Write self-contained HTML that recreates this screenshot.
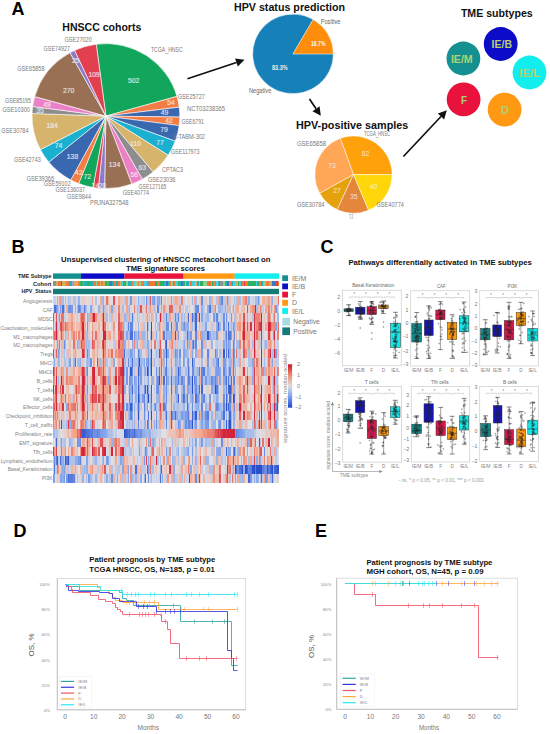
<!DOCTYPE html>
<html><head><meta charset="utf-8"><style>
html,body{margin:0;padding:0;background:#fff;}
svg{display:block;font-family:"Liberation Sans", sans-serif;}
</style></head><body>
<svg width="550" height="734" viewBox="0 0 550 734">
<rect width="550" height="734" fill="#fff"/>
<text x="11.50" y="15.20" font-size="18" fill="#000" font-weight="bold">A</text>
<text x="11.50" y="252.50" font-size="18" fill="#000" font-weight="bold">B</text>
<text x="320.50" y="253.20" font-size="18" fill="#000" font-weight="bold">C</text>
<text x="13.50" y="536.80" font-size="18" fill="#000" font-weight="bold">D</text>
<text x="315.00" y="536.80" font-size="18" fill="#000" font-weight="bold">E</text>
<text x="62.30" y="31.00" font-size="10.7" fill="#111" font-weight="bold" textLength="79.00" lengthAdjust="spacingAndGlyphs">HNSCC cohorts</text>
<path d="M105.90,116.10L177.01,96.38A73.9,72.5 0 0 0 96.25,44.22Z" fill="#12a65c" stroke="#fff" stroke-width="0.6" stroke-linejoin="round"/>
<path d="M105.90,116.10L179.23,107.14A73.9,72.5 0 0 0 177.01,96.38Z" fill="#f47c45" stroke="#fff" stroke-width="0.6" stroke-linejoin="round"/>
<path d="M105.90,116.10L179.79,117.09A73.9,72.5 0 0 0 179.23,107.14Z" fill="#3a68b0" stroke="#fff" stroke-width="0.6" stroke-linejoin="round"/>
<path d="M105.90,116.10L179.16,125.61A73.9,72.5 0 0 0 179.79,117.09Z" fill="#f47c45" stroke="#fff" stroke-width="0.6" stroke-linejoin="round"/>
<path d="M105.90,116.10L175.23,141.19A73.9,72.5 0 0 0 179.16,125.61Z" fill="#3a68b0" stroke="#fff" stroke-width="0.6" stroke-linejoin="round"/>
<path d="M105.90,116.10L168.13,155.20A73.9,72.5 0 0 0 175.23,141.19Z" fill="#1ab0d0" stroke="#fff" stroke-width="0.6" stroke-linejoin="round"/>
<path d="M105.90,116.10L153.08,171.90A73.9,72.5 0 0 0 168.13,155.20Z" fill="#d6b46c" stroke="#fff" stroke-width="0.6" stroke-linejoin="round"/>
<path d="M105.90,116.10L142.33,179.18A73.9,72.5 0 0 0 153.08,171.90Z" fill="#8d8d8d" stroke="#fff" stroke-width="0.6" stroke-linejoin="round"/>
<path d="M105.90,116.10L131.82,184.00A73.9,72.5 0 0 0 142.33,179.18Z" fill="#ec80c6" stroke="#fff" stroke-width="0.6" stroke-linejoin="round"/>
<path d="M105.90,116.10L104.58,188.59A73.9,72.5 0 0 0 131.82,184.00Z" fill="#9a7055" stroke="#fff" stroke-width="0.6" stroke-linejoin="round"/>
<path d="M105.90,116.10L98.37,188.22A73.9,72.5 0 0 0 104.58,188.59Z" fill="#8c7ac8" stroke="#fff" stroke-width="0.6" stroke-linejoin="round"/>
<path d="M105.90,116.10L93.02,187.49A73.9,72.5 0 0 0 98.37,188.22Z" fill="#e2404e" stroke="#fff" stroke-width="0.6" stroke-linejoin="round"/>
<path d="M105.90,116.10L78.68,183.50A73.9,72.5 0 0 0 93.02,187.49Z" fill="#12a65c" stroke="#fff" stroke-width="0.6" stroke-linejoin="round"/>
<path d="M105.90,116.10L70.78,179.89A73.9,72.5 0 0 0 78.68,183.50Z" fill="#f47c45" stroke="#fff" stroke-width="0.6" stroke-linejoin="round"/>
<path d="M105.90,116.10L48.82,162.15A73.9,72.5 0 0 0 70.78,179.89Z" fill="#3a68b0" stroke="#fff" stroke-width="0.6" stroke-linejoin="round"/>
<path d="M105.90,116.10L40.37,149.61A73.9,72.5 0 0 0 48.82,162.15Z" fill="#1ab0d0" stroke="#fff" stroke-width="0.6" stroke-linejoin="round"/>
<path d="M105.90,116.10L32.05,113.48A73.9,72.5 0 0 0 40.37,149.61Z" fill="#d6b46c" stroke="#fff" stroke-width="0.6" stroke-linejoin="round"/>
<path d="M105.90,116.10L32.67,106.38A73.9,72.5 0 0 0 32.05,113.48Z" fill="#8d8d8d" stroke="#fff" stroke-width="0.6" stroke-linejoin="round"/>
<path d="M105.90,116.10L34.72,96.62A73.9,72.5 0 0 0 32.67,106.38Z" fill="#ec80c6" stroke="#fff" stroke-width="0.6" stroke-linejoin="round"/>
<path d="M105.90,116.10L70.01,52.72A73.9,72.5 0 0 0 34.72,96.62Z" fill="#9a7055" stroke="#fff" stroke-width="0.6" stroke-linejoin="round"/>
<path d="M105.90,116.10L74.63,50.41A73.9,72.5 0 0 0 70.01,52.72Z" fill="#8c7ac8" stroke="#fff" stroke-width="0.6" stroke-linejoin="round"/>
<path d="M105.90,116.10L96.25,44.22A73.9,72.5 0 0 0 74.63,50.41Z" fill="#e2404e" stroke="#fff" stroke-width="0.6" stroke-linejoin="round"/>
<text x="133.70" y="82.70" font-size="6.8" fill="#f4f4f4" text-anchor="middle" opacity="0.85" stroke="#f4f4f4" stroke-width="0.15">502</text>
<text x="171.00" y="105.10" font-size="6.8" fill="#f4f4f4" text-anchor="middle" opacity="0.85" stroke="#f4f4f4" stroke-width="0.15">54</text>
<text x="164.50" y="115.40" font-size="6.8" fill="#f4f4f4" text-anchor="middle" opacity="0.85" stroke="#f4f4f4" stroke-width="0.15">49</text>
<text x="169.00" y="123.40" font-size="6.8" fill="#f4f4f4" text-anchor="middle" opacity="0.85" stroke="#f4f4f4" stroke-width="0.15">42</text>
<text x="164.00" y="132.40" font-size="6.8" fill="#f4f4f4" text-anchor="middle" opacity="0.85" stroke="#f4f4f4" stroke-width="0.15">79</text>
<text x="160.00" y="145.40" font-size="6.8" fill="#f4f4f4" text-anchor="middle" opacity="0.85" stroke="#f4f4f4" stroke-width="0.15">77</text>
<text x="135.50" y="146.00" font-size="6.8" fill="#f4f4f4" text-anchor="middle" opacity="0.85" stroke="#f4f4f4" stroke-width="0.15">110</text>
<text x="142.20" y="169.70" font-size="6.8" fill="#f4f4f4" text-anchor="middle" opacity="0.85" stroke="#f4f4f4" stroke-width="0.15">63</text>
<text x="134.20" y="176.90" font-size="6.8" fill="#f4f4f4" text-anchor="middle" opacity="0.85" stroke="#f4f4f4" stroke-width="0.15">56</text>
<text x="114.50" y="166.90" font-size="6.8" fill="#f4f4f4" text-anchor="middle" opacity="0.85" stroke="#f4f4f4" stroke-width="0.15">134</text>
<text x="102.30" y="188.40" font-size="6.8" fill="#f4f4f4" text-anchor="middle" opacity="0.85" stroke="#f4f4f4" stroke-width="0.15">28</text>
<text x="95.40" y="188.40" font-size="6.8" fill="#f4f4f4" text-anchor="middle" opacity="0.85" stroke="#f4f4f4" stroke-width="0.15">24</text>
<text x="87.30" y="179.20" font-size="6.8" fill="#f4f4f4" text-anchor="middle" opacity="0.85" stroke="#f4f4f4" stroke-width="0.15">72</text>
<text x="78.90" y="174.90" font-size="6.8" fill="#f4f4f4" text-anchor="middle" opacity="0.85" stroke="#f4f4f4" stroke-width="0.15">42</text>
<text x="72.50" y="158.90" font-size="6.8" fill="#f4f4f4" text-anchor="middle" opacity="0.85" stroke="#f4f4f4" stroke-width="0.15">138</text>
<text x="58.50" y="148.20" font-size="6.8" fill="#f4f4f4" text-anchor="middle" opacity="0.85" stroke="#f4f4f4" stroke-width="0.15">74</text>
<text x="52.20" y="127.80" font-size="6.8" fill="#f4f4f4" text-anchor="middle" opacity="0.85" stroke="#f4f4f4" stroke-width="0.15">184</text>
<text x="40.00" y="112.60" font-size="6.8" fill="#f4f4f4" text-anchor="middle" opacity="0.85" stroke="#f4f4f4" stroke-width="0.15">35</text>
<text x="47.00" y="106.70" font-size="6.8" fill="#f4f4f4" text-anchor="middle" opacity="0.85" stroke="#f4f4f4" stroke-width="0.15">49</text>
<text x="68.70" y="92.70" font-size="6.8" fill="#f4f4f4" text-anchor="middle" opacity="0.85" stroke="#f4f4f4" stroke-width="0.15">270</text>
<text x="75.80" y="63.40" font-size="6.8" fill="#f4f4f4" text-anchor="middle" opacity="0.85" stroke="#f4f4f4" stroke-width="0.15">25</text>
<text x="94.10" y="77.40" font-size="6.8" fill="#f4f4f4" text-anchor="middle" opacity="0.85" stroke="#f4f4f4" stroke-width="0.15">109</text>
<text x="64.50" y="41.80" font-size="6.6" fill="#7a7a7a" textLength="27.30" lengthAdjust="spacingAndGlyphs">GSE27020</text>
<text x="43.60" y="51.00" font-size="6.6" fill="#7a7a7a" textLength="26.40" lengthAdjust="spacingAndGlyphs">GSE74927</text>
<text x="17.30" y="71.00" font-size="6.6" fill="#7a7a7a" textLength="27.20" lengthAdjust="spacingAndGlyphs">GSE65858</text>
<text x="5.00" y="102.80" font-size="6.6" fill="#7a7a7a" textLength="26.00" lengthAdjust="spacingAndGlyphs">GSE85195</text>
<text x="2.50" y="112.30" font-size="6.6" fill="#7a7a7a" textLength="27.50" lengthAdjust="spacingAndGlyphs">GSE10300</text>
<text x="1.30" y="133.30" font-size="6.6" fill="#7a7a7a" textLength="27.20" lengthAdjust="spacingAndGlyphs">GSE30784</text>
<text x="14.00" y="162.30" font-size="6.6" fill="#7a7a7a" textLength="26.70" lengthAdjust="spacingAndGlyphs">GSE42743</text>
<text x="26.70" y="181.30" font-size="6.6" fill="#7a7a7a" textLength="27.30" lengthAdjust="spacingAndGlyphs">GSE39366</text>
<text x="43.80" y="186.30" font-size="6.6" fill="#7a7a7a" textLength="26.90" lengthAdjust="spacingAndGlyphs">GSE59102</text>
<text x="55.50" y="192.30" font-size="6.6" fill="#7a7a7a" textLength="29.50" lengthAdjust="spacingAndGlyphs">GSE136037</text>
<text x="67.00" y="199.30" font-size="6.6" fill="#7a7a7a" textLength="24.00" lengthAdjust="spacingAndGlyphs">GSE9844</text>
<text x="90.00" y="204.80" font-size="6.6" fill="#7a7a7a" textLength="38.50" lengthAdjust="spacingAndGlyphs">PRJNA327548</text>
<text x="150.90" y="51.90" font-size="6.6" fill="#7a7a7a" textLength="31.90" lengthAdjust="spacingAndGlyphs">TCGA_HNSC</text>
<text x="177.80" y="99.00" font-size="6.6" fill="#7a7a7a" textLength="27.00" lengthAdjust="spacingAndGlyphs">GSE25727</text>
<text x="187.00" y="111.30" font-size="6.6" fill="#7a7a7a" textLength="38.00" lengthAdjust="spacingAndGlyphs">NCT03238365</text>
<text x="181.50" y="123.60" font-size="6.6" fill="#7a7a7a" textLength="22.50" lengthAdjust="spacingAndGlyphs">GSE6791</text>
<text x="173.00" y="139.00" font-size="6.6" fill="#7a7a7a" textLength="32.00" lengthAdjust="spacingAndGlyphs">E-TABM-302</text>
<text x="171.00" y="154.30" font-size="6.6" fill="#7a7a7a" textLength="28.40" lengthAdjust="spacingAndGlyphs">GSE117973</text>
<text x="162.00" y="171.70" font-size="6.6" fill="#7a7a7a" textLength="21.00" lengthAdjust="spacingAndGlyphs">CPTAC3</text>
<text x="148.00" y="181.50" font-size="6.6" fill="#7a7a7a" textLength="27.40" lengthAdjust="spacingAndGlyphs">GSE23036</text>
<text x="138.60" y="189.30" font-size="6.6" fill="#7a7a7a" textLength="27.70" lengthAdjust="spacingAndGlyphs">GSE127165</text>
<text x="122.70" y="195.00" font-size="6.6" fill="#7a7a7a" textLength="26.30" lengthAdjust="spacingAndGlyphs">GSE40774</text>
<line x1="187.5" y1="78.8" x2="236.44" y2="62.49" stroke="#111" stroke-width="1.7"/><path d="M244.5,59.8L237.80,66.57L235.08,58.41Z" fill="#111"/>
<line x1="309.5" y1="99.0" x2="316.06" y2="108.75" stroke="#111" stroke-width="1.7"/><path d="M320.8,115.8L312.49,111.15L319.62,106.35Z" fill="#111"/>
<line x1="403.4" y1="156.5" x2="440.98" y2="116.50" stroke="#111" stroke-width="1.7"/><path d="M446.8,110.3L444.11,119.44L437.85,113.55Z" fill="#111"/>
<text x="234.00" y="11.10" font-size="10.7" fill="#111" font-weight="bold" textLength="111.00" lengthAdjust="spacingAndGlyphs">HPV status prediction</text>
<path d="M293.00,53.90L313.15,19.52A40.3,39.7 0 1 0 333.30,53.90Z" fill="#1680b8" stroke="#fff" stroke-width="0.4" stroke-linejoin="round"/>
<path d="M293.00,53.90L333.30,53.90A40.3,39.7 0 0 0 313.15,19.52Z" fill="#ff8c0a" stroke="#fff" stroke-width="0.4" stroke-linejoin="round"/>
<text x="320.70" y="24.00" font-size="6.6" fill="#666" textLength="19.80" lengthAdjust="spacingAndGlyphs">Positive</text>
<text x="311.00" y="45.80" font-size="6.4" fill="#f8f8f8" font-weight="bold" textLength="14.40" lengthAdjust="spacingAndGlyphs">16.7%</text>
<text x="272.00" y="69.70" font-size="6.4" fill="#eeeeee" font-weight="bold" textLength="15.60" lengthAdjust="spacingAndGlyphs">83.3%</text>
<text x="249.00" y="92.90" font-size="6.6" fill="#666" textLength="22.30" lengthAdjust="spacingAndGlyphs">Negative</text>
<text x="296.00" y="128.50" font-size="10.7" fill="#111" font-weight="bold" textLength="112.30" lengthAdjust="spacingAndGlyphs">HPV-positive samples</text>
<path d="M353.50,174.60L392.10,174.60A38.6,38.6 0 0 0 340.30,138.33Z" fill="#ffa10a" stroke="#fff" stroke-width="0.5" stroke-linejoin="round"/>
<path d="M353.50,174.60L340.30,138.33A38.6,38.6 0 0 0 319.74,193.31Z" fill="#ffa657" stroke="#fff" stroke-width="0.5" stroke-linejoin="round"/>
<path d="M353.50,174.60L319.74,193.31A38.6,38.6 0 0 0 337.19,209.58Z" fill="#e6a20c" stroke="#fff" stroke-width="0.5" stroke-linejoin="round"/>
<path d="M353.50,174.60L337.19,209.58A38.6,38.6 0 0 0 368.58,210.13Z" fill="#e4873a" stroke="#fff" stroke-width="0.5" stroke-linejoin="round"/>
<path d="M353.50,174.60L368.58,210.13A38.6,38.6 0 0 0 392.10,174.60Z" fill="#ffd60a" stroke="#fff" stroke-width="0.5" stroke-linejoin="round"/>
<text x="365.50" y="156.40" font-size="6.8" fill="#f6f6f6" text-anchor="middle" opacity="0.8">82</text>
<text x="332.00" y="167.90" font-size="6.8" fill="#f6f6f6" text-anchor="middle" opacity="0.8">73</text>
<text x="337.00" y="192.90" font-size="6.8" fill="#f6f6f6" text-anchor="middle" opacity="0.8">27</text>
<text x="353.70" y="199.20" font-size="6.8" fill="#f6f6f6" text-anchor="middle" opacity="0.8">35</text>
<text x="373.60" y="189.10" font-size="6.8" fill="#f6f6f6" text-anchor="middle" opacity="0.8">40</text>
<text x="364.00" y="135.70" font-size="6.6" fill="#7a7a7a" textLength="26.00" lengthAdjust="spacingAndGlyphs">TCGA_HNSC</text>
<text x="297.00" y="146.00" font-size="6.6" fill="#7a7a7a" textLength="29.00" lengthAdjust="spacingAndGlyphs">GSE65858</text>
<text x="297.00" y="207.40" font-size="6.6" fill="#7a7a7a" textLength="27.50" lengthAdjust="spacingAndGlyphs">GSE30784</text>
<text x="349.00" y="219.10" font-size="6.6" fill="#7a7a7a" textLength="4.00" lengthAdjust="spacingAndGlyphs">TJ</text>
<text x="376.40" y="207.40" font-size="6.6" fill="#7a7a7a" textLength="27.60" lengthAdjust="spacingAndGlyphs">GSE40774</text>
<text x="460.90" y="16.70" font-size="10.7" fill="#111" font-weight="bold" textLength="71.80" lengthAdjust="spacingAndGlyphs">TME subtypes</text>
<circle cx="463.4" cy="58.5" r="16.9" fill="#13908f"/>
<text x="450.90" y="62.95" font-size="11" fill="#b2d072" font-weight="bold" textLength="21.80" lengthAdjust="spacingAndGlyphs">IE/M</text>
<circle cx="500.7" cy="44" r="16.9" fill="#0c0cc8"/>
<text x="491.60" y="47.65" font-size="11" fill="#b2d072" font-weight="bold" textLength="20.40" lengthAdjust="spacingAndGlyphs">IE/B</text>
<circle cx="529.5" cy="72.5" r="16.9" fill="#12eeee"/>
<text x="519.30" y="76.75" font-size="11" fill="#b2d072" font-weight="bold" textLength="20.40" lengthAdjust="spacingAndGlyphs">IE/L</text>
<circle cx="463.6" cy="99.4" r="16.9" fill="#e8123c"/>
<text x="461.00" y="103.95" font-size="11" fill="#b2d072" font-weight="bold" textLength="6.00" lengthAdjust="spacingAndGlyphs">F</text>
<circle cx="504.6" cy="109.6" r="16.9" fill="#ff9812"/>
<text x="501.00" y="113.95" font-size="11" fill="#b2d072" font-weight="bold" textLength="8.00" lengthAdjust="spacingAndGlyphs">D</text>
<text x="61.10" y="261.50" font-size="7.7" fill="#111" font-weight="bold" textLength="209.40" lengthAdjust="spacingAndGlyphs">Unsupervised clustering of HNSCC metacohort based on</text>
<text x="126.00" y="270.50" font-size="7.7" fill="#111" font-weight="bold" textLength="79.00" lengthAdjust="spacingAndGlyphs">TME signature scores</text>
<rect x="53" y="273.4" width="28.05" height="5.4" fill="#13908f"/>
<rect x="81" y="273.4" width="43.45" height="5.4" fill="#0c0cc8"/>
<rect x="124.4" y="273.4" width="59.25" height="5.4" fill="#e8123c"/>
<rect x="183.6" y="273.4" width="51.15" height="5.4" fill="#ff9812"/>
<rect x="234.7" y="273.4" width="44.35" height="5.4" fill="#12eeee"/>
<rect x="53.00" y="281.0" width="3.05" height="5.3" fill="#909090" shape-rendering="crispEdges"/><rect x="56.00" y="281.0" width="2.05" height="5.3" fill="#c8b060" shape-rendering="crispEdges"/><rect x="58.00" y="281.0" width="3.05" height="5.3" fill="#f07a3a" shape-rendering="crispEdges"/><rect x="61.00" y="281.0" width="1.05" height="5.3" fill="#3a78c0" shape-rendering="crispEdges"/><rect x="62.00" y="281.0" width="3.05" height="5.3" fill="#c8b060" shape-rendering="crispEdges"/><rect x="65.00" y="281.0" width="1.05" height="5.3" fill="#c8b060" shape-rendering="crispEdges"/><rect x="66.00" y="281.0" width="1.05" height="5.3" fill="#f07a3a" shape-rendering="crispEdges"/><rect x="67.00" y="281.0" width="2.05" height="5.3" fill="#f07a3a" shape-rendering="crispEdges"/><rect x="69.00" y="281.0" width="2.05" height="5.3" fill="#20b0b8" shape-rendering="crispEdges"/><rect x="71.00" y="281.0" width="1.05" height="5.3" fill="#20b0b8" shape-rendering="crispEdges"/><rect x="72.00" y="281.0" width="2.05" height="5.3" fill="#a0a0d0" shape-rendering="crispEdges"/><rect x="74.00" y="281.0" width="2.05" height="5.3" fill="#c8b060" shape-rendering="crispEdges"/><rect x="76.00" y="281.0" width="2.05" height="5.3" fill="#f8a060" shape-rendering="crispEdges"/><rect x="78.00" y="281.0" width="2.05" height="5.3" fill="#f07a3a" shape-rendering="crispEdges"/><rect x="80.00" y="281.0" width="3.05" height="5.3" fill="#30b060" shape-rendering="crispEdges"/><rect x="83.00" y="281.0" width="1.05" height="5.3" fill="#f07a3a" shape-rendering="crispEdges"/><rect x="84.00" y="281.0" width="2.05" height="5.3" fill="#20b0b8" shape-rendering="crispEdges"/><rect x="86.00" y="281.0" width="1.05" height="5.3" fill="#20b0b8" shape-rendering="crispEdges"/><rect x="87.00" y="281.0" width="3.05" height="5.3" fill="#30b060" shape-rendering="crispEdges"/><rect x="90.00" y="281.0" width="3.05" height="5.3" fill="#20b0b8" shape-rendering="crispEdges"/><rect x="93.00" y="281.0" width="1.05" height="5.3" fill="#f07a3a" shape-rendering="crispEdges"/><rect x="94.00" y="281.0" width="2.05" height="5.3" fill="#f07a3a" shape-rendering="crispEdges"/><rect x="96.00" y="281.0" width="1.05" height="5.3" fill="#8cd08c" shape-rendering="crispEdges"/><rect x="97.00" y="281.0" width="1.05" height="5.3" fill="#f07a3a" shape-rendering="crispEdges"/><rect x="98.00" y="281.0" width="2.05" height="5.3" fill="#f07a3a" shape-rendering="crispEdges"/><rect x="100.00" y="281.0" width="1.05" height="5.3" fill="#c8b060" shape-rendering="crispEdges"/><rect x="101.00" y="281.0" width="2.05" height="5.3" fill="#f07a3a" shape-rendering="crispEdges"/><rect x="103.00" y="281.0" width="1.05" height="5.3" fill="#e88ac0" shape-rendering="crispEdges"/><rect x="104.00" y="281.0" width="1.05" height="5.3" fill="#c8b060" shape-rendering="crispEdges"/><rect x="105.00" y="281.0" width="2.05" height="5.3" fill="#30b060" shape-rendering="crispEdges"/><rect x="107.00" y="281.0" width="1.05" height="5.3" fill="#f07a3a" shape-rendering="crispEdges"/><rect x="108.00" y="281.0" width="2.05" height="5.3" fill="#30b060" shape-rendering="crispEdges"/><rect x="110.00" y="281.0" width="2.05" height="5.3" fill="#3a78c0" shape-rendering="crispEdges"/><rect x="112.00" y="281.0" width="2.05" height="5.3" fill="#20b0b8" shape-rendering="crispEdges"/><rect x="114.00" y="281.0" width="2.05" height="5.3" fill="#f07a3a" shape-rendering="crispEdges"/><rect x="116.00" y="281.0" width="2.05" height="5.3" fill="#20b0b8" shape-rendering="crispEdges"/><rect x="118.00" y="281.0" width="2.05" height="5.3" fill="#f07a3a" shape-rendering="crispEdges"/><rect x="120.00" y="281.0" width="1.05" height="5.3" fill="#c8b060" shape-rendering="crispEdges"/><rect x="121.00" y="281.0" width="2.05" height="5.3" fill="#40d0e0" shape-rendering="crispEdges"/><rect x="123.00" y="281.0" width="1.05" height="5.3" fill="#30b060" shape-rendering="crispEdges"/><rect x="124.00" y="281.0" width="2.05" height="5.3" fill="#30b060" shape-rendering="crispEdges"/><rect x="126.00" y="281.0" width="2.05" height="5.3" fill="#8cd08c" shape-rendering="crispEdges"/><rect x="128.00" y="281.0" width="3.05" height="5.3" fill="#20b0b8" shape-rendering="crispEdges"/><rect x="131.00" y="281.0" width="1.05" height="5.3" fill="#f07a3a" shape-rendering="crispEdges"/><rect x="132.00" y="281.0" width="1.05" height="5.3" fill="#f07a3a" shape-rendering="crispEdges"/><rect x="133.00" y="281.0" width="2.05" height="5.3" fill="#40d0e0" shape-rendering="crispEdges"/><rect x="135.00" y="281.0" width="3.05" height="5.3" fill="#8cd08c" shape-rendering="crispEdges"/><rect x="138.00" y="281.0" width="1.05" height="5.3" fill="#f07a3a" shape-rendering="crispEdges"/><rect x="139.00" y="281.0" width="2.05" height="5.3" fill="#8cd08c" shape-rendering="crispEdges"/><rect x="141.00" y="281.0" width="3.05" height="5.3" fill="#f07a3a" shape-rendering="crispEdges"/><rect x="144.00" y="281.0" width="3.05" height="5.3" fill="#40d0e0" shape-rendering="crispEdges"/><rect x="147.00" y="281.0" width="3.05" height="5.3" fill="#909090" shape-rendering="crispEdges"/><rect x="150.00" y="281.0" width="3.05" height="5.3" fill="#f07a3a" shape-rendering="crispEdges"/><rect x="153.00" y="281.0" width="2.05" height="5.3" fill="#f07a3a" shape-rendering="crispEdges"/><rect x="155.00" y="281.0" width="2.05" height="5.3" fill="#30b060" shape-rendering="crispEdges"/><rect x="157.00" y="281.0" width="3.05" height="5.3" fill="#f07a3a" shape-rendering="crispEdges"/><rect x="160.00" y="281.0" width="1.05" height="5.3" fill="#30b060" shape-rendering="crispEdges"/><rect x="161.00" y="281.0" width="3.05" height="5.3" fill="#30b060" shape-rendering="crispEdges"/><rect x="164.00" y="281.0" width="1.05" height="5.3" fill="#20b0b8" shape-rendering="crispEdges"/><rect x="165.00" y="281.0" width="1.05" height="5.3" fill="#f07a3a" shape-rendering="crispEdges"/><rect x="166.00" y="281.0" width="2.05" height="5.3" fill="#3a78c0" shape-rendering="crispEdges"/><rect x="168.00" y="281.0" width="1.05" height="5.3" fill="#20b0b8" shape-rendering="crispEdges"/><rect x="169.00" y="281.0" width="2.05" height="5.3" fill="#f07a3a" shape-rendering="crispEdges"/><rect x="171.00" y="281.0" width="2.05" height="5.3" fill="#8cd08c" shape-rendering="crispEdges"/><rect x="173.00" y="281.0" width="1.05" height="5.3" fill="#20b0b8" shape-rendering="crispEdges"/><rect x="174.00" y="281.0" width="1.05" height="5.3" fill="#f07a3a" shape-rendering="crispEdges"/><rect x="175.00" y="281.0" width="3.05" height="5.3" fill="#40d0e0" shape-rendering="crispEdges"/><rect x="178.00" y="281.0" width="1.05" height="5.3" fill="#30b060" shape-rendering="crispEdges"/><rect x="179.00" y="281.0" width="2.05" height="5.3" fill="#20b0b8" shape-rendering="crispEdges"/><rect x="181.00" y="281.0" width="2.05" height="5.3" fill="#3a78c0" shape-rendering="crispEdges"/><rect x="183.00" y="281.0" width="2.05" height="5.3" fill="#30b060" shape-rendering="crispEdges"/><rect x="185.00" y="281.0" width="1.05" height="5.3" fill="#8cd08c" shape-rendering="crispEdges"/><rect x="186.00" y="281.0" width="3.05" height="5.3" fill="#20b0b8" shape-rendering="crispEdges"/><rect x="189.00" y="281.0" width="1.05" height="5.3" fill="#c8b060" shape-rendering="crispEdges"/><rect x="190.00" y="281.0" width="2.05" height="5.3" fill="#f07a3a" shape-rendering="crispEdges"/><rect x="192.00" y="281.0" width="3.05" height="5.3" fill="#40d0e0" shape-rendering="crispEdges"/><rect x="195.00" y="281.0" width="1.05" height="5.3" fill="#8cd08c" shape-rendering="crispEdges"/><rect x="196.00" y="281.0" width="1.05" height="5.3" fill="#c8b060" shape-rendering="crispEdges"/><rect x="197.00" y="281.0" width="2.05" height="5.3" fill="#20b0b8" shape-rendering="crispEdges"/><rect x="199.00" y="281.0" width="1.05" height="5.3" fill="#c8b060" shape-rendering="crispEdges"/><rect x="200.00" y="281.0" width="3.05" height="5.3" fill="#30b060" shape-rendering="crispEdges"/><rect x="203.00" y="281.0" width="1.05" height="5.3" fill="#c8b060" shape-rendering="crispEdges"/><rect x="204.00" y="281.0" width="3.05" height="5.3" fill="#8cd08c" shape-rendering="crispEdges"/><rect x="207.00" y="281.0" width="2.05" height="5.3" fill="#f07a3a" shape-rendering="crispEdges"/><rect x="209.00" y="281.0" width="1.05" height="5.3" fill="#20b0b8" shape-rendering="crispEdges"/><rect x="210.00" y="281.0" width="1.05" height="5.3" fill="#f07a3a" shape-rendering="crispEdges"/><rect x="211.00" y="281.0" width="1.05" height="5.3" fill="#40d0e0" shape-rendering="crispEdges"/><rect x="212.00" y="281.0" width="1.05" height="5.3" fill="#30b060" shape-rendering="crispEdges"/><rect x="213.00" y="281.0" width="3.05" height="5.3" fill="#f07a3a" shape-rendering="crispEdges"/><rect x="216.00" y="281.0" width="1.05" height="5.3" fill="#40d0e0" shape-rendering="crispEdges"/><rect x="217.00" y="281.0" width="1.05" height="5.3" fill="#f8a060" shape-rendering="crispEdges"/><rect x="218.00" y="281.0" width="2.05" height="5.3" fill="#20b0b8" shape-rendering="crispEdges"/><rect x="220.00" y="281.0" width="3.05" height="5.3" fill="#909090" shape-rendering="crispEdges"/><rect x="223.00" y="281.0" width="2.05" height="5.3" fill="#8cd08c" shape-rendering="crispEdges"/><rect x="225.00" y="281.0" width="2.05" height="5.3" fill="#20b0b8" shape-rendering="crispEdges"/><rect x="227.00" y="281.0" width="2.05" height="5.3" fill="#3a78c0" shape-rendering="crispEdges"/><rect x="229.00" y="281.0" width="1.05" height="5.3" fill="#40d0e0" shape-rendering="crispEdges"/><rect x="230.00" y="281.0" width="2.05" height="5.3" fill="#f07a3a" shape-rendering="crispEdges"/><rect x="232.00" y="281.0" width="1.05" height="5.3" fill="#20b0b8" shape-rendering="crispEdges"/><rect x="233.00" y="281.0" width="2.05" height="5.3" fill="#40d0e0" shape-rendering="crispEdges"/><rect x="235.00" y="281.0" width="2.05" height="5.3" fill="#c8b060" shape-rendering="crispEdges"/><rect x="237.00" y="281.0" width="1.05" height="5.3" fill="#8cd08c" shape-rendering="crispEdges"/><rect x="238.00" y="281.0" width="1.05" height="5.3" fill="#30b060" shape-rendering="crispEdges"/><rect x="239.00" y="281.0" width="2.05" height="5.3" fill="#40d0e0" shape-rendering="crispEdges"/><rect x="241.00" y="281.0" width="1.05" height="5.3" fill="#20b0b8" shape-rendering="crispEdges"/><rect x="242.00" y="281.0" width="1.05" height="5.3" fill="#f07a3a" shape-rendering="crispEdges"/><rect x="243.00" y="281.0" width="1.05" height="5.3" fill="#f07a3a" shape-rendering="crispEdges"/><rect x="244.00" y="281.0" width="1.05" height="5.3" fill="#e2404e" shape-rendering="crispEdges"/><rect x="245.00" y="281.0" width="3.05" height="5.3" fill="#f07a3a" shape-rendering="crispEdges"/><rect x="248.00" y="281.0" width="3.05" height="5.3" fill="#30b060" shape-rendering="crispEdges"/><rect x="251.00" y="281.0" width="3.05" height="5.3" fill="#30b060" shape-rendering="crispEdges"/><rect x="254.00" y="281.0" width="2.05" height="5.3" fill="#30b060" shape-rendering="crispEdges"/><rect x="256.00" y="281.0" width="1.05" height="5.3" fill="#40d0e0" shape-rendering="crispEdges"/><rect x="257.00" y="281.0" width="1.05" height="5.3" fill="#20b0b8" shape-rendering="crispEdges"/><rect x="258.00" y="281.0" width="1.05" height="5.3" fill="#30b060" shape-rendering="crispEdges"/><rect x="259.00" y="281.0" width="2.05" height="5.3" fill="#f07a3a" shape-rendering="crispEdges"/><rect x="261.00" y="281.0" width="2.05" height="5.3" fill="#20b0b8" shape-rendering="crispEdges"/><rect x="263.00" y="281.0" width="1.05" height="5.3" fill="#c8b060" shape-rendering="crispEdges"/><rect x="264.00" y="281.0" width="2.05" height="5.3" fill="#8cd08c" shape-rendering="crispEdges"/><rect x="266.00" y="281.0" width="3.05" height="5.3" fill="#f07a3a" shape-rendering="crispEdges"/><rect x="269.00" y="281.0" width="3.05" height="5.3" fill="#c8b060" shape-rendering="crispEdges"/><rect x="272.00" y="281.0" width="3.05" height="5.3" fill="#3a78c0" shape-rendering="crispEdges"/><rect x="275.00" y="281.0" width="3.05" height="5.3" fill="#e2404e" shape-rendering="crispEdges"/><rect x="278.00" y="281.0" width="1.05" height="5.3" fill="#f07a3a" shape-rendering="crispEdges"/>
<rect x="53.0" y="288.8" width="226.0" height="5.4" fill="#137a78"/>
<path fill="#d4d9e5" shape-rendering="crispEdges" d="M53 295.60h1v8.91h-1zM66 295.60h2v8.91h-2zM76 295.60h1v8.91h-1zM80 295.60h1v8.91h-1zM90 295.60h2v8.91h-2zM128 295.60h1v8.91h-1zM172 295.60h1v8.91h-1zM193 295.60h1v8.91h-1zM207 295.60h2v8.91h-2zM213 295.60h2v8.91h-2zM231 295.60h2v8.91h-2zM241 295.60h1v8.91h-1zM250 295.60h2v8.91h-2zM254 295.60h1v8.91h-1zM273 295.60h1v8.91h-1zM53 304.51h1v8.91h-1zM73 304.51h2v8.91h-2zM76 304.51h1v8.91h-1zM88 304.51h2v8.91h-2zM97 304.51h1v8.91h-1zM108 304.51h1v8.91h-1zM117 304.51h1v8.91h-1zM162 304.51h1v8.91h-1zM193 304.51h1v8.91h-1zM234 304.51h1v8.91h-1zM278 304.51h1v8.91h-1zM78 313.42h2v8.91h-2zM138 313.42h1v8.91h-1zM157 313.42h2v8.91h-2zM200 313.42h1v8.91h-1zM248 313.42h2v8.91h-2zM265 313.42h2v8.91h-2zM272 313.42h1v8.91h-1zM54 322.33h1v8.91h-1zM139 322.33h1v8.91h-1zM149 322.33h2v8.91h-2zM161 322.33h1v8.91h-1zM169 322.33h2v8.91h-2zM178 322.33h1v8.91h-1zM207 322.33h2v8.91h-2zM221 322.33h2v8.91h-2zM252 322.33h2v8.91h-2zM59 331.24h1v8.91h-1zM157 331.24h2v8.91h-2zM193 331.24h1v8.91h-1zM272 331.24h1v8.91h-1zM117 340.15h1v8.91h-1zM138 340.15h1v8.91h-1zM241 340.15h1v8.91h-1zM262 340.15h2v8.91h-2zM60 349.06h1v8.91h-1zM142 349.06h2v8.91h-2zM152 349.06h3v8.91h-3zM189 349.06h1v8.91h-1zM203 349.06h2v8.91h-2zM211 349.06h2v8.91h-2zM235 349.06h1v8.91h-1zM242 349.06h1v8.91h-1zM262 349.06h2v8.91h-2zM84 357.97h1v8.91h-1zM185 357.97h2v8.91h-2zM190 357.97h2v8.91h-2zM200 357.97h1v8.91h-1zM219 357.97h2v8.91h-2zM241 357.97h1v8.91h-1zM262 357.97h2v8.91h-2zM265 357.97h2v8.91h-2zM149 366.88h1v8.91h-1zM154 366.88h1v8.91h-1zM162 366.88h1v8.91h-1zM190 366.88h2v8.91h-2zM59 375.79h1v8.91h-1zM142 375.79h2v8.91h-2zM265 375.79h2v8.91h-2zM65 384.70h1v8.91h-1zM88 384.70h2v8.91h-2zM155 384.70h1v8.91h-1zM178 384.70h3v8.91h-3zM205 384.70h2v8.91h-2zM219 384.70h2v8.91h-2zM252 384.70h2v8.91h-2zM262 384.70h2v8.91h-2zM58 393.60h1v8.91h-1zM152 393.60h2v8.91h-2zM161 393.60h1v8.91h-1zM188 393.60h1v8.91h-1zM207 393.60h2v8.91h-2zM225 393.60h1v8.91h-1zM228 393.60h1v8.91h-1zM250 393.60h2v8.91h-2zM267 393.60h1v8.91h-1zM113 402.51h2v8.91h-2zM133 402.51h1v8.91h-1zM167 402.51h2v8.91h-2zM193 402.51h1v8.91h-1zM262 402.51h2v8.91h-2zM271 402.51h1v8.91h-1zM140 411.42h2v8.91h-2zM146 411.42h1v8.91h-1zM152 411.42h2v8.91h-2zM225 411.42h1v8.91h-1zM252 411.42h2v8.91h-2zM258 411.42h1v8.91h-1zM95 420.33h2v8.91h-2zM113 420.33h2v8.91h-2zM139 420.33h1v8.91h-1zM165 420.33h1v8.91h-1zM167 420.33h2v8.91h-2zM209 420.33h2v8.91h-2zM58 429.24h1v8.91h-1zM118 429.24h6v8.91h-6zM256 429.24h3v8.91h-3zM53 438.15h1v8.91h-1zM59 438.15h1v8.91h-1zM68 438.15h1v8.91h-1zM95 438.15h2v8.91h-2zM137 438.15h1v8.91h-1zM142 438.15h2v8.91h-2zM147 438.15h1v8.91h-1zM166 438.15h3v8.91h-3zM225 438.15h1v8.91h-1zM233 438.15h1v8.91h-1zM239 438.15h2v8.91h-2zM258 438.15h1v8.91h-1zM274 438.15h1v8.91h-1zM57 447.06h1v8.91h-1zM59 447.06h1v8.91h-1zM106 447.06h2v8.91h-2zM135 447.06h2v8.91h-2zM148 447.06h3v8.91h-3zM154 447.06h1v8.91h-1zM190 447.06h2v8.91h-2zM236 447.06h1v8.91h-1zM252 447.06h2v8.91h-2zM82 455.97h2v8.91h-2zM117 455.97h1v8.91h-1zM135 455.97h2v8.91h-2zM138 455.97h1v8.91h-1zM185 455.97h2v8.91h-2zM278 455.97h1v8.91h-1zM106 464.88h2v8.91h-2zM175 464.88h1v8.91h-1zM226 464.88h1v8.91h-1zM78 473.79h2v8.91h-2zM93 473.79h2v8.91h-2zM118 473.79h2v8.91h-2zM149 473.79h1v8.91h-1zM152 473.79h2v8.91h-2zM157 473.79h2v8.91h-2zM205 473.79h2v8.91h-2zM236 473.79h1v8.91h-1zM247 473.79h1v8.91h-1z"/>
<path fill="#becae7" shape-rendering="crispEdges" d="M54 295.60h1v8.91h-1zM69 295.60h2v8.91h-2zM124 295.60h1v8.91h-1zM142 295.60h2v8.91h-2zM148 295.60h1v8.91h-1zM155 295.60h2v8.91h-2zM160 295.60h1v8.91h-1zM165 295.60h1v8.91h-1zM179 295.60h2v8.91h-2zM223 295.60h2v8.91h-2zM92 304.51h1v8.91h-1zM102 304.51h1v8.91h-1zM138 304.51h1v8.91h-1zM148 304.51h1v8.91h-1zM173 304.51h2v8.91h-2zM185 304.51h2v8.91h-2zM189 304.51h1v8.91h-1zM194 304.51h1v8.91h-1zM203 304.51h2v8.91h-2zM223 304.51h2v8.91h-2zM262 304.51h2v8.91h-2zM58 313.42h1v8.91h-1zM109 313.42h2v8.91h-2zM130 313.42h2v8.91h-2zM139 313.42h1v8.91h-1zM173 313.42h2v8.91h-2zM187 313.42h1v8.91h-1zM203 313.42h2v8.91h-2zM218 313.42h1v8.91h-1zM221 313.42h2v8.91h-2zM227 313.42h1v8.91h-1zM59 322.33h1v8.91h-1zM126 322.33h2v8.91h-2zM163 322.33h2v8.91h-2zM201 322.33h4v8.91h-4zM211 322.33h2v8.91h-2zM225 322.33h1v8.91h-1zM229 322.33h2v8.91h-2zM232 322.33h1v8.91h-1zM66 331.24h2v8.91h-2zM124 331.24h2v8.91h-2zM165 331.24h1v8.91h-1zM184 331.24h1v8.91h-1zM223 331.24h2v8.91h-2zM113 340.15h2v8.91h-2zM146 340.15h1v8.91h-1zM157 340.15h2v8.91h-2zM173 340.15h2v8.91h-2zM178 340.15h1v8.91h-1zM205 340.15h2v8.91h-2zM216 340.15h2v8.91h-2zM260 340.15h1v8.91h-1zM267 340.15h1v8.91h-1zM66 349.06h2v8.91h-2zM86 349.06h1v8.91h-1zM157 349.06h2v8.91h-2zM231 349.06h1v8.91h-1zM237 349.06h2v8.91h-2zM267 349.06h1v8.91h-1zM57 357.97h1v8.91h-1zM61 357.97h1v8.91h-1zM178 357.97h1v8.91h-1zM211 357.97h2v8.91h-2zM235 357.97h1v8.91h-1zM237 357.97h2v8.91h-2zM267 357.97h1v8.91h-1zM275 357.97h2v8.91h-2zM278 357.97h1v8.91h-1zM97 366.88h1v8.91h-1zM146 366.88h1v8.91h-1zM157 366.88h2v8.91h-2zM181 366.88h2v8.91h-2zM205 366.88h2v8.91h-2zM231 366.88h1v8.91h-1zM169 375.79h2v8.91h-2zM197 375.79h2v8.91h-2zM227 375.79h1v8.91h-1zM272 375.79h1v8.91h-1zM86 384.70h1v8.91h-1zM128 384.70h1v8.91h-1zM140 384.70h4v8.91h-4zM146 384.70h1v8.91h-1zM154 384.70h1v8.91h-1zM167 384.70h2v8.91h-2zM172 384.70h1v8.91h-1zM193 384.70h1v8.91h-1zM272 384.70h1v8.91h-1zM275 384.70h2v8.91h-2zM71 393.60h2v8.91h-2zM124 393.60h1v8.91h-1zM137 393.60h1v8.91h-1zM173 393.60h2v8.91h-2zM205 393.60h2v8.91h-2zM88 402.51h2v8.91h-2zM140 402.51h2v8.91h-2zM146 402.51h1v8.91h-1zM157 402.51h2v8.91h-2zM175 402.51h1v8.91h-1zM179 402.51h4v8.91h-4zM194 402.51h1v8.91h-1zM237 402.51h2v8.91h-2zM59 411.42h1v8.91h-1zM97 411.42h1v8.91h-1zM137 411.42h1v8.91h-1zM150 411.42h1v8.91h-1zM163 411.42h2v8.91h-2zM197 411.42h2v8.91h-2zM264 411.42h1v8.91h-1zM62 420.33h3v8.91h-3zM128 420.33h1v8.91h-1zM130 420.33h2v8.91h-2zM133 420.33h1v8.91h-1zM140 420.33h2v8.91h-2zM157 420.33h2v8.91h-2zM163 420.33h2v8.91h-2zM176 420.33h2v8.91h-2zM199 420.33h1v8.91h-1zM242 420.33h1v8.91h-1zM256 420.33h2v8.91h-2zM265 420.33h2v8.91h-2zM55 429.24h1v8.91h-1zM115 429.24h2v8.91h-2zM151 429.24h1v8.91h-1zM153 429.24h4v8.91h-4zM254 429.24h2v8.91h-2zM57 438.15h1v8.91h-1zM62 438.15h2v8.91h-2zM124 438.15h1v8.91h-1zM138 438.15h1v8.91h-1zM178 438.15h1v8.91h-1zM260 438.15h1v8.91h-1zM124 447.06h1v8.91h-1zM129 447.06h1v8.91h-1zM140 447.06h2v8.91h-2zM144 447.06h1v8.91h-1zM167 447.06h2v8.91h-2zM181 447.06h2v8.91h-2zM272 447.06h1v8.91h-1zM58 455.97h2v8.91h-2zM64 455.97h1v8.91h-1zM118 455.97h2v8.91h-2zM252 455.97h2v8.91h-2zM275 455.97h2v8.91h-2zM56 464.88h1v8.91h-1zM97 464.88h3v8.91h-3zM115 464.88h2v8.91h-2zM142 464.88h3v8.91h-3zM195 464.88h2v8.91h-2zM201 464.88h2v8.91h-2zM92 473.79h1v8.91h-1zM97 473.79h1v8.91h-1zM104 473.79h2v8.91h-2zM134 473.79h1v8.91h-1zM150 473.79h1v8.91h-1zM156 473.79h1v8.91h-1zM159 473.79h1v8.91h-1zM166 473.79h1v8.91h-1zM175 473.79h3v8.91h-3zM262 473.79h2v8.91h-2z"/>
<path fill="#c9d2e6" shape-rendering="crispEdges" d="M55 295.60h1v8.91h-1zM133 295.60h1v8.91h-1zM135 295.60h2v8.91h-2zM140 295.60h2v8.91h-2zM183 295.60h2v8.91h-2zM203 295.60h2v8.91h-2zM235 295.60h1v8.91h-1zM252 295.60h2v8.91h-2zM277 295.60h1v8.91h-1zM59 304.51h1v8.91h-1zM115 304.51h2v8.91h-2zM135 304.51h2v8.91h-2zM147 304.51h1v8.91h-1zM181 304.51h2v8.91h-2zM226 304.51h1v8.91h-1zM57 313.42h1v8.91h-1zM64 313.42h1v8.91h-1zM113 313.42h2v8.91h-2zM134 313.42h1v8.91h-1zM142 313.42h2v8.91h-2zM171 313.42h1v8.91h-1zM183 313.42h1v8.91h-1zM209 313.42h2v8.91h-2zM219 313.42h2v8.91h-2zM229 313.42h2v8.91h-2zM58 322.33h1v8.91h-1zM172 322.33h1v8.91h-1zM227 322.33h1v8.91h-1zM146 331.24h1v8.91h-1zM155 331.24h1v8.91h-1zM183 331.24h1v8.91h-1zM262 331.24h2v8.91h-2zM56 340.15h1v8.91h-1zM90 340.15h2v8.91h-2zM139 340.15h1v8.91h-1zM179 340.15h4v8.91h-4zM218 340.15h3v8.91h-3zM273 340.15h1v8.91h-1zM275 340.15h2v8.91h-2zM278 340.15h1v8.91h-1zM145 349.06h1v8.91h-1zM178 349.06h1v8.91h-1zM55 357.97h1v8.91h-1zM66 357.97h2v8.91h-2zM81 357.97h1v8.91h-1zM109 357.97h2v8.91h-2zM126 357.97h2v8.91h-2zM129 357.97h1v8.91h-1zM156 357.97h3v8.91h-3zM167 357.97h2v8.91h-2zM173 357.97h2v8.91h-2zM199 357.97h1v8.91h-1zM236 357.97h1v8.91h-1zM242 357.97h1v8.91h-1zM255 357.97h1v8.91h-1zM57 366.88h1v8.91h-1zM59 366.88h1v8.91h-1zM64 366.88h1v8.91h-1zM68 366.88h1v8.91h-1zM113 366.88h2v8.91h-2zM125 366.88h1v8.91h-1zM142 366.88h2v8.91h-2zM169 366.88h2v8.91h-2zM183 366.88h2v8.91h-2zM213 366.88h2v8.91h-2zM234 366.88h1v8.91h-1zM250 366.88h2v8.91h-2zM255 366.88h1v8.91h-1zM275 366.88h2v8.91h-2zM86 375.79h1v8.91h-1zM137 375.79h1v8.91h-1zM146 375.79h1v8.91h-1zM193 375.79h1v8.91h-1zM267 375.79h1v8.91h-1zM271 375.79h1v8.91h-1zM90 384.70h2v8.91h-2zM137 384.70h1v8.91h-1zM150 384.70h1v8.91h-1zM161 384.70h1v8.91h-1zM125 393.60h1v8.91h-1zM134 393.60h1v8.91h-1zM167 393.60h2v8.91h-2zM189 393.60h1v8.91h-1zM235 393.60h1v8.91h-1zM135 402.51h2v8.91h-2zM152 402.51h2v8.91h-2zM185 402.51h2v8.91h-2zM190 402.51h2v8.91h-2zM200 402.51h1v8.91h-1zM211 402.51h2v8.91h-2zM66 411.42h2v8.91h-2zM147 411.42h1v8.91h-1zM157 411.42h2v8.91h-2zM167 411.42h2v8.91h-2zM209 411.42h2v8.91h-2zM232 411.42h1v8.91h-1zM88 420.33h2v8.91h-2zM97 420.33h1v8.91h-1zM142 420.33h2v8.91h-2zM149 420.33h1v8.91h-1zM193 420.33h1v8.91h-1zM225 420.33h1v8.91h-1zM59 429.24h1v8.91h-1zM113 429.24h2v8.91h-2zM157 429.24h4v8.91h-4zM85 438.15h1v8.91h-1zM122 438.15h2v8.91h-2zM171 438.15h1v8.91h-1zM190 438.15h2v8.91h-2zM194 438.15h1v8.91h-1zM203 438.15h2v8.91h-2zM216 438.15h2v8.91h-2zM126 447.06h3v8.91h-3zM138 447.06h1v8.91h-1zM173 447.06h2v8.91h-2zM193 447.06h1v8.91h-1zM199 447.06h1v8.91h-1zM223 447.06h2v8.91h-2zM267 447.06h1v8.91h-1zM88 455.97h2v8.91h-2zM92 455.97h1v8.91h-1zM98 455.97h2v8.91h-2zM109 455.97h2v8.91h-2zM140 455.97h2v8.91h-2zM154 455.97h1v8.91h-1zM199 455.97h1v8.91h-1zM223 455.97h2v8.91h-2zM69 464.88h2v8.91h-2zM77 464.88h1v8.91h-1zM132 464.88h1v8.91h-1zM139 464.88h1v8.91h-1zM179 464.88h2v8.91h-2zM205 464.88h2v8.91h-2zM57 473.79h1v8.91h-1zM59 473.79h1v8.91h-1zM108 473.79h1v8.91h-1zM115 473.79h2v8.91h-2zM126 473.79h2v8.91h-2zM154 473.79h1v8.91h-1zM161 473.79h1v8.91h-1zM185 473.79h2v8.91h-2zM188 473.79h1v8.91h-1zM233 473.79h1v8.91h-1zM252 473.79h2v8.91h-2zM277 473.79h1v8.91h-1z"/>
<path fill="#e0e0e4" shape-rendering="crispEdges" d="M56 295.60h1v8.91h-1zM64 295.60h1v8.91h-1zM87 295.60h1v8.91h-1zM93 295.60h2v8.91h-2zM97 295.60h3v8.91h-3zM111 295.60h2v8.91h-2zM117 295.60h1v8.91h-1zM137 295.60h1v8.91h-1zM145 295.60h1v8.91h-1zM162 295.60h1v8.91h-1zM166 295.60h1v8.91h-1zM185 295.60h2v8.91h-2zM260 295.60h2v8.91h-2zM65 304.51h1v8.91h-1zM95 304.51h2v8.91h-2zM184 304.51h1v8.91h-1zM188 304.51h1v8.91h-1zM190 304.51h3v8.91h-3zM205 304.51h2v8.91h-2zM231 304.51h1v8.91h-1zM264 304.51h1v8.91h-1zM86 313.42h1v8.91h-1zM108 313.42h1v8.91h-1zM117 313.42h1v8.91h-1zM154 313.42h1v8.91h-1zM189 313.42h1v8.91h-1zM211 313.42h2v8.91h-2zM225 313.42h1v8.91h-1zM228 313.42h1v8.91h-1zM233 313.42h1v8.91h-1zM275 313.42h2v8.91h-2zM75 322.33h1v8.91h-1zM86 322.33h1v8.91h-1zM90 322.33h2v8.91h-2zM109 322.33h2v8.91h-2zM115 322.33h2v8.91h-2zM125 322.33h1v8.91h-1zM134 322.33h1v8.91h-1zM137 322.33h1v8.91h-1zM152 322.33h2v8.91h-2zM156 322.33h1v8.91h-1zM197 322.33h2v8.91h-2zM77 331.24h1v8.91h-1zM117 331.24h1v8.91h-1zM133 331.24h1v8.91h-1zM149 331.24h1v8.91h-1zM161 331.24h1v8.91h-1zM181 331.24h2v8.91h-2zM237 331.24h2v8.91h-2zM241 331.24h1v8.91h-1zM265 331.24h2v8.91h-2zM275 331.24h2v8.91h-2zM55 340.15h1v8.91h-1zM66 340.15h2v8.91h-2zM108 340.15h1v8.91h-1zM130 340.15h2v8.91h-2zM152 340.15h2v8.91h-2zM162 340.15h3v8.91h-3zM197 340.15h2v8.91h-2zM200 340.15h1v8.91h-1zM213 340.15h2v8.91h-2zM231 340.15h1v8.91h-1zM235 340.15h1v8.91h-1zM65 349.06h1v8.91h-1zM90 349.06h2v8.91h-2zM135 349.06h2v8.91h-2zM181 349.06h2v8.91h-2zM194 349.06h1v8.91h-1zM205 349.06h2v8.91h-2zM218 349.06h1v8.91h-1zM225 349.06h1v8.91h-1zM260 349.06h1v8.91h-1zM60 357.97h1v8.91h-1zM76 357.97h1v8.91h-1zM85 357.97h1v8.91h-1zM95 357.97h2v8.91h-2zM108 357.97h1v8.91h-1zM115 357.97h2v8.91h-2zM165 357.97h1v8.91h-1zM181 357.97h2v8.91h-2zM245 357.97h3v8.91h-3zM75 366.88h1v8.91h-1zM88 366.88h2v8.91h-2zM117 366.88h1v8.91h-1zM128 366.88h1v8.91h-1zM152 366.88h2v8.91h-2zM236 366.88h1v8.91h-1zM128 375.79h1v8.91h-1zM150 375.79h1v8.91h-1zM155 375.79h1v8.91h-1zM235 375.79h1v8.91h-1zM264 375.79h1v8.91h-1zM278 375.79h1v8.91h-1zM64 384.70h1v8.91h-1zM71 384.70h2v8.91h-2zM126 384.70h2v8.91h-2zM152 384.70h2v8.91h-2zM236 384.70h1v8.91h-1zM271 384.70h1v8.91h-1zM59 393.60h1v8.91h-1zM111 393.60h2v8.91h-2zM133 393.60h1v8.91h-1zM179 393.60h2v8.91h-2zM211 393.60h2v8.91h-2zM262 393.60h2v8.91h-2zM64 402.51h1v8.91h-1zM148 402.51h1v8.91h-1zM203 402.51h2v8.91h-2zM248 402.51h2v8.91h-2zM252 402.51h2v8.91h-2zM278 402.51h1v8.91h-1zM65 411.42h1v8.91h-1zM113 411.42h2v8.91h-2zM124 411.42h1v8.91h-1zM133 411.42h1v8.91h-1zM149 411.42h1v8.91h-1zM155 411.42h1v8.91h-1zM227 411.42h1v8.91h-1zM260 411.42h1v8.91h-1zM262 411.42h2v8.91h-2zM57 420.33h1v8.91h-1zM78 420.33h2v8.91h-2zM100 420.33h2v8.91h-2zM106 420.33h2v8.91h-2zM124 420.33h1v8.91h-1zM216 420.33h2v8.91h-2zM248 420.33h4v8.91h-4zM267 420.33h1v8.91h-1zM278 420.33h1v8.91h-1zM60 429.24h2v8.91h-2zM117 429.24h1v8.91h-1zM162 429.24h4v8.91h-4zM260 429.24h1v8.91h-1zM54 438.15h1v8.91h-1zM66 438.15h2v8.91h-2zM76 438.15h1v8.91h-1zM130 438.15h2v8.91h-2zM134 438.15h3v8.91h-3zM144 438.15h1v8.91h-1zM160 438.15h1v8.91h-1zM169 438.15h2v8.91h-2zM188 438.15h1v8.91h-1zM197 438.15h2v8.91h-2zM218 438.15h1v8.91h-1zM229 438.15h2v8.91h-2zM234 438.15h1v8.91h-1zM256 438.15h2v8.91h-2zM261 438.15h1v8.91h-1zM270 438.15h1v8.91h-1zM66 447.06h2v8.91h-2zM78 447.06h2v8.91h-2zM100 447.06h2v8.91h-2zM113 447.06h2v8.91h-2zM134 447.06h1v8.91h-1zM155 447.06h1v8.91h-1zM171 447.06h1v8.91h-1zM179 447.06h2v8.91h-2zM189 447.06h1v8.91h-1zM201 447.06h2v8.91h-2zM215 447.06h1v8.91h-1zM231 447.06h2v8.91h-2zM245 447.06h2v8.91h-2zM248 447.06h2v8.91h-2zM262 447.06h2v8.91h-2zM278 447.06h1v8.91h-1zM111 455.97h2v8.91h-2zM159 455.97h1v8.91h-1zM161 455.97h1v8.91h-1zM171 455.97h1v8.91h-1zM187 455.97h1v8.91h-1zM209 455.97h4v8.91h-4zM226 455.97h1v8.91h-1zM239 455.97h2v8.91h-2zM242 455.97h1v8.91h-1zM78 464.88h2v8.91h-2zM192 464.88h1v8.91h-1zM199 464.88h1v8.91h-1zM203 464.88h2v8.91h-2zM221 464.88h4v8.91h-4zM55 473.79h1v8.91h-1zM65 473.79h1v8.91h-1zM76 473.79h1v8.91h-1zM85 473.79h1v8.91h-1zM103 473.79h1v8.91h-1zM129 473.79h1v8.91h-1zM142 473.79h2v8.91h-2zM146 473.79h1v8.91h-1zM155 473.79h1v8.91h-1zM201 473.79h2v8.91h-2zM221 473.79h2v8.91h-2zM231 473.79h1v8.91h-1zM259 473.79h1v8.91h-1zM275 473.79h2v8.91h-2z"/>
<path fill="#9bb4ea" shape-rendering="crispEdges" d="M57 295.60h1v8.91h-1zM78 295.60h2v8.91h-2zM103 295.60h1v8.91h-1zM192 295.60h1v8.91h-1zM209 295.60h2v8.91h-2zM64 304.51h1v8.91h-1zM75 304.51h1v8.91h-1zM98 304.51h2v8.91h-2zM129 304.51h1v8.91h-1zM161 304.51h1v8.91h-1zM218 304.51h3v8.91h-3zM124 313.42h2v8.91h-2zM129 313.42h1v8.91h-1zM147 313.42h1v8.91h-1zM207 313.42h2v8.91h-2zM278 313.42h1v8.91h-1zM138 322.33h1v8.91h-1zM175 322.33h1v8.91h-1zM181 322.33h2v8.91h-2zM185 322.33h2v8.91h-2zM219 322.33h2v8.91h-2zM226 322.33h1v8.91h-1zM129 331.24h1v8.91h-1zM135 331.24h2v8.91h-2zM142 331.24h3v8.91h-3zM167 331.24h4v8.91h-4zM189 331.24h1v8.91h-1zM203 331.24h2v8.91h-2zM65 340.15h1v8.91h-1zM86 340.15h1v8.91h-1zM171 340.15h1v8.91h-1zM211 340.15h2v8.91h-2zM265 340.15h2v8.91h-2zM59 349.06h1v8.91h-1zM150 349.06h1v8.91h-1zM156 349.06h1v8.91h-1zM165 349.06h1v8.91h-1zM185 349.06h2v8.91h-2zM58 357.97h1v8.91h-1zM73 357.97h2v8.91h-2zM87 357.97h1v8.91h-1zM125 357.97h1v8.91h-1zM130 357.97h2v8.91h-2zM140 357.97h2v8.91h-2zM154 357.97h1v8.91h-1zM163 357.97h2v8.91h-2zM176 357.97h2v8.91h-2zM193 357.97h1v8.91h-1zM229 357.97h3v8.91h-3zM86 366.88h1v8.91h-1zM144 366.88h1v8.91h-1zM176 366.88h2v8.91h-2zM189 366.88h1v8.91h-1zM197 366.88h2v8.91h-2zM226 366.88h1v8.91h-1zM228 366.88h1v8.91h-1zM252 366.88h2v8.91h-2zM58 375.79h1v8.91h-1zM151 375.79h3v8.91h-3zM179 375.79h2v8.91h-2zM190 375.79h2v8.91h-2zM209 375.79h2v8.91h-2zM124 384.70h1v8.91h-1zM134 384.70h1v8.91h-1zM189 384.70h3v8.91h-3zM194 384.70h1v8.91h-1zM197 384.70h2v8.91h-2zM213 384.70h2v8.91h-2zM218 384.70h1v8.91h-1zM223 384.70h2v8.91h-2zM233 384.70h1v8.91h-1zM130 393.60h2v8.91h-2zM156 393.60h3v8.91h-3zM185 393.60h2v8.91h-2zM190 393.60h2v8.91h-2zM193 393.60h1v8.91h-1zM199 393.60h1v8.91h-1zM124 402.51h1v8.91h-1zM128 402.51h1v8.91h-1zM137 402.51h1v8.91h-1zM145 402.51h1v8.91h-1zM150 402.51h1v8.91h-1zM166 402.51h1v8.91h-1zM173 402.51h2v8.91h-2zM183 402.51h2v8.91h-2zM195 402.51h2v8.91h-2zM205 402.51h2v8.91h-2zM219 402.51h2v8.91h-2zM134 411.42h1v8.91h-1zM165 411.42h1v8.91h-1zM203 411.42h2v8.91h-2zM211 411.42h2v8.91h-2zM226 411.42h1v8.91h-1zM228 411.42h1v8.91h-1zM231 411.42h1v8.91h-1zM86 420.33h1v8.91h-1zM90 420.33h2v8.91h-2zM134 420.33h1v8.91h-1zM144 420.33h2v8.91h-2zM159 420.33h1v8.91h-1zM184 420.33h1v8.91h-1zM194 420.33h1v8.91h-1zM213 420.33h3v8.91h-3zM231 420.33h1v8.91h-1zM234 420.33h1v8.91h-1zM54 429.24h1v8.91h-1zM107 429.24h1v8.91h-1zM145 429.24h2v8.91h-2zM148 429.24h1v8.91h-1zM150 429.24h1v8.91h-1zM69 438.15h2v8.91h-2zM111 438.15h2v8.91h-2zM154 438.15h1v8.91h-1zM161 438.15h1v8.91h-1zM189 438.15h1v8.91h-1zM192 438.15h1v8.91h-1zM213 438.15h2v8.91h-2zM159 447.06h1v8.91h-1zM237 447.06h2v8.91h-2zM55 455.97h1v8.91h-1zM95 455.97h2v8.91h-2zM122 455.97h2v8.91h-2zM172 455.97h1v8.91h-1zM183 455.97h2v8.91h-2zM195 455.97h2v8.91h-2zM205 455.97h4v8.91h-4zM216 455.97h2v8.91h-2zM61 464.88h1v8.91h-1zM84 464.88h1v8.91h-1zM86 464.88h1v8.91h-1zM82 473.79h2v8.91h-2zM95 473.79h2v8.91h-2zM132 473.79h1v8.91h-1zM135 473.79h2v8.91h-2zM144 473.79h1v8.91h-1zM173 473.79h2v8.91h-2zM242 473.79h1v8.91h-1zM254 473.79h1v8.91h-1zM258 473.79h1v8.91h-1zM270 473.79h1v8.91h-1z"/>
<path fill="#e5d0ce" shape-rendering="crispEdges" d="M58 295.60h1v8.91h-1zM71 295.60h2v8.91h-2zM81 295.60h3v8.91h-3zM86 295.60h1v8.91h-1zM115 295.60h2v8.91h-2zM169 295.60h2v8.91h-2zM188 295.60h1v8.91h-1zM199 295.60h1v8.91h-1zM274 295.60h3v8.91h-3zM87 304.51h1v8.91h-1zM93 304.51h2v8.91h-2zM125 304.51h1v8.91h-1zM144 304.51h1v8.91h-1zM160 304.51h1v8.91h-1zM167 304.51h2v8.91h-2zM200 304.51h1v8.91h-1zM248 304.51h2v8.91h-2zM270 304.51h1v8.91h-1zM55 313.42h1v8.91h-1zM76 313.42h1v8.91h-1zM237 313.42h2v8.91h-2zM242 313.42h1v8.91h-1zM250 313.42h2v8.91h-2zM262 313.42h2v8.91h-2zM97 322.33h1v8.91h-1zM106 322.33h3v8.91h-3zM111 322.33h2v8.91h-2zM133 322.33h1v8.91h-1zM135 322.33h2v8.91h-2zM145 322.33h2v8.91h-2zM193 322.33h1v8.91h-1zM200 322.33h1v8.91h-1zM209 322.33h2v8.91h-2zM241 322.33h1v8.91h-1zM100 331.24h3v8.91h-3zM154 331.24h1v8.91h-1zM179 331.24h2v8.91h-2zM219 331.24h2v8.91h-2zM232 331.24h1v8.91h-1zM250 331.24h2v8.91h-2zM260 331.24h1v8.91h-1zM68 340.15h1v8.91h-1zM100 340.15h2v8.91h-2zM106 340.15h2v8.91h-2zM109 340.15h2v8.91h-2zM129 340.15h1v8.91h-1zM167 340.15h2v8.91h-2zM199 340.15h1v8.91h-1zM209 340.15h2v8.91h-2zM221 340.15h2v8.91h-2zM232 340.15h1v8.91h-1zM250 340.15h2v8.91h-2zM256 340.15h2v8.91h-2zM54 349.06h1v8.91h-1zM78 349.06h2v8.91h-2zM98 349.06h2v8.91h-2zM113 349.06h2v8.91h-2zM162 349.06h1v8.91h-1zM169 349.06h2v8.91h-2zM213 349.06h2v8.91h-2zM252 349.06h2v8.91h-2zM265 349.06h2v8.91h-2zM56 357.97h1v8.91h-1zM62 357.97h2v8.91h-2zM172 357.97h1v8.91h-1zM209 357.97h2v8.91h-2zM260 357.97h1v8.91h-1zM77 366.88h1v8.91h-1zM106 366.88h2v8.91h-2zM111 366.88h2v8.91h-2zM133 366.88h1v8.91h-1zM173 366.88h2v8.91h-2zM227 366.88h1v8.91h-1zM241 366.88h1v8.91h-1zM57 375.79h1v8.91h-1zM64 375.79h1v8.91h-1zM80 375.79h1v8.91h-1zM88 375.79h2v8.91h-2zM97 375.79h1v8.91h-1zM111 375.79h2v8.91h-2zM133 375.79h1v8.91h-1zM145 375.79h1v8.91h-1zM149 375.79h1v8.91h-1zM165 375.79h1v8.91h-1zM232 375.79h1v8.91h-1zM255 375.79h1v8.91h-1zM262 375.79h2v8.91h-2zM113 384.70h2v8.91h-2zM221 384.70h2v8.91h-2zM260 384.70h1v8.91h-1zM66 393.60h2v8.91h-2zM75 393.60h1v8.91h-1zM78 393.60h2v8.91h-2zM145 393.60h1v8.91h-1zM154 393.60h1v8.91h-1zM221 393.60h2v8.91h-2zM232 393.60h1v8.91h-1zM236 393.60h1v8.91h-1zM271 393.60h2v8.91h-2zM78 402.51h2v8.91h-2zM169 402.51h2v8.91h-2zM235 402.51h1v8.91h-1zM247 402.51h1v8.91h-1zM78 411.42h2v8.91h-2zM135 411.42h2v8.91h-2zM142 411.42h2v8.91h-2zM255 411.42h1v8.91h-1zM265 411.42h2v8.91h-2zM60 420.33h1v8.91h-1zM146 420.33h1v8.91h-1zM150 420.33h1v8.91h-1zM181 420.33h2v8.91h-2zM221 420.33h2v8.91h-2zM236 420.33h1v8.91h-1zM243 420.33h2v8.91h-2zM247 420.33h1v8.91h-1zM271 420.33h2v8.91h-2zM64 429.24h2v8.91h-2zM167 429.24h1v8.91h-1zM184 429.24h1v8.91h-1zM188 429.24h1v8.91h-1zM265 429.24h1v8.91h-1zM268 429.24h1v8.91h-1zM58 438.15h1v8.91h-1zM97 438.15h1v8.91h-1zM108 438.15h1v8.91h-1zM120 438.15h2v8.91h-2zM133 438.15h1v8.91h-1zM232 438.15h1v8.91h-1zM236 438.15h1v8.91h-1zM242 438.15h1v8.91h-1zM273 438.15h1v8.91h-1zM60 447.06h1v8.91h-1zM69 447.06h2v8.91h-2zM156 447.06h1v8.91h-1zM160 447.06h1v8.91h-1zM163 447.06h2v8.91h-2zM175 447.06h1v8.91h-1zM197 447.06h2v8.91h-2zM203 447.06h2v8.91h-2zM225 447.06h1v8.91h-1zM241 447.06h1v8.91h-1zM277 447.06h1v8.91h-1zM125 455.97h1v8.91h-1zM128 455.97h2v8.91h-2zM132 455.97h1v8.91h-1zM162 455.97h1v8.91h-1zM179 455.97h2v8.91h-2zM277 455.97h1v8.91h-1zM55 464.88h1v8.91h-1zM59 464.88h1v8.91h-1zM113 464.88h2v8.91h-2zM133 464.88h2v8.91h-2zM159 464.88h1v8.91h-1zM162 464.88h3v8.91h-3zM178 464.88h1v8.91h-1zM184 464.88h1v8.91h-1zM84 473.79h1v8.91h-1zM87 473.79h1v8.91h-1zM102 473.79h1v8.91h-1zM139 473.79h1v8.91h-1zM163 473.79h2v8.91h-2zM178 473.79h1v8.91h-1zM183 473.79h1v8.91h-1zM187 473.79h1v8.91h-1zM193 473.79h1v8.91h-1zM207 473.79h4v8.91h-4zM234 473.79h1v8.91h-1z"/>
<path fill="#f4a28a" shape-rendering="crispEdges" d="M59 295.60h1v8.91h-1zM126 295.60h2v8.91h-2zM194 295.60h1v8.91h-1zM243 295.60h2v8.91h-2zM255 295.60h1v8.91h-1zM268 295.60h2v8.91h-2zM271 295.60h1v8.91h-1zM126 304.51h2v8.91h-2zM265 304.51h2v8.91h-2zM277 304.51h1v8.91h-1zM71 313.42h2v8.91h-2zM90 313.42h2v8.91h-2zM169 313.42h2v8.91h-2zM247 313.42h1v8.91h-1zM260 313.42h1v8.91h-1zM270 313.42h1v8.91h-1zM55 322.33h1v8.91h-1zM68 322.33h1v8.91h-1zM80 322.33h1v8.91h-1zM92 322.33h1v8.91h-1zM237 322.33h2v8.91h-2zM255 322.33h1v8.91h-1zM62 331.24h2v8.91h-2zM65 331.24h1v8.91h-1zM68 331.24h1v8.91h-1zM87 331.24h1v8.91h-1zM109 331.24h2v8.91h-2zM247 331.24h1v8.91h-1zM255 331.24h1v8.91h-1zM259 331.24h1v8.91h-1zM268 340.15h2v8.91h-2zM75 349.06h1v8.91h-1zM264 349.06h1v8.91h-1zM104 357.97h2v8.91h-2zM239 357.97h2v8.91h-2zM62 366.88h2v8.91h-2zM73 366.88h2v8.91h-2zM102 366.88h1v8.91h-1zM109 366.88h2v8.91h-2zM256 366.88h2v8.91h-2zM265 366.88h2v8.91h-2zM106 375.79h2v8.91h-2zM113 375.79h2v8.91h-2zM261 375.79h1v8.91h-1zM61 384.70h1v8.91h-1zM104 384.70h4v8.91h-4zM115 384.70h2v8.91h-2zM239 384.70h2v8.91h-2zM256 384.70h2v8.91h-2zM277 384.70h1v8.91h-1zM68 393.60h1v8.91h-1zM73 393.60h2v8.91h-2zM258 393.60h1v8.91h-1zM55 402.51h1v8.91h-1zM57 402.51h1v8.91h-1zM61 402.51h1v8.91h-1zM69 402.51h2v8.91h-2zM97 402.51h1v8.91h-1zM117 402.51h1v8.91h-1zM264 402.51h1v8.91h-1zM85 411.42h1v8.91h-1zM92 411.42h1v8.91h-1zM277 411.42h1v8.91h-1zM55 420.33h1v8.91h-1zM111 420.33h2v8.91h-2zM160 420.33h1v8.91h-1zM239 420.33h2v8.91h-2zM268 420.33h2v8.91h-2zM73 429.24h4v8.91h-4zM183 429.24h1v8.91h-1zM201 429.24h2v8.91h-2zM277 429.24h1v8.91h-1zM88 438.15h2v8.91h-2zM132 438.15h1v8.91h-1zM149 438.15h1v8.91h-1zM55 447.06h1v8.91h-1zM118 447.06h2v8.91h-2zM274 447.06h1v8.91h-1zM124 455.97h1v8.91h-1zM188 455.97h1v8.91h-1zM237 455.97h2v8.91h-2zM245 455.97h2v8.91h-2zM250 455.97h2v8.91h-2zM65 464.88h1v8.91h-1zM149 464.88h1v8.91h-1zM181 464.88h2v8.91h-2zM200 464.88h1v8.91h-1zM151 473.79h1v8.91h-1zM264 473.79h1v8.91h-1z"/>
<path fill="#f09280" shape-rendering="crispEdges" d="M60 295.60h1v8.91h-1zM150 304.51h1v8.91h-1zM163 304.51h2v8.91h-2zM179 304.51h2v8.91h-2zM252 304.51h3v8.91h-3zM271 304.51h1v8.91h-1zM274 304.51h1v8.91h-1zM80 313.42h1v8.91h-1zM87 313.42h1v8.91h-1zM95 313.42h2v8.91h-2zM102 313.42h1v8.91h-1zM66 322.33h2v8.91h-2zM71 322.33h2v8.91h-2zM102 322.33h1v8.91h-1zM113 322.33h2v8.91h-2zM122 322.33h2v8.91h-2zM239 322.33h2v8.91h-2zM272 322.33h2v8.91h-2zM53 331.24h1v8.91h-1zM57 331.24h1v8.91h-1zM76 331.24h1v8.91h-1zM84 331.24h1v8.91h-1zM200 331.24h1v8.91h-1zM120 340.15h2v8.91h-2zM125 340.15h1v8.91h-1zM137 340.15h1v8.91h-1zM248 340.15h2v8.91h-2zM270 340.15h1v8.91h-1zM104 349.06h2v8.91h-2zM108 349.06h1v8.91h-1zM115 349.06h2v8.91h-2zM245 349.06h2v8.91h-2zM255 349.06h1v8.91h-1zM61 366.88h1v8.91h-1zM66 366.88h2v8.91h-2zM235 366.88h1v8.91h-1zM247 366.88h1v8.91h-1zM268 366.88h2v8.91h-2zM54 375.79h1v8.91h-1zM62 375.79h2v8.91h-2zM69 375.79h4v8.91h-4zM85 375.79h1v8.91h-1zM87 375.79h1v8.91h-1zM100 375.79h2v8.91h-2zM109 375.79h2v8.91h-2zM239 375.79h2v8.91h-2zM245 375.79h2v8.91h-2zM77 384.70h1v8.91h-1zM81 384.70h1v8.91h-1zM255 384.70h1v8.91h-1zM258 384.70h1v8.91h-1zM270 384.70h1v8.91h-1zM273 384.70h1v8.91h-1zM84 393.60h2v8.91h-2zM87 393.60h1v8.91h-1zM241 393.60h1v8.91h-1zM278 393.60h1v8.91h-1zM59 402.51h1v8.91h-1zM81 402.51h1v8.91h-1zM241 402.51h1v8.91h-1zM258 402.51h1v8.91h-1zM75 411.42h1v8.91h-1zM84 411.42h1v8.91h-1zM104 411.42h2v8.91h-2zM115 411.42h2v8.91h-2zM248 411.42h2v8.91h-2zM80 420.33h1v8.91h-1zM102 420.33h1v8.91h-1zM258 420.33h1v8.91h-1zM179 429.24h2v8.91h-2zM203 429.24h4v8.91h-4zM113 438.15h2v8.91h-2zM118 438.15h2v8.91h-2zM146 438.15h1v8.91h-1zM54 447.06h1v8.91h-1zM65 447.06h1v8.91h-1zM80 447.06h1v8.91h-1zM239 447.06h2v8.91h-2zM247 447.06h1v8.91h-1zM163 455.97h2v8.91h-2zM167 455.97h2v8.91h-2zM243 455.97h2v8.91h-2zM58 464.88h1v8.91h-1zM87 464.88h1v8.91h-1zM92 464.88h1v8.91h-1zM102 464.88h1v8.91h-1zM130 464.88h2v8.91h-2zM213 464.88h2v8.91h-2zM228 464.88h1v8.91h-1zM233 464.88h1v8.91h-1zM130 473.79h2v8.91h-2zM167 473.79h2v8.91h-2zM213 473.79h2v8.91h-2z"/>
<path fill="#f2aa95" shape-rendering="crispEdges" d="M61 295.60h1v8.91h-1zM65 295.60h1v8.91h-1zM92 295.60h1v8.91h-1zM100 295.60h2v8.91h-2zM118 295.60h2v8.91h-2zM125 295.60h1v8.91h-1zM149 295.60h1v8.91h-1zM175 295.60h3v8.91h-3zM218 295.60h1v8.91h-1zM237 295.60h2v8.91h-2zM259 295.60h1v8.91h-1zM264 295.60h1v8.91h-1zM267 295.60h1v8.91h-1zM66 304.51h2v8.91h-2zM137 304.51h1v8.91h-1zM139 304.51h1v8.91h-1zM227 304.51h1v8.91h-1zM237 304.51h2v8.91h-2zM250 304.51h2v8.91h-2zM261 304.51h1v8.91h-1zM137 313.42h1v8.91h-1zM239 313.42h2v8.91h-2zM267 313.42h1v8.91h-1zM273 313.42h1v8.91h-1zM277 313.42h1v8.91h-1zM57 322.33h1v8.91h-1zM84 322.33h2v8.91h-2zM155 322.33h1v8.91h-1zM242 322.33h1v8.91h-1zM265 322.33h2v8.91h-2zM71 331.24h2v8.91h-2zM140 331.24h2v8.91h-2zM160 331.24h1v8.91h-1zM162 331.24h1v8.91h-1zM245 331.24h2v8.91h-2zM248 331.24h2v8.91h-2zM270 331.24h1v8.91h-1zM54 340.15h1v8.91h-1zM80 340.15h1v8.91h-1zM142 340.15h2v8.91h-2zM247 340.15h1v8.91h-1zM97 349.06h1v8.91h-1zM197 349.06h2v8.91h-2zM93 357.97h2v8.91h-2zM98 357.97h2v8.91h-2zM118 357.97h2v8.91h-2zM258 357.97h1v8.91h-1zM78 366.88h3v8.91h-3zM85 366.88h1v8.91h-1zM258 366.88h1v8.91h-1zM271 366.88h2v8.91h-2zM68 375.79h1v8.91h-1zM200 375.79h1v8.91h-1zM232 384.70h1v8.91h-1zM259 384.70h1v8.91h-1zM268 384.70h2v8.91h-2zM54 393.60h1v8.91h-1zM60 393.60h1v8.91h-1zM62 393.60h2v8.91h-2zM80 393.60h1v8.91h-1zM120 393.60h2v8.91h-2zM245 393.60h2v8.91h-2zM60 402.51h1v8.91h-1zM80 402.51h1v8.91h-1zM100 402.51h2v8.91h-2zM162 402.51h1v8.91h-1zM236 402.51h1v8.91h-1zM268 402.51h2v8.91h-2zM273 402.51h1v8.91h-1zM54 411.42h1v8.91h-1zM102 411.42h1v8.91h-1zM111 411.42h2v8.91h-2zM84 420.33h1v8.91h-1zM72 429.24h1v8.91h-1zM177 429.24h1v8.91h-1zM182 429.24h1v8.91h-1zM196 429.24h1v8.91h-1zM198 429.24h3v8.91h-3zM278 429.24h1v8.91h-1zM82 438.15h3v8.91h-3zM117 438.15h1v8.91h-1zM129 438.15h1v8.91h-1zM199 438.15h1v8.91h-1zM211 438.15h2v8.91h-2zM271 438.15h1v8.91h-1zM277 438.15h2v8.91h-2zM68 447.06h1v8.91h-1zM73 447.06h2v8.91h-2zM86 447.06h1v8.91h-1zM200 447.06h1v8.91h-1zM256 447.06h2v8.91h-2zM115 455.97h2v8.91h-2zM229 455.97h2v8.91h-2zM232 455.97h1v8.91h-1zM268 455.97h2v8.91h-2zM272 455.97h1v8.91h-1zM75 464.88h1v8.91h-1zM85 464.88h1v8.91h-1zM90 464.88h2v8.91h-2zM124 464.88h1v8.91h-1zM126 464.88h2v8.91h-2zM171 464.88h1v8.91h-1zM189 464.88h1v8.91h-1zM171 473.79h1v8.91h-1zM194 473.79h1v8.91h-1zM237 473.79h2v8.91h-2zM243 473.79h2v8.91h-2z"/>
<path fill="#a6bce9" shape-rendering="crispEdges" d="M62 295.60h2v8.91h-2zM68 295.60h1v8.91h-1zM102 295.60h1v8.91h-1zM195 295.60h2v8.91h-2zM239 295.60h2v8.91h-2zM256 295.60h2v8.91h-2zM77 304.51h1v8.91h-1zM81 304.51h1v8.91h-1zM86 304.51h1v8.91h-1zM122 304.51h2v8.91h-2zM221 304.51h2v8.91h-2zM256 304.51h2v8.91h-2zM88 313.42h2v8.91h-2zM106 313.42h2v8.91h-2zM151 313.42h1v8.91h-1zM161 313.42h1v8.91h-1zM176 313.42h2v8.91h-2zM181 313.42h2v8.91h-2zM184 313.42h1v8.91h-1zM234 313.42h1v8.91h-1zM148 322.33h1v8.91h-1zM192 322.33h1v8.91h-1zM231 322.33h1v8.91h-1zM86 331.24h1v8.91h-1zM150 331.24h1v8.91h-1zM159 331.24h1v8.91h-1zM205 331.24h2v8.91h-2zM213 331.24h2v8.91h-2zM78 340.15h2v8.91h-2zM88 340.15h2v8.91h-2zM97 340.15h1v8.91h-1zM159 340.15h1v8.91h-1zM183 340.15h1v8.91h-1zM194 340.15h1v8.91h-1zM236 340.15h3v8.91h-3zM252 340.15h2v8.91h-2zM64 349.06h1v8.91h-1zM88 349.06h2v8.91h-2zM117 349.06h1v8.91h-1zM128 349.06h2v8.91h-2zM140 349.06h2v8.91h-2zM171 349.06h1v8.91h-1zM187 349.06h1v8.91h-1zM219 349.06h2v8.91h-2zM248 349.06h2v8.91h-2zM272 349.06h1v8.91h-1zM59 357.97h1v8.91h-1zM65 357.97h1v8.91h-1zM77 357.97h3v8.91h-3zM86 357.97h1v8.91h-1zM88 357.97h2v8.91h-2zM100 357.97h2v8.91h-2zM124 357.97h1v8.91h-1zM134 357.97h1v8.91h-1zM142 357.97h2v8.91h-2zM201 357.97h2v8.91h-2zM213 357.97h2v8.91h-2zM226 357.97h1v8.91h-1zM264 357.97h1v8.91h-1zM163 366.88h2v8.91h-2zM175 366.88h1v8.91h-1zM185 366.88h2v8.91h-2zM264 366.88h1v8.91h-1zM173 375.79h2v8.91h-2zM207 375.79h2v8.91h-2zM229 375.79h2v8.91h-2zM159 384.70h1v8.91h-1zM165 384.70h1v8.91h-1zM181 384.70h2v8.91h-2zM267 384.70h1v8.91h-1zM150 393.60h1v8.91h-1zM218 393.60h1v8.91h-1zM275 393.60h2v8.91h-2zM156 402.51h1v8.91h-1zM178 402.51h1v8.91h-1zM225 402.51h1v8.91h-1zM125 411.42h1v8.91h-1zM128 411.42h1v8.91h-1zM159 411.42h1v8.91h-1zM179 411.42h2v8.91h-2zM216 411.42h2v8.91h-2zM66 420.33h2v8.91h-2zM132 420.33h1v8.91h-1zM183 420.33h1v8.91h-1zM200 420.33h1v8.91h-1zM203 420.33h2v8.91h-2zM211 420.33h2v8.91h-2zM223 420.33h2v8.91h-2zM53 429.24h1v8.91h-1zM108 429.24h2v8.91h-2zM111 429.24h1v8.91h-1zM147 429.24h1v8.91h-1zM245 429.24h6v8.91h-6zM252 429.24h2v8.91h-2zM128 438.15h1v8.91h-1zM139 438.15h1v8.91h-1zM172 438.15h1v8.91h-1zM205 438.15h2v8.91h-2zM184 447.06h3v8.91h-3zM69 455.97h2v8.91h-2zM102 455.97h1v8.91h-1zM157 455.97h2v8.91h-2zM160 455.97h1v8.91h-1zM173 455.97h2v8.91h-2zM241 455.97h1v8.91h-1zM248 455.97h2v8.91h-2zM152 464.88h2v8.91h-2zM209 464.88h4v8.91h-4zM86 473.79h1v8.91h-1zM90 473.79h2v8.91h-2zM225 473.79h1v8.91h-1zM239 473.79h3v8.91h-3zM271 473.79h1v8.91h-1z"/>
<path fill="#b2c3e8" shape-rendering="crispEdges" d="M73 295.60h3v8.91h-3zM95 295.60h2v8.91h-2zM144 295.60h1v8.91h-1zM216 295.60h2v8.91h-2zM228 295.60h1v8.91h-1zM234 295.60h1v8.91h-1zM236 295.60h1v8.91h-1zM58 304.51h1v8.91h-1zM61 304.51h1v8.91h-1zM82 304.51h2v8.91h-2zM104 304.51h2v8.91h-2zM128 304.51h1v8.91h-1zM154 304.51h1v8.91h-1zM165 304.51h1v8.91h-1zM211 304.51h2v8.91h-2zM229 304.51h2v8.91h-2zM97 313.42h1v8.91h-1zM126 313.42h2v8.91h-2zM149 313.42h1v8.91h-1zM163 313.42h2v8.91h-2zM167 313.42h2v8.91h-2zM205 313.42h2v8.91h-2zM215 313.42h1v8.91h-1zM252 313.42h2v8.91h-2zM124 322.33h1v8.91h-1zM129 322.33h1v8.91h-1zM144 322.33h1v8.91h-1zM157 322.33h2v8.91h-2zM194 322.33h1v8.91h-1zM199 322.33h1v8.91h-1zM85 331.24h1v8.91h-1zM128 331.24h1v8.91h-1zM137 331.24h1v8.91h-1zM139 331.24h1v8.91h-1zM185 331.24h2v8.91h-2zM211 331.24h2v8.91h-2zM215 331.24h1v8.91h-1zM233 331.24h1v8.91h-1zM75 340.15h1v8.91h-1zM135 340.15h2v8.91h-2zM144 340.15h1v8.91h-1zM175 340.15h1v8.91h-1zM188 340.15h1v8.91h-1zM227 340.15h1v8.91h-1zM264 340.15h1v8.91h-1zM271 340.15h1v8.91h-1zM126 349.06h2v8.91h-2zM133 349.06h1v8.91h-1zM147 349.06h1v8.91h-1zM173 349.06h2v8.91h-2zM188 349.06h1v8.91h-1zM199 349.06h1v8.91h-1zM64 357.97h1v8.91h-1zM68 357.97h1v8.91h-1zM106 357.97h2v8.91h-2zM133 357.97h1v8.91h-1zM135 357.97h3v8.91h-3zM149 357.97h1v8.91h-1zM159 357.97h1v8.91h-1zM215 357.97h1v8.91h-1zM228 357.97h1v8.91h-1zM248 357.97h4v8.91h-4zM108 366.88h1v8.91h-1zM129 366.88h1v8.91h-1zM134 366.88h1v8.91h-1zM167 366.88h2v8.91h-2zM172 366.88h1v8.91h-1zM187 366.88h1v8.91h-1zM194 366.88h3v8.91h-3zM209 366.88h2v8.91h-2zM124 375.79h1v8.91h-1zM139 375.79h1v8.91h-1zM144 375.79h1v8.91h-1zM147 375.79h1v8.91h-1zM172 375.79h1v8.91h-1zM203 375.79h2v8.91h-2zM275 375.79h2v8.91h-2zM225 384.70h1v8.91h-1zM86 393.60h1v8.91h-1zM140 393.60h2v8.91h-2zM146 393.60h1v8.91h-1zM149 393.60h1v8.91h-1zM165 393.60h1v8.91h-1zM175 393.60h1v8.91h-1zM213 393.60h2v8.91h-2zM161 402.51h1v8.91h-1zM176 402.51h2v8.91h-2zM199 402.51h1v8.91h-1zM207 402.51h2v8.91h-2zM221 402.51h2v8.91h-2zM231 402.51h1v8.91h-1zM272 402.51h1v8.91h-1zM139 411.42h1v8.91h-1zM178 411.42h1v8.91h-1zM218 411.42h3v8.91h-3zM275 411.42h2v8.91h-2zM117 420.33h1v8.91h-1zM126 420.33h2v8.91h-2zM129 420.33h1v8.91h-1zM175 420.33h1v8.91h-1zM252 420.33h2v8.91h-2zM56 429.24h2v8.91h-2zM110 429.24h1v8.91h-1zM112 429.24h1v8.91h-1zM152 429.24h1v8.91h-1zM251 429.24h1v8.91h-1zM60 438.15h1v8.91h-1zM64 438.15h2v8.91h-2zM71 438.15h2v8.91h-2zM159 438.15h1v8.91h-1zM200 438.15h1v8.91h-1zM207 438.15h4v8.91h-4zM130 447.06h2v8.91h-2zM147 447.06h1v8.91h-1zM172 447.06h1v8.91h-1zM176 447.06h2v8.91h-2zM183 447.06h1v8.91h-1zM195 447.06h2v8.91h-2zM211 447.06h2v8.91h-2zM275 447.06h2v8.91h-2zM71 455.97h4v8.91h-4zM81 455.97h1v8.91h-1zM93 455.97h2v8.91h-2zM166 455.97h1v8.91h-1zM175 455.97h1v8.91h-1zM178 455.97h1v8.91h-1zM221 455.97h2v8.91h-2zM68 464.88h1v8.91h-1zM82 464.88h2v8.91h-2zM111 464.88h2v8.91h-2zM118 464.88h2v8.91h-2zM125 464.88h1v8.91h-1zM151 464.88h1v8.91h-1zM232 464.88h1v8.91h-1zM77 473.79h1v8.91h-1zM109 473.79h2v8.91h-2zM122 473.79h2v8.91h-2zM125 473.79h1v8.91h-1zM181 473.79h2v8.91h-2zM229 473.79h2v8.91h-2zM260 473.79h1v8.91h-1zM273 473.79h1v8.91h-1z"/>
<path fill="#e8c9c2" shape-rendering="crispEdges" d="M77 295.60h1v8.91h-1zM84 295.60h1v8.91h-1zM122 295.60h2v8.91h-2zM132 295.60h1v8.91h-1zM139 295.60h1v8.91h-1zM151 295.60h1v8.91h-1zM163 295.60h2v8.91h-2zM167 295.60h2v8.91h-2zM205 295.60h2v8.91h-2zM106 304.51h2v8.91h-2zM120 304.51h2v8.91h-2zM142 304.51h2v8.91h-2zM151 304.51h1v8.91h-1zM159 304.51h1v8.91h-1zM166 304.51h1v8.91h-1zM175 304.51h1v8.91h-1zM178 304.51h1v8.91h-1zM232 304.51h1v8.91h-1zM259 304.51h1v8.91h-1zM54 313.42h1v8.91h-1zM60 313.42h1v8.91h-1zM65 313.42h1v8.91h-1zM73 313.42h2v8.91h-2zM85 313.42h1v8.91h-1zM98 313.42h2v8.91h-2zM115 313.42h2v8.91h-2zM148 313.42h1v8.91h-1zM172 313.42h1v8.91h-1zM179 313.42h2v8.91h-2zM185 313.42h2v8.91h-2zM232 313.42h1v8.91h-1zM241 313.42h1v8.91h-1zM245 313.42h2v8.91h-2zM77 322.33h1v8.91h-1zM88 322.33h2v8.91h-2zM95 322.33h2v8.91h-2zM140 322.33h2v8.91h-2zM179 322.33h2v8.91h-2zM213 322.33h2v8.91h-2zM262 322.33h2v8.91h-2zM58 331.24h1v8.91h-1zM88 331.24h2v8.91h-2zM93 331.24h2v8.91h-2zM227 331.24h1v8.91h-1zM267 331.24h1v8.91h-1zM95 340.15h2v8.91h-2zM149 340.15h2v8.91h-2zM185 340.15h2v8.91h-2zM215 340.15h1v8.91h-1zM242 340.15h1v8.91h-1zM85 349.06h1v8.91h-1zM95 349.06h2v8.91h-2zM106 349.06h2v8.91h-2zM137 349.06h1v8.91h-1zM155 349.06h1v8.91h-1zM193 349.06h1v8.91h-1zM209 349.06h2v8.91h-2zM221 349.06h2v8.91h-2zM256 349.06h2v8.91h-2zM271 349.06h1v8.91h-1zM117 357.97h1v8.91h-1zM152 357.97h2v8.91h-2zM169 357.97h2v8.91h-2zM205 357.97h2v8.91h-2zM221 357.97h2v8.91h-2zM243 357.97h2v8.91h-2zM273 357.97h1v8.91h-1zM277 357.97h1v8.91h-1zM55 366.88h1v8.91h-1zM58 366.88h1v8.91h-1zM65 366.88h1v8.91h-1zM69 366.88h2v8.91h-2zM95 366.88h2v8.91h-2zM135 366.88h2v8.91h-2zM200 366.88h1v8.91h-1zM211 366.88h2v8.91h-2zM239 366.88h2v8.91h-2zM260 366.88h1v8.91h-1zM267 366.88h1v8.91h-1zM55 375.79h1v8.91h-1zM77 375.79h1v8.91h-1zM125 375.79h1v8.91h-1zM154 375.79h1v8.91h-1zM221 375.79h2v8.91h-2zM54 384.70h1v8.91h-1zM59 384.70h1v8.91h-1zM73 384.70h2v8.91h-2zM133 384.70h1v8.91h-1zM149 384.70h1v8.91h-1zM173 384.70h2v8.91h-2zM185 384.70h2v8.91h-2zM207 384.70h2v8.91h-2zM237 384.70h2v8.91h-2zM245 384.70h2v8.91h-2zM264 384.70h1v8.91h-1zM57 393.60h1v8.91h-1zM88 393.60h2v8.91h-2zM169 393.60h2v8.91h-2zM172 393.60h1v8.91h-1zM242 393.60h1v8.91h-1zM256 393.60h2v8.91h-2zM273 393.60h1v8.91h-1zM86 402.51h1v8.91h-1zM64 411.42h1v8.91h-1zM86 411.42h1v8.91h-1zM90 411.42h2v8.91h-2zM93 411.42h2v8.91h-2zM126 411.42h2v8.91h-2zM154 411.42h1v8.91h-1zM162 411.42h1v8.91h-1zM190 411.42h2v8.91h-2zM213 411.42h2v8.91h-2zM236 411.42h1v8.91h-1zM267 411.42h1v8.91h-1zM278 411.42h1v8.91h-1zM65 420.33h1v8.91h-1zM76 420.33h1v8.91h-1zM137 420.33h1v8.91h-1zM152 420.33h2v8.91h-2zM155 420.33h1v8.91h-1zM227 420.33h1v8.91h-1zM235 420.33h1v8.91h-1zM273 420.33h1v8.91h-1zM66 429.24h1v8.91h-1zM69 429.24h2v8.91h-2zM168 429.24h2v8.91h-2zM171 429.24h1v8.91h-1zM185 429.24h3v8.91h-3zM189 429.24h1v8.91h-1zM266 429.24h2v8.91h-2zM269 429.24h1v8.91h-1zM73 438.15h2v8.91h-2zM81 438.15h1v8.91h-1zM93 438.15h2v8.91h-2zM104 438.15h2v8.91h-2zM140 438.15h2v8.91h-2zM173 438.15h2v8.91h-2zM176 438.15h2v8.91h-2zM193 438.15h1v8.91h-1zM243 438.15h2v8.91h-2zM75 447.06h2v8.91h-2zM97 447.06h1v8.91h-1zM117 447.06h1v8.91h-1zM250 447.06h2v8.91h-2zM273 447.06h1v8.91h-1zM97 455.97h1v8.91h-1zM145 455.97h1v8.91h-1zM149 455.97h1v8.91h-1zM155 455.97h1v8.91h-1zM176 455.97h2v8.91h-2zM194 455.97h1v8.91h-1zM213 455.97h2v8.91h-2zM236 455.97h1v8.91h-1zM247 455.97h1v8.91h-1zM262 455.97h2v8.91h-2zM273 455.97h1v8.91h-1zM53 464.88h1v8.91h-1zM60 464.88h1v8.91h-1zM76 464.88h1v8.91h-1zM88 464.88h2v8.91h-2zM93 464.88h4v8.91h-4zM120 464.88h2v8.91h-2zM155 464.88h1v8.91h-1zM165 464.88h1v8.91h-1zM187 464.88h1v8.91h-1zM216 464.88h2v8.91h-2zM231 464.88h1v8.91h-1zM58 473.79h1v8.91h-1zM165 473.79h1v8.91h-1zM223 473.79h2v8.91h-2zM228 473.79h1v8.91h-1zM255 473.79h1v8.91h-1z"/>
<path fill="#e2d8d9" shape-rendering="crispEdges" d="M85 295.60h1v8.91h-1zM88 295.60h2v8.91h-2zM104 295.60h2v8.91h-2zM109 295.60h2v8.91h-2zM187 295.60h1v8.91h-1zM189 295.60h3v8.91h-3zM197 295.60h2v8.91h-2zM215 295.60h1v8.91h-1zM233 295.60h1v8.91h-1zM124 304.51h1v8.91h-1zM130 304.51h4v8.91h-4zM156 304.51h1v8.91h-1zM199 304.51h1v8.91h-1zM216 304.51h2v8.91h-2zM239 304.51h2v8.91h-2zM245 304.51h2v8.91h-2zM273 304.51h1v8.91h-1zM66 313.42h2v8.91h-2zM75 313.42h1v8.91h-1zM135 313.42h2v8.91h-2zM140 313.42h2v8.91h-2zM144 313.42h1v8.91h-1zM150 313.42h1v8.91h-1zM271 313.42h1v8.91h-1zM100 322.33h2v8.91h-2zM117 322.33h1v8.91h-1zM154 322.33h1v8.91h-1zM189 322.33h1v8.91h-1zM215 322.33h1v8.91h-1zM264 322.33h1v8.91h-1zM64 331.24h1v8.91h-1zM69 331.24h2v8.91h-2zM90 331.24h2v8.91h-2zM111 331.24h2v8.91h-2zM115 331.24h2v8.91h-2zM148 331.24h1v8.91h-1zM192 331.24h1v8.91h-1zM194 331.24h1v8.91h-1zM199 331.24h1v8.91h-1zM221 331.24h2v8.91h-2zM235 331.24h1v8.91h-1zM264 331.24h1v8.91h-1zM271 331.24h1v8.91h-1zM53 340.15h1v8.91h-1zM60 340.15h1v8.91h-1zM71 340.15h2v8.91h-2zM76 340.15h1v8.91h-1zM111 340.15h2v8.91h-2zM126 340.15h2v8.91h-2zM156 340.15h1v8.91h-1zM161 340.15h1v8.91h-1zM207 340.15h2v8.91h-2zM272 340.15h1v8.91h-1zM71 349.06h2v8.91h-2zM77 349.06h1v8.91h-1zM80 349.06h1v8.91h-1zM100 349.06h2v8.91h-2zM144 349.06h1v8.91h-1zM241 349.06h1v8.91h-1zM259 349.06h1v8.91h-1zM71 357.97h2v8.91h-2zM92 357.97h1v8.91h-1zM145 357.97h1v8.91h-1zM155 357.97h1v8.91h-1zM195 357.97h4v8.91h-4zM203 357.97h2v8.91h-2zM227 357.97h1v8.91h-1zM90 366.88h2v8.91h-2zM155 366.88h1v8.91h-1zM221 366.88h2v8.91h-2zM237 366.88h2v8.91h-2zM245 366.88h2v8.91h-2zM248 366.88h2v8.91h-2zM273 366.88h1v8.91h-1zM98 375.79h2v8.91h-2zM117 375.79h1v8.91h-1zM185 375.79h2v8.91h-2zM243 375.79h2v8.91h-2zM69 384.70h2v8.91h-2zM97 384.70h1v8.91h-1zM111 384.70h2v8.91h-2zM162 384.70h1v8.91h-1zM169 384.70h2v8.91h-2zM200 384.70h1v8.91h-1zM203 384.70h2v8.91h-2zM209 384.70h2v8.91h-2zM250 384.70h2v8.91h-2zM113 393.60h4v8.91h-4zM126 393.60h3v8.91h-3zM155 393.60h1v8.91h-1zM194 393.60h1v8.91h-1zM200 393.60h1v8.91h-1zM219 393.60h2v8.91h-2zM237 393.60h2v8.91h-2zM65 402.51h1v8.91h-1zM98 402.51h2v8.91h-2zM125 402.51h1v8.91h-1zM142 402.51h2v8.91h-2zM149 402.51h1v8.91h-1zM172 402.51h1v8.91h-1zM213 402.51h2v8.91h-2zM265 402.51h2v8.91h-2zM60 411.42h1v8.91h-1zM80 411.42h1v8.91h-1zM88 411.42h2v8.91h-2zM108 411.42h1v8.91h-1zM237 411.42h2v8.91h-2zM242 411.42h1v8.91h-1zM98 420.33h2v8.91h-2zM125 420.33h1v8.91h-1zM173 420.33h2v8.91h-2zM197 420.33h2v8.91h-2zM232 420.33h1v8.91h-1zM62 429.24h2v8.91h-2zM161 429.24h1v8.91h-1zM166 429.24h1v8.91h-1zM259 429.24h1v8.91h-1zM261 429.24h4v8.91h-4zM75 438.15h1v8.91h-1zM106 438.15h2v8.91h-2zM145 438.15h1v8.91h-1zM156 438.15h3v8.91h-3zM179 438.15h4v8.91h-4zM185 438.15h2v8.91h-2zM215 438.15h1v8.91h-1zM219 438.15h2v8.91h-2zM226 438.15h1v8.91h-1zM264 438.15h1v8.91h-1zM58 447.06h1v8.91h-1zM90 447.06h2v8.91h-2zM108 447.06h1v8.91h-1zM132 447.06h1v8.91h-1zM137 447.06h1v8.91h-1zM142 447.06h2v8.91h-2zM165 447.06h1v8.91h-1zM194 447.06h1v8.91h-1zM207 447.06h4v8.91h-4zM265 447.06h2v8.91h-2zM268 447.06h2v8.91h-2zM84 455.97h2v8.91h-2zM90 455.97h2v8.91h-2zM100 455.97h2v8.91h-2zM104 455.97h2v8.91h-2zM113 455.97h2v8.91h-2zM130 455.97h2v8.91h-2zM139 455.97h1v8.91h-1zM147 455.97h1v8.91h-1zM165 455.97h1v8.91h-1zM190 455.97h2v8.91h-2zM193 455.97h1v8.91h-1zM201 455.97h2v8.91h-2zM265 455.97h2v8.91h-2zM274 455.97h1v8.91h-1zM108 464.88h1v8.91h-1zM129 464.88h1v8.91h-1zM146 464.88h1v8.91h-1zM154 464.88h1v8.91h-1zM157 464.88h2v8.91h-2zM167 464.88h2v8.91h-2zM176 464.88h2v8.91h-2zM183 464.88h1v8.91h-1zM215 464.88h1v8.91h-1zM56 473.79h1v8.91h-1zM80 473.79h1v8.91h-1zM98 473.79h2v8.91h-2zM147 473.79h1v8.91h-1zM169 473.79h2v8.91h-2zM245 473.79h2v8.91h-2zM274 473.79h1v8.91h-1zM278 473.79h1v8.91h-1z"/>
<path fill="#e7736d" shape-rendering="crispEdges" d="M106 295.60h2v8.91h-2zM227 295.60h1v8.91h-1zM278 295.60h1v8.91h-1zM146 304.51h1v8.91h-1zM172 304.51h1v8.91h-1zM61 313.42h3v8.91h-3zM92 313.42h1v8.91h-1zM268 313.42h2v8.91h-2zM274 313.42h1v8.91h-1zM87 322.33h1v8.91h-1zM104 322.33h2v8.91h-2zM120 322.33h2v8.91h-2zM278 322.33h1v8.91h-1zM55 331.24h1v8.91h-1zM92 331.24h1v8.91h-1zM95 331.24h2v8.91h-2zM242 331.24h1v8.91h-1zM73 340.15h2v8.91h-2zM93 340.15h2v8.91h-2zM154 340.15h2v8.91h-2zM111 349.06h2v8.91h-2zM160 349.06h1v8.91h-1zM236 349.06h1v8.91h-1zM256 357.97h2v8.91h-2zM268 357.97h2v8.91h-2zM54 366.88h1v8.91h-1zM87 384.70h1v8.91h-1zM93 384.70h2v8.91h-2zM102 384.70h1v8.91h-1zM120 384.70h2v8.91h-2zM55 393.60h1v8.91h-1zM61 393.60h1v8.91h-1zM76 393.60h1v8.91h-1zM102 393.60h1v8.91h-1zM260 393.60h1v8.91h-1zM53 402.51h1v8.91h-1zM68 402.51h1v8.91h-1zM73 402.51h3v8.91h-3zM92 402.51h1v8.91h-1zM120 402.51h2v8.91h-2zM209 402.51h2v8.91h-2zM117 411.42h3v8.91h-3zM160 411.42h1v8.91h-1zM73 420.33h2v8.91h-2zM81 420.33h1v8.91h-1zM104 420.33h2v8.91h-2zM79 429.24h1v8.91h-1zM213 429.24h2v8.91h-2zM115 438.15h2v8.91h-2zM150 438.15h1v8.91h-1zM247 438.15h1v8.91h-1zM262 438.15h2v8.91h-2zM61 447.06h1v8.91h-1zM85 447.06h1v8.91h-1zM95 447.06h2v8.91h-2zM270 447.06h1v8.91h-1zM150 455.97h1v8.91h-1zM227 455.97h1v8.91h-1zM259 455.97h1v8.91h-1zM57 464.88h1v8.91h-1zM150 464.88h1v8.91h-1zM188 464.88h1v8.91h-1zM219 464.88h2v8.91h-2zM229 464.88h2v8.91h-2zM232 473.79h1v8.91h-1z"/>
<path fill="#ecb9ac" shape-rendering="crispEdges" d="M108 295.60h1v8.91h-1zM173 295.60h2v8.91h-2zM225 295.60h2v8.91h-2zM242 295.60h1v8.91h-1zM109 304.51h2v8.91h-2zM113 304.51h2v8.91h-2zM149 304.51h1v8.91h-1zM155 304.51h1v8.91h-1zM235 304.51h1v8.91h-1zM243 304.51h2v8.91h-2zM258 304.51h1v8.91h-1zM120 313.42h2v8.91h-2zM128 313.42h1v8.91h-1zM133 313.42h1v8.91h-1zM152 313.42h2v8.91h-2zM155 313.42h1v8.91h-1zM159 313.42h1v8.91h-1zM165 313.42h1v8.91h-1zM190 313.42h2v8.91h-2zM236 313.42h1v8.91h-1zM73 322.33h2v8.91h-2zM78 322.33h2v8.91h-2zM142 322.33h2v8.91h-2zM173 322.33h2v8.91h-2zM190 322.33h2v8.91h-2zM248 322.33h2v8.91h-2zM97 331.24h1v8.91h-1zM106 331.24h2v8.91h-2zM152 331.24h2v8.91h-2zM62 340.15h2v8.91h-2zM98 340.15h2v8.91h-2zM115 340.15h2v8.91h-2zM128 340.15h1v8.91h-1zM190 340.15h2v8.91h-2zM255 340.15h1v8.91h-1zM258 340.15h2v8.91h-2zM61 349.06h1v8.91h-1zM68 349.06h1v8.91h-1zM73 349.06h2v8.91h-2zM92 349.06h1v8.91h-1zM146 349.06h1v8.91h-1zM149 349.06h1v8.91h-1zM172 349.06h1v8.91h-1zM200 349.06h1v8.91h-1zM239 349.06h2v8.91h-2zM247 349.06h1v8.91h-1zM250 349.06h2v8.91h-2zM258 349.06h1v8.91h-1zM277 349.06h2v8.91h-2zM102 357.97h1v8.91h-1zM111 357.97h2v8.91h-2zM160 357.97h1v8.91h-1zM232 357.97h1v8.91h-1zM270 357.97h1v8.91h-1zM137 366.88h1v8.91h-1zM259 366.88h1v8.91h-1zM60 375.79h1v8.91h-1zM75 375.79h1v8.91h-1zM81 375.79h1v8.91h-1zM90 375.79h2v8.91h-2zM160 375.79h1v8.91h-1zM218 375.79h1v8.91h-1zM237 375.79h2v8.91h-2zM241 375.79h1v8.91h-1zM250 375.79h2v8.91h-2zM256 375.79h2v8.91h-2zM57 384.70h1v8.91h-1zM85 384.70h1v8.91h-1zM265 384.70h2v8.91h-2zM97 393.60h1v8.91h-1zM109 393.60h2v8.91h-2zM160 393.60h1v8.91h-1zM215 393.60h1v8.91h-1zM247 393.60h1v8.91h-1zM259 393.60h1v8.91h-1zM76 402.51h1v8.91h-1zM104 402.51h2v8.91h-2zM111 402.51h2v8.91h-2zM232 402.51h1v8.91h-1zM250 402.51h2v8.91h-2zM256 402.51h2v8.91h-2zM260 402.51h1v8.91h-1zM61 411.42h1v8.91h-1zM81 411.42h1v8.91h-1zM100 411.42h2v8.91h-2zM145 411.42h1v8.91h-1zM241 411.42h1v8.91h-1zM245 411.42h2v8.91h-2zM271 411.42h2v8.91h-2zM109 420.33h2v8.91h-2zM161 420.33h1v8.91h-1zM245 420.33h2v8.91h-2zM277 420.33h1v8.91h-1zM192 429.24h2v8.91h-2zM273 429.24h2v8.91h-2zM276 429.24h1v8.91h-1zM86 438.15h1v8.91h-1zM103 438.15h1v8.91h-1zM125 438.15h1v8.91h-1zM151 438.15h1v8.91h-1zM162 438.15h1v8.91h-1zM165 438.15h1v8.91h-1zM175 438.15h1v8.91h-1zM183 438.15h2v8.91h-2zM227 438.15h1v8.91h-1zM241 438.15h1v8.91h-1zM245 438.15h2v8.91h-2zM265 438.15h3v8.91h-3zM272 438.15h1v8.91h-1zM62 447.06h2v8.91h-2zM77 447.06h1v8.91h-1zM133 447.06h1v8.91h-1zM157 447.06h2v8.91h-2zM161 447.06h1v8.91h-1zM205 447.06h2v8.91h-2zM213 447.06h2v8.91h-2zM53 455.97h1v8.91h-1zM126 455.97h2v8.91h-2zM134 455.97h1v8.91h-1zM142 455.97h2v8.91h-2zM152 455.97h2v8.91h-2zM169 455.97h2v8.91h-2zM181 455.97h2v8.91h-2zM218 455.97h1v8.91h-1zM231 455.97h1v8.91h-1zM255 455.97h1v8.91h-1zM261 455.97h1v8.91h-1zM270 455.97h1v8.91h-1zM100 464.88h2v8.91h-2zM137 464.88h2v8.91h-2zM145 464.88h1v8.91h-1zM166 464.88h1v8.91h-1zM185 464.88h2v8.91h-2zM194 464.88h1v8.91h-1zM218 464.88h1v8.91h-1zM75 473.79h1v8.91h-1zM124 473.79h1v8.91h-1zM137 473.79h1v8.91h-1zM192 473.79h1v8.91h-1zM218 473.79h1v8.91h-1z"/>
<path fill="#df5359" shape-rendering="crispEdges" d="M113 295.60h2v8.91h-2zM150 295.60h1v8.91h-1zM140 304.51h2v8.91h-2zM247 304.51h1v8.91h-1zM53 313.42h1v8.91h-1zM56 313.42h1v8.91h-1zM243 313.42h2v8.91h-2zM60 322.33h1v8.91h-1zM118 322.33h2v8.91h-2zM247 322.33h1v8.91h-1zM61 331.24h1v8.91h-1zM81 340.15h1v8.91h-1zM92 340.15h1v8.91h-1zM102 340.15h1v8.91h-1zM160 340.15h1v8.91h-1zM165 340.15h1v8.91h-1zM261 340.15h1v8.91h-1zM243 349.06h2v8.91h-2zM103 366.88h1v8.91h-1zM76 384.70h1v8.91h-1zM109 384.70h2v8.91h-2zM247 384.70h1v8.91h-1zM274 384.70h1v8.91h-1zM93 393.60h4v8.91h-4zM54 402.51h1v8.91h-1zM84 402.51h1v8.91h-1zM115 402.51h2v8.91h-2zM87 411.42h1v8.91h-1zM259 411.42h1v8.91h-1zM268 411.42h2v8.91h-2zM103 420.33h1v8.91h-1zM118 420.33h2v8.91h-2zM215 429.24h3v8.91h-3zM219 429.24h1v8.91h-1zM87 438.15h1v8.91h-1zM92 438.15h1v8.91h-1zM100 438.15h3v8.91h-3zM93 447.06h2v8.91h-2zM98 447.06h2v8.91h-2zM260 447.06h2v8.91h-2zM104 464.88h2v8.91h-2zM219 473.79h2v8.91h-2zM227 473.79h1v8.91h-1z"/>
<path fill="#eac1b7" shape-rendering="crispEdges" d="M120 295.60h2v8.91h-2zM129 295.60h1v8.91h-1zM134 295.60h1v8.91h-1zM178 295.60h1v8.91h-1zM200 295.60h1v8.91h-1zM229 295.60h2v8.91h-2zM265 295.60h2v8.91h-2zM270 295.60h1v8.91h-1zM100 304.51h2v8.91h-2zM145 304.51h1v8.91h-1zM152 304.51h2v8.91h-2zM176 304.51h2v8.91h-2zM183 304.51h1v8.91h-1zM241 304.51h2v8.91h-2zM272 304.51h1v8.91h-1zM68 313.42h3v8.91h-3zM77 313.42h1v8.91h-1zM100 313.42h2v8.91h-2zM122 313.42h2v8.91h-2zM145 313.42h2v8.91h-2zM162 313.42h1v8.91h-1zM264 313.42h1v8.91h-1zM93 322.33h2v8.91h-2zM162 322.33h1v8.91h-1zM236 322.33h1v8.91h-1zM245 322.33h2v8.91h-2zM75 331.24h1v8.91h-1zM98 331.24h2v8.91h-2zM218 331.24h1v8.91h-1zM252 331.24h2v8.91h-2zM58 340.15h1v8.91h-1zM69 340.15h2v8.91h-2zM140 340.15h2v8.91h-2zM176 340.15h2v8.91h-2zM245 340.15h2v8.91h-2zM277 340.15h1v8.91h-1zM55 349.06h1v8.91h-1zM62 349.06h2v8.91h-2zM69 349.06h2v8.91h-2zM76 349.06h1v8.91h-1zM81 349.06h1v8.91h-1zM125 349.06h1v8.91h-1zM227 349.06h1v8.91h-1zM53 357.97h1v8.91h-1zM82 357.97h2v8.91h-2zM189 357.97h1v8.91h-1zM259 357.97h1v8.91h-1zM274 357.97h1v8.91h-1zM60 366.88h1v8.91h-1zM71 366.88h2v8.91h-2zM76 366.88h1v8.91h-1zM160 366.88h1v8.91h-1zM65 375.79h1v8.91h-1zM162 375.79h1v8.91h-1zM236 375.79h1v8.91h-1zM259 375.79h1v8.91h-1zM66 384.70h2v8.91h-2zM117 384.70h1v8.91h-1zM227 384.70h1v8.91h-1zM241 384.70h2v8.91h-2zM248 384.70h2v8.91h-2zM278 384.70h1v8.91h-1zM64 393.60h1v8.91h-1zM108 393.60h1v8.91h-1zM117 393.60h1v8.91h-1zM162 393.60h1v8.91h-1zM248 393.60h2v8.91h-2zM252 393.60h2v8.91h-2zM264 393.60h1v8.91h-1zM58 402.51h1v8.91h-1zM85 402.51h1v8.91h-1zM90 402.51h2v8.91h-2zM95 402.51h2v8.91h-2zM106 402.51h3v8.91h-3zM189 402.51h1v8.91h-1zM242 402.51h1v8.91h-1zM58 411.42h1v8.91h-1zM62 411.42h2v8.91h-2zM68 411.42h1v8.91h-1zM71 411.42h4v8.91h-4zM98 411.42h2v8.91h-2zM235 411.42h1v8.91h-1zM273 411.42h1v8.91h-1zM58 420.33h1v8.91h-1zM108 420.33h1v8.91h-1zM115 420.33h2v8.91h-2zM135 420.33h2v8.91h-2zM237 420.33h2v8.91h-2zM262 420.33h2v8.91h-2zM67 429.24h1v8.91h-1zM170 429.24h1v8.91h-1zM172 429.24h4v8.91h-4zM190 429.24h2v8.91h-2zM270 429.24h1v8.91h-1zM272 429.24h1v8.91h-1zM275 429.24h1v8.91h-1zM90 438.15h2v8.91h-2zM163 438.15h2v8.91h-2zM187 438.15h1v8.91h-1zM223 438.15h2v8.91h-2zM228 438.15h1v8.91h-1zM235 438.15h1v8.91h-1zM252 438.15h2v8.91h-2zM275 438.15h2v8.91h-2zM109 447.06h2v8.91h-2zM221 447.06h2v8.91h-2zM255 447.06h1v8.91h-1zM258 447.06h1v8.91h-1zM271 447.06h1v8.91h-1zM133 455.97h1v8.91h-1zM137 455.97h1v8.91h-1zM151 455.97h1v8.91h-1zM197 455.97h2v8.91h-2zM215 455.97h1v8.91h-1zM219 455.97h2v8.91h-2zM258 455.97h1v8.91h-1zM66 464.88h2v8.91h-2zM73 464.88h2v8.91h-2zM103 464.88h1v8.91h-1zM156 464.88h1v8.91h-1zM193 464.88h1v8.91h-1zM197 464.88h2v8.91h-2zM207 464.88h2v8.91h-2zM225 464.88h1v8.91h-1zM234 464.88h1v8.91h-1zM81 473.79h1v8.91h-1zM138 473.79h1v8.91h-1zM200 473.79h1v8.91h-1zM211 473.79h2v8.91h-2zM215 473.79h3v8.91h-3zM268 473.79h2v8.91h-2z"/>
<path fill="#799be8" shape-rendering="crispEdges" d="M130 295.60h2v8.91h-2zM154 295.60h1v8.91h-1zM258 295.60h1v8.91h-1zM60 304.51h1v8.91h-1zM68 304.51h1v8.91h-1zM71 304.51h2v8.91h-2zM80 304.51h1v8.91h-1zM103 304.51h1v8.91h-1zM275 304.51h2v8.91h-2zM59 313.42h1v8.91h-1zM213 313.42h2v8.91h-2zM231 313.42h1v8.91h-1zM233 322.33h1v8.91h-1zM138 331.24h1v8.91h-1zM147 331.24h1v8.91h-1zM171 331.24h1v8.91h-1zM178 331.24h1v8.91h-1zM190 331.24h2v8.91h-2zM216 331.24h2v8.91h-2zM231 331.24h1v8.91h-1zM192 340.15h1v8.91h-1zM228 340.15h1v8.91h-1zM58 349.06h1v8.91h-1zM130 349.06h2v8.91h-2zM201 349.06h2v8.91h-2zM234 349.06h1v8.91h-1zM275 349.06h2v8.91h-2zM146 357.97h1v8.91h-1zM183 357.97h1v8.91h-1zM207 357.97h2v8.91h-2zM216 357.97h2v8.91h-2zM223 357.97h3v8.91h-3zM126 366.88h2v8.91h-2zM139 366.88h3v8.91h-3zM171 366.88h1v8.91h-1zM179 366.88h2v8.91h-2zM216 366.88h3v8.91h-3zM126 375.79h2v8.91h-2zM130 375.79h2v8.91h-2zM134 375.79h1v8.91h-1zM140 375.79h2v8.91h-2zM175 375.79h1v8.91h-1zM195 375.79h2v8.91h-2zM205 375.79h2v8.91h-2zM225 375.79h1v8.91h-1zM129 384.70h1v8.91h-1zM144 384.70h1v8.91h-1zM156 384.70h1v8.91h-1zM132 393.60h1v8.91h-1zM142 393.60h2v8.91h-2zM147 393.60h1v8.91h-1zM171 393.60h1v8.91h-1zM192 393.60h1v8.91h-1zM197 393.60h2v8.91h-2zM201 393.60h2v8.91h-2zM209 393.60h2v8.91h-2zM171 402.51h1v8.91h-1zM218 402.51h1v8.91h-1zM156 411.42h1v8.91h-1zM181 411.42h2v8.91h-2zM185 411.42h3v8.91h-3zM194 411.42h1v8.91h-1zM199 411.42h1v8.91h-1zM201 411.42h2v8.91h-2zM59 420.33h1v8.91h-1zM148 420.33h1v8.91h-1zM190 420.33h2v8.91h-2zM195 420.33h2v8.91h-2zM205 420.33h4v8.91h-4zM275 420.33h2v8.91h-2zM100 429.24h1v8.91h-1zM102 429.24h1v8.91h-1zM138 429.24h2v8.91h-2zM235 429.24h1v8.91h-1zM239 429.24h3v8.91h-3zM78 438.15h2v8.91h-2zM201 438.15h2v8.91h-2zM166 447.06h1v8.91h-1zM188 447.06h1v8.91h-1zM192 447.06h1v8.91h-1zM78 455.97h2v8.91h-2zM106 455.97h2v8.91h-2zM144 455.97h1v8.91h-1zM148 464.88h1v8.91h-1zM53 473.79h1v8.91h-1zM64 473.79h1v8.91h-1zM66 473.79h2v8.91h-2zM88 473.79h2v8.91h-2zM250 473.79h2v8.91h-2zM265 473.79h2v8.91h-2z"/>
<path fill="#90adeb" shape-rendering="crispEdges" d="M138 295.60h1v8.91h-1zM157 295.60h2v8.91h-2zM219 295.60h2v8.91h-2zM248 295.60h2v8.91h-2zM272 295.60h1v8.91h-1zM85 304.51h1v8.91h-1zM201 304.51h2v8.91h-2zM207 304.51h2v8.91h-2zM225 304.51h1v8.91h-1zM233 304.51h1v8.91h-1zM156 313.42h1v8.91h-1zM193 313.42h2v8.91h-2zM187 322.33h2v8.91h-2zM216 322.33h2v8.91h-2zM234 322.33h1v8.91h-1zM188 331.24h1v8.91h-1zM201 331.24h2v8.91h-2zM225 331.24h1v8.91h-1zM77 340.15h1v8.91h-1zM124 340.15h1v8.91h-1zM132 340.15h1v8.91h-1zM148 340.15h1v8.91h-1zM151 340.15h1v8.91h-1zM189 340.15h1v8.91h-1zM229 340.15h2v8.91h-2zM234 340.15h1v8.91h-1zM132 349.06h1v8.91h-1zM134 349.06h1v8.91h-1zM163 349.06h2v8.91h-2zM195 349.06h2v8.91h-2zM216 349.06h2v8.91h-2zM229 349.06h2v8.91h-2zM54 357.97h1v8.91h-1zM80 357.97h1v8.91h-1zM113 357.97h2v8.91h-2zM171 357.97h1v8.91h-1zM179 357.97h2v8.91h-2zM184 357.97h1v8.91h-1zM207 366.88h2v8.91h-2zM225 366.88h1v8.91h-1zM132 375.79h1v8.91h-1zM135 375.79h2v8.91h-2zM148 375.79h1v8.91h-1zM167 375.79h2v8.91h-2zM187 375.79h1v8.91h-1zM199 375.79h1v8.91h-1zM252 375.79h2v8.91h-2zM125 384.70h1v8.91h-1zM130 384.70h2v8.91h-2zM135 384.70h2v8.91h-2zM139 384.70h1v8.91h-1zM163 384.70h2v8.91h-2zM234 384.70h1v8.91h-1zM135 393.60h2v8.91h-2zM159 393.60h1v8.91h-1zM163 393.60h2v8.91h-2zM176 393.60h2v8.91h-2zM181 393.60h2v8.91h-2zM216 393.60h2v8.91h-2zM231 393.60h1v8.91h-1zM129 402.51h1v8.91h-1zM134 402.51h1v8.91h-1zM139 402.51h1v8.91h-1zM197 402.51h2v8.91h-2zM227 402.51h1v8.91h-1zM233 402.51h1v8.91h-1zM129 411.42h1v8.91h-1zM176 411.42h2v8.91h-2zM183 411.42h2v8.91h-2zM215 411.42h1v8.91h-1zM233 411.42h1v8.91h-1zM69 420.33h2v8.91h-2zM154 420.33h1v8.91h-1zM187 420.33h1v8.91h-1zM233 420.33h1v8.91h-1zM106 429.24h1v8.91h-1zM142 429.24h3v8.91h-3zM149 429.24h1v8.91h-1zM244 429.24h1v8.91h-1zM148 438.15h1v8.91h-1zM152 438.15h2v8.91h-2zM248 438.15h2v8.91h-2zM151 447.06h1v8.91h-1zM178 447.06h1v8.91h-1zM187 447.06h1v8.91h-1zM216 447.06h2v8.91h-2zM235 447.06h1v8.91h-1zM62 455.97h2v8.91h-2zM75 455.97h3v8.91h-3zM103 455.97h1v8.91h-1zM189 455.97h1v8.91h-1zM192 455.97h1v8.91h-1zM256 455.97h2v8.91h-2zM260 455.97h1v8.91h-1zM267 455.97h1v8.91h-1zM62 464.88h2v8.91h-2zM160 464.88h1v8.91h-1zM173 464.88h2v8.91h-2zM243 464.88h2v8.91h-2zM62 473.79h2v8.91h-2zM106 473.79h2v8.91h-2zM117 473.79h1v8.91h-1zM128 473.79h1v8.91h-1zM140 473.79h2v8.91h-2zM162 473.79h1v8.91h-1zM235 473.79h1v8.91h-1zM256 473.79h2v8.91h-2z"/>
<path fill="#6e90e4" shape-rendering="crispEdges" d="M146 295.60h1v8.91h-1zM201 295.60h2v8.91h-2zM56 304.51h1v8.91h-1zM69 304.51h2v8.91h-2zM195 304.51h2v8.91h-2zM223 313.42h2v8.91h-2zM226 313.42h1v8.91h-1zM166 322.33h3v8.91h-3zM176 322.33h2v8.91h-2zM184 322.33h1v8.91h-1zM134 331.24h1v8.91h-1zM59 340.15h1v8.91h-1zM64 340.15h1v8.91h-1zM187 340.15h1v8.91h-1zM201 340.15h2v8.91h-2zM226 340.15h1v8.91h-1zM175 349.06h1v8.91h-1zM179 349.06h2v8.91h-2zM90 357.97h2v8.91h-2zM138 357.97h1v8.91h-1zM148 357.97h1v8.91h-1zM161 357.97h1v8.91h-1zM188 357.97h1v8.91h-1zM156 366.88h1v8.91h-1zM165 366.88h1v8.91h-1zM192 366.88h1v8.91h-1zM129 375.79h1v8.91h-1zM157 375.79h2v8.91h-2zM211 375.79h2v8.91h-2zM233 375.79h1v8.91h-1zM157 384.70h2v8.91h-2zM166 384.70h1v8.91h-1zM175 384.70h1v8.91h-1zM183 384.70h2v8.91h-2zM195 384.70h2v8.91h-2zM226 384.70h1v8.91h-1zM166 393.60h1v8.91h-1zM223 393.60h2v8.91h-2zM126 402.51h2v8.91h-2zM132 402.51h1v8.91h-1zM151 402.51h1v8.91h-1zM165 402.51h1v8.91h-1zM229 402.51h2v8.91h-2zM234 402.51h1v8.91h-1zM275 402.51h2v8.91h-2zM144 411.42h1v8.91h-1zM172 411.42h1v8.91h-1zM205 411.42h2v8.91h-2zM156 420.33h1v8.91h-1zM178 420.33h1v8.91h-1zM185 420.33h2v8.91h-2zM219 420.33h2v8.91h-2zM93 429.24h4v8.91h-4zM98 429.24h2v8.91h-2zM136 429.24h2v8.91h-2zM140 429.24h2v8.91h-2zM237 429.24h2v8.91h-2zM77 438.15h1v8.91h-1zM80 438.15h1v8.91h-1zM221 438.15h2v8.91h-2zM233 447.06h1v8.91h-1zM264 447.06h1v8.91h-1zM54 455.97h1v8.91h-1zM237 464.88h2v8.91h-2zM265 464.88h2v8.91h-2zM111 473.79h2v8.91h-2zM148 473.79h1v8.91h-1zM195 473.79h2v8.91h-2z"/>
<path fill="#efb2a0" shape-rendering="crispEdges" d="M147 295.60h1v8.91h-1zM211 295.60h2v8.91h-2zM247 295.60h1v8.91h-1zM262 295.60h2v8.91h-2zM187 304.51h1v8.91h-1zM213 304.51h2v8.91h-2zM228 304.51h1v8.91h-1zM236 304.51h1v8.91h-1zM267 304.51h1v8.91h-1zM104 313.42h2v8.91h-2zM111 313.42h2v8.91h-2zM197 313.42h2v8.91h-2zM235 313.42h1v8.91h-1zM64 322.33h1v8.91h-1zM69 322.33h2v8.91h-2zM76 322.33h1v8.91h-1zM98 322.33h2v8.91h-2zM160 322.33h1v8.91h-1zM165 322.33h1v8.91h-1zM235 322.33h1v8.91h-1zM267 322.33h1v8.91h-1zM277 322.33h1v8.91h-1zM60 331.24h1v8.91h-1zM80 331.24h2v8.91h-2zM108 331.24h1v8.91h-1zM113 331.24h2v8.91h-2zM145 331.24h1v8.91h-1zM172 331.24h3v8.91h-3zM176 331.24h2v8.91h-2zM197 331.24h2v8.91h-2zM236 331.24h1v8.91h-1zM239 331.24h2v8.91h-2zM258 331.24h1v8.91h-1zM61 340.15h1v8.91h-1zM85 340.15h1v8.91h-1zM87 340.15h1v8.91h-1zM133 340.15h1v8.91h-1zM145 340.15h1v8.91h-1zM169 340.15h2v8.91h-2zM203 340.15h2v8.91h-2zM225 340.15h1v8.91h-1zM57 349.06h1v8.91h-1zM93 349.06h2v8.91h-2zM102 349.06h1v8.91h-1zM109 349.06h2v8.91h-2zM190 349.06h2v8.91h-2zM232 349.06h1v8.91h-1zM273 349.06h1v8.91h-1zM120 357.97h2v8.91h-2zM162 357.97h1v8.91h-1zM271 357.97h1v8.91h-1zM104 366.88h2v8.91h-2zM232 366.88h1v8.91h-1zM242 366.88h1v8.91h-1zM270 366.88h1v8.91h-1zM73 375.79h2v8.91h-2zM76 375.79h1v8.91h-1zM95 375.79h2v8.91h-2zM242 375.79h1v8.91h-1zM248 375.79h2v8.91h-2zM260 375.79h1v8.91h-1zM270 375.79h1v8.91h-1zM277 375.79h1v8.91h-1zM58 384.70h1v8.91h-1zM68 384.70h1v8.91h-1zM80 384.70h1v8.91h-1zM98 384.70h4v8.91h-4zM108 384.70h1v8.91h-1zM160 384.70h1v8.91h-1zM235 384.70h1v8.91h-1zM69 393.60h2v8.91h-2zM77 393.60h1v8.91h-1zM106 393.60h2v8.91h-2zM255 393.60h1v8.91h-1zM265 393.60h2v8.91h-2zM93 402.51h2v8.91h-2zM243 402.51h4v8.91h-4zM259 402.51h1v8.91h-1zM56 411.42h1v8.91h-1zM76 411.42h2v8.91h-2zM95 411.42h2v8.91h-2zM106 411.42h2v8.91h-2zM169 411.42h2v8.91h-2zM189 411.42h1v8.91h-1zM200 411.42h1v8.91h-1zM250 411.42h2v8.91h-2zM256 411.42h2v8.91h-2zM54 420.33h1v8.91h-1zM75 420.33h1v8.91h-1zM77 420.33h1v8.91h-1zM87 420.33h1v8.91h-1zM162 420.33h1v8.91h-1zM169 420.33h2v8.91h-2zM172 420.33h1v8.91h-1zM241 420.33h1v8.91h-1zM260 420.33h1v8.91h-1zM264 420.33h1v8.91h-1zM68 429.24h1v8.91h-1zM71 429.24h1v8.91h-1zM176 429.24h1v8.91h-1zM178 429.24h1v8.91h-1zM181 429.24h1v8.91h-1zM194 429.24h2v8.91h-2zM197 429.24h1v8.91h-1zM271 429.24h1v8.91h-1zM55 438.15h1v8.91h-1zM98 438.15h2v8.91h-2zM109 438.15h2v8.91h-2zM126 438.15h2v8.91h-2zM155 438.15h1v8.91h-1zM231 438.15h1v8.91h-1zM237 438.15h2v8.91h-2zM254 438.15h1v8.91h-1zM64 447.06h1v8.91h-1zM88 447.06h2v8.91h-2zM125 447.06h1v8.91h-1zM162 447.06h1v8.91h-1zM227 447.06h1v8.91h-1zM242 447.06h1v8.91h-1zM203 455.97h2v8.91h-2zM225 455.97h1v8.91h-1zM234 455.97h2v8.91h-2zM71 464.88h2v8.91h-2zM80 464.88h2v8.91h-2zM109 464.88h2v8.91h-2zM117 464.88h1v8.91h-1zM140 464.88h2v8.91h-2zM172 464.88h1v8.91h-1zM100 473.79h2v8.91h-2zM113 473.79h2v8.91h-2zM120 473.79h2v8.91h-2zM133 473.79h1v8.91h-1zM172 473.79h1v8.91h-1zM179 473.79h2v8.91h-2zM184 473.79h1v8.91h-1zM190 473.79h2v8.91h-2zM197 473.79h2v8.91h-2zM203 473.79h2v8.91h-2z"/>
<path fill="#84a6ec" shape-rendering="crispEdges" d="M152 295.60h2v8.91h-2zM159 295.60h1v8.91h-1zM171 295.60h1v8.91h-1zM57 304.51h1v8.91h-1zM90 304.51h2v8.91h-2zM111 304.51h2v8.91h-2zM215 304.51h1v8.91h-1zM201 313.42h2v8.91h-2zM159 322.33h1v8.91h-1zM183 322.33h1v8.91h-1zM205 322.33h2v8.91h-2zM275 322.33h2v8.91h-2zM126 331.24h2v8.91h-2zM156 331.24h1v8.91h-1zM166 331.24h1v8.91h-1zM209 331.24h2v8.91h-2zM147 340.15h1v8.91h-1zM184 340.15h1v8.91h-1zM223 340.15h2v8.91h-2zM139 349.06h1v8.91h-1zM148 349.06h1v8.91h-1zM161 349.06h1v8.91h-1zM167 349.06h2v8.91h-2zM176 349.06h2v8.91h-2zM183 349.06h2v8.91h-2zM192 349.06h1v8.91h-1zM69 357.97h2v8.91h-2zM144 357.97h1v8.91h-1zM147 357.97h1v8.91h-1zM150 357.97h1v8.91h-1zM175 357.97h1v8.91h-1zM187 357.97h1v8.91h-1zM194 357.97h1v8.91h-1zM234 357.97h1v8.91h-1zM252 357.97h2v8.91h-2zM272 357.97h1v8.91h-1zM124 366.88h1v8.91h-1zM150 366.88h1v8.91h-1zM215 366.88h1v8.91h-1zM219 366.88h2v8.91h-2zM108 375.79h1v8.91h-1zM156 375.79h1v8.91h-1zM161 375.79h1v8.91h-1zM176 375.79h2v8.91h-2zM183 375.79h2v8.91h-2zM213 375.79h2v8.91h-2zM216 375.79h2v8.91h-2zM219 375.79h2v8.91h-2zM223 375.79h2v8.91h-2zM148 384.70h1v8.91h-1zM176 384.70h2v8.91h-2zM187 384.70h2v8.91h-2zM211 384.70h2v8.91h-2zM227 393.60h1v8.91h-1zM66 402.51h2v8.91h-2zM147 402.51h1v8.91h-1zM154 402.51h1v8.91h-1zM159 402.51h1v8.91h-1zM188 402.51h1v8.91h-1zM215 402.51h1v8.91h-1zM132 411.42h1v8.91h-1zM161 411.42h1v8.91h-1zM173 411.42h2v8.91h-2zM193 411.42h1v8.91h-1zM221 411.42h2v8.91h-2zM234 411.42h1v8.91h-1zM179 420.33h2v8.91h-2zM201 420.33h2v8.91h-2zM218 420.33h1v8.91h-1zM101 429.24h1v8.91h-1zM103 429.24h3v8.91h-3zM242 429.24h2v8.91h-2zM61 438.15h1v8.91h-1zM195 438.15h2v8.91h-2zM139 447.06h1v8.91h-1zM146 447.06h1v8.91h-1zM218 447.06h3v8.91h-3zM228 447.06h3v8.91h-3zM61 455.97h1v8.91h-1zM86 455.97h2v8.91h-2zM108 455.97h1v8.91h-1zM120 455.97h2v8.91h-2zM148 455.97h1v8.91h-1zM64 464.88h1v8.91h-1zM122 464.88h2v8.91h-2zM128 464.88h1v8.91h-1zM190 464.88h2v8.91h-2zM273 464.88h1v8.91h-1zM54 473.79h1v8.91h-1zM60 473.79h2v8.91h-2zM267 473.79h1v8.91h-1z"/>
<path fill="#6386e0" shape-rendering="crispEdges" d="M161 295.60h1v8.91h-1zM221 295.60h2v8.91h-2zM78 304.51h2v8.91h-2zM157 304.51h2v8.91h-2zM197 304.51h2v8.91h-2zM166 313.42h1v8.91h-1zM175 313.42h1v8.91h-1zM178 313.42h1v8.91h-1zM216 313.42h2v8.91h-2zM128 322.33h1v8.91h-1zM130 322.33h3v8.91h-3zM223 322.33h2v8.91h-2zM195 331.24h2v8.91h-2zM234 331.24h1v8.91h-1zM195 340.15h2v8.91h-2zM233 340.15h1v8.91h-1zM138 349.06h1v8.91h-1zM207 349.06h2v8.91h-2zM215 349.06h1v8.91h-1zM128 357.97h1v8.91h-1zM233 357.97h1v8.91h-1zM132 366.88h1v8.91h-1zM161 366.88h1v8.91h-1zM193 366.88h1v8.91h-1zM201 366.88h2v8.91h-2zM223 366.88h2v8.91h-2zM229 366.88h2v8.91h-2zM166 375.79h1v8.91h-1zM181 375.79h2v8.91h-2zM189 375.79h1v8.91h-1zM194 375.79h1v8.91h-1zM201 375.79h2v8.91h-2zM215 375.79h1v8.91h-1zM231 384.70h1v8.91h-1zM129 393.60h1v8.91h-1zM139 393.60h1v8.91h-1zM144 393.60h1v8.91h-1zM203 393.60h2v8.91h-2zM144 402.51h1v8.91h-1zM192 402.51h1v8.91h-1zM201 402.51h2v8.91h-2zM216 402.51h2v8.91h-2zM223 402.51h2v8.91h-2zM130 411.42h2v8.91h-2zM138 420.33h1v8.91h-1zM151 420.33h1v8.91h-1zM166 420.33h1v8.91h-1zM188 420.33h2v8.91h-2zM228 420.33h1v8.91h-1zM97 429.24h1v8.91h-1zM130 429.24h2v8.91h-2zM133 429.24h1v8.91h-1zM135 429.24h1v8.91h-1zM236 429.24h1v8.91h-1zM80 455.97h1v8.91h-1zM248 464.88h2v8.91h-2zM264 464.88h1v8.91h-1zM73 473.79h2v8.91h-2z"/>
<path fill="#ec8276" shape-rendering="crispEdges" d="M181 295.60h2v8.91h-2zM245 295.60h2v8.91h-2zM118 304.51h2v8.91h-2zM134 304.51h1v8.91h-1zM260 304.51h1v8.91h-1zM268 304.51h2v8.91h-2zM84 313.42h1v8.91h-1zM255 313.42h5v8.91h-5zM53 322.33h1v8.91h-1zM62 322.33h2v8.91h-2zM81 322.33h1v8.91h-1zM256 322.33h2v8.91h-2zM271 322.33h1v8.91h-1zM274 322.33h1v8.91h-1zM73 331.24h2v8.91h-2zM78 331.24h2v8.91h-2zM273 331.24h1v8.91h-1zM277 331.24h2v8.91h-2zM57 340.15h1v8.91h-1zM82 340.15h3v8.91h-3zM104 340.15h2v8.91h-2zM122 340.15h2v8.91h-2zM134 340.15h1v8.91h-1zM172 340.15h1v8.91h-1zM239 340.15h2v8.91h-2zM274 340.15h1v8.91h-1zM118 349.06h6v8.91h-6zM254 357.97h1v8.91h-1zM81 366.88h1v8.91h-1zM100 366.88h2v8.91h-2zM145 366.88h1v8.91h-1zM261 366.88h3v8.91h-3zM277 366.88h2v8.91h-2zM53 375.79h1v8.91h-1zM66 375.79h2v8.91h-2zM78 375.79h2v8.91h-2zM258 375.79h1v8.91h-1zM273 375.79h1v8.91h-1zM75 384.70h1v8.91h-1zM78 384.70h2v8.91h-2zM53 393.60h1v8.91h-1zM81 393.60h1v8.91h-1zM90 393.60h2v8.91h-2zM100 393.60h2v8.91h-2zM104 393.60h2v8.91h-2zM239 393.60h2v8.91h-2zM270 393.60h1v8.91h-1zM71 402.51h2v8.91h-2zM77 402.51h1v8.91h-1zM87 402.51h1v8.91h-1zM255 402.51h1v8.91h-1zM267 402.51h1v8.91h-1zM55 411.42h1v8.91h-1zM57 411.42h1v8.91h-1zM69 411.42h2v8.91h-2zM109 411.42h2v8.91h-2zM247 411.42h1v8.91h-1zM53 420.33h1v8.91h-1zM56 420.33h1v8.91h-1zM71 420.33h2v8.91h-2zM82 420.33h2v8.91h-2zM85 420.33h1v8.91h-1zM93 420.33h2v8.91h-2zM255 420.33h1v8.91h-1zM78 429.24h1v8.91h-1zM207 429.24h6v8.91h-6zM71 447.06h2v8.91h-2zM169 447.06h2v8.91h-2zM243 447.06h2v8.91h-2zM254 447.06h1v8.91h-1zM259 447.06h1v8.91h-1zM228 455.97h1v8.91h-1zM264 455.97h1v8.91h-1zM226 473.79h1v8.91h-1z"/>
<path fill="#4d70d8" shape-rendering="crispEdges" d="M54 304.51h2v8.91h-2zM62 304.51h2v8.91h-2zM192 313.42h1v8.91h-1zM147 322.33h1v8.91h-1zM171 322.33h1v8.91h-1zM228 322.33h1v8.91h-1zM130 331.24h3v8.91h-3zM187 331.24h1v8.91h-1zM228 331.24h1v8.91h-1zM193 340.15h1v8.91h-1zM124 349.06h1v8.91h-1zM75 357.97h1v8.91h-1zM97 357.97h1v8.91h-1zM132 357.97h1v8.91h-1zM218 357.97h1v8.91h-1zM188 366.88h1v8.91h-1zM138 375.79h1v8.91h-1zM163 375.79h2v8.91h-2zM171 375.79h1v8.91h-1zM226 375.79h1v8.91h-1zM231 375.79h1v8.91h-1zM171 384.70h1v8.91h-1zM199 384.70h1v8.91h-1zM151 393.60h1v8.91h-1zM183 393.60h1v8.91h-1zM195 393.60h2v8.91h-2zM229 393.60h2v8.91h-2zM138 402.51h1v8.91h-1zM187 402.51h1v8.91h-1zM148 411.42h1v8.91h-1zM175 411.42h1v8.91h-1zM223 411.42h2v8.91h-2zM147 420.33h1v8.91h-1zM171 420.33h1v8.91h-1zM86 429.24h3v8.91h-3zM60 455.97h1v8.91h-1zM54 464.88h1v8.91h-1zM135 464.88h2v8.91h-2zM236 464.88h1v8.91h-1zM239 464.88h3v8.91h-3zM68 473.79h1v8.91h-1zM160 473.79h1v8.91h-1zM261 473.79h1v8.91h-1zM272 473.79h1v8.91h-1z"/>
<path fill="#587bdc" shape-rendering="crispEdges" d="M84 304.51h1v8.91h-1zM209 304.51h2v8.91h-2zM132 313.42h1v8.91h-1zM163 331.24h2v8.91h-2zM226 331.24h1v8.91h-1zM229 331.24h2v8.91h-2zM226 349.06h1v8.91h-1zM233 349.06h1v8.91h-1zM166 357.97h1v8.91h-1zM148 366.88h1v8.91h-1zM159 366.88h1v8.91h-1zM166 366.88h1v8.91h-1zM199 366.88h1v8.91h-1zM203 366.88h2v8.91h-2zM233 366.88h1v8.91h-1zM178 375.79h1v8.91h-1zM188 375.79h1v8.91h-1zM228 375.79h1v8.91h-1zM234 375.79h1v8.91h-1zM216 384.70h2v8.91h-2zM184 393.60h1v8.91h-1zM187 393.60h1v8.91h-1zM163 402.51h2v8.91h-2zM188 411.42h1v8.91h-1zM207 411.42h2v8.91h-2zM89 429.24h4v8.91h-4zM128 429.24h1v8.91h-1zM132 429.24h1v8.91h-1zM56 455.97h1v8.91h-1zM66 455.97h2v8.91h-2zM233 455.97h1v8.91h-1zM250 464.88h2v8.91h-2zM255 464.88h1v8.91h-1zM262 464.88h2v8.91h-2zM268 464.88h2v8.91h-2zM69 473.79h4v8.91h-4z"/>
<path fill="#e36363" shape-rendering="crispEdges" d="M169 304.51h3v8.91h-3zM81 313.42h3v8.91h-3zM118 313.42h2v8.91h-2zM65 322.33h1v8.91h-1zM258 322.33h1v8.91h-1zM54 331.24h1v8.91h-1zM118 331.24h2v8.91h-2zM122 331.24h2v8.91h-2zM256 331.24h2v8.91h-2zM243 340.15h2v8.91h-2zM56 349.06h1v8.91h-1zM84 349.06h1v8.91h-1zM87 349.06h1v8.91h-1zM268 349.06h2v8.91h-2zM103 357.97h1v8.91h-1zM56 366.88h1v8.91h-1zM84 366.88h1v8.91h-1zM87 366.88h1v8.91h-1zM98 366.88h2v8.91h-2zM115 366.88h2v8.91h-2zM118 366.88h2v8.91h-2zM274 366.88h1v8.91h-1zM102 375.79h1v8.91h-1zM120 375.79h2v8.91h-2zM60 384.70h1v8.91h-1zM84 384.70h1v8.91h-1zM95 384.70h2v8.91h-2zM118 384.70h2v8.91h-2zM243 384.70h2v8.91h-2zM65 393.60h1v8.91h-1zM243 393.60h2v8.91h-2zM274 393.60h1v8.91h-1zM109 402.51h2v8.91h-2zM155 402.51h1v8.91h-1zM53 411.42h1v8.91h-1zM82 411.42h2v8.91h-2zM239 411.42h2v8.91h-2zM254 420.33h1v8.91h-1zM270 420.33h1v8.91h-1zM274 420.33h1v8.91h-1zM77 429.24h1v8.91h-1zM250 438.15h2v8.91h-2zM255 438.15h1v8.91h-1zM87 447.06h1v8.91h-1zM115 447.06h2v8.91h-2zM145 447.06h1v8.91h-1zM152 447.06h2v8.91h-2zM200 455.97h1v8.91h-1z"/>
<path fill="#d2243c" shape-rendering="crispEdges" d="M255 304.51h1v8.91h-1zM93 313.42h2v8.91h-2zM103 313.42h1v8.91h-1zM160 313.42h1v8.91h-1zM261 313.42h1v8.91h-1zM56 322.33h1v8.91h-1zM82 322.33h2v8.91h-2zM103 322.33h1v8.91h-1zM254 322.33h1v8.91h-1zM261 322.33h1v8.91h-1zM268 322.33h2v8.91h-2zM56 331.24h1v8.91h-1zM82 331.24h2v8.91h-2zM103 331.24h3v8.91h-3zM243 331.24h2v8.91h-2zM254 331.24h1v8.91h-1zM274 331.24h1v8.91h-1zM103 340.15h1v8.91h-1zM254 340.15h1v8.91h-1zM254 349.06h1v8.91h-1zM261 349.06h1v8.91h-1zM270 349.06h1v8.91h-1zM274 349.06h1v8.91h-1zM261 357.97h1v8.91h-1zM93 366.88h2v8.91h-2zM122 366.88h2v8.91h-2zM56 375.79h1v8.91h-1zM61 375.79h1v8.91h-1zM82 375.79h2v8.91h-2zM93 375.79h2v8.91h-2zM103 375.79h1v8.91h-1zM115 375.79h2v8.91h-2zM247 375.79h1v8.91h-1zM268 375.79h2v8.91h-2zM274 375.79h1v8.91h-1zM53 384.70h1v8.91h-1zM56 384.70h1v8.91h-1zM82 384.70h2v8.91h-2zM103 384.70h1v8.91h-1zM122 384.70h2v8.91h-2zM261 384.70h1v8.91h-1zM82 393.60h2v8.91h-2zM103 393.60h1v8.91h-1zM122 393.60h2v8.91h-2zM254 393.60h1v8.91h-1zM261 393.60h1v8.91h-1zM268 393.60h2v8.91h-2zM277 393.60h1v8.91h-1zM56 402.51h1v8.91h-1zM82 402.51h2v8.91h-2zM103 402.51h1v8.91h-1zM239 402.51h2v8.91h-2zM261 402.51h1v8.91h-1zM274 402.51h1v8.91h-1zM120 411.42h4v8.91h-4zM243 411.42h2v8.91h-2zM254 411.42h1v8.91h-1zM261 411.42h1v8.91h-1zM270 411.42h1v8.91h-1zM274 411.42h1v8.91h-1zM61 420.33h1v8.91h-1zM122 420.33h2v8.91h-2zM259 420.33h1v8.91h-1zM223 429.24h3v8.91h-3zM227 429.24h8v8.91h-8zM259 438.15h1v8.91h-1zM268 438.15h2v8.91h-2zM82 447.06h2v8.91h-2zM92 447.06h1v8.91h-1zM104 447.06h2v8.91h-2zM111 447.06h2v8.91h-2zM122 447.06h2v8.91h-2zM156 455.97h1v8.91h-1zM227 464.88h1v8.91h-1zM189 473.79h1v8.91h-1z"/>
<path fill="#4266d4" shape-rendering="crispEdges" d="M188 313.42h1v8.91h-1zM195 313.42h2v8.91h-2zM195 322.33h2v8.91h-2zM218 322.33h1v8.91h-1zM228 349.06h1v8.91h-1zM178 366.88h1v8.91h-1zM132 384.70h1v8.91h-1zM201 384.70h2v8.91h-2zM228 384.70h1v8.91h-1zM226 393.60h1v8.91h-1zM234 393.60h1v8.91h-1zM228 402.51h1v8.91h-1zM166 411.42h1v8.91h-1zM171 411.42h1v8.91h-1zM192 411.42h1v8.91h-1zM229 411.42h2v8.91h-2zM81 429.24h1v8.91h-1zM85 429.24h1v8.91h-1zM126 429.24h2v8.91h-2zM129 429.24h1v8.91h-1zM134 429.24h1v8.91h-1zM56 438.15h1v8.91h-1zM226 447.06h1v8.91h-1zM234 447.06h1v8.91h-1zM161 464.88h1v8.91h-1zM247 464.88h1v8.91h-1zM270 464.88h1v8.91h-1zM274 464.88h3v8.91h-3zM248 473.79h2v8.91h-2z"/>
<path fill="#375bd0" shape-rendering="crispEdges" d="M199 313.42h1v8.91h-1zM175 331.24h1v8.91h-1zM207 331.24h2v8.91h-2zM166 340.15h1v8.91h-1zM159 349.06h1v8.91h-1zM166 349.06h1v8.91h-1zM223 349.06h2v8.91h-2zM192 357.97h1v8.91h-1zM130 366.88h2v8.91h-2zM138 366.88h1v8.91h-1zM138 384.70h1v8.91h-1zM145 384.70h1v8.91h-1zM151 384.70h1v8.91h-1zM229 384.70h2v8.91h-2zM178 393.60h1v8.91h-1zM130 402.51h2v8.91h-2zM195 411.42h2v8.91h-2zM226 420.33h1v8.91h-1zM82 429.24h3v8.91h-3zM125 429.24h1v8.91h-1zM57 455.97h1v8.91h-1zM65 455.97h1v8.91h-1zM68 455.97h1v8.91h-1zM271 464.88h1v8.91h-1zM278 464.88h1v8.91h-1z"/>
<path fill="#d63446" shape-rendering="crispEdges" d="M254 313.42h1v8.91h-1zM243 322.33h2v8.91h-2zM250 322.33h2v8.91h-2zM260 322.33h1v8.91h-1zM270 322.33h1v8.91h-1zM261 331.24h1v8.91h-1zM82 349.06h2v8.91h-2zM103 349.06h1v8.91h-1zM122 357.97h2v8.91h-2zM53 366.88h1v8.91h-1zM82 366.88h2v8.91h-2zM92 366.88h1v8.91h-1zM120 366.88h2v8.91h-2zM243 366.88h2v8.91h-2zM254 366.88h1v8.91h-1zM84 375.79h1v8.91h-1zM122 375.79h2v8.91h-2zM62 384.70h2v8.91h-2zM56 393.60h1v8.91h-1zM92 393.60h1v8.91h-1zM62 402.51h2v8.91h-2zM118 402.51h2v8.91h-2zM122 402.51h2v8.91h-2zM277 402.51h1v8.91h-1zM68 420.33h1v8.91h-1zM218 429.24h1v8.91h-1zM221 429.24h2v8.91h-2zM226 429.24h1v8.91h-1zM53 447.06h1v8.91h-1zM81 447.06h1v8.91h-1zM84 447.06h1v8.91h-1zM102 447.06h2v8.91h-2zM271 455.97h1v8.91h-1zM169 464.88h2v8.91h-2zM199 473.79h1v8.91h-1z"/>
<path fill="#da4450" shape-rendering="crispEdges" d="M61 322.33h1v8.91h-1zM259 322.33h1v8.91h-1zM120 331.24h2v8.91h-2zM268 331.24h2v8.91h-2zM118 340.15h2v8.91h-2zM53 349.06h1v8.91h-1zM92 375.79h1v8.91h-1zM104 375.79h2v8.91h-2zM118 375.79h2v8.91h-2zM254 375.79h1v8.91h-1zM55 384.70h1v8.91h-1zM92 384.70h1v8.91h-1zM254 384.70h1v8.91h-1zM98 393.60h2v8.91h-2zM118 393.60h2v8.91h-2zM102 402.51h1v8.91h-1zM160 402.51h1v8.91h-1zM254 402.51h1v8.91h-1zM270 402.51h1v8.91h-1zM103 411.42h1v8.91h-1zM92 420.33h1v8.91h-1zM120 420.33h2v8.91h-2zM261 420.33h1v8.91h-1zM80 429.24h1v8.91h-1zM220 429.24h1v8.91h-1zM56 447.06h1v8.91h-1zM120 447.06h2v8.91h-2zM146 455.97h1v8.91h-1zM254 455.97h1v8.91h-1zM147 464.88h1v8.91h-1zM145 473.79h1v8.91h-1z"/>
<path fill="#2c50cc" shape-rendering="crispEdges" d="M151 322.33h1v8.91h-1zM151 331.24h1v8.91h-1zM151 349.06h1v8.91h-1zM139 357.97h1v8.91h-1zM151 357.97h1v8.91h-1zM147 366.88h1v8.91h-1zM151 366.88h1v8.91h-1zM159 375.79h1v8.91h-1zM192 375.79h1v8.91h-1zM147 384.70h1v8.91h-1zM192 384.70h1v8.91h-1zM215 384.70h1v8.91h-1zM138 393.60h1v8.91h-1zM148 393.60h1v8.91h-1zM233 393.60h1v8.91h-1zM226 402.51h1v8.91h-1zM138 411.42h1v8.91h-1zM151 411.42h1v8.91h-1zM192 420.33h1v8.91h-1zM229 420.33h2v8.91h-2zM124 429.24h1v8.91h-1zM235 464.88h1v8.91h-1zM242 464.88h1v8.91h-1zM245 464.88h2v8.91h-2zM252 464.88h3v8.91h-3zM256 464.88h6v8.91h-6zM267 464.88h1v8.91h-1zM272 464.88h1v8.91h-1zM277 464.88h1v8.91h-1z"/>
<text x="51.50" y="278.20" font-size="5.6" fill="#222" font-weight="bold" text-anchor="end" textLength="33.50" lengthAdjust="spacingAndGlyphs">TME Subtype</text>
<text x="51.50" y="286.00" font-size="5.6" fill="#222" font-weight="bold" text-anchor="end" textLength="18.50" lengthAdjust="spacingAndGlyphs">Cohort</text>
<text x="51.50" y="293.40" font-size="5.6" fill="#222" font-weight="bold" text-anchor="end" textLength="30.00" lengthAdjust="spacingAndGlyphs">HPV_Status</text>
<text x="52.60" y="303.20" font-size="5.6" fill="#808080" text-anchor="end" textLength="29.59" lengthAdjust="spacingAndGlyphs">Angiogenesis</text>
<text x="52.60" y="312.05" font-size="5.6" fill="#808080" text-anchor="end" textLength="9.86" lengthAdjust="spacingAndGlyphs">CAF</text>
<text x="52.60" y="320.90" font-size="5.6" fill="#808080" text-anchor="end" textLength="14.51" lengthAdjust="spacingAndGlyphs">MDSC</text>
<text x="52.60" y="329.75" font-size="5.6" fill="#808080" text-anchor="end" textLength="52.04" lengthAdjust="spacingAndGlyphs">Coactivation_molecules</text>
<text x="52.60" y="338.60" font-size="5.6" fill="#808080" text-anchor="end" textLength="39.44" lengthAdjust="spacingAndGlyphs">M1_macrophages</text>
<text x="52.60" y="347.45" font-size="5.6" fill="#808080" text-anchor="end" textLength="39.44" lengthAdjust="spacingAndGlyphs">M2_macrophages</text>
<text x="52.60" y="356.30" font-size="5.6" fill="#808080" text-anchor="end" textLength="12.41" lengthAdjust="spacingAndGlyphs">Tregs</text>
<text x="52.60" y="365.15" font-size="5.6" fill="#808080" text-anchor="end" textLength="12.59" lengthAdjust="spacingAndGlyphs">MHCI</text>
<text x="52.60" y="374.00" font-size="5.6" fill="#808080" text-anchor="end" textLength="13.96" lengthAdjust="spacingAndGlyphs">MHCII</text>
<text x="52.60" y="382.85" font-size="5.6" fill="#808080" text-anchor="end" textLength="15.89" lengthAdjust="spacingAndGlyphs">B_cells</text>
<text x="52.60" y="391.70" font-size="5.6" fill="#808080" text-anchor="end" textLength="15.61" lengthAdjust="spacingAndGlyphs">T_cells</text>
<text x="52.60" y="400.55" font-size="5.6" fill="#808080" text-anchor="end" textLength="19.44" lengthAdjust="spacingAndGlyphs">NK_cells</text>
<text x="52.60" y="409.40" font-size="5.6" fill="#808080" text-anchor="end" textLength="29.49" lengthAdjust="spacingAndGlyphs">Effector_cells</text>
<text x="52.60" y="418.25" font-size="5.6" fill="#808080" text-anchor="end" textLength="46.84" lengthAdjust="spacingAndGlyphs">Checkpoint_inhibition</text>
<text x="52.60" y="427.10" font-size="5.6" fill="#808080" text-anchor="end" textLength="27.84" lengthAdjust="spacingAndGlyphs">T_cell_traffic</text>
<text x="52.60" y="435.95" font-size="5.6" fill="#808080" text-anchor="end" textLength="37.53" lengthAdjust="spacingAndGlyphs">Proliferation_rate</text>
<text x="52.60" y="444.80" font-size="5.6" fill="#808080" text-anchor="end" textLength="33.41" lengthAdjust="spacingAndGlyphs">EMT_signature</text>
<text x="52.60" y="453.65" font-size="5.6" fill="#808080" text-anchor="end" textLength="19.72" lengthAdjust="spacingAndGlyphs">Tfh_cells</text>
<text x="52.60" y="462.50" font-size="5.6" fill="#808080" text-anchor="end" textLength="51.86" lengthAdjust="spacingAndGlyphs">Lymphatic_endothelium</text>
<text x="52.60" y="471.35" font-size="5.6" fill="#808080" text-anchor="end" textLength="44.92" lengthAdjust="spacingAndGlyphs">Basal_Keratinization</text>
<text x="52.60" y="480.20" font-size="5.6" fill="#808080" text-anchor="end" textLength="10.68" lengthAdjust="spacingAndGlyphs">PI3K</text>
<rect x="282.2" y="275.30" width="5.8" height="5.8" fill="#13908f"/>
<text x="292.00" y="280.80" font-size="7" fill="#777">IE/M</text>
<rect x="282.2" y="283.50" width="5.8" height="5.8" fill="#0c0cc8"/>
<text x="292.00" y="289.00" font-size="7" fill="#777">IE/B</text>
<rect x="282.2" y="291.70" width="5.8" height="5.8" fill="#e8123c"/>
<text x="292.00" y="297.20" font-size="7" fill="#777">F</text>
<rect x="282.2" y="299.90" width="5.8" height="5.8" fill="#ff9812"/>
<text x="292.00" y="305.40" font-size="7" fill="#777">D</text>
<rect x="282.2" y="308.10" width="5.8" height="5.8" fill="#12eeee"/>
<text x="292.00" y="313.60" font-size="7" fill="#777">IE/L</text>
<rect x="282.3" y="317.80" width="7.7" height="7.7" fill="#a6dbe4"/>
<text x="293.30" y="324.10" font-size="7.8" fill="#777" textLength="26.50" lengthAdjust="spacingAndGlyphs">Negative</text>
<rect x="282.3" y="327.40" width="7.7" height="7.7" fill="#157a78"/>
<text x="293.30" y="333.70" font-size="7.8" fill="#777" textLength="23.50" lengthAdjust="spacingAndGlyphs">Positive</text>
<defs><linearGradient id="cbg" x1="0" y1="0" x2="0" y2="1"><stop offset="0" stop-color="#c81428"/><stop offset="0.25" stop-color="#f08c6e"/><stop offset="0.5" stop-color="#dedee2"/><stop offset="0.75" stop-color="#78a0f0"/><stop offset="1" stop-color="#1e46d2"/></linearGradient></defs>
<rect x="288" y="364.3" width="4.1" height="43.4" fill="url(#cbg)"/>
<line x1="292.1" y1="364.3" x2="293.3" y2="364.3" stroke="#999" stroke-width="0.4"/>
<text x="297.00" y="366.30" font-size="5.6" fill="#808080">2</text>
<line x1="292.1" y1="375" x2="293.3" y2="375" stroke="#999" stroke-width="0.4"/>
<text x="297.00" y="377.00" font-size="5.6" fill="#808080">1</text>
<line x1="292.1" y1="385.8" x2="293.3" y2="385.8" stroke="#999" stroke-width="0.4"/>
<text x="297.00" y="387.80" font-size="5.6" fill="#808080">0</text>
<line x1="292.1" y1="396.8" x2="293.3" y2="396.8" stroke="#999" stroke-width="0.4"/>
<text x="295.00" y="398.80" font-size="5.6" fill="#808080">−1</text>
<line x1="292.1" y1="407.3" x2="293.3" y2="407.3" stroke="#999" stroke-width="0.4"/>
<text x="295.00" y="409.30" font-size="5.6" fill="#808080">−2</text>
<text x="0.00" y="0.00" font-size="5.8" fill="#888" text-anchor="middle" textLength="89.00" lengthAdjust="spacingAndGlyphs" transform="translate(287,398.5) rotate(-90)">signature scores, median-scaled</text>
<text x="348.40" y="265.00" font-size="7.7" fill="#111" font-weight="bold" textLength="183.40" lengthAdjust="spacingAndGlyphs">Pathways differentially activated in TME subtypes</text>
<rect x="342.4" y="290.2" width="58.90" height="75.60" fill="none" stroke="#d2d2d2" stroke-width="0.8"/>
<text x="352.20" y="287.30" font-size="5.2" fill="#6a6a6a" textLength="42.00" lengthAdjust="spacingAndGlyphs">Basal Keratinization</text>
<text x="340.20" y="299.30" font-size="5.2" fill="#777" text-anchor="end">2</text>
<text x="340.20" y="313.10" font-size="5.2" fill="#777" text-anchor="end">0</text>
<text x="340.20" y="326.90" font-size="5.2" fill="#777" text-anchor="end">−2</text>
<text x="340.20" y="340.70" font-size="5.2" fill="#777" text-anchor="end">−4</text>
<text x="340.20" y="354.50" font-size="5.2" fill="#777" text-anchor="end">−6</text>
<text x="354.45" y="296.40" font-size="4.6" fill="#808080" text-anchor="middle">*</text>
<text x="366.00" y="296.40" font-size="4.6" fill="#808080" text-anchor="middle">*</text>
<text x="377.60" y="296.40" font-size="4.6" fill="#808080" text-anchor="middle">*</text>
<text x="389.45" y="296.40" font-size="4.6" fill="#808080" text-anchor="middle">*</text>
<path d="M349.45,298.30V297.00H359.45V298.30M361.05,298.30V297.00H370.95V298.30M372.55,298.30V297.00H382.65V298.30M384.25,298.30V297.00H394.65V298.30" fill="none" stroke="#a8a8a8" stroke-width="0.45"/>
<line x1="348.65" y1="304.7" x2="348.65" y2="308.8" stroke="#444" stroke-width="0.5"/>
<line x1="348.65" y1="311.7" x2="348.65" y2="315.6" stroke="#444" stroke-width="0.5"/>
<line x1="346.25" y1="304.7" x2="351.05" y2="304.7" stroke="#333" stroke-width="0.6"/>
<line x1="346.25" y1="315.6" x2="351.05" y2="315.6" stroke="#333" stroke-width="0.6"/>
<rect x="344" y="308.8" width="9.30" height="2.90" fill="#138a8a" stroke="#333" stroke-width="0.5"/>
<line x1="344" y1="310.3" x2="353.3" y2="310.3" stroke="#222" stroke-width="0.5"/>
<path d="M349.39 310.42a0.55 0.55 0 1 0 1.1 0a0.55 0.55 0 1 0 -1.1 0M347.43 311.10a0.55 0.55 0 1 0 1.1 0a0.55 0.55 0 1 0 -1.1 0M346.52 310.28a0.55 0.55 0 1 0 1.1 0a0.55 0.55 0 1 0 -1.1 0M346.42 309.68a0.55 0.55 0 1 0 1.1 0a0.55 0.55 0 1 0 -1.1 0M347.97 311.15a0.55 0.55 0 1 0 1.1 0a0.55 0.55 0 1 0 -1.1 0M347.74 315.22a0.55 0.55 0 1 0 1.1 0a0.55 0.55 0 1 0 -1.1 0M348.22 311.41a0.55 0.55 0 1 0 1.1 0a0.55 0.55 0 1 0 -1.1 0M348.29 305.35a0.55 0.55 0 1 0 1.1 0a0.55 0.55 0 1 0 -1.1 0M349.53 309.50a0.55 0.55 0 1 0 1.1 0a0.55 0.55 0 1 0 -1.1 0M348.37 311.24a0.55 0.55 0 1 0 1.1 0a0.55 0.55 0 1 0 -1.1 0M346.18 311.68a0.55 0.55 0 1 0 1.1 0a0.55 0.55 0 1 0 -1.1 0M348.10 309.61a0.55 0.55 0 1 0 1.1 0a0.55 0.55 0 1 0 -1.1 0M349.20 315.55a0.55 0.55 0 1 0 1.1 0a0.55 0.55 0 1 0 -1.1 0M346.38 309.47a0.55 0.55 0 1 0 1.1 0a0.55 0.55 0 1 0 -1.1 0M348.23 309.00a0.55 0.55 0 1 0 1.1 0a0.55 0.55 0 1 0 -1.1 0M346.79 308.91a0.55 0.55 0 1 0 1.1 0a0.55 0.55 0 1 0 -1.1 0M348.99 313.94a0.55 0.55 0 1 0 1.1 0a0.55 0.55 0 1 0 -1.1 0M348.10 309.82a0.55 0.55 0 1 0 1.1 0a0.55 0.55 0 1 0 -1.1 0M349.74 309.03a0.55 0.55 0 1 0 1.1 0a0.55 0.55 0 1 0 -1.1 0M348.91 307.64a0.55 0.55 0 1 0 1.1 0a0.55 0.55 0 1 0 -1.1 0M350.23 309.76a0.55 0.55 0 1 0 1.1 0a0.55 0.55 0 1 0 -1.1 0M347.61 309.51a0.55 0.55 0 1 0 1.1 0a0.55 0.55 0 1 0 -1.1 0M348.34 308.97a0.55 0.55 0 1 0 1.1 0a0.55 0.55 0 1 0 -1.1 0M347.32 309.58a0.55 0.55 0 1 0 1.1 0a0.55 0.55 0 1 0 -1.1 0M349.37 310.92a0.55 0.55 0 1 0 1.1 0a0.55 0.55 0 1 0 -1.1 0M349.47 310.02a0.55 0.55 0 1 0 1.1 0a0.55 0.55 0 1 0 -1.1 0M350.41 309.58a0.55 0.55 0 1 0 1.1 0a0.55 0.55 0 1 0 -1.1 0M347.67 311.37a0.55 0.55 0 1 0 1.1 0a0.55 0.55 0 1 0 -1.1 0M349.24 309.94a0.55 0.55 0 1 0 1.1 0a0.55 0.55 0 1 0 -1.1 0M346.62 311.67a0.55 0.55 0 1 0 1.1 0a0.55 0.55 0 1 0 -1.1 0M348.26 309.55a0.55 0.55 0 1 0 1.1 0a0.55 0.55 0 1 0 -1.1 0M346.95 309.01a0.55 0.55 0 1 0 1.1 0a0.55 0.55 0 1 0 -1.1 0M348.18 310.49a0.55 0.55 0 1 0 1.1 0a0.55 0.55 0 1 0 -1.1 0M349.86 310.11a0.55 0.55 0 1 0 1.1 0a0.55 0.55 0 1 0 -1.1 0M345.77 309.97a0.55 0.55 0 1 0 1.1 0a0.55 0.55 0 1 0 -1.1 0M346.92 309.25a0.55 0.55 0 1 0 1.1 0a0.55 0.55 0 1 0 -1.1 0" fill="none" stroke="#2a2a2a" stroke-width="0.4" opacity="0.8"/>
<text x="348.65" y="371.90" font-size="4.7" fill="#858585" text-anchor="middle">IE/M</text>
<line x1="360.25" y1="301.5" x2="360.25" y2="307.2" stroke="#444" stroke-width="0.5"/>
<line x1="360.25" y1="314.2" x2="360.25" y2="319.3" stroke="#444" stroke-width="0.5"/>
<line x1="357.85" y1="301.5" x2="362.65" y2="301.5" stroke="#333" stroke-width="0.6"/>
<line x1="357.85" y1="319.3" x2="362.65" y2="319.3" stroke="#333" stroke-width="0.6"/>
<rect x="355.5" y="307.2" width="9.50" height="7.00" fill="#1414c0" stroke="#333" stroke-width="0.5"/>
<line x1="355.5" y1="310.5" x2="365" y2="310.5" stroke="#222" stroke-width="0.5"/>
<path d="M359.70 316.06a0.55 0.55 0 1 0 1.1 0a0.55 0.55 0 1 0 -1.1 0M360.54 318.24a0.55 0.55 0 1 0 1.1 0a0.55 0.55 0 1 0 -1.1 0M361.01 313.85a0.55 0.55 0 1 0 1.1 0a0.55 0.55 0 1 0 -1.1 0M358.51 307.93a0.55 0.55 0 1 0 1.1 0a0.55 0.55 0 1 0 -1.1 0M359.85 313.94a0.55 0.55 0 1 0 1.1 0a0.55 0.55 0 1 0 -1.1 0M361.72 312.97a0.55 0.55 0 1 0 1.1 0a0.55 0.55 0 1 0 -1.1 0M360.64 306.72a0.55 0.55 0 1 0 1.1 0a0.55 0.55 0 1 0 -1.1 0M361.55 308.80a0.55 0.55 0 1 0 1.1 0a0.55 0.55 0 1 0 -1.1 0M358.91 316.67a0.55 0.55 0 1 0 1.1 0a0.55 0.55 0 1 0 -1.1 0M359.01 305.13a0.55 0.55 0 1 0 1.1 0a0.55 0.55 0 1 0 -1.1 0M359.27 309.08a0.55 0.55 0 1 0 1.1 0a0.55 0.55 0 1 0 -1.1 0M359.85 309.78a0.55 0.55 0 1 0 1.1 0a0.55 0.55 0 1 0 -1.1 0M357.93 303.84a0.55 0.55 0 1 0 1.1 0a0.55 0.55 0 1 0 -1.1 0M361.78 313.19a0.55 0.55 0 1 0 1.1 0a0.55 0.55 0 1 0 -1.1 0M359.92 311.90a0.55 0.55 0 1 0 1.1 0a0.55 0.55 0 1 0 -1.1 0M359.97 313.57a0.55 0.55 0 1 0 1.1 0a0.55 0.55 0 1 0 -1.1 0M361.53 318.64a0.55 0.55 0 1 0 1.1 0a0.55 0.55 0 1 0 -1.1 0M359.95 312.31a0.55 0.55 0 1 0 1.1 0a0.55 0.55 0 1 0 -1.1 0M361.15 314.20a0.55 0.55 0 1 0 1.1 0a0.55 0.55 0 1 0 -1.1 0M360.44 317.52a0.55 0.55 0 1 0 1.1 0a0.55 0.55 0 1 0 -1.1 0M360.48 314.03a0.55 0.55 0 1 0 1.1 0a0.55 0.55 0 1 0 -1.1 0M356.92 312.00a0.55 0.55 0 1 0 1.1 0a0.55 0.55 0 1 0 -1.1 0M357.71 317.01a0.55 0.55 0 1 0 1.1 0a0.55 0.55 0 1 0 -1.1 0M360.84 311.70a0.55 0.55 0 1 0 1.1 0a0.55 0.55 0 1 0 -1.1 0M358.15 308.31a0.55 0.55 0 1 0 1.1 0a0.55 0.55 0 1 0 -1.1 0M358.82 311.68a0.55 0.55 0 1 0 1.1 0a0.55 0.55 0 1 0 -1.1 0M359.52 317.16a0.55 0.55 0 1 0 1.1 0a0.55 0.55 0 1 0 -1.1 0M358.42 311.84a0.55 0.55 0 1 0 1.1 0a0.55 0.55 0 1 0 -1.1 0M361.57 313.07a0.55 0.55 0 1 0 1.1 0a0.55 0.55 0 1 0 -1.1 0M360.79 311.41a0.55 0.55 0 1 0 1.1 0a0.55 0.55 0 1 0 -1.1 0M359.21 308.81a0.55 0.55 0 1 0 1.1 0a0.55 0.55 0 1 0 -1.1 0M358.26 317.88a0.55 0.55 0 1 0 1.1 0a0.55 0.55 0 1 0 -1.1 0M359.08 307.28a0.55 0.55 0 1 0 1.1 0a0.55 0.55 0 1 0 -1.1 0M361.56 308.39a0.55 0.55 0 1 0 1.1 0a0.55 0.55 0 1 0 -1.1 0M357.14 313.25a0.55 0.55 0 1 0 1.1 0a0.55 0.55 0 1 0 -1.1 0M360.68 311.86a0.55 0.55 0 1 0 1.1 0a0.55 0.55 0 1 0 -1.1 0M360.69 310.22a0.55 0.55 0 1 0 1.1 0a0.55 0.55 0 1 0 -1.1 0M357.00 308.34a0.55 0.55 0 1 0 1.1 0a0.55 0.55 0 1 0 -1.1 0M360.70 307.13a0.55 0.55 0 1 0 1.1 0a0.55 0.55 0 1 0 -1.1 0M360.85 316.61a0.55 0.55 0 1 0 1.1 0a0.55 0.55 0 1 0 -1.1 0M359.57 318.41a0.55 0.55 0 1 0 1.1 0a0.55 0.55 0 1 0 -1.1 0M360.48 309.13a0.55 0.55 0 1 0 1.1 0a0.55 0.55 0 1 0 -1.1 0M358.63 310.10a0.55 0.55 0 1 0 1.1 0a0.55 0.55 0 1 0 -1.1 0M358.62 313.07a0.55 0.55 0 1 0 1.1 0a0.55 0.55 0 1 0 -1.1 0M359.99 309.55a0.55 0.55 0 1 0 1.1 0a0.55 0.55 0 1 0 -1.1 0M359.65 328.00a0.6 0.6 0 1 0 1.2 0a0.6 0.6 0 1 0 -1.2 0" fill="none" stroke="#2a2a2a" stroke-width="0.4" opacity="0.8"/>
<text x="360.25" y="371.90" font-size="4.7" fill="#858585" text-anchor="middle">IE/B</text>
<line x1="371.75" y1="301.5" x2="371.75" y2="306.6" stroke="#444" stroke-width="0.5"/>
<line x1="371.75" y1="314.5" x2="371.75" y2="324.4" stroke="#444" stroke-width="0.5"/>
<line x1="369.35" y1="301.5" x2="374.15" y2="301.5" stroke="#333" stroke-width="0.6"/>
<line x1="369.35" y1="324.4" x2="374.15" y2="324.4" stroke="#333" stroke-width="0.6"/>
<rect x="367" y="306.6" width="9.50" height="7.90" fill="#d8184c" stroke="#333" stroke-width="0.5"/>
<line x1="367" y1="310.5" x2="376.5" y2="310.5" stroke="#222" stroke-width="0.5"/>
<path d="M371.35 302.45a0.55 0.55 0 1 0 1.1 0a0.55 0.55 0 1 0 -1.1 0M370.37 314.57a0.55 0.55 0 1 0 1.1 0a0.55 0.55 0 1 0 -1.1 0M373.35 307.67a0.55 0.55 0 1 0 1.1 0a0.55 0.55 0 1 0 -1.1 0M371.66 306.80a0.55 0.55 0 1 0 1.1 0a0.55 0.55 0 1 0 -1.1 0M370.36 306.97a0.55 0.55 0 1 0 1.1 0a0.55 0.55 0 1 0 -1.1 0M369.90 311.72a0.55 0.55 0 1 0 1.1 0a0.55 0.55 0 1 0 -1.1 0M369.82 323.45a0.55 0.55 0 1 0 1.1 0a0.55 0.55 0 1 0 -1.1 0M370.39 306.06a0.55 0.55 0 1 0 1.1 0a0.55 0.55 0 1 0 -1.1 0M371.33 310.33a0.55 0.55 0 1 0 1.1 0a0.55 0.55 0 1 0 -1.1 0M371.03 305.60a0.55 0.55 0 1 0 1.1 0a0.55 0.55 0 1 0 -1.1 0M372.39 313.42a0.55 0.55 0 1 0 1.1 0a0.55 0.55 0 1 0 -1.1 0M369.39 318.82a0.55 0.55 0 1 0 1.1 0a0.55 0.55 0 1 0 -1.1 0M372.63 303.50a0.55 0.55 0 1 0 1.1 0a0.55 0.55 0 1 0 -1.1 0M372.18 318.04a0.55 0.55 0 1 0 1.1 0a0.55 0.55 0 1 0 -1.1 0M372.24 322.34a0.55 0.55 0 1 0 1.1 0a0.55 0.55 0 1 0 -1.1 0M372.88 311.09a0.55 0.55 0 1 0 1.1 0a0.55 0.55 0 1 0 -1.1 0M369.60 312.12a0.55 0.55 0 1 0 1.1 0a0.55 0.55 0 1 0 -1.1 0M370.78 306.19a0.55 0.55 0 1 0 1.1 0a0.55 0.55 0 1 0 -1.1 0M368.84 317.93a0.55 0.55 0 1 0 1.1 0a0.55 0.55 0 1 0 -1.1 0M374.75 313.71a0.55 0.55 0 1 0 1.1 0a0.55 0.55 0 1 0 -1.1 0M370.76 319.61a0.55 0.55 0 1 0 1.1 0a0.55 0.55 0 1 0 -1.1 0M371.94 313.79a0.55 0.55 0 1 0 1.1 0a0.55 0.55 0 1 0 -1.1 0M370.25 310.08a0.55 0.55 0 1 0 1.1 0a0.55 0.55 0 1 0 -1.1 0M370.89 319.09a0.55 0.55 0 1 0 1.1 0a0.55 0.55 0 1 0 -1.1 0M371.22 302.97a0.55 0.55 0 1 0 1.1 0a0.55 0.55 0 1 0 -1.1 0M370.03 305.46a0.55 0.55 0 1 0 1.1 0a0.55 0.55 0 1 0 -1.1 0M373.17 307.77a0.55 0.55 0 1 0 1.1 0a0.55 0.55 0 1 0 -1.1 0M372.26 318.07a0.55 0.55 0 1 0 1.1 0a0.55 0.55 0 1 0 -1.1 0M369.52 312.78a0.55 0.55 0 1 0 1.1 0a0.55 0.55 0 1 0 -1.1 0M371.48 303.47a0.55 0.55 0 1 0 1.1 0a0.55 0.55 0 1 0 -1.1 0M372.76 312.36a0.55 0.55 0 1 0 1.1 0a0.55 0.55 0 1 0 -1.1 0M372.12 313.47a0.55 0.55 0 1 0 1.1 0a0.55 0.55 0 1 0 -1.1 0M369.81 309.61a0.55 0.55 0 1 0 1.1 0a0.55 0.55 0 1 0 -1.1 0M371.86 322.12a0.55 0.55 0 1 0 1.1 0a0.55 0.55 0 1 0 -1.1 0M373.65 313.50a0.55 0.55 0 1 0 1.1 0a0.55 0.55 0 1 0 -1.1 0M369.70 306.10a0.55 0.55 0 1 0 1.1 0a0.55 0.55 0 1 0 -1.1 0M370.86 302.14a0.55 0.55 0 1 0 1.1 0a0.55 0.55 0 1 0 -1.1 0M369.30 313.32a0.55 0.55 0 1 0 1.1 0a0.55 0.55 0 1 0 -1.1 0M372.57 312.74a0.55 0.55 0 1 0 1.1 0a0.55 0.55 0 1 0 -1.1 0M369.90 303.01a0.55 0.55 0 1 0 1.1 0a0.55 0.55 0 1 0 -1.1 0M370.88 322.65a0.55 0.55 0 1 0 1.1 0a0.55 0.55 0 1 0 -1.1 0M372.17 310.34a0.55 0.55 0 1 0 1.1 0a0.55 0.55 0 1 0 -1.1 0M372.19 322.12a0.55 0.55 0 1 0 1.1 0a0.55 0.55 0 1 0 -1.1 0M371.85 309.11a0.55 0.55 0 1 0 1.1 0a0.55 0.55 0 1 0 -1.1 0M372.88 304.46a0.55 0.55 0 1 0 1.1 0a0.55 0.55 0 1 0 -1.1 0M371.52 302.02a0.55 0.55 0 1 0 1.1 0a0.55 0.55 0 1 0 -1.1 0M372.08 308.88a0.55 0.55 0 1 0 1.1 0a0.55 0.55 0 1 0 -1.1 0M371.15 333.00a0.6 0.6 0 1 0 1.2 0a0.6 0.6 0 1 0 -1.2 0M371.15 339.00a0.6 0.6 0 1 0 1.2 0a0.6 0.6 0 1 0 -1.2 0" fill="none" stroke="#2a2a2a" stroke-width="0.4" opacity="0.8"/>
<text x="371.75" y="371.90" font-size="4.7" fill="#858585" text-anchor="middle">F</text>
<line x1="383.45" y1="301" x2="383.45" y2="305" stroke="#444" stroke-width="0.5"/>
<line x1="383.45" y1="308.7" x2="383.45" y2="313.5" stroke="#444" stroke-width="0.5"/>
<line x1="381.05" y1="301" x2="385.85" y2="301" stroke="#333" stroke-width="0.6"/>
<line x1="381.05" y1="313.5" x2="385.85" y2="313.5" stroke="#333" stroke-width="0.6"/>
<rect x="378.7" y="305" width="9.50" height="3.70" fill="#ff9a0a" stroke="#333" stroke-width="0.5"/>
<line x1="378.7" y1="306.8" x2="388.2" y2="306.8" stroke="#222" stroke-width="0.5"/>
<path d="M384.57 307.29a0.55 0.55 0 1 0 1.1 0a0.55 0.55 0 1 0 -1.1 0M384.19 306.89a0.55 0.55 0 1 0 1.1 0a0.55 0.55 0 1 0 -1.1 0M381.53 305.73a0.55 0.55 0 1 0 1.1 0a0.55 0.55 0 1 0 -1.1 0M382.64 306.53a0.55 0.55 0 1 0 1.1 0a0.55 0.55 0 1 0 -1.1 0M383.42 303.00a0.55 0.55 0 1 0 1.1 0a0.55 0.55 0 1 0 -1.1 0M384.66 307.62a0.55 0.55 0 1 0 1.1 0a0.55 0.55 0 1 0 -1.1 0M383.49 308.65a0.55 0.55 0 1 0 1.1 0a0.55 0.55 0 1 0 -1.1 0M382.16 311.13a0.55 0.55 0 1 0 1.1 0a0.55 0.55 0 1 0 -1.1 0M381.73 304.95a0.55 0.55 0 1 0 1.1 0a0.55 0.55 0 1 0 -1.1 0M385.60 308.69a0.55 0.55 0 1 0 1.1 0a0.55 0.55 0 1 0 -1.1 0M383.04 302.67a0.55 0.55 0 1 0 1.1 0a0.55 0.55 0 1 0 -1.1 0M384.99 305.36a0.55 0.55 0 1 0 1.1 0a0.55 0.55 0 1 0 -1.1 0M383.07 306.27a0.55 0.55 0 1 0 1.1 0a0.55 0.55 0 1 0 -1.1 0M382.25 307.54a0.55 0.55 0 1 0 1.1 0a0.55 0.55 0 1 0 -1.1 0M381.72 305.74a0.55 0.55 0 1 0 1.1 0a0.55 0.55 0 1 0 -1.1 0M380.29 302.44a0.55 0.55 0 1 0 1.1 0a0.55 0.55 0 1 0 -1.1 0M380.92 310.48a0.55 0.55 0 1 0 1.1 0a0.55 0.55 0 1 0 -1.1 0M382.87 305.26a0.55 0.55 0 1 0 1.1 0a0.55 0.55 0 1 0 -1.1 0M381.42 305.14a0.55 0.55 0 1 0 1.1 0a0.55 0.55 0 1 0 -1.1 0M382.40 302.83a0.55 0.55 0 1 0 1.1 0a0.55 0.55 0 1 0 -1.1 0M385.03 305.75a0.55 0.55 0 1 0 1.1 0a0.55 0.55 0 1 0 -1.1 0M379.56 302.19a0.55 0.55 0 1 0 1.1 0a0.55 0.55 0 1 0 -1.1 0M380.75 308.52a0.55 0.55 0 1 0 1.1 0a0.55 0.55 0 1 0 -1.1 0M383.42 306.73a0.55 0.55 0 1 0 1.1 0a0.55 0.55 0 1 0 -1.1 0M382.73 306.38a0.55 0.55 0 1 0 1.1 0a0.55 0.55 0 1 0 -1.1 0M382.77 311.55a0.55 0.55 0 1 0 1.1 0a0.55 0.55 0 1 0 -1.1 0M382.81 306.68a0.55 0.55 0 1 0 1.1 0a0.55 0.55 0 1 0 -1.1 0M381.58 305.61a0.55 0.55 0 1 0 1.1 0a0.55 0.55 0 1 0 -1.1 0M384.73 301.19a0.55 0.55 0 1 0 1.1 0a0.55 0.55 0 1 0 -1.1 0M381.45 311.76a0.55 0.55 0 1 0 1.1 0a0.55 0.55 0 1 0 -1.1 0M381.65 306.06a0.55 0.55 0 1 0 1.1 0a0.55 0.55 0 1 0 -1.1 0M382.00 311.06a0.55 0.55 0 1 0 1.1 0a0.55 0.55 0 1 0 -1.1 0M382.82 308.37a0.55 0.55 0 1 0 1.1 0a0.55 0.55 0 1 0 -1.1 0M380.65 306.07a0.55 0.55 0 1 0 1.1 0a0.55 0.55 0 1 0 -1.1 0M382.15 312.00a0.55 0.55 0 1 0 1.1 0a0.55 0.55 0 1 0 -1.1 0M380.81 306.07a0.55 0.55 0 1 0 1.1 0a0.55 0.55 0 1 0 -1.1 0M382.10 301.88a0.55 0.55 0 1 0 1.1 0a0.55 0.55 0 1 0 -1.1 0M384.13 306.32a0.55 0.55 0 1 0 1.1 0a0.55 0.55 0 1 0 -1.1 0M382.85 322.00a0.6 0.6 0 1 0 1.2 0a0.6 0.6 0 1 0 -1.2 0M382.85 327.00a0.6 0.6 0 1 0 1.2 0a0.6 0.6 0 1 0 -1.2 0" fill="none" stroke="#2a2a2a" stroke-width="0.4" opacity="0.8"/>
<text x="383.45" y="371.90" font-size="4.7" fill="#858585" text-anchor="middle">D</text>
<line x1="395.45" y1="312.3" x2="395.45" y2="323.2" stroke="#444" stroke-width="0.5"/>
<line x1="395.45" y1="347.6" x2="395.45" y2="358" stroke="#444" stroke-width="0.5"/>
<line x1="393.05" y1="312.3" x2="397.85" y2="312.3" stroke="#333" stroke-width="0.6"/>
<line x1="393.05" y1="358" x2="397.85" y2="358" stroke="#333" stroke-width="0.6"/>
<rect x="390.4" y="323.2" width="10.10" height="24.40" fill="#14e8e8" stroke="#333" stroke-width="0.5"/>
<line x1="390.4" y1="332" x2="400.5" y2="332" stroke="#222" stroke-width="0.5"/>
<path d="M395.25 340.82a0.55 0.55 0 1 0 1.1 0a0.55 0.55 0 1 0 -1.1 0M398.01 327.74a0.55 0.55 0 1 0 1.1 0a0.55 0.55 0 1 0 -1.1 0M393.64 338.33a0.55 0.55 0 1 0 1.1 0a0.55 0.55 0 1 0 -1.1 0M394.63 341.65a0.55 0.55 0 1 0 1.1 0a0.55 0.55 0 1 0 -1.1 0M395.18 347.11a0.55 0.55 0 1 0 1.1 0a0.55 0.55 0 1 0 -1.1 0M394.87 346.06a0.55 0.55 0 1 0 1.1 0a0.55 0.55 0 1 0 -1.1 0M395.71 333.00a0.55 0.55 0 1 0 1.1 0a0.55 0.55 0 1 0 -1.1 0M395.17 325.60a0.55 0.55 0 1 0 1.1 0a0.55 0.55 0 1 0 -1.1 0M393.43 345.30a0.55 0.55 0 1 0 1.1 0a0.55 0.55 0 1 0 -1.1 0M394.42 338.26a0.55 0.55 0 1 0 1.1 0a0.55 0.55 0 1 0 -1.1 0M395.09 341.46a0.55 0.55 0 1 0 1.1 0a0.55 0.55 0 1 0 -1.1 0M394.42 347.00a0.55 0.55 0 1 0 1.1 0a0.55 0.55 0 1 0 -1.1 0M395.69 345.90a0.55 0.55 0 1 0 1.1 0a0.55 0.55 0 1 0 -1.1 0M396.14 335.29a0.55 0.55 0 1 0 1.1 0a0.55 0.55 0 1 0 -1.1 0M396.18 314.98a0.55 0.55 0 1 0 1.1 0a0.55 0.55 0 1 0 -1.1 0M394.44 339.62a0.55 0.55 0 1 0 1.1 0a0.55 0.55 0 1 0 -1.1 0M393.96 330.17a0.55 0.55 0 1 0 1.1 0a0.55 0.55 0 1 0 -1.1 0M393.52 340.69a0.55 0.55 0 1 0 1.1 0a0.55 0.55 0 1 0 -1.1 0M394.91 323.54a0.55 0.55 0 1 0 1.1 0a0.55 0.55 0 1 0 -1.1 0M395.28 341.61a0.55 0.55 0 1 0 1.1 0a0.55 0.55 0 1 0 -1.1 0M394.90 345.10a0.55 0.55 0 1 0 1.1 0a0.55 0.55 0 1 0 -1.1 0M394.48 355.46a0.55 0.55 0 1 0 1.1 0a0.55 0.55 0 1 0 -1.1 0M393.56 345.30a0.55 0.55 0 1 0 1.1 0a0.55 0.55 0 1 0 -1.1 0M395.53 323.44a0.55 0.55 0 1 0 1.1 0a0.55 0.55 0 1 0 -1.1 0M394.65 355.13a0.55 0.55 0 1 0 1.1 0a0.55 0.55 0 1 0 -1.1 0M393.46 349.62a0.55 0.55 0 1 0 1.1 0a0.55 0.55 0 1 0 -1.1 0M393.88 317.56a0.55 0.55 0 1 0 1.1 0a0.55 0.55 0 1 0 -1.1 0M393.89 324.47a0.55 0.55 0 1 0 1.1 0a0.55 0.55 0 1 0 -1.1 0M393.09 317.98a0.55 0.55 0 1 0 1.1 0a0.55 0.55 0 1 0 -1.1 0M395.58 329.60a0.55 0.55 0 1 0 1.1 0a0.55 0.55 0 1 0 -1.1 0M395.18 331.47a0.55 0.55 0 1 0 1.1 0a0.55 0.55 0 1 0 -1.1 0M393.33 355.84a0.55 0.55 0 1 0 1.1 0a0.55 0.55 0 1 0 -1.1 0M396.97 323.20a0.55 0.55 0 1 0 1.1 0a0.55 0.55 0 1 0 -1.1 0M396.70 340.86a0.55 0.55 0 1 0 1.1 0a0.55 0.55 0 1 0 -1.1 0M394.23 329.82a0.55 0.55 0 1 0 1.1 0a0.55 0.55 0 1 0 -1.1 0M393.36 341.23a0.55 0.55 0 1 0 1.1 0a0.55 0.55 0 1 0 -1.1 0M394.92 320.97a0.55 0.55 0 1 0 1.1 0a0.55 0.55 0 1 0 -1.1 0M398.53 352.46a0.55 0.55 0 1 0 1.1 0a0.55 0.55 0 1 0 -1.1 0M394.72 324.68a0.55 0.55 0 1 0 1.1 0a0.55 0.55 0 1 0 -1.1 0M396.26 316.98a0.55 0.55 0 1 0 1.1 0a0.55 0.55 0 1 0 -1.1 0M396.57 315.61a0.55 0.55 0 1 0 1.1 0a0.55 0.55 0 1 0 -1.1 0M395.91 341.14a0.55 0.55 0 1 0 1.1 0a0.55 0.55 0 1 0 -1.1 0M395.19 334.88a0.55 0.55 0 1 0 1.1 0a0.55 0.55 0 1 0 -1.1 0M396.06 350.62a0.55 0.55 0 1 0 1.1 0a0.55 0.55 0 1 0 -1.1 0M395.56 326.12a0.55 0.55 0 1 0 1.1 0a0.55 0.55 0 1 0 -1.1 0M393.21 322.04a0.55 0.55 0 1 0 1.1 0a0.55 0.55 0 1 0 -1.1 0M395.36 329.50a0.55 0.55 0 1 0 1.1 0a0.55 0.55 0 1 0 -1.1 0M393.74 357.51a0.55 0.55 0 1 0 1.1 0a0.55 0.55 0 1 0 -1.1 0M394.83 336.59a0.55 0.55 0 1 0 1.1 0a0.55 0.55 0 1 0 -1.1 0M391.97 332.21a0.55 0.55 0 1 0 1.1 0a0.55 0.55 0 1 0 -1.1 0M395.38 344.55a0.55 0.55 0 1 0 1.1 0a0.55 0.55 0 1 0 -1.1 0M395.16 334.46a0.55 0.55 0 1 0 1.1 0a0.55 0.55 0 1 0 -1.1 0M394.98 325.96a0.55 0.55 0 1 0 1.1 0a0.55 0.55 0 1 0 -1.1 0M394.39 339.36a0.55 0.55 0 1 0 1.1 0a0.55 0.55 0 1 0 -1.1 0M394.59 330.61a0.55 0.55 0 1 0 1.1 0a0.55 0.55 0 1 0 -1.1 0M392.92 326.69a0.55 0.55 0 1 0 1.1 0a0.55 0.55 0 1 0 -1.1 0M394.47 340.91a0.55 0.55 0 1 0 1.1 0a0.55 0.55 0 1 0 -1.1 0M395.38 338.32a0.55 0.55 0 1 0 1.1 0a0.55 0.55 0 1 0 -1.1 0M396.09 355.26a0.55 0.55 0 1 0 1.1 0a0.55 0.55 0 1 0 -1.1 0M394.18 326.23a0.55 0.55 0 1 0 1.1 0a0.55 0.55 0 1 0 -1.1 0M397.43 332.95a0.55 0.55 0 1 0 1.1 0a0.55 0.55 0 1 0 -1.1 0M393.80 332.03a0.55 0.55 0 1 0 1.1 0a0.55 0.55 0 1 0 -1.1 0M393.88 332.06a0.55 0.55 0 1 0 1.1 0a0.55 0.55 0 1 0 -1.1 0M395.69 336.96a0.55 0.55 0 1 0 1.1 0a0.55 0.55 0 1 0 -1.1 0M395.76 337.00a0.55 0.55 0 1 0 1.1 0a0.55 0.55 0 1 0 -1.1 0M393.47 341.72a0.55 0.55 0 1 0 1.1 0a0.55 0.55 0 1 0 -1.1 0M396.45 325.16a0.55 0.55 0 1 0 1.1 0a0.55 0.55 0 1 0 -1.1 0M395.12 338.23a0.55 0.55 0 1 0 1.1 0a0.55 0.55 0 1 0 -1.1 0M395.06 342.06a0.55 0.55 0 1 0 1.1 0a0.55 0.55 0 1 0 -1.1 0M394.45 348.31a0.55 0.55 0 1 0 1.1 0a0.55 0.55 0 1 0 -1.1 0M394.67 325.19a0.55 0.55 0 1 0 1.1 0a0.55 0.55 0 1 0 -1.1 0M392.13 338.67a0.55 0.55 0 1 0 1.1 0a0.55 0.55 0 1 0 -1.1 0M394.32 341.40a0.55 0.55 0 1 0 1.1 0a0.55 0.55 0 1 0 -1.1 0M394.11 341.87a0.55 0.55 0 1 0 1.1 0a0.55 0.55 0 1 0 -1.1 0M393.97 347.25a0.55 0.55 0 1 0 1.1 0a0.55 0.55 0 1 0 -1.1 0M395.63 343.03a0.55 0.55 0 1 0 1.1 0a0.55 0.55 0 1 0 -1.1 0M394.53 336.31a0.55 0.55 0 1 0 1.1 0a0.55 0.55 0 1 0 -1.1 0M392.89 331.06a0.55 0.55 0 1 0 1.1 0a0.55 0.55 0 1 0 -1.1 0M396.33 342.77a0.55 0.55 0 1 0 1.1 0a0.55 0.55 0 1 0 -1.1 0M393.03 352.91a0.55 0.55 0 1 0 1.1 0a0.55 0.55 0 1 0 -1.1 0M392.88 341.56a0.55 0.55 0 1 0 1.1 0a0.55 0.55 0 1 0 -1.1 0M394.59 331.57a0.55 0.55 0 1 0 1.1 0a0.55 0.55 0 1 0 -1.1 0M394.68 326.77a0.55 0.55 0 1 0 1.1 0a0.55 0.55 0 1 0 -1.1 0" fill="none" stroke="#2a2a2a" stroke-width="0.4" opacity="0.8"/>
<text x="395.45" y="371.90" font-size="4.7" fill="#858585" text-anchor="middle">IE/L</text>
<rect x="410.7" y="290.7" width="59.00" height="75.30" fill="none" stroke="#d2d2d2" stroke-width="0.8"/>
<text x="437.00" y="287.50" font-size="5.2" fill="#6a6a6a" textLength="8.60" lengthAdjust="spacingAndGlyphs">CAF</text>
<text x="408.50" y="297.50" font-size="5.2" fill="#777" text-anchor="end">2</text>
<text x="408.50" y="311.80" font-size="5.2" fill="#777" text-anchor="end">1</text>
<text x="408.50" y="325.30" font-size="5.2" fill="#777" text-anchor="end">0</text>
<text x="408.50" y="338.30" font-size="5.2" fill="#777" text-anchor="end">−1</text>
<text x="408.50" y="353.00" font-size="5.2" fill="#777" text-anchor="end">−2</text>
<text x="408.50" y="366.10" font-size="5.2" fill="#777" text-anchor="end">−3</text>
<text x="422.73" y="296.90" font-size="4.6" fill="#808080" text-anchor="middle">*</text>
<text x="434.57" y="296.90" font-size="4.6" fill="#808080" text-anchor="middle">*</text>
<text x="446.27" y="296.90" font-size="4.6" fill="#808080" text-anchor="middle">*</text>
<text x="458.15" y="296.90" font-size="4.6" fill="#808080" text-anchor="middle">*</text>
<path d="M417.50,298.80V297.50H427.95V298.80M429.55,298.80V297.50H439.60V298.80M441.20,298.80V297.50H451.35V298.80M452.95,298.80V297.50H463.35V298.80" fill="none" stroke="#a8a8a8" stroke-width="0.45"/>
<line x1="416.70" y1="312.5" x2="416.70" y2="323.5" stroke="#444" stroke-width="0.5"/>
<line x1="416.70" y1="342" x2="416.70" y2="358.4" stroke="#444" stroke-width="0.5"/>
<line x1="414.30" y1="312.5" x2="419.10" y2="312.5" stroke="#333" stroke-width="0.6"/>
<line x1="414.30" y1="358.4" x2="419.10" y2="358.4" stroke="#333" stroke-width="0.6"/>
<rect x="411.8" y="323.5" width="9.80" height="18.50" fill="#138a8a" stroke="#333" stroke-width="0.5"/>
<line x1="411.8" y1="333.3" x2="421.6" y2="333.3" stroke="#222" stroke-width="0.5"/>
<path d="M412.17 326.60a0.55 0.55 0 1 0 1.1 0a0.55 0.55 0 1 0 -1.1 0M415.25 331.36a0.55 0.55 0 1 0 1.1 0a0.55 0.55 0 1 0 -1.1 0M419.47 329.21a0.55 0.55 0 1 0 1.1 0a0.55 0.55 0 1 0 -1.1 0M416.28 335.49a0.55 0.55 0 1 0 1.1 0a0.55 0.55 0 1 0 -1.1 0M415.34 331.99a0.55 0.55 0 1 0 1.1 0a0.55 0.55 0 1 0 -1.1 0M416.76 354.24a0.55 0.55 0 1 0 1.1 0a0.55 0.55 0 1 0 -1.1 0M416.29 327.52a0.55 0.55 0 1 0 1.1 0a0.55 0.55 0 1 0 -1.1 0M415.38 336.77a0.55 0.55 0 1 0 1.1 0a0.55 0.55 0 1 0 -1.1 0M415.63 328.70a0.55 0.55 0 1 0 1.1 0a0.55 0.55 0 1 0 -1.1 0M415.53 337.51a0.55 0.55 0 1 0 1.1 0a0.55 0.55 0 1 0 -1.1 0M417.67 334.51a0.55 0.55 0 1 0 1.1 0a0.55 0.55 0 1 0 -1.1 0M417.17 339.92a0.55 0.55 0 1 0 1.1 0a0.55 0.55 0 1 0 -1.1 0M415.54 356.43a0.55 0.55 0 1 0 1.1 0a0.55 0.55 0 1 0 -1.1 0M419.15 327.59a0.55 0.55 0 1 0 1.1 0a0.55 0.55 0 1 0 -1.1 0M417.12 330.17a0.55 0.55 0 1 0 1.1 0a0.55 0.55 0 1 0 -1.1 0M415.54 336.18a0.55 0.55 0 1 0 1.1 0a0.55 0.55 0 1 0 -1.1 0M420.06 323.41a0.55 0.55 0 1 0 1.1 0a0.55 0.55 0 1 0 -1.1 0M414.54 332.24a0.55 0.55 0 1 0 1.1 0a0.55 0.55 0 1 0 -1.1 0M417.83 340.32a0.55 0.55 0 1 0 1.1 0a0.55 0.55 0 1 0 -1.1 0M415.71 326.40a0.55 0.55 0 1 0 1.1 0a0.55 0.55 0 1 0 -1.1 0M417.06 336.19a0.55 0.55 0 1 0 1.1 0a0.55 0.55 0 1 0 -1.1 0M415.98 358.08a0.55 0.55 0 1 0 1.1 0a0.55 0.55 0 1 0 -1.1 0M417.75 337.75a0.55 0.55 0 1 0 1.1 0a0.55 0.55 0 1 0 -1.1 0M417.52 338.70a0.55 0.55 0 1 0 1.1 0a0.55 0.55 0 1 0 -1.1 0M414.16 328.49a0.55 0.55 0 1 0 1.1 0a0.55 0.55 0 1 0 -1.1 0M414.70 316.96a0.55 0.55 0 1 0 1.1 0a0.55 0.55 0 1 0 -1.1 0M416.33 339.43a0.55 0.55 0 1 0 1.1 0a0.55 0.55 0 1 0 -1.1 0M416.48 326.43a0.55 0.55 0 1 0 1.1 0a0.55 0.55 0 1 0 -1.1 0M414.84 316.67a0.55 0.55 0 1 0 1.1 0a0.55 0.55 0 1 0 -1.1 0M414.62 322.07a0.55 0.55 0 1 0 1.1 0a0.55 0.55 0 1 0 -1.1 0M415.72 338.89a0.55 0.55 0 1 0 1.1 0a0.55 0.55 0 1 0 -1.1 0M417.14 329.25a0.55 0.55 0 1 0 1.1 0a0.55 0.55 0 1 0 -1.1 0M416.66 336.73a0.55 0.55 0 1 0 1.1 0a0.55 0.55 0 1 0 -1.1 0M417.17 336.21a0.55 0.55 0 1 0 1.1 0a0.55 0.55 0 1 0 -1.1 0M416.95 341.39a0.55 0.55 0 1 0 1.1 0a0.55 0.55 0 1 0 -1.1 0M417.41 342.52a0.55 0.55 0 1 0 1.1 0a0.55 0.55 0 1 0 -1.1 0M416.25 323.40a0.55 0.55 0 1 0 1.1 0a0.55 0.55 0 1 0 -1.1 0M420.16 333.53a0.55 0.55 0 1 0 1.1 0a0.55 0.55 0 1 0 -1.1 0M416.41 321.99a0.55 0.55 0 1 0 1.1 0a0.55 0.55 0 1 0 -1.1 0M415.00 325.83a0.55 0.55 0 1 0 1.1 0a0.55 0.55 0 1 0 -1.1 0M417.29 329.74a0.55 0.55 0 1 0 1.1 0a0.55 0.55 0 1 0 -1.1 0M416.11 335.83a0.55 0.55 0 1 0 1.1 0a0.55 0.55 0 1 0 -1.1 0M417.02 327.62a0.55 0.55 0 1 0 1.1 0a0.55 0.55 0 1 0 -1.1 0M415.96 338.33a0.55 0.55 0 1 0 1.1 0a0.55 0.55 0 1 0 -1.1 0M415.00 316.74a0.55 0.55 0 1 0 1.1 0a0.55 0.55 0 1 0 -1.1 0M415.25 325.25a0.55 0.55 0 1 0 1.1 0a0.55 0.55 0 1 0 -1.1 0M414.32 330.94a0.55 0.55 0 1 0 1.1 0a0.55 0.55 0 1 0 -1.1 0M416.94 339.71a0.55 0.55 0 1 0 1.1 0a0.55 0.55 0 1 0 -1.1 0M416.65 325.80a0.55 0.55 0 1 0 1.1 0a0.55 0.55 0 1 0 -1.1 0M417.35 324.84a0.55 0.55 0 1 0 1.1 0a0.55 0.55 0 1 0 -1.1 0M415.49 342.21a0.55 0.55 0 1 0 1.1 0a0.55 0.55 0 1 0 -1.1 0M415.27 350.19a0.55 0.55 0 1 0 1.1 0a0.55 0.55 0 1 0 -1.1 0M416.92 323.79a0.55 0.55 0 1 0 1.1 0a0.55 0.55 0 1 0 -1.1 0M418.43 336.45a0.55 0.55 0 1 0 1.1 0a0.55 0.55 0 1 0 -1.1 0M415.89 340.43a0.55 0.55 0 1 0 1.1 0a0.55 0.55 0 1 0 -1.1 0M415.12 329.62a0.55 0.55 0 1 0 1.1 0a0.55 0.55 0 1 0 -1.1 0M417.73 330.49a0.55 0.55 0 1 0 1.1 0a0.55 0.55 0 1 0 -1.1 0M416.96 348.69a0.55 0.55 0 1 0 1.1 0a0.55 0.55 0 1 0 -1.1 0M414.56 337.68a0.55 0.55 0 1 0 1.1 0a0.55 0.55 0 1 0 -1.1 0M415.23 337.66a0.55 0.55 0 1 0 1.1 0a0.55 0.55 0 1 0 -1.1 0M417.37 336.70a0.55 0.55 0 1 0 1.1 0a0.55 0.55 0 1 0 -1.1 0M415.62 336.19a0.55 0.55 0 1 0 1.1 0a0.55 0.55 0 1 0 -1.1 0M413.74 340.98a0.55 0.55 0 1 0 1.1 0a0.55 0.55 0 1 0 -1.1 0M416.99 321.58a0.55 0.55 0 1 0 1.1 0a0.55 0.55 0 1 0 -1.1 0M416.64 344.50a0.55 0.55 0 1 0 1.1 0a0.55 0.55 0 1 0 -1.1 0M415.22 340.69a0.55 0.55 0 1 0 1.1 0a0.55 0.55 0 1 0 -1.1 0M417.26 341.51a0.55 0.55 0 1 0 1.1 0a0.55 0.55 0 1 0 -1.1 0M414.54 340.23a0.55 0.55 0 1 0 1.1 0a0.55 0.55 0 1 0 -1.1 0M415.70 324.63a0.55 0.55 0 1 0 1.1 0a0.55 0.55 0 1 0 -1.1 0M416.88 358.04a0.55 0.55 0 1 0 1.1 0a0.55 0.55 0 1 0 -1.1 0" fill="none" stroke="#2a2a2a" stroke-width="0.4" opacity="0.8"/>
<text x="416.70" y="371.90" font-size="4.7" fill="#858585" text-anchor="middle">IE/M</text>
<line x1="428.75" y1="306" x2="428.75" y2="320" stroke="#444" stroke-width="0.5"/>
<line x1="428.75" y1="335.5" x2="428.75" y2="358.4" stroke="#444" stroke-width="0.5"/>
<line x1="426.35" y1="306" x2="431.15" y2="306" stroke="#333" stroke-width="0.6"/>
<line x1="426.35" y1="358.4" x2="431.15" y2="358.4" stroke="#333" stroke-width="0.6"/>
<rect x="424.3" y="320" width="8.90" height="15.50" fill="#1414c0" stroke="#333" stroke-width="0.5"/>
<line x1="424.3" y1="327.8" x2="433.2" y2="327.8" stroke="#222" stroke-width="0.5"/>
<path d="M426.59 332.78a0.55 0.55 0 1 0 1.1 0a0.55 0.55 0 1 0 -1.1 0M428.30 333.90a0.55 0.55 0 1 0 1.1 0a0.55 0.55 0 1 0 -1.1 0M429.89 315.72a0.55 0.55 0 1 0 1.1 0a0.55 0.55 0 1 0 -1.1 0M429.00 310.00a0.55 0.55 0 1 0 1.1 0a0.55 0.55 0 1 0 -1.1 0M428.36 355.23a0.55 0.55 0 1 0 1.1 0a0.55 0.55 0 1 0 -1.1 0M427.19 322.12a0.55 0.55 0 1 0 1.1 0a0.55 0.55 0 1 0 -1.1 0M426.33 329.17a0.55 0.55 0 1 0 1.1 0a0.55 0.55 0 1 0 -1.1 0M428.66 306.86a0.55 0.55 0 1 0 1.1 0a0.55 0.55 0 1 0 -1.1 0M429.59 325.99a0.55 0.55 0 1 0 1.1 0a0.55 0.55 0 1 0 -1.1 0M427.19 315.10a0.55 0.55 0 1 0 1.1 0a0.55 0.55 0 1 0 -1.1 0M428.07 323.40a0.55 0.55 0 1 0 1.1 0a0.55 0.55 0 1 0 -1.1 0M427.85 307.98a0.55 0.55 0 1 0 1.1 0a0.55 0.55 0 1 0 -1.1 0M427.56 337.44a0.55 0.55 0 1 0 1.1 0a0.55 0.55 0 1 0 -1.1 0M426.78 326.38a0.55 0.55 0 1 0 1.1 0a0.55 0.55 0 1 0 -1.1 0M426.81 345.39a0.55 0.55 0 1 0 1.1 0a0.55 0.55 0 1 0 -1.1 0M429.55 335.42a0.55 0.55 0 1 0 1.1 0a0.55 0.55 0 1 0 -1.1 0M426.03 326.73a0.55 0.55 0 1 0 1.1 0a0.55 0.55 0 1 0 -1.1 0M426.63 353.43a0.55 0.55 0 1 0 1.1 0a0.55 0.55 0 1 0 -1.1 0M427.94 334.02a0.55 0.55 0 1 0 1.1 0a0.55 0.55 0 1 0 -1.1 0M427.77 320.85a0.55 0.55 0 1 0 1.1 0a0.55 0.55 0 1 0 -1.1 0M425.44 337.31a0.55 0.55 0 1 0 1.1 0a0.55 0.55 0 1 0 -1.1 0M427.79 321.97a0.55 0.55 0 1 0 1.1 0a0.55 0.55 0 1 0 -1.1 0M427.93 326.93a0.55 0.55 0 1 0 1.1 0a0.55 0.55 0 1 0 -1.1 0M430.10 326.79a0.55 0.55 0 1 0 1.1 0a0.55 0.55 0 1 0 -1.1 0M428.84 318.53a0.55 0.55 0 1 0 1.1 0a0.55 0.55 0 1 0 -1.1 0M428.24 326.13a0.55 0.55 0 1 0 1.1 0a0.55 0.55 0 1 0 -1.1 0M428.69 356.64a0.55 0.55 0 1 0 1.1 0a0.55 0.55 0 1 0 -1.1 0M426.13 351.40a0.55 0.55 0 1 0 1.1 0a0.55 0.55 0 1 0 -1.1 0M429.31 331.57a0.55 0.55 0 1 0 1.1 0a0.55 0.55 0 1 0 -1.1 0M430.08 353.34a0.55 0.55 0 1 0 1.1 0a0.55 0.55 0 1 0 -1.1 0M429.54 328.33a0.55 0.55 0 1 0 1.1 0a0.55 0.55 0 1 0 -1.1 0M428.24 306.03a0.55 0.55 0 1 0 1.1 0a0.55 0.55 0 1 0 -1.1 0M429.30 320.97a0.55 0.55 0 1 0 1.1 0a0.55 0.55 0 1 0 -1.1 0M427.22 348.73a0.55 0.55 0 1 0 1.1 0a0.55 0.55 0 1 0 -1.1 0M428.93 308.40a0.55 0.55 0 1 0 1.1 0a0.55 0.55 0 1 0 -1.1 0M427.66 333.93a0.55 0.55 0 1 0 1.1 0a0.55 0.55 0 1 0 -1.1 0M429.63 357.21a0.55 0.55 0 1 0 1.1 0a0.55 0.55 0 1 0 -1.1 0M427.37 323.20a0.55 0.55 0 1 0 1.1 0a0.55 0.55 0 1 0 -1.1 0M431.02 316.24a0.55 0.55 0 1 0 1.1 0a0.55 0.55 0 1 0 -1.1 0M427.41 324.56a0.55 0.55 0 1 0 1.1 0a0.55 0.55 0 1 0 -1.1 0M428.34 358.16a0.55 0.55 0 1 0 1.1 0a0.55 0.55 0 1 0 -1.1 0M429.16 329.80a0.55 0.55 0 1 0 1.1 0a0.55 0.55 0 1 0 -1.1 0M430.70 321.64a0.55 0.55 0 1 0 1.1 0a0.55 0.55 0 1 0 -1.1 0M430.33 322.40a0.55 0.55 0 1 0 1.1 0a0.55 0.55 0 1 0 -1.1 0M426.66 313.07a0.55 0.55 0 1 0 1.1 0a0.55 0.55 0 1 0 -1.1 0M427.70 355.14a0.55 0.55 0 1 0 1.1 0a0.55 0.55 0 1 0 -1.1 0M428.38 324.76a0.55 0.55 0 1 0 1.1 0a0.55 0.55 0 1 0 -1.1 0M428.60 316.29a0.55 0.55 0 1 0 1.1 0a0.55 0.55 0 1 0 -1.1 0M429.06 347.42a0.55 0.55 0 1 0 1.1 0a0.55 0.55 0 1 0 -1.1 0M429.50 330.26a0.55 0.55 0 1 0 1.1 0a0.55 0.55 0 1 0 -1.1 0M427.05 324.66a0.55 0.55 0 1 0 1.1 0a0.55 0.55 0 1 0 -1.1 0M427.89 340.95a0.55 0.55 0 1 0 1.1 0a0.55 0.55 0 1 0 -1.1 0M430.03 335.24a0.55 0.55 0 1 0 1.1 0a0.55 0.55 0 1 0 -1.1 0M427.81 328.19a0.55 0.55 0 1 0 1.1 0a0.55 0.55 0 1 0 -1.1 0M428.12 320.91a0.55 0.55 0 1 0 1.1 0a0.55 0.55 0 1 0 -1.1 0M429.11 332.45a0.55 0.55 0 1 0 1.1 0a0.55 0.55 0 1 0 -1.1 0M428.75 318.89a0.55 0.55 0 1 0 1.1 0a0.55 0.55 0 1 0 -1.1 0M429.28 328.50a0.55 0.55 0 1 0 1.1 0a0.55 0.55 0 1 0 -1.1 0M430.75 307.76a0.55 0.55 0 1 0 1.1 0a0.55 0.55 0 1 0 -1.1 0M425.96 331.63a0.55 0.55 0 1 0 1.1 0a0.55 0.55 0 1 0 -1.1 0M430.18 322.79a0.55 0.55 0 1 0 1.1 0a0.55 0.55 0 1 0 -1.1 0M426.99 339.80a0.55 0.55 0 1 0 1.1 0a0.55 0.55 0 1 0 -1.1 0M429.67 333.08a0.55 0.55 0 1 0 1.1 0a0.55 0.55 0 1 0 -1.1 0M427.57 350.30a0.55 0.55 0 1 0 1.1 0a0.55 0.55 0 1 0 -1.1 0" fill="none" stroke="#2a2a2a" stroke-width="0.4" opacity="0.8"/>
<text x="428.75" y="371.90" font-size="4.7" fill="#858585" text-anchor="middle">IE/B</text>
<line x1="440.40" y1="301.6" x2="440.40" y2="310" stroke="#444" stroke-width="0.5"/>
<line x1="440.40" y1="319.7" x2="440.40" y2="349.6" stroke="#444" stroke-width="0.5"/>
<line x1="438.00" y1="301.6" x2="442.80" y2="301.6" stroke="#333" stroke-width="0.6"/>
<line x1="438.00" y1="349.6" x2="442.80" y2="349.6" stroke="#333" stroke-width="0.6"/>
<rect x="435.8" y="310" width="9.20" height="9.70" fill="#d8184c" stroke="#333" stroke-width="0.5"/>
<line x1="435.8" y1="314.7" x2="445" y2="314.7" stroke="#222" stroke-width="0.5"/>
<path d="M438.41 309.95a0.55 0.55 0 1 0 1.1 0a0.55 0.55 0 1 0 -1.1 0M439.11 309.53a0.55 0.55 0 1 0 1.1 0a0.55 0.55 0 1 0 -1.1 0M439.25 317.50a0.55 0.55 0 1 0 1.1 0a0.55 0.55 0 1 0 -1.1 0M439.98 339.57a0.55 0.55 0 1 0 1.1 0a0.55 0.55 0 1 0 -1.1 0M441.35 315.63a0.55 0.55 0 1 0 1.1 0a0.55 0.55 0 1 0 -1.1 0M438.16 310.34a0.55 0.55 0 1 0 1.1 0a0.55 0.55 0 1 0 -1.1 0M438.67 343.50a0.55 0.55 0 1 0 1.1 0a0.55 0.55 0 1 0 -1.1 0M441.36 311.47a0.55 0.55 0 1 0 1.1 0a0.55 0.55 0 1 0 -1.1 0M440.02 314.28a0.55 0.55 0 1 0 1.1 0a0.55 0.55 0 1 0 -1.1 0M442.40 317.75a0.55 0.55 0 1 0 1.1 0a0.55 0.55 0 1 0 -1.1 0M441.10 327.68a0.55 0.55 0 1 0 1.1 0a0.55 0.55 0 1 0 -1.1 0M440.53 313.02a0.55 0.55 0 1 0 1.1 0a0.55 0.55 0 1 0 -1.1 0M440.74 313.05a0.55 0.55 0 1 0 1.1 0a0.55 0.55 0 1 0 -1.1 0M439.69 326.82a0.55 0.55 0 1 0 1.1 0a0.55 0.55 0 1 0 -1.1 0M441.58 317.96a0.55 0.55 0 1 0 1.1 0a0.55 0.55 0 1 0 -1.1 0M440.92 312.47a0.55 0.55 0 1 0 1.1 0a0.55 0.55 0 1 0 -1.1 0M441.53 339.36a0.55 0.55 0 1 0 1.1 0a0.55 0.55 0 1 0 -1.1 0M439.25 313.98a0.55 0.55 0 1 0 1.1 0a0.55 0.55 0 1 0 -1.1 0M440.53 303.62a0.55 0.55 0 1 0 1.1 0a0.55 0.55 0 1 0 -1.1 0M440.57 317.38a0.55 0.55 0 1 0 1.1 0a0.55 0.55 0 1 0 -1.1 0M439.79 317.23a0.55 0.55 0 1 0 1.1 0a0.55 0.55 0 1 0 -1.1 0M440.40 312.33a0.55 0.55 0 1 0 1.1 0a0.55 0.55 0 1 0 -1.1 0M439.39 312.89a0.55 0.55 0 1 0 1.1 0a0.55 0.55 0 1 0 -1.1 0M444.08 310.74a0.55 0.55 0 1 0 1.1 0a0.55 0.55 0 1 0 -1.1 0M440.78 336.83a0.55 0.55 0 1 0 1.1 0a0.55 0.55 0 1 0 -1.1 0M438.93 312.46a0.55 0.55 0 1 0 1.1 0a0.55 0.55 0 1 0 -1.1 0M439.54 319.04a0.55 0.55 0 1 0 1.1 0a0.55 0.55 0 1 0 -1.1 0M441.62 313.27a0.55 0.55 0 1 0 1.1 0a0.55 0.55 0 1 0 -1.1 0M439.64 313.91a0.55 0.55 0 1 0 1.1 0a0.55 0.55 0 1 0 -1.1 0M438.74 304.41a0.55 0.55 0 1 0 1.1 0a0.55 0.55 0 1 0 -1.1 0M441.52 329.95a0.55 0.55 0 1 0 1.1 0a0.55 0.55 0 1 0 -1.1 0M437.89 323.80a0.55 0.55 0 1 0 1.1 0a0.55 0.55 0 1 0 -1.1 0M441.41 317.58a0.55 0.55 0 1 0 1.1 0a0.55 0.55 0 1 0 -1.1 0M440.52 313.37a0.55 0.55 0 1 0 1.1 0a0.55 0.55 0 1 0 -1.1 0M441.35 311.98a0.55 0.55 0 1 0 1.1 0a0.55 0.55 0 1 0 -1.1 0M439.34 314.54a0.55 0.55 0 1 0 1.1 0a0.55 0.55 0 1 0 -1.1 0M441.17 334.20a0.55 0.55 0 1 0 1.1 0a0.55 0.55 0 1 0 -1.1 0M439.48 311.42a0.55 0.55 0 1 0 1.1 0a0.55 0.55 0 1 0 -1.1 0M440.19 319.02a0.55 0.55 0 1 0 1.1 0a0.55 0.55 0 1 0 -1.1 0M440.27 310.18a0.55 0.55 0 1 0 1.1 0a0.55 0.55 0 1 0 -1.1 0M440.77 318.96a0.55 0.55 0 1 0 1.1 0a0.55 0.55 0 1 0 -1.1 0M439.37 314.49a0.55 0.55 0 1 0 1.1 0a0.55 0.55 0 1 0 -1.1 0M440.43 318.87a0.55 0.55 0 1 0 1.1 0a0.55 0.55 0 1 0 -1.1 0M440.07 336.33a0.55 0.55 0 1 0 1.1 0a0.55 0.55 0 1 0 -1.1 0M439.70 313.73a0.55 0.55 0 1 0 1.1 0a0.55 0.55 0 1 0 -1.1 0M438.83 318.56a0.55 0.55 0 1 0 1.1 0a0.55 0.55 0 1 0 -1.1 0M441.84 304.24a0.55 0.55 0 1 0 1.1 0a0.55 0.55 0 1 0 -1.1 0M440.57 312.31a0.55 0.55 0 1 0 1.1 0a0.55 0.55 0 1 0 -1.1 0M440.04 303.13a0.55 0.55 0 1 0 1.1 0a0.55 0.55 0 1 0 -1.1 0M439.17 314.11a0.55 0.55 0 1 0 1.1 0a0.55 0.55 0 1 0 -1.1 0M439.66 314.10a0.55 0.55 0 1 0 1.1 0a0.55 0.55 0 1 0 -1.1 0" fill="none" stroke="#2a2a2a" stroke-width="0.4" opacity="0.8"/>
<text x="440.40" y="371.90" font-size="4.7" fill="#858585" text-anchor="middle">F</text>
<line x1="452.15" y1="314.7" x2="452.15" y2="322.4" stroke="#444" stroke-width="0.5"/>
<line x1="452.15" y1="339.4" x2="452.15" y2="358.4" stroke="#444" stroke-width="0.5"/>
<line x1="449.75" y1="314.7" x2="454.55" y2="314.7" stroke="#333" stroke-width="0.6"/>
<line x1="449.75" y1="358.4" x2="454.55" y2="358.4" stroke="#333" stroke-width="0.6"/>
<rect x="447.5" y="322.4" width="9.30" height="17.00" fill="#ff9a0a" stroke="#333" stroke-width="0.5"/>
<line x1="447.5" y1="329" x2="456.8" y2="329" stroke="#222" stroke-width="0.5"/>
<path d="M452.13 343.81a0.55 0.55 0 1 0 1.1 0a0.55 0.55 0 1 0 -1.1 0M452.30 334.52a0.55 0.55 0 1 0 1.1 0a0.55 0.55 0 1 0 -1.1 0M452.22 328.97a0.55 0.55 0 1 0 1.1 0a0.55 0.55 0 1 0 -1.1 0M450.91 328.26a0.55 0.55 0 1 0 1.1 0a0.55 0.55 0 1 0 -1.1 0M453.41 323.09a0.55 0.55 0 1 0 1.1 0a0.55 0.55 0 1 0 -1.1 0M451.88 350.04a0.55 0.55 0 1 0 1.1 0a0.55 0.55 0 1 0 -1.1 0M450.20 327.73a0.55 0.55 0 1 0 1.1 0a0.55 0.55 0 1 0 -1.1 0M449.04 334.12a0.55 0.55 0 1 0 1.1 0a0.55 0.55 0 1 0 -1.1 0M452.24 356.44a0.55 0.55 0 1 0 1.1 0a0.55 0.55 0 1 0 -1.1 0M450.90 318.63a0.55 0.55 0 1 0 1.1 0a0.55 0.55 0 1 0 -1.1 0M452.79 329.07a0.55 0.55 0 1 0 1.1 0a0.55 0.55 0 1 0 -1.1 0M452.07 330.85a0.55 0.55 0 1 0 1.1 0a0.55 0.55 0 1 0 -1.1 0M450.39 325.10a0.55 0.55 0 1 0 1.1 0a0.55 0.55 0 1 0 -1.1 0M452.45 333.71a0.55 0.55 0 1 0 1.1 0a0.55 0.55 0 1 0 -1.1 0M450.86 323.98a0.55 0.55 0 1 0 1.1 0a0.55 0.55 0 1 0 -1.1 0M452.74 332.30a0.55 0.55 0 1 0 1.1 0a0.55 0.55 0 1 0 -1.1 0M451.51 338.87a0.55 0.55 0 1 0 1.1 0a0.55 0.55 0 1 0 -1.1 0M451.33 328.59a0.55 0.55 0 1 0 1.1 0a0.55 0.55 0 1 0 -1.1 0M453.03 329.27a0.55 0.55 0 1 0 1.1 0a0.55 0.55 0 1 0 -1.1 0M452.11 335.19a0.55 0.55 0 1 0 1.1 0a0.55 0.55 0 1 0 -1.1 0M452.79 326.71a0.55 0.55 0 1 0 1.1 0a0.55 0.55 0 1 0 -1.1 0M451.78 339.42a0.55 0.55 0 1 0 1.1 0a0.55 0.55 0 1 0 -1.1 0M452.17 333.76a0.55 0.55 0 1 0 1.1 0a0.55 0.55 0 1 0 -1.1 0M452.95 356.42a0.55 0.55 0 1 0 1.1 0a0.55 0.55 0 1 0 -1.1 0M453.69 332.19a0.55 0.55 0 1 0 1.1 0a0.55 0.55 0 1 0 -1.1 0M450.81 341.83a0.55 0.55 0 1 0 1.1 0a0.55 0.55 0 1 0 -1.1 0M451.20 329.46a0.55 0.55 0 1 0 1.1 0a0.55 0.55 0 1 0 -1.1 0M454.01 331.39a0.55 0.55 0 1 0 1.1 0a0.55 0.55 0 1 0 -1.1 0M452.62 316.37a0.55 0.55 0 1 0 1.1 0a0.55 0.55 0 1 0 -1.1 0M452.77 328.53a0.55 0.55 0 1 0 1.1 0a0.55 0.55 0 1 0 -1.1 0M451.93 321.25a0.55 0.55 0 1 0 1.1 0a0.55 0.55 0 1 0 -1.1 0M452.48 324.95a0.55 0.55 0 1 0 1.1 0a0.55 0.55 0 1 0 -1.1 0M450.84 331.64a0.55 0.55 0 1 0 1.1 0a0.55 0.55 0 1 0 -1.1 0M452.19 333.45a0.55 0.55 0 1 0 1.1 0a0.55 0.55 0 1 0 -1.1 0M449.32 341.99a0.55 0.55 0 1 0 1.1 0a0.55 0.55 0 1 0 -1.1 0M450.69 329.27a0.55 0.55 0 1 0 1.1 0a0.55 0.55 0 1 0 -1.1 0M450.80 337.47a0.55 0.55 0 1 0 1.1 0a0.55 0.55 0 1 0 -1.1 0M453.50 344.70a0.55 0.55 0 1 0 1.1 0a0.55 0.55 0 1 0 -1.1 0M452.58 350.73a0.55 0.55 0 1 0 1.1 0a0.55 0.55 0 1 0 -1.1 0M453.13 331.98a0.55 0.55 0 1 0 1.1 0a0.55 0.55 0 1 0 -1.1 0M451.59 327.26a0.55 0.55 0 1 0 1.1 0a0.55 0.55 0 1 0 -1.1 0M449.99 326.64a0.55 0.55 0 1 0 1.1 0a0.55 0.55 0 1 0 -1.1 0M450.93 325.42a0.55 0.55 0 1 0 1.1 0a0.55 0.55 0 1 0 -1.1 0M451.54 323.57a0.55 0.55 0 1 0 1.1 0a0.55 0.55 0 1 0 -1.1 0M452.68 334.38a0.55 0.55 0 1 0 1.1 0a0.55 0.55 0 1 0 -1.1 0M452.53 335.71a0.55 0.55 0 1 0 1.1 0a0.55 0.55 0 1 0 -1.1 0M451.89 337.13a0.55 0.55 0 1 0 1.1 0a0.55 0.55 0 1 0 -1.1 0M451.29 331.03a0.55 0.55 0 1 0 1.1 0a0.55 0.55 0 1 0 -1.1 0M451.39 331.84a0.55 0.55 0 1 0 1.1 0a0.55 0.55 0 1 0 -1.1 0M450.63 328.98a0.55 0.55 0 1 0 1.1 0a0.55 0.55 0 1 0 -1.1 0M452.94 335.31a0.55 0.55 0 1 0 1.1 0a0.55 0.55 0 1 0 -1.1 0M449.56 333.08a0.55 0.55 0 1 0 1.1 0a0.55 0.55 0 1 0 -1.1 0M452.74 341.92a0.55 0.55 0 1 0 1.1 0a0.55 0.55 0 1 0 -1.1 0M449.56 328.81a0.55 0.55 0 1 0 1.1 0a0.55 0.55 0 1 0 -1.1 0M451.69 324.80a0.55 0.55 0 1 0 1.1 0a0.55 0.55 0 1 0 -1.1 0M451.80 355.82a0.55 0.55 0 1 0 1.1 0a0.55 0.55 0 1 0 -1.1 0M451.08 320.54a0.55 0.55 0 1 0 1.1 0a0.55 0.55 0 1 0 -1.1 0M450.35 332.04a0.55 0.55 0 1 0 1.1 0a0.55 0.55 0 1 0 -1.1 0M453.56 357.91a0.55 0.55 0 1 0 1.1 0a0.55 0.55 0 1 0 -1.1 0M452.22 323.12a0.55 0.55 0 1 0 1.1 0a0.55 0.55 0 1 0 -1.1 0M452.26 334.83a0.55 0.55 0 1 0 1.1 0a0.55 0.55 0 1 0 -1.1 0M451.57 322.85a0.55 0.55 0 1 0 1.1 0a0.55 0.55 0 1 0 -1.1 0M450.82 335.81a0.55 0.55 0 1 0 1.1 0a0.55 0.55 0 1 0 -1.1 0M452.40 351.35a0.55 0.55 0 1 0 1.1 0a0.55 0.55 0 1 0 -1.1 0M449.97 329.06a0.55 0.55 0 1 0 1.1 0a0.55 0.55 0 1 0 -1.1 0M450.11 331.71a0.55 0.55 0 1 0 1.1 0a0.55 0.55 0 1 0 -1.1 0M451.83 338.56a0.55 0.55 0 1 0 1.1 0a0.55 0.55 0 1 0 -1.1 0" fill="none" stroke="#2a2a2a" stroke-width="0.4" opacity="0.8"/>
<text x="452.15" y="371.90" font-size="4.7" fill="#858585" text-anchor="middle">D</text>
<line x1="464.15" y1="302" x2="464.15" y2="315.8" stroke="#444" stroke-width="0.5"/>
<line x1="464.15" y1="331.8" x2="464.15" y2="352.5" stroke="#444" stroke-width="0.5"/>
<line x1="461.75" y1="302" x2="466.55" y2="302" stroke="#333" stroke-width="0.6"/>
<line x1="461.75" y1="352.5" x2="466.55" y2="352.5" stroke="#333" stroke-width="0.6"/>
<rect x="459.5" y="315.8" width="9.30" height="16.00" fill="#14e8e8" stroke="#333" stroke-width="0.5"/>
<line x1="459.5" y1="323" x2="468.8" y2="323" stroke="#222" stroke-width="0.5"/>
<path d="M462.90 317.51a0.55 0.55 0 1 0 1.1 0a0.55 0.55 0 1 0 -1.1 0M462.94 314.69a0.55 0.55 0 1 0 1.1 0a0.55 0.55 0 1 0 -1.1 0M463.65 316.11a0.55 0.55 0 1 0 1.1 0a0.55 0.55 0 1 0 -1.1 0M462.87 309.25a0.55 0.55 0 1 0 1.1 0a0.55 0.55 0 1 0 -1.1 0M462.86 323.52a0.55 0.55 0 1 0 1.1 0a0.55 0.55 0 1 0 -1.1 0M464.05 319.95a0.55 0.55 0 1 0 1.1 0a0.55 0.55 0 1 0 -1.1 0M463.75 317.62a0.55 0.55 0 1 0 1.1 0a0.55 0.55 0 1 0 -1.1 0M459.17 318.72a0.55 0.55 0 1 0 1.1 0a0.55 0.55 0 1 0 -1.1 0M464.06 329.68a0.55 0.55 0 1 0 1.1 0a0.55 0.55 0 1 0 -1.1 0M464.06 322.43a0.55 0.55 0 1 0 1.1 0a0.55 0.55 0 1 0 -1.1 0M462.38 324.61a0.55 0.55 0 1 0 1.1 0a0.55 0.55 0 1 0 -1.1 0M463.08 333.46a0.55 0.55 0 1 0 1.1 0a0.55 0.55 0 1 0 -1.1 0M466.63 352.21a0.55 0.55 0 1 0 1.1 0a0.55 0.55 0 1 0 -1.1 0M463.47 329.14a0.55 0.55 0 1 0 1.1 0a0.55 0.55 0 1 0 -1.1 0M462.80 318.50a0.55 0.55 0 1 0 1.1 0a0.55 0.55 0 1 0 -1.1 0M462.22 316.99a0.55 0.55 0 1 0 1.1 0a0.55 0.55 0 1 0 -1.1 0M465.29 324.03a0.55 0.55 0 1 0 1.1 0a0.55 0.55 0 1 0 -1.1 0M463.79 319.16a0.55 0.55 0 1 0 1.1 0a0.55 0.55 0 1 0 -1.1 0M463.55 342.91a0.55 0.55 0 1 0 1.1 0a0.55 0.55 0 1 0 -1.1 0M461.71 339.14a0.55 0.55 0 1 0 1.1 0a0.55 0.55 0 1 0 -1.1 0M464.99 340.77a0.55 0.55 0 1 0 1.1 0a0.55 0.55 0 1 0 -1.1 0M464.86 307.09a0.55 0.55 0 1 0 1.1 0a0.55 0.55 0 1 0 -1.1 0M463.20 314.65a0.55 0.55 0 1 0 1.1 0a0.55 0.55 0 1 0 -1.1 0M462.77 303.19a0.55 0.55 0 1 0 1.1 0a0.55 0.55 0 1 0 -1.1 0M463.17 321.71a0.55 0.55 0 1 0 1.1 0a0.55 0.55 0 1 0 -1.1 0M462.38 342.94a0.55 0.55 0 1 0 1.1 0a0.55 0.55 0 1 0 -1.1 0M464.99 320.27a0.55 0.55 0 1 0 1.1 0a0.55 0.55 0 1 0 -1.1 0M464.57 318.24a0.55 0.55 0 1 0 1.1 0a0.55 0.55 0 1 0 -1.1 0M464.25 312.67a0.55 0.55 0 1 0 1.1 0a0.55 0.55 0 1 0 -1.1 0M463.26 329.59a0.55 0.55 0 1 0 1.1 0a0.55 0.55 0 1 0 -1.1 0M462.86 318.09a0.55 0.55 0 1 0 1.1 0a0.55 0.55 0 1 0 -1.1 0M465.13 322.69a0.55 0.55 0 1 0 1.1 0a0.55 0.55 0 1 0 -1.1 0M463.69 320.94a0.55 0.55 0 1 0 1.1 0a0.55 0.55 0 1 0 -1.1 0M464.35 350.09a0.55 0.55 0 1 0 1.1 0a0.55 0.55 0 1 0 -1.1 0M466.17 327.87a0.55 0.55 0 1 0 1.1 0a0.55 0.55 0 1 0 -1.1 0M460.58 331.60a0.55 0.55 0 1 0 1.1 0a0.55 0.55 0 1 0 -1.1 0M465.02 322.33a0.55 0.55 0 1 0 1.1 0a0.55 0.55 0 1 0 -1.1 0M463.31 310.98a0.55 0.55 0 1 0 1.1 0a0.55 0.55 0 1 0 -1.1 0M465.53 318.27a0.55 0.55 0 1 0 1.1 0a0.55 0.55 0 1 0 -1.1 0M464.33 321.51a0.55 0.55 0 1 0 1.1 0a0.55 0.55 0 1 0 -1.1 0M463.55 321.09a0.55 0.55 0 1 0 1.1 0a0.55 0.55 0 1 0 -1.1 0M461.58 312.72a0.55 0.55 0 1 0 1.1 0a0.55 0.55 0 1 0 -1.1 0M461.79 333.75a0.55 0.55 0 1 0 1.1 0a0.55 0.55 0 1 0 -1.1 0M465.47 330.67a0.55 0.55 0 1 0 1.1 0a0.55 0.55 0 1 0 -1.1 0M465.23 324.89a0.55 0.55 0 1 0 1.1 0a0.55 0.55 0 1 0 -1.1 0M462.90 323.18a0.55 0.55 0 1 0 1.1 0a0.55 0.55 0 1 0 -1.1 0M464.22 330.92a0.55 0.55 0 1 0 1.1 0a0.55 0.55 0 1 0 -1.1 0M462.61 303.63a0.55 0.55 0 1 0 1.1 0a0.55 0.55 0 1 0 -1.1 0M462.59 332.03a0.55 0.55 0 1 0 1.1 0a0.55 0.55 0 1 0 -1.1 0M459.59 309.67a0.55 0.55 0 1 0 1.1 0a0.55 0.55 0 1 0 -1.1 0M464.40 317.80a0.55 0.55 0 1 0 1.1 0a0.55 0.55 0 1 0 -1.1 0M461.47 351.97a0.55 0.55 0 1 0 1.1 0a0.55 0.55 0 1 0 -1.1 0M465.11 331.64a0.55 0.55 0 1 0 1.1 0a0.55 0.55 0 1 0 -1.1 0M464.61 319.55a0.55 0.55 0 1 0 1.1 0a0.55 0.55 0 1 0 -1.1 0M462.01 343.88a0.55 0.55 0 1 0 1.1 0a0.55 0.55 0 1 0 -1.1 0M464.08 327.84a0.55 0.55 0 1 0 1.1 0a0.55 0.55 0 1 0 -1.1 0M463.58 337.94a0.55 0.55 0 1 0 1.1 0a0.55 0.55 0 1 0 -1.1 0M462.05 328.71a0.55 0.55 0 1 0 1.1 0a0.55 0.55 0 1 0 -1.1 0M464.06 311.90a0.55 0.55 0 1 0 1.1 0a0.55 0.55 0 1 0 -1.1 0M465.08 326.10a0.55 0.55 0 1 0 1.1 0a0.55 0.55 0 1 0 -1.1 0M464.34 326.78a0.55 0.55 0 1 0 1.1 0a0.55 0.55 0 1 0 -1.1 0M464.97 328.60a0.55 0.55 0 1 0 1.1 0a0.55 0.55 0 1 0 -1.1 0M461.84 347.74a0.55 0.55 0 1 0 1.1 0a0.55 0.55 0 1 0 -1.1 0M463.20 309.66a0.55 0.55 0 1 0 1.1 0a0.55 0.55 0 1 0 -1.1 0M464.05 321.33a0.55 0.55 0 1 0 1.1 0a0.55 0.55 0 1 0 -1.1 0" fill="none" stroke="#2a2a2a" stroke-width="0.4" opacity="0.8"/>
<text x="464.15" y="371.90" font-size="4.7" fill="#858585" text-anchor="middle">IE/L</text>
<rect x="479.7" y="290.7" width="58.70" height="75.30" fill="none" stroke="#d2d2d2" stroke-width="0.8"/>
<text x="507.50" y="287.50" font-size="5.2" fill="#6a6a6a" textLength="9.80" lengthAdjust="spacingAndGlyphs">PI3K</text>
<text x="477.50" y="293.00" font-size="5.2" fill="#777" text-anchor="end">3</text>
<text x="477.50" y="305.60" font-size="5.2" fill="#777" text-anchor="end">2</text>
<text x="477.50" y="317.60" font-size="5.2" fill="#777" text-anchor="end">1</text>
<text x="477.50" y="330.30" font-size="5.2" fill="#777" text-anchor="end">0</text>
<text x="477.50" y="342.80" font-size="5.2" fill="#777" text-anchor="end">−1</text>
<text x="477.50" y="354.80" font-size="5.2" fill="#777" text-anchor="end">−2</text>
<text x="477.50" y="367.20" font-size="5.2" fill="#777" text-anchor="end">−3</text>
<text x="491.25" y="296.90" font-size="4.6" fill="#808080" text-anchor="middle">*</text>
<text x="503.10" y="296.90" font-size="4.6" fill="#808080" text-anchor="middle">*</text>
<text x="514.95" y="296.90" font-size="4.6" fill="#808080" text-anchor="middle">*</text>
<text x="526.75" y="296.90" font-size="4.6" fill="#808080" text-anchor="middle">*</text>
<path d="M486.10,298.80V297.50H496.40V298.80M498.00,298.80V297.50H508.20V298.80M509.80,298.80V297.50H520.10V298.80M521.70,298.80V297.50H531.80V298.80" fill="none" stroke="#a8a8a8" stroke-width="0.45"/>
<line x1="485.30" y1="319.7" x2="485.30" y2="328.5" stroke="#444" stroke-width="0.5"/>
<line x1="485.30" y1="339.8" x2="485.30" y2="354.7" stroke="#444" stroke-width="0.5"/>
<line x1="482.90" y1="319.7" x2="487.70" y2="319.7" stroke="#333" stroke-width="0.6"/>
<line x1="482.90" y1="354.7" x2="487.70" y2="354.7" stroke="#333" stroke-width="0.6"/>
<rect x="480.6" y="328.5" width="9.40" height="11.30" fill="#138a8a" stroke="#333" stroke-width="0.5"/>
<line x1="480.6" y1="334.4" x2="490" y2="334.4" stroke="#222" stroke-width="0.5"/>
<path d="M485.36 348.89a0.55 0.55 0 1 0 1.1 0a0.55 0.55 0 1 0 -1.1 0M485.30 338.10a0.55 0.55 0 1 0 1.1 0a0.55 0.55 0 1 0 -1.1 0M488.22 351.26a0.55 0.55 0 1 0 1.1 0a0.55 0.55 0 1 0 -1.1 0M486.44 335.61a0.55 0.55 0 1 0 1.1 0a0.55 0.55 0 1 0 -1.1 0M485.38 345.17a0.55 0.55 0 1 0 1.1 0a0.55 0.55 0 1 0 -1.1 0M486.58 328.67a0.55 0.55 0 1 0 1.1 0a0.55 0.55 0 1 0 -1.1 0M484.03 332.06a0.55 0.55 0 1 0 1.1 0a0.55 0.55 0 1 0 -1.1 0M483.99 344.02a0.55 0.55 0 1 0 1.1 0a0.55 0.55 0 1 0 -1.1 0M484.25 329.95a0.55 0.55 0 1 0 1.1 0a0.55 0.55 0 1 0 -1.1 0M483.38 329.81a0.55 0.55 0 1 0 1.1 0a0.55 0.55 0 1 0 -1.1 0M484.21 341.05a0.55 0.55 0 1 0 1.1 0a0.55 0.55 0 1 0 -1.1 0M485.42 343.91a0.55 0.55 0 1 0 1.1 0a0.55 0.55 0 1 0 -1.1 0M484.26 332.31a0.55 0.55 0 1 0 1.1 0a0.55 0.55 0 1 0 -1.1 0M485.99 335.63a0.55 0.55 0 1 0 1.1 0a0.55 0.55 0 1 0 -1.1 0M483.54 337.77a0.55 0.55 0 1 0 1.1 0a0.55 0.55 0 1 0 -1.1 0M485.53 352.66a0.55 0.55 0 1 0 1.1 0a0.55 0.55 0 1 0 -1.1 0M484.91 336.45a0.55 0.55 0 1 0 1.1 0a0.55 0.55 0 1 0 -1.1 0M486.45 338.36a0.55 0.55 0 1 0 1.1 0a0.55 0.55 0 1 0 -1.1 0M484.11 338.16a0.55 0.55 0 1 0 1.1 0a0.55 0.55 0 1 0 -1.1 0M483.47 333.27a0.55 0.55 0 1 0 1.1 0a0.55 0.55 0 1 0 -1.1 0M484.30 340.74a0.55 0.55 0 1 0 1.1 0a0.55 0.55 0 1 0 -1.1 0M484.90 331.68a0.55 0.55 0 1 0 1.1 0a0.55 0.55 0 1 0 -1.1 0M484.22 339.29a0.55 0.55 0 1 0 1.1 0a0.55 0.55 0 1 0 -1.1 0M486.68 328.27a0.55 0.55 0 1 0 1.1 0a0.55 0.55 0 1 0 -1.1 0M485.53 329.99a0.55 0.55 0 1 0 1.1 0a0.55 0.55 0 1 0 -1.1 0M484.15 332.36a0.55 0.55 0 1 0 1.1 0a0.55 0.55 0 1 0 -1.1 0M483.37 349.46a0.55 0.55 0 1 0 1.1 0a0.55 0.55 0 1 0 -1.1 0M483.87 338.63a0.55 0.55 0 1 0 1.1 0a0.55 0.55 0 1 0 -1.1 0M483.28 332.61a0.55 0.55 0 1 0 1.1 0a0.55 0.55 0 1 0 -1.1 0M486.23 331.74a0.55 0.55 0 1 0 1.1 0a0.55 0.55 0 1 0 -1.1 0M486.57 352.94a0.55 0.55 0 1 0 1.1 0a0.55 0.55 0 1 0 -1.1 0M485.02 332.59a0.55 0.55 0 1 0 1.1 0a0.55 0.55 0 1 0 -1.1 0M483.90 332.07a0.55 0.55 0 1 0 1.1 0a0.55 0.55 0 1 0 -1.1 0M483.19 353.88a0.55 0.55 0 1 0 1.1 0a0.55 0.55 0 1 0 -1.1 0M485.64 333.53a0.55 0.55 0 1 0 1.1 0a0.55 0.55 0 1 0 -1.1 0M483.09 354.62a0.55 0.55 0 1 0 1.1 0a0.55 0.55 0 1 0 -1.1 0M483.20 333.72a0.55 0.55 0 1 0 1.1 0a0.55 0.55 0 1 0 -1.1 0M485.85 339.68a0.55 0.55 0 1 0 1.1 0a0.55 0.55 0 1 0 -1.1 0M485.56 332.68a0.55 0.55 0 1 0 1.1 0a0.55 0.55 0 1 0 -1.1 0M485.77 322.62a0.55 0.55 0 1 0 1.1 0a0.55 0.55 0 1 0 -1.1 0M483.22 335.83a0.55 0.55 0 1 0 1.1 0a0.55 0.55 0 1 0 -1.1 0M483.26 337.67a0.55 0.55 0 1 0 1.1 0a0.55 0.55 0 1 0 -1.1 0M485.82 346.86a0.55 0.55 0 1 0 1.1 0a0.55 0.55 0 1 0 -1.1 0M485.75 338.21a0.55 0.55 0 1 0 1.1 0a0.55 0.55 0 1 0 -1.1 0M485.95 351.05a0.55 0.55 0 1 0 1.1 0a0.55 0.55 0 1 0 -1.1 0M484.93 338.38a0.55 0.55 0 1 0 1.1 0a0.55 0.55 0 1 0 -1.1 0M484.26 337.42a0.55 0.55 0 1 0 1.1 0a0.55 0.55 0 1 0 -1.1 0M486.22 334.92a0.55 0.55 0 1 0 1.1 0a0.55 0.55 0 1 0 -1.1 0M483.67 329.50a0.55 0.55 0 1 0 1.1 0a0.55 0.55 0 1 0 -1.1 0M484.67 328.34a0.55 0.55 0 1 0 1.1 0a0.55 0.55 0 1 0 -1.1 0M485.04 329.11a0.55 0.55 0 1 0 1.1 0a0.55 0.55 0 1 0 -1.1 0M486.15 335.78a0.55 0.55 0 1 0 1.1 0a0.55 0.55 0 1 0 -1.1 0M485.19 323.35a0.55 0.55 0 1 0 1.1 0a0.55 0.55 0 1 0 -1.1 0M484.14 338.07a0.55 0.55 0 1 0 1.1 0a0.55 0.55 0 1 0 -1.1 0" fill="none" stroke="#2a2a2a" stroke-width="0.4" opacity="0.8"/>
<text x="485.30" y="371.90" font-size="4.7" fill="#858585" text-anchor="middle">IE/M</text>
<line x1="497.20" y1="312.5" x2="497.20" y2="325" stroke="#444" stroke-width="0.5"/>
<line x1="497.20" y1="336.5" x2="497.20" y2="353" stroke="#444" stroke-width="0.5"/>
<line x1="494.80" y1="312.5" x2="499.60" y2="312.5" stroke="#333" stroke-width="0.6"/>
<line x1="494.80" y1="353" x2="499.60" y2="353" stroke="#333" stroke-width="0.6"/>
<rect x="492.8" y="325" width="8.80" height="11.50" fill="#1414c0" stroke="#333" stroke-width="0.5"/>
<line x1="492.8" y1="331.5" x2="501.6" y2="331.5" stroke="#222" stroke-width="0.5"/>
<path d="M498.85 332.04a0.55 0.55 0 1 0 1.1 0a0.55 0.55 0 1 0 -1.1 0M494.12 325.12a0.55 0.55 0 1 0 1.1 0a0.55 0.55 0 1 0 -1.1 0M496.45 334.41a0.55 0.55 0 1 0 1.1 0a0.55 0.55 0 1 0 -1.1 0M494.61 331.11a0.55 0.55 0 1 0 1.1 0a0.55 0.55 0 1 0 -1.1 0M495.59 326.27a0.55 0.55 0 1 0 1.1 0a0.55 0.55 0 1 0 -1.1 0M499.86 346.83a0.55 0.55 0 1 0 1.1 0a0.55 0.55 0 1 0 -1.1 0M497.54 329.79a0.55 0.55 0 1 0 1.1 0a0.55 0.55 0 1 0 -1.1 0M497.13 335.57a0.55 0.55 0 1 0 1.1 0a0.55 0.55 0 1 0 -1.1 0M495.11 330.62a0.55 0.55 0 1 0 1.1 0a0.55 0.55 0 1 0 -1.1 0M494.42 335.50a0.55 0.55 0 1 0 1.1 0a0.55 0.55 0 1 0 -1.1 0M495.79 349.11a0.55 0.55 0 1 0 1.1 0a0.55 0.55 0 1 0 -1.1 0M497.33 322.96a0.55 0.55 0 1 0 1.1 0a0.55 0.55 0 1 0 -1.1 0M495.44 329.94a0.55 0.55 0 1 0 1.1 0a0.55 0.55 0 1 0 -1.1 0M496.83 330.18a0.55 0.55 0 1 0 1.1 0a0.55 0.55 0 1 0 -1.1 0M498.12 334.61a0.55 0.55 0 1 0 1.1 0a0.55 0.55 0 1 0 -1.1 0M497.25 328.69a0.55 0.55 0 1 0 1.1 0a0.55 0.55 0 1 0 -1.1 0M495.87 326.14a0.55 0.55 0 1 0 1.1 0a0.55 0.55 0 1 0 -1.1 0M497.46 327.65a0.55 0.55 0 1 0 1.1 0a0.55 0.55 0 1 0 -1.1 0M497.98 332.24a0.55 0.55 0 1 0 1.1 0a0.55 0.55 0 1 0 -1.1 0M496.72 312.79a0.55 0.55 0 1 0 1.1 0a0.55 0.55 0 1 0 -1.1 0M495.48 351.41a0.55 0.55 0 1 0 1.1 0a0.55 0.55 0 1 0 -1.1 0M497.96 328.46a0.55 0.55 0 1 0 1.1 0a0.55 0.55 0 1 0 -1.1 0M496.04 336.37a0.55 0.55 0 1 0 1.1 0a0.55 0.55 0 1 0 -1.1 0M498.05 343.03a0.55 0.55 0 1 0 1.1 0a0.55 0.55 0 1 0 -1.1 0M496.64 326.07a0.55 0.55 0 1 0 1.1 0a0.55 0.55 0 1 0 -1.1 0M497.68 329.73a0.55 0.55 0 1 0 1.1 0a0.55 0.55 0 1 0 -1.1 0M496.21 328.79a0.55 0.55 0 1 0 1.1 0a0.55 0.55 0 1 0 -1.1 0M498.56 336.32a0.55 0.55 0 1 0 1.1 0a0.55 0.55 0 1 0 -1.1 0M495.66 325.79a0.55 0.55 0 1 0 1.1 0a0.55 0.55 0 1 0 -1.1 0M498.84 338.51a0.55 0.55 0 1 0 1.1 0a0.55 0.55 0 1 0 -1.1 0M498.39 333.78a0.55 0.55 0 1 0 1.1 0a0.55 0.55 0 1 0 -1.1 0M497.19 350.06a0.55 0.55 0 1 0 1.1 0a0.55 0.55 0 1 0 -1.1 0M498.64 313.40a0.55 0.55 0 1 0 1.1 0a0.55 0.55 0 1 0 -1.1 0M495.78 312.73a0.55 0.55 0 1 0 1.1 0a0.55 0.55 0 1 0 -1.1 0M495.05 329.44a0.55 0.55 0 1 0 1.1 0a0.55 0.55 0 1 0 -1.1 0M493.28 315.54a0.55 0.55 0 1 0 1.1 0a0.55 0.55 0 1 0 -1.1 0M496.66 330.34a0.55 0.55 0 1 0 1.1 0a0.55 0.55 0 1 0 -1.1 0M495.38 330.02a0.55 0.55 0 1 0 1.1 0a0.55 0.55 0 1 0 -1.1 0M496.60 328.68a0.55 0.55 0 1 0 1.1 0a0.55 0.55 0 1 0 -1.1 0M496.15 334.59a0.55 0.55 0 1 0 1.1 0a0.55 0.55 0 1 0 -1.1 0M497.14 334.70a0.55 0.55 0 1 0 1.1 0a0.55 0.55 0 1 0 -1.1 0M497.08 335.97a0.55 0.55 0 1 0 1.1 0a0.55 0.55 0 1 0 -1.1 0M496.98 349.85a0.55 0.55 0 1 0 1.1 0a0.55 0.55 0 1 0 -1.1 0M497.96 346.49a0.55 0.55 0 1 0 1.1 0a0.55 0.55 0 1 0 -1.1 0M496.33 335.05a0.55 0.55 0 1 0 1.1 0a0.55 0.55 0 1 0 -1.1 0M496.71 329.34a0.55 0.55 0 1 0 1.1 0a0.55 0.55 0 1 0 -1.1 0M494.66 350.09a0.55 0.55 0 1 0 1.1 0a0.55 0.55 0 1 0 -1.1 0M496.73 333.95a0.55 0.55 0 1 0 1.1 0a0.55 0.55 0 1 0 -1.1 0M497.51 333.54a0.55 0.55 0 1 0 1.1 0a0.55 0.55 0 1 0 -1.1 0M498.14 328.98a0.55 0.55 0 1 0 1.1 0a0.55 0.55 0 1 0 -1.1 0M495.33 329.02a0.55 0.55 0 1 0 1.1 0a0.55 0.55 0 1 0 -1.1 0M495.79 331.60a0.55 0.55 0 1 0 1.1 0a0.55 0.55 0 1 0 -1.1 0M495.36 327.01a0.55 0.55 0 1 0 1.1 0a0.55 0.55 0 1 0 -1.1 0M495.90 325.78a0.55 0.55 0 1 0 1.1 0a0.55 0.55 0 1 0 -1.1 0M496.50 321.96a0.55 0.55 0 1 0 1.1 0a0.55 0.55 0 1 0 -1.1 0" fill="none" stroke="#2a2a2a" stroke-width="0.4" opacity="0.8"/>
<text x="497.20" y="371.90" font-size="4.7" fill="#858585" text-anchor="middle">IE/B</text>
<line x1="509.00" y1="302.3" x2="509.00" y2="320.6" stroke="#444" stroke-width="0.5"/>
<line x1="509.00" y1="339.8" x2="509.00" y2="358.4" stroke="#444" stroke-width="0.5"/>
<line x1="506.60" y1="302.3" x2="511.40" y2="302.3" stroke="#333" stroke-width="0.6"/>
<line x1="506.60" y1="358.4" x2="511.40" y2="358.4" stroke="#333" stroke-width="0.6"/>
<rect x="504.2" y="320.6" width="9.60" height="19.20" fill="#d8184c" stroke="#333" stroke-width="0.5"/>
<line x1="504.2" y1="329.3" x2="513.8" y2="329.3" stroke="#222" stroke-width="0.5"/>
<path d="M510.55 316.72a0.55 0.55 0 1 0 1.1 0a0.55 0.55 0 1 0 -1.1 0M506.97 336.44a0.55 0.55 0 1 0 1.1 0a0.55 0.55 0 1 0 -1.1 0M509.89 332.46a0.55 0.55 0 1 0 1.1 0a0.55 0.55 0 1 0 -1.1 0M509.66 357.04a0.55 0.55 0 1 0 1.1 0a0.55 0.55 0 1 0 -1.1 0M507.68 325.04a0.55 0.55 0 1 0 1.1 0a0.55 0.55 0 1 0 -1.1 0M507.57 308.04a0.55 0.55 0 1 0 1.1 0a0.55 0.55 0 1 0 -1.1 0M510.81 334.01a0.55 0.55 0 1 0 1.1 0a0.55 0.55 0 1 0 -1.1 0M508.08 333.24a0.55 0.55 0 1 0 1.1 0a0.55 0.55 0 1 0 -1.1 0M509.10 345.20a0.55 0.55 0 1 0 1.1 0a0.55 0.55 0 1 0 -1.1 0M508.64 307.78a0.55 0.55 0 1 0 1.1 0a0.55 0.55 0 1 0 -1.1 0M507.56 330.87a0.55 0.55 0 1 0 1.1 0a0.55 0.55 0 1 0 -1.1 0M508.61 309.08a0.55 0.55 0 1 0 1.1 0a0.55 0.55 0 1 0 -1.1 0M506.74 354.13a0.55 0.55 0 1 0 1.1 0a0.55 0.55 0 1 0 -1.1 0M510.42 322.72a0.55 0.55 0 1 0 1.1 0a0.55 0.55 0 1 0 -1.1 0M507.82 337.07a0.55 0.55 0 1 0 1.1 0a0.55 0.55 0 1 0 -1.1 0M508.45 317.15a0.55 0.55 0 1 0 1.1 0a0.55 0.55 0 1 0 -1.1 0M508.71 316.53a0.55 0.55 0 1 0 1.1 0a0.55 0.55 0 1 0 -1.1 0M509.46 325.46a0.55 0.55 0 1 0 1.1 0a0.55 0.55 0 1 0 -1.1 0M509.55 326.07a0.55 0.55 0 1 0 1.1 0a0.55 0.55 0 1 0 -1.1 0M508.99 330.38a0.55 0.55 0 1 0 1.1 0a0.55 0.55 0 1 0 -1.1 0M507.90 350.25a0.55 0.55 0 1 0 1.1 0a0.55 0.55 0 1 0 -1.1 0M508.29 332.81a0.55 0.55 0 1 0 1.1 0a0.55 0.55 0 1 0 -1.1 0M506.85 353.87a0.55 0.55 0 1 0 1.1 0a0.55 0.55 0 1 0 -1.1 0M511.33 316.88a0.55 0.55 0 1 0 1.1 0a0.55 0.55 0 1 0 -1.1 0M509.47 335.72a0.55 0.55 0 1 0 1.1 0a0.55 0.55 0 1 0 -1.1 0M507.01 329.29a0.55 0.55 0 1 0 1.1 0a0.55 0.55 0 1 0 -1.1 0M509.98 330.67a0.55 0.55 0 1 0 1.1 0a0.55 0.55 0 1 0 -1.1 0M508.81 321.87a0.55 0.55 0 1 0 1.1 0a0.55 0.55 0 1 0 -1.1 0M511.61 338.66a0.55 0.55 0 1 0 1.1 0a0.55 0.55 0 1 0 -1.1 0M508.94 306.33a0.55 0.55 0 1 0 1.1 0a0.55 0.55 0 1 0 -1.1 0M508.10 309.02a0.55 0.55 0 1 0 1.1 0a0.55 0.55 0 1 0 -1.1 0M508.77 319.65a0.55 0.55 0 1 0 1.1 0a0.55 0.55 0 1 0 -1.1 0M508.12 306.11a0.55 0.55 0 1 0 1.1 0a0.55 0.55 0 1 0 -1.1 0M510.41 331.56a0.55 0.55 0 1 0 1.1 0a0.55 0.55 0 1 0 -1.1 0M508.24 346.33a0.55 0.55 0 1 0 1.1 0a0.55 0.55 0 1 0 -1.1 0M507.63 306.63a0.55 0.55 0 1 0 1.1 0a0.55 0.55 0 1 0 -1.1 0M508.31 322.17a0.55 0.55 0 1 0 1.1 0a0.55 0.55 0 1 0 -1.1 0M508.07 324.39a0.55 0.55 0 1 0 1.1 0a0.55 0.55 0 1 0 -1.1 0M507.15 322.11a0.55 0.55 0 1 0 1.1 0a0.55 0.55 0 1 0 -1.1 0M510.09 331.31a0.55 0.55 0 1 0 1.1 0a0.55 0.55 0 1 0 -1.1 0M508.16 326.36a0.55 0.55 0 1 0 1.1 0a0.55 0.55 0 1 0 -1.1 0M511.74 334.08a0.55 0.55 0 1 0 1.1 0a0.55 0.55 0 1 0 -1.1 0M507.12 354.21a0.55 0.55 0 1 0 1.1 0a0.55 0.55 0 1 0 -1.1 0M509.95 354.75a0.55 0.55 0 1 0 1.1 0a0.55 0.55 0 1 0 -1.1 0M508.64 340.77a0.55 0.55 0 1 0 1.1 0a0.55 0.55 0 1 0 -1.1 0M508.95 336.70a0.55 0.55 0 1 0 1.1 0a0.55 0.55 0 1 0 -1.1 0M508.22 356.13a0.55 0.55 0 1 0 1.1 0a0.55 0.55 0 1 0 -1.1 0M510.67 322.75a0.55 0.55 0 1 0 1.1 0a0.55 0.55 0 1 0 -1.1 0M506.06 321.21a0.55 0.55 0 1 0 1.1 0a0.55 0.55 0 1 0 -1.1 0M506.75 340.92a0.55 0.55 0 1 0 1.1 0a0.55 0.55 0 1 0 -1.1 0M508.24 347.62a0.55 0.55 0 1 0 1.1 0a0.55 0.55 0 1 0 -1.1 0M509.42 321.90a0.55 0.55 0 1 0 1.1 0a0.55 0.55 0 1 0 -1.1 0M505.05 325.17a0.55 0.55 0 1 0 1.1 0a0.55 0.55 0 1 0 -1.1 0M510.67 327.26a0.55 0.55 0 1 0 1.1 0a0.55 0.55 0 1 0 -1.1 0M508.66 331.84a0.55 0.55 0 1 0 1.1 0a0.55 0.55 0 1 0 -1.1 0M507.80 321.11a0.55 0.55 0 1 0 1.1 0a0.55 0.55 0 1 0 -1.1 0M507.17 337.53a0.55 0.55 0 1 0 1.1 0a0.55 0.55 0 1 0 -1.1 0M508.42 323.48a0.55 0.55 0 1 0 1.1 0a0.55 0.55 0 1 0 -1.1 0M509.93 320.97a0.55 0.55 0 1 0 1.1 0a0.55 0.55 0 1 0 -1.1 0M508.35 333.16a0.55 0.55 0 1 0 1.1 0a0.55 0.55 0 1 0 -1.1 0M510.03 337.44a0.55 0.55 0 1 0 1.1 0a0.55 0.55 0 1 0 -1.1 0M508.08 325.06a0.55 0.55 0 1 0 1.1 0a0.55 0.55 0 1 0 -1.1 0M509.55 340.12a0.55 0.55 0 1 0 1.1 0a0.55 0.55 0 1 0 -1.1 0M510.39 332.60a0.55 0.55 0 1 0 1.1 0a0.55 0.55 0 1 0 -1.1 0M509.50 324.78a0.55 0.55 0 1 0 1.1 0a0.55 0.55 0 1 0 -1.1 0M507.61 339.60a0.55 0.55 0 1 0 1.1 0a0.55 0.55 0 1 0 -1.1 0M509.34 357.86a0.55 0.55 0 1 0 1.1 0a0.55 0.55 0 1 0 -1.1 0M509.01 323.20a0.55 0.55 0 1 0 1.1 0a0.55 0.55 0 1 0 -1.1 0M506.25 335.78a0.55 0.55 0 1 0 1.1 0a0.55 0.55 0 1 0 -1.1 0M506.67 326.11a0.55 0.55 0 1 0 1.1 0a0.55 0.55 0 1 0 -1.1 0M507.27 336.31a0.55 0.55 0 1 0 1.1 0a0.55 0.55 0 1 0 -1.1 0M508.10 330.18a0.55 0.55 0 1 0 1.1 0a0.55 0.55 0 1 0 -1.1 0" fill="none" stroke="#2a2a2a" stroke-width="0.4" opacity="0.8"/>
<text x="509.00" y="371.90" font-size="4.7" fill="#858585" text-anchor="middle">F</text>
<line x1="520.90" y1="302.3" x2="520.90" y2="312.5" stroke="#444" stroke-width="0.5"/>
<line x1="520.90" y1="325.6" x2="520.90" y2="343.7" stroke="#444" stroke-width="0.5"/>
<line x1="518.50" y1="302.3" x2="523.30" y2="302.3" stroke="#333" stroke-width="0.6"/>
<line x1="518.50" y1="343.7" x2="523.30" y2="343.7" stroke="#333" stroke-width="0.6"/>
<rect x="516.2" y="312.5" width="9.40" height="13.10" fill="#ff9a0a" stroke="#333" stroke-width="0.5"/>
<line x1="516.2" y1="318.4" x2="525.6" y2="318.4" stroke="#222" stroke-width="0.5"/>
<path d="M520.68 308.24a0.55 0.55 0 1 0 1.1 0a0.55 0.55 0 1 0 -1.1 0M523.27 324.00a0.55 0.55 0 1 0 1.1 0a0.55 0.55 0 1 0 -1.1 0M519.61 324.69a0.55 0.55 0 1 0 1.1 0a0.55 0.55 0 1 0 -1.1 0M521.15 321.86a0.55 0.55 0 1 0 1.1 0a0.55 0.55 0 1 0 -1.1 0M520.06 321.38a0.55 0.55 0 1 0 1.1 0a0.55 0.55 0 1 0 -1.1 0M521.71 332.38a0.55 0.55 0 1 0 1.1 0a0.55 0.55 0 1 0 -1.1 0M519.90 314.07a0.55 0.55 0 1 0 1.1 0a0.55 0.55 0 1 0 -1.1 0M521.10 324.80a0.55 0.55 0 1 0 1.1 0a0.55 0.55 0 1 0 -1.1 0M520.71 313.15a0.55 0.55 0 1 0 1.1 0a0.55 0.55 0 1 0 -1.1 0M521.49 314.90a0.55 0.55 0 1 0 1.1 0a0.55 0.55 0 1 0 -1.1 0M521.46 325.80a0.55 0.55 0 1 0 1.1 0a0.55 0.55 0 1 0 -1.1 0M520.86 324.11a0.55 0.55 0 1 0 1.1 0a0.55 0.55 0 1 0 -1.1 0M520.18 313.50a0.55 0.55 0 1 0 1.1 0a0.55 0.55 0 1 0 -1.1 0M521.72 322.46a0.55 0.55 0 1 0 1.1 0a0.55 0.55 0 1 0 -1.1 0M519.64 316.83a0.55 0.55 0 1 0 1.1 0a0.55 0.55 0 1 0 -1.1 0M521.28 314.49a0.55 0.55 0 1 0 1.1 0a0.55 0.55 0 1 0 -1.1 0M516.99 320.40a0.55 0.55 0 1 0 1.1 0a0.55 0.55 0 1 0 -1.1 0M521.48 321.55a0.55 0.55 0 1 0 1.1 0a0.55 0.55 0 1 0 -1.1 0M523.26 303.31a0.55 0.55 0 1 0 1.1 0a0.55 0.55 0 1 0 -1.1 0M521.08 318.88a0.55 0.55 0 1 0 1.1 0a0.55 0.55 0 1 0 -1.1 0M520.60 322.15a0.55 0.55 0 1 0 1.1 0a0.55 0.55 0 1 0 -1.1 0M520.79 312.76a0.55 0.55 0 1 0 1.1 0a0.55 0.55 0 1 0 -1.1 0M522.64 321.05a0.55 0.55 0 1 0 1.1 0a0.55 0.55 0 1 0 -1.1 0M521.45 314.89a0.55 0.55 0 1 0 1.1 0a0.55 0.55 0 1 0 -1.1 0M520.46 315.91a0.55 0.55 0 1 0 1.1 0a0.55 0.55 0 1 0 -1.1 0M518.56 317.59a0.55 0.55 0 1 0 1.1 0a0.55 0.55 0 1 0 -1.1 0M520.66 317.17a0.55 0.55 0 1 0 1.1 0a0.55 0.55 0 1 0 -1.1 0M518.95 326.35a0.55 0.55 0 1 0 1.1 0a0.55 0.55 0 1 0 -1.1 0M521.16 316.85a0.55 0.55 0 1 0 1.1 0a0.55 0.55 0 1 0 -1.1 0M522.69 311.96a0.55 0.55 0 1 0 1.1 0a0.55 0.55 0 1 0 -1.1 0M519.35 309.03a0.55 0.55 0 1 0 1.1 0a0.55 0.55 0 1 0 -1.1 0M520.16 343.06a0.55 0.55 0 1 0 1.1 0a0.55 0.55 0 1 0 -1.1 0M521.12 312.03a0.55 0.55 0 1 0 1.1 0a0.55 0.55 0 1 0 -1.1 0M521.36 308.83a0.55 0.55 0 1 0 1.1 0a0.55 0.55 0 1 0 -1.1 0M520.01 321.50a0.55 0.55 0 1 0 1.1 0a0.55 0.55 0 1 0 -1.1 0M517.41 319.83a0.55 0.55 0 1 0 1.1 0a0.55 0.55 0 1 0 -1.1 0M520.40 317.99a0.55 0.55 0 1 0 1.1 0a0.55 0.55 0 1 0 -1.1 0M520.15 319.00a0.55 0.55 0 1 0 1.1 0a0.55 0.55 0 1 0 -1.1 0M522.04 321.44a0.55 0.55 0 1 0 1.1 0a0.55 0.55 0 1 0 -1.1 0M518.50 319.02a0.55 0.55 0 1 0 1.1 0a0.55 0.55 0 1 0 -1.1 0M520.56 313.90a0.55 0.55 0 1 0 1.1 0a0.55 0.55 0 1 0 -1.1 0M520.64 313.61a0.55 0.55 0 1 0 1.1 0a0.55 0.55 0 1 0 -1.1 0M519.45 335.34a0.55 0.55 0 1 0 1.1 0a0.55 0.55 0 1 0 -1.1 0M518.98 324.33a0.55 0.55 0 1 0 1.1 0a0.55 0.55 0 1 0 -1.1 0M520.32 341.46a0.55 0.55 0 1 0 1.1 0a0.55 0.55 0 1 0 -1.1 0M519.72 318.82a0.55 0.55 0 1 0 1.1 0a0.55 0.55 0 1 0 -1.1 0M522.76 316.48a0.55 0.55 0 1 0 1.1 0a0.55 0.55 0 1 0 -1.1 0M521.53 315.32a0.55 0.55 0 1 0 1.1 0a0.55 0.55 0 1 0 -1.1 0M518.33 340.27a0.55 0.55 0 1 0 1.1 0a0.55 0.55 0 1 0 -1.1 0M519.79 335.31a0.55 0.55 0 1 0 1.1 0a0.55 0.55 0 1 0 -1.1 0M518.05 309.60a0.55 0.55 0 1 0 1.1 0a0.55 0.55 0 1 0 -1.1 0M520.46 314.86a0.55 0.55 0 1 0 1.1 0a0.55 0.55 0 1 0 -1.1 0M523.27 319.20a0.55 0.55 0 1 0 1.1 0a0.55 0.55 0 1 0 -1.1 0M518.15 322.87a0.55 0.55 0 1 0 1.1 0a0.55 0.55 0 1 0 -1.1 0M518.52 328.97a0.55 0.55 0 1 0 1.1 0a0.55 0.55 0 1 0 -1.1 0M523.20 321.24a0.55 0.55 0 1 0 1.1 0a0.55 0.55 0 1 0 -1.1 0M522.69 315.16a0.55 0.55 0 1 0 1.1 0a0.55 0.55 0 1 0 -1.1 0M520.54 321.59a0.55 0.55 0 1 0 1.1 0a0.55 0.55 0 1 0 -1.1 0" fill="none" stroke="#2a2a2a" stroke-width="0.4" opacity="0.8"/>
<text x="520.90" y="371.90" font-size="4.7" fill="#858585" text-anchor="middle">D</text>
<line x1="532.60" y1="311" x2="532.60" y2="328.5" stroke="#444" stroke-width="0.5"/>
<line x1="532.60" y1="341" x2="532.60" y2="355.5" stroke="#444" stroke-width="0.5"/>
<line x1="530.20" y1="311" x2="535.00" y2="311" stroke="#333" stroke-width="0.6"/>
<line x1="530.20" y1="355.5" x2="535.00" y2="355.5" stroke="#333" stroke-width="0.6"/>
<rect x="527.8" y="328.5" width="9.60" height="12.50" fill="#14e8e8" stroke="#333" stroke-width="0.5"/>
<line x1="527.8" y1="335" x2="537.4" y2="335" stroke="#222" stroke-width="0.5"/>
<path d="M528.29 316.57a0.55 0.55 0 1 0 1.1 0a0.55 0.55 0 1 0 -1.1 0M533.55 313.61a0.55 0.55 0 1 0 1.1 0a0.55 0.55 0 1 0 -1.1 0M530.41 349.87a0.55 0.55 0 1 0 1.1 0a0.55 0.55 0 1 0 -1.1 0M531.08 352.98a0.55 0.55 0 1 0 1.1 0a0.55 0.55 0 1 0 -1.1 0M530.89 332.92a0.55 0.55 0 1 0 1.1 0a0.55 0.55 0 1 0 -1.1 0M532.32 330.51a0.55 0.55 0 1 0 1.1 0a0.55 0.55 0 1 0 -1.1 0M531.15 345.50a0.55 0.55 0 1 0 1.1 0a0.55 0.55 0 1 0 -1.1 0M531.63 333.95a0.55 0.55 0 1 0 1.1 0a0.55 0.55 0 1 0 -1.1 0M533.00 336.60a0.55 0.55 0 1 0 1.1 0a0.55 0.55 0 1 0 -1.1 0M530.61 352.93a0.55 0.55 0 1 0 1.1 0a0.55 0.55 0 1 0 -1.1 0M534.65 323.93a0.55 0.55 0 1 0 1.1 0a0.55 0.55 0 1 0 -1.1 0M534.23 338.56a0.55 0.55 0 1 0 1.1 0a0.55 0.55 0 1 0 -1.1 0M531.53 331.99a0.55 0.55 0 1 0 1.1 0a0.55 0.55 0 1 0 -1.1 0M534.58 332.71a0.55 0.55 0 1 0 1.1 0a0.55 0.55 0 1 0 -1.1 0M532.62 332.05a0.55 0.55 0 1 0 1.1 0a0.55 0.55 0 1 0 -1.1 0M532.59 322.12a0.55 0.55 0 1 0 1.1 0a0.55 0.55 0 1 0 -1.1 0M533.68 332.59a0.55 0.55 0 1 0 1.1 0a0.55 0.55 0 1 0 -1.1 0M531.07 329.15a0.55 0.55 0 1 0 1.1 0a0.55 0.55 0 1 0 -1.1 0M533.30 339.46a0.55 0.55 0 1 0 1.1 0a0.55 0.55 0 1 0 -1.1 0M532.19 333.58a0.55 0.55 0 1 0 1.1 0a0.55 0.55 0 1 0 -1.1 0M533.52 316.43a0.55 0.55 0 1 0 1.1 0a0.55 0.55 0 1 0 -1.1 0M532.18 337.07a0.55 0.55 0 1 0 1.1 0a0.55 0.55 0 1 0 -1.1 0M530.40 352.76a0.55 0.55 0 1 0 1.1 0a0.55 0.55 0 1 0 -1.1 0M527.72 322.18a0.55 0.55 0 1 0 1.1 0a0.55 0.55 0 1 0 -1.1 0M530.90 319.43a0.55 0.55 0 1 0 1.1 0a0.55 0.55 0 1 0 -1.1 0M533.01 313.53a0.55 0.55 0 1 0 1.1 0a0.55 0.55 0 1 0 -1.1 0M533.38 337.50a0.55 0.55 0 1 0 1.1 0a0.55 0.55 0 1 0 -1.1 0M532.25 325.21a0.55 0.55 0 1 0 1.1 0a0.55 0.55 0 1 0 -1.1 0M530.18 331.32a0.55 0.55 0 1 0 1.1 0a0.55 0.55 0 1 0 -1.1 0M528.86 329.83a0.55 0.55 0 1 0 1.1 0a0.55 0.55 0 1 0 -1.1 0M532.56 313.50a0.55 0.55 0 1 0 1.1 0a0.55 0.55 0 1 0 -1.1 0M531.57 331.87a0.55 0.55 0 1 0 1.1 0a0.55 0.55 0 1 0 -1.1 0M530.74 333.82a0.55 0.55 0 1 0 1.1 0a0.55 0.55 0 1 0 -1.1 0M530.51 344.12a0.55 0.55 0 1 0 1.1 0a0.55 0.55 0 1 0 -1.1 0M533.13 338.40a0.55 0.55 0 1 0 1.1 0a0.55 0.55 0 1 0 -1.1 0M532.35 337.38a0.55 0.55 0 1 0 1.1 0a0.55 0.55 0 1 0 -1.1 0M532.37 328.71a0.55 0.55 0 1 0 1.1 0a0.55 0.55 0 1 0 -1.1 0M531.45 333.39a0.55 0.55 0 1 0 1.1 0a0.55 0.55 0 1 0 -1.1 0M532.17 348.92a0.55 0.55 0 1 0 1.1 0a0.55 0.55 0 1 0 -1.1 0M530.56 335.85a0.55 0.55 0 1 0 1.1 0a0.55 0.55 0 1 0 -1.1 0M535.47 332.30a0.55 0.55 0 1 0 1.1 0a0.55 0.55 0 1 0 -1.1 0M530.72 339.32a0.55 0.55 0 1 0 1.1 0a0.55 0.55 0 1 0 -1.1 0M531.98 339.59a0.55 0.55 0 1 0 1.1 0a0.55 0.55 0 1 0 -1.1 0M531.68 338.39a0.55 0.55 0 1 0 1.1 0a0.55 0.55 0 1 0 -1.1 0M530.68 333.96a0.55 0.55 0 1 0 1.1 0a0.55 0.55 0 1 0 -1.1 0M531.10 332.44a0.55 0.55 0 1 0 1.1 0a0.55 0.55 0 1 0 -1.1 0M531.11 338.16a0.55 0.55 0 1 0 1.1 0a0.55 0.55 0 1 0 -1.1 0M533.09 334.42a0.55 0.55 0 1 0 1.1 0a0.55 0.55 0 1 0 -1.1 0M531.07 339.72a0.55 0.55 0 1 0 1.1 0a0.55 0.55 0 1 0 -1.1 0M530.47 345.96a0.55 0.55 0 1 0 1.1 0a0.55 0.55 0 1 0 -1.1 0M533.18 324.18a0.55 0.55 0 1 0 1.1 0a0.55 0.55 0 1 0 -1.1 0M530.97 353.27a0.55 0.55 0 1 0 1.1 0a0.55 0.55 0 1 0 -1.1 0M530.45 336.67a0.55 0.55 0 1 0 1.1 0a0.55 0.55 0 1 0 -1.1 0M528.52 338.13a0.55 0.55 0 1 0 1.1 0a0.55 0.55 0 1 0 -1.1 0M531.16 337.40a0.55 0.55 0 1 0 1.1 0a0.55 0.55 0 1 0 -1.1 0M532.15 333.70a0.55 0.55 0 1 0 1.1 0a0.55 0.55 0 1 0 -1.1 0M531.05 320.83a0.55 0.55 0 1 0 1.1 0a0.55 0.55 0 1 0 -1.1 0" fill="none" stroke="#2a2a2a" stroke-width="0.4" opacity="0.8"/>
<text x="532.60" y="371.90" font-size="4.7" fill="#858585" text-anchor="middle">IE/L</text>
<rect x="342.7" y="386.5" width="58.90" height="75.60" fill="none" stroke="#d2d2d2" stroke-width="0.8"/>
<text x="364.70" y="383.80" font-size="5.2" fill="#6a6a6a" textLength="14.00" lengthAdjust="spacingAndGlyphs">T cells</text>
<text x="340.50" y="394.80" font-size="5.2" fill="#777" text-anchor="end">2</text>
<text x="340.50" y="408.30" font-size="5.2" fill="#777" text-anchor="end">1</text>
<text x="340.50" y="421.80" font-size="5.2" fill="#777" text-anchor="end">0</text>
<text x="340.50" y="436.30" font-size="5.2" fill="#777" text-anchor="end">−1</text>
<text x="340.50" y="450.80" font-size="5.2" fill="#777" text-anchor="end">−2</text>
<text x="340.50" y="464.60" font-size="5.2" fill="#777" text-anchor="end">−3</text>
<text x="354.17" y="392.70" font-size="4.6" fill="#808080" text-anchor="middle">*</text>
<text x="366.00" y="392.70" font-size="4.6" fill="#808080" text-anchor="middle">*</text>
<text x="377.75" y="392.70" font-size="4.6" fill="#808080" text-anchor="middle">*</text>
<text x="389.42" y="392.70" font-size="4.6" fill="#808080" text-anchor="middle">*</text>
<path d="M349.00,394.60V393.30H359.35V394.60M360.95,394.60V393.30H371.05V394.60M372.65,394.60V393.30H382.85V394.60M384.45,394.60V393.30H394.40V394.60" fill="none" stroke="#a8a8a8" stroke-width="0.45"/>
<line x1="348.20" y1="409.4" x2="348.20" y2="414.1" stroke="#444" stroke-width="0.5"/>
<line x1="348.20" y1="421.7" x2="348.20" y2="433" stroke="#444" stroke-width="0.5"/>
<line x1="345.80" y1="409.4" x2="350.60" y2="409.4" stroke="#333" stroke-width="0.6"/>
<line x1="345.80" y1="433" x2="350.60" y2="433" stroke="#333" stroke-width="0.6"/>
<rect x="343.5" y="414.1" width="9.40" height="7.60" fill="#138a8a" stroke="#333" stroke-width="0.5"/>
<line x1="343.5" y1="417.8" x2="352.9" y2="417.8" stroke="#222" stroke-width="0.5"/>
<path d="M348.59 421.65a0.55 0.55 0 1 0 1.1 0a0.55 0.55 0 1 0 -1.1 0M350.36 418.53a0.55 0.55 0 1 0 1.1 0a0.55 0.55 0 1 0 -1.1 0M346.30 429.16a0.55 0.55 0 1 0 1.1 0a0.55 0.55 0 1 0 -1.1 0M348.75 427.38a0.55 0.55 0 1 0 1.1 0a0.55 0.55 0 1 0 -1.1 0M347.63 423.06a0.55 0.55 0 1 0 1.1 0a0.55 0.55 0 1 0 -1.1 0M349.68 422.25a0.55 0.55 0 1 0 1.1 0a0.55 0.55 0 1 0 -1.1 0M347.87 412.62a0.55 0.55 0 1 0 1.1 0a0.55 0.55 0 1 0 -1.1 0M346.52 431.83a0.55 0.55 0 1 0 1.1 0a0.55 0.55 0 1 0 -1.1 0M346.15 418.41a0.55 0.55 0 1 0 1.1 0a0.55 0.55 0 1 0 -1.1 0M347.38 418.85a0.55 0.55 0 1 0 1.1 0a0.55 0.55 0 1 0 -1.1 0M347.08 425.05a0.55 0.55 0 1 0 1.1 0a0.55 0.55 0 1 0 -1.1 0M349.93 415.20a0.55 0.55 0 1 0 1.1 0a0.55 0.55 0 1 0 -1.1 0M343.72 420.26a0.55 0.55 0 1 0 1.1 0a0.55 0.55 0 1 0 -1.1 0M346.91 431.90a0.55 0.55 0 1 0 1.1 0a0.55 0.55 0 1 0 -1.1 0M348.63 419.87a0.55 0.55 0 1 0 1.1 0a0.55 0.55 0 1 0 -1.1 0M348.15 425.69a0.55 0.55 0 1 0 1.1 0a0.55 0.55 0 1 0 -1.1 0M347.47 418.37a0.55 0.55 0 1 0 1.1 0a0.55 0.55 0 1 0 -1.1 0M348.86 409.97a0.55 0.55 0 1 0 1.1 0a0.55 0.55 0 1 0 -1.1 0M348.32 419.10a0.55 0.55 0 1 0 1.1 0a0.55 0.55 0 1 0 -1.1 0M348.55 431.43a0.55 0.55 0 1 0 1.1 0a0.55 0.55 0 1 0 -1.1 0M348.06 415.45a0.55 0.55 0 1 0 1.1 0a0.55 0.55 0 1 0 -1.1 0M348.02 426.84a0.55 0.55 0 1 0 1.1 0a0.55 0.55 0 1 0 -1.1 0M347.55 417.82a0.55 0.55 0 1 0 1.1 0a0.55 0.55 0 1 0 -1.1 0M347.36 429.68a0.55 0.55 0 1 0 1.1 0a0.55 0.55 0 1 0 -1.1 0M347.28 419.45a0.55 0.55 0 1 0 1.1 0a0.55 0.55 0 1 0 -1.1 0M346.53 414.55a0.55 0.55 0 1 0 1.1 0a0.55 0.55 0 1 0 -1.1 0M345.43 416.48a0.55 0.55 0 1 0 1.1 0a0.55 0.55 0 1 0 -1.1 0M348.50 423.78a0.55 0.55 0 1 0 1.1 0a0.55 0.55 0 1 0 -1.1 0M347.96 414.67a0.55 0.55 0 1 0 1.1 0a0.55 0.55 0 1 0 -1.1 0M349.43 421.43a0.55 0.55 0 1 0 1.1 0a0.55 0.55 0 1 0 -1.1 0M345.44 417.44a0.55 0.55 0 1 0 1.1 0a0.55 0.55 0 1 0 -1.1 0M348.67 425.38a0.55 0.55 0 1 0 1.1 0a0.55 0.55 0 1 0 -1.1 0M347.40 416.80a0.55 0.55 0 1 0 1.1 0a0.55 0.55 0 1 0 -1.1 0M346.78 429.99a0.55 0.55 0 1 0 1.1 0a0.55 0.55 0 1 0 -1.1 0M347.93 416.87a0.55 0.55 0 1 0 1.1 0a0.55 0.55 0 1 0 -1.1 0M349.70 419.39a0.55 0.55 0 1 0 1.1 0a0.55 0.55 0 1 0 -1.1 0M345.99 420.49a0.55 0.55 0 1 0 1.1 0a0.55 0.55 0 1 0 -1.1 0M347.19 414.44a0.55 0.55 0 1 0 1.1 0a0.55 0.55 0 1 0 -1.1 0M345.56 421.58a0.55 0.55 0 1 0 1.1 0a0.55 0.55 0 1 0 -1.1 0M346.13 414.87a0.55 0.55 0 1 0 1.1 0a0.55 0.55 0 1 0 -1.1 0M348.11 419.40a0.55 0.55 0 1 0 1.1 0a0.55 0.55 0 1 0 -1.1 0M348.58 425.81a0.55 0.55 0 1 0 1.1 0a0.55 0.55 0 1 0 -1.1 0M347.24 417.65a0.55 0.55 0 1 0 1.1 0a0.55 0.55 0 1 0 -1.1 0M349.27 416.84a0.55 0.55 0 1 0 1.1 0a0.55 0.55 0 1 0 -1.1 0M347.63 416.32a0.55 0.55 0 1 0 1.1 0a0.55 0.55 0 1 0 -1.1 0M347.88 418.60a0.55 0.55 0 1 0 1.1 0a0.55 0.55 0 1 0 -1.1 0" fill="none" stroke="#2a2a2a" stroke-width="0.4" opacity="0.8"/>
<text x="348.20" y="468.40" font-size="4.7" fill="#858585" text-anchor="middle">IE/M</text>
<line x1="360.15" y1="397.8" x2="360.15" y2="400.7" stroke="#444" stroke-width="0.5"/>
<line x1="360.15" y1="412.6" x2="360.15" y2="428.3" stroke="#444" stroke-width="0.5"/>
<line x1="357.75" y1="397.8" x2="362.55" y2="397.8" stroke="#333" stroke-width="0.6"/>
<line x1="357.75" y1="428.3" x2="362.55" y2="428.3" stroke="#333" stroke-width="0.6"/>
<rect x="355.5" y="400.7" width="9.30" height="11.90" fill="#1414c0" stroke="#333" stroke-width="0.5"/>
<line x1="355.5" y1="405.6" x2="364.8" y2="405.6" stroke="#222" stroke-width="0.5"/>
<path d="M360.43 402.04a0.55 0.55 0 1 0 1.1 0a0.55 0.55 0 1 0 -1.1 0M358.40 407.31a0.55 0.55 0 1 0 1.1 0a0.55 0.55 0 1 0 -1.1 0M358.23 420.80a0.55 0.55 0 1 0 1.1 0a0.55 0.55 0 1 0 -1.1 0M358.27 413.06a0.55 0.55 0 1 0 1.1 0a0.55 0.55 0 1 0 -1.1 0M358.14 405.34a0.55 0.55 0 1 0 1.1 0a0.55 0.55 0 1 0 -1.1 0M359.56 414.06a0.55 0.55 0 1 0 1.1 0a0.55 0.55 0 1 0 -1.1 0M359.64 425.02a0.55 0.55 0 1 0 1.1 0a0.55 0.55 0 1 0 -1.1 0M359.87 401.08a0.55 0.55 0 1 0 1.1 0a0.55 0.55 0 1 0 -1.1 0M359.41 416.72a0.55 0.55 0 1 0 1.1 0a0.55 0.55 0 1 0 -1.1 0M360.43 423.30a0.55 0.55 0 1 0 1.1 0a0.55 0.55 0 1 0 -1.1 0M359.55 418.90a0.55 0.55 0 1 0 1.1 0a0.55 0.55 0 1 0 -1.1 0M358.17 407.28a0.55 0.55 0 1 0 1.1 0a0.55 0.55 0 1 0 -1.1 0M361.74 428.04a0.55 0.55 0 1 0 1.1 0a0.55 0.55 0 1 0 -1.1 0M358.37 403.64a0.55 0.55 0 1 0 1.1 0a0.55 0.55 0 1 0 -1.1 0M358.49 414.38a0.55 0.55 0 1 0 1.1 0a0.55 0.55 0 1 0 -1.1 0M359.50 413.56a0.55 0.55 0 1 0 1.1 0a0.55 0.55 0 1 0 -1.1 0M359.81 400.10a0.55 0.55 0 1 0 1.1 0a0.55 0.55 0 1 0 -1.1 0M359.59 405.34a0.55 0.55 0 1 0 1.1 0a0.55 0.55 0 1 0 -1.1 0M356.76 401.17a0.55 0.55 0 1 0 1.1 0a0.55 0.55 0 1 0 -1.1 0M358.42 409.77a0.55 0.55 0 1 0 1.1 0a0.55 0.55 0 1 0 -1.1 0M360.27 415.56a0.55 0.55 0 1 0 1.1 0a0.55 0.55 0 1 0 -1.1 0M360.89 418.36a0.55 0.55 0 1 0 1.1 0a0.55 0.55 0 1 0 -1.1 0M358.47 406.02a0.55 0.55 0 1 0 1.1 0a0.55 0.55 0 1 0 -1.1 0M359.28 417.06a0.55 0.55 0 1 0 1.1 0a0.55 0.55 0 1 0 -1.1 0M359.10 403.32a0.55 0.55 0 1 0 1.1 0a0.55 0.55 0 1 0 -1.1 0M358.85 409.77a0.55 0.55 0 1 0 1.1 0a0.55 0.55 0 1 0 -1.1 0M359.04 412.10a0.55 0.55 0 1 0 1.1 0a0.55 0.55 0 1 0 -1.1 0M359.38 405.80a0.55 0.55 0 1 0 1.1 0a0.55 0.55 0 1 0 -1.1 0M359.62 419.89a0.55 0.55 0 1 0 1.1 0a0.55 0.55 0 1 0 -1.1 0M359.15 410.19a0.55 0.55 0 1 0 1.1 0a0.55 0.55 0 1 0 -1.1 0M360.36 403.10a0.55 0.55 0 1 0 1.1 0a0.55 0.55 0 1 0 -1.1 0M359.75 412.10a0.55 0.55 0 1 0 1.1 0a0.55 0.55 0 1 0 -1.1 0M359.99 403.79a0.55 0.55 0 1 0 1.1 0a0.55 0.55 0 1 0 -1.1 0M358.87 416.56a0.55 0.55 0 1 0 1.1 0a0.55 0.55 0 1 0 -1.1 0M358.42 399.13a0.55 0.55 0 1 0 1.1 0a0.55 0.55 0 1 0 -1.1 0M359.11 405.49a0.55 0.55 0 1 0 1.1 0a0.55 0.55 0 1 0 -1.1 0M356.19 403.45a0.55 0.55 0 1 0 1.1 0a0.55 0.55 0 1 0 -1.1 0M359.71 404.02a0.55 0.55 0 1 0 1.1 0a0.55 0.55 0 1 0 -1.1 0M360.36 418.37a0.55 0.55 0 1 0 1.1 0a0.55 0.55 0 1 0 -1.1 0M359.94 404.15a0.55 0.55 0 1 0 1.1 0a0.55 0.55 0 1 0 -1.1 0M361.52 419.17a0.55 0.55 0 1 0 1.1 0a0.55 0.55 0 1 0 -1.1 0M359.35 409.49a0.55 0.55 0 1 0 1.1 0a0.55 0.55 0 1 0 -1.1 0M361.01 412.85a0.55 0.55 0 1 0 1.1 0a0.55 0.55 0 1 0 -1.1 0M360.15 407.02a0.55 0.55 0 1 0 1.1 0a0.55 0.55 0 1 0 -1.1 0M360.85 401.03a0.55 0.55 0 1 0 1.1 0a0.55 0.55 0 1 0 -1.1 0M359.47 402.47a0.55 0.55 0 1 0 1.1 0a0.55 0.55 0 1 0 -1.1 0M360.25 425.70a0.55 0.55 0 1 0 1.1 0a0.55 0.55 0 1 0 -1.1 0M360.99 409.81a0.55 0.55 0 1 0 1.1 0a0.55 0.55 0 1 0 -1.1 0M360.37 405.09a0.55 0.55 0 1 0 1.1 0a0.55 0.55 0 1 0 -1.1 0M361.54 410.99a0.55 0.55 0 1 0 1.1 0a0.55 0.55 0 1 0 -1.1 0M357.15 402.95a0.55 0.55 0 1 0 1.1 0a0.55 0.55 0 1 0 -1.1 0M360.10 420.55a0.55 0.55 0 1 0 1.1 0a0.55 0.55 0 1 0 -1.1 0M361.90 419.83a0.55 0.55 0 1 0 1.1 0a0.55 0.55 0 1 0 -1.1 0M360.37 402.63a0.55 0.55 0 1 0 1.1 0a0.55 0.55 0 1 0 -1.1 0M360.51 401.04a0.55 0.55 0 1 0 1.1 0a0.55 0.55 0 1 0 -1.1 0M358.71 401.26a0.55 0.55 0 1 0 1.1 0a0.55 0.55 0 1 0 -1.1 0M359.55 442.90a0.6 0.6 0 1 0 1.2 0a0.6 0.6 0 1 0 -1.2 0" fill="none" stroke="#2a2a2a" stroke-width="0.4" opacity="0.8"/>
<text x="360.15" y="468.40" font-size="4.7" fill="#858585" text-anchor="middle">IE/B</text>
<line x1="371.85" y1="411.2" x2="371.85" y2="420" stroke="#444" stroke-width="0.5"/>
<line x1="371.85" y1="438.5" x2="371.85" y2="454.1" stroke="#444" stroke-width="0.5"/>
<line x1="369.45" y1="411.2" x2="374.25" y2="411.2" stroke="#333" stroke-width="0.6"/>
<line x1="369.45" y1="454.1" x2="374.25" y2="454.1" stroke="#333" stroke-width="0.6"/>
<rect x="367.2" y="420" width="9.30" height="18.50" fill="#d8184c" stroke="#333" stroke-width="0.5"/>
<line x1="367.2" y1="429.8" x2="376.5" y2="429.8" stroke="#222" stroke-width="0.5"/>
<path d="M371.61 437.01a0.55 0.55 0 1 0 1.1 0a0.55 0.55 0 1 0 -1.1 0M371.12 425.30a0.55 0.55 0 1 0 1.1 0a0.55 0.55 0 1 0 -1.1 0M371.87 422.07a0.55 0.55 0 1 0 1.1 0a0.55 0.55 0 1 0 -1.1 0M373.07 423.12a0.55 0.55 0 1 0 1.1 0a0.55 0.55 0 1 0 -1.1 0M372.29 427.31a0.55 0.55 0 1 0 1.1 0a0.55 0.55 0 1 0 -1.1 0M372.66 427.85a0.55 0.55 0 1 0 1.1 0a0.55 0.55 0 1 0 -1.1 0M370.66 420.74a0.55 0.55 0 1 0 1.1 0a0.55 0.55 0 1 0 -1.1 0M370.74 420.17a0.55 0.55 0 1 0 1.1 0a0.55 0.55 0 1 0 -1.1 0M370.03 436.41a0.55 0.55 0 1 0 1.1 0a0.55 0.55 0 1 0 -1.1 0M372.32 416.87a0.55 0.55 0 1 0 1.1 0a0.55 0.55 0 1 0 -1.1 0M369.89 433.10a0.55 0.55 0 1 0 1.1 0a0.55 0.55 0 1 0 -1.1 0M372.77 412.95a0.55 0.55 0 1 0 1.1 0a0.55 0.55 0 1 0 -1.1 0M371.30 425.42a0.55 0.55 0 1 0 1.1 0a0.55 0.55 0 1 0 -1.1 0M369.02 450.87a0.55 0.55 0 1 0 1.1 0a0.55 0.55 0 1 0 -1.1 0M372.63 427.28a0.55 0.55 0 1 0 1.1 0a0.55 0.55 0 1 0 -1.1 0M369.53 438.13a0.55 0.55 0 1 0 1.1 0a0.55 0.55 0 1 0 -1.1 0M370.15 448.35a0.55 0.55 0 1 0 1.1 0a0.55 0.55 0 1 0 -1.1 0M372.65 449.72a0.55 0.55 0 1 0 1.1 0a0.55 0.55 0 1 0 -1.1 0M373.79 449.38a0.55 0.55 0 1 0 1.1 0a0.55 0.55 0 1 0 -1.1 0M371.28 452.40a0.55 0.55 0 1 0 1.1 0a0.55 0.55 0 1 0 -1.1 0M370.66 427.47a0.55 0.55 0 1 0 1.1 0a0.55 0.55 0 1 0 -1.1 0M371.03 413.87a0.55 0.55 0 1 0 1.1 0a0.55 0.55 0 1 0 -1.1 0M370.52 423.20a0.55 0.55 0 1 0 1.1 0a0.55 0.55 0 1 0 -1.1 0M372.89 428.28a0.55 0.55 0 1 0 1.1 0a0.55 0.55 0 1 0 -1.1 0M371.20 453.54a0.55 0.55 0 1 0 1.1 0a0.55 0.55 0 1 0 -1.1 0M372.54 419.34a0.55 0.55 0 1 0 1.1 0a0.55 0.55 0 1 0 -1.1 0M370.19 419.72a0.55 0.55 0 1 0 1.1 0a0.55 0.55 0 1 0 -1.1 0M370.89 420.02a0.55 0.55 0 1 0 1.1 0a0.55 0.55 0 1 0 -1.1 0M370.67 426.07a0.55 0.55 0 1 0 1.1 0a0.55 0.55 0 1 0 -1.1 0M375.26 414.00a0.55 0.55 0 1 0 1.1 0a0.55 0.55 0 1 0 -1.1 0M369.23 421.17a0.55 0.55 0 1 0 1.1 0a0.55 0.55 0 1 0 -1.1 0M371.54 451.32a0.55 0.55 0 1 0 1.1 0a0.55 0.55 0 1 0 -1.1 0M370.40 425.88a0.55 0.55 0 1 0 1.1 0a0.55 0.55 0 1 0 -1.1 0M371.98 431.06a0.55 0.55 0 1 0 1.1 0a0.55 0.55 0 1 0 -1.1 0M371.99 417.72a0.55 0.55 0 1 0 1.1 0a0.55 0.55 0 1 0 -1.1 0M367.98 431.41a0.55 0.55 0 1 0 1.1 0a0.55 0.55 0 1 0 -1.1 0M370.59 420.65a0.55 0.55 0 1 0 1.1 0a0.55 0.55 0 1 0 -1.1 0M371.73 435.75a0.55 0.55 0 1 0 1.1 0a0.55 0.55 0 1 0 -1.1 0M371.85 452.73a0.55 0.55 0 1 0 1.1 0a0.55 0.55 0 1 0 -1.1 0M371.51 428.50a0.55 0.55 0 1 0 1.1 0a0.55 0.55 0 1 0 -1.1 0M368.85 440.53a0.55 0.55 0 1 0 1.1 0a0.55 0.55 0 1 0 -1.1 0M370.54 422.09a0.55 0.55 0 1 0 1.1 0a0.55 0.55 0 1 0 -1.1 0M371.34 412.30a0.55 0.55 0 1 0 1.1 0a0.55 0.55 0 1 0 -1.1 0M371.62 421.18a0.55 0.55 0 1 0 1.1 0a0.55 0.55 0 1 0 -1.1 0M369.37 416.70a0.55 0.55 0 1 0 1.1 0a0.55 0.55 0 1 0 -1.1 0M369.83 422.23a0.55 0.55 0 1 0 1.1 0a0.55 0.55 0 1 0 -1.1 0M372.53 442.45a0.55 0.55 0 1 0 1.1 0a0.55 0.55 0 1 0 -1.1 0M370.20 448.23a0.55 0.55 0 1 0 1.1 0a0.55 0.55 0 1 0 -1.1 0M370.78 453.02a0.55 0.55 0 1 0 1.1 0a0.55 0.55 0 1 0 -1.1 0M373.48 431.29a0.55 0.55 0 1 0 1.1 0a0.55 0.55 0 1 0 -1.1 0M371.15 428.81a0.55 0.55 0 1 0 1.1 0a0.55 0.55 0 1 0 -1.1 0M373.06 433.10a0.55 0.55 0 1 0 1.1 0a0.55 0.55 0 1 0 -1.1 0M369.76 422.43a0.55 0.55 0 1 0 1.1 0a0.55 0.55 0 1 0 -1.1 0M370.07 445.21a0.55 0.55 0 1 0 1.1 0a0.55 0.55 0 1 0 -1.1 0M368.95 428.43a0.55 0.55 0 1 0 1.1 0a0.55 0.55 0 1 0 -1.1 0M371.22 437.03a0.55 0.55 0 1 0 1.1 0a0.55 0.55 0 1 0 -1.1 0M370.09 427.36a0.55 0.55 0 1 0 1.1 0a0.55 0.55 0 1 0 -1.1 0M371.45 413.19a0.55 0.55 0 1 0 1.1 0a0.55 0.55 0 1 0 -1.1 0M370.97 421.47a0.55 0.55 0 1 0 1.1 0a0.55 0.55 0 1 0 -1.1 0M370.63 427.83a0.55 0.55 0 1 0 1.1 0a0.55 0.55 0 1 0 -1.1 0M370.28 443.96a0.55 0.55 0 1 0 1.1 0a0.55 0.55 0 1 0 -1.1 0M371.67 436.43a0.55 0.55 0 1 0 1.1 0a0.55 0.55 0 1 0 -1.1 0M372.42 420.21a0.55 0.55 0 1 0 1.1 0a0.55 0.55 0 1 0 -1.1 0M370.32 422.52a0.55 0.55 0 1 0 1.1 0a0.55 0.55 0 1 0 -1.1 0M373.09 443.34a0.55 0.55 0 1 0 1.1 0a0.55 0.55 0 1 0 -1.1 0M372.07 428.25a0.55 0.55 0 1 0 1.1 0a0.55 0.55 0 1 0 -1.1 0M372.38 413.38a0.55 0.55 0 1 0 1.1 0a0.55 0.55 0 1 0 -1.1 0M370.84 434.43a0.55 0.55 0 1 0 1.1 0a0.55 0.55 0 1 0 -1.1 0M370.45 420.69a0.55 0.55 0 1 0 1.1 0a0.55 0.55 0 1 0 -1.1 0M370.10 445.12a0.55 0.55 0 1 0 1.1 0a0.55 0.55 0 1 0 -1.1 0" fill="none" stroke="#2a2a2a" stroke-width="0.4" opacity="0.8"/>
<text x="371.85" y="468.40" font-size="4.7" fill="#858585" text-anchor="middle">F</text>
<line x1="383.65" y1="412.6" x2="383.65" y2="426.5" stroke="#444" stroke-width="0.5"/>
<line x1="383.65" y1="435.6" x2="383.65" y2="454.1" stroke="#444" stroke-width="0.5"/>
<line x1="381.25" y1="412.6" x2="386.05" y2="412.6" stroke="#333" stroke-width="0.6"/>
<line x1="381.25" y1="454.1" x2="386.05" y2="454.1" stroke="#333" stroke-width="0.6"/>
<rect x="378.8" y="426.5" width="9.70" height="9.10" fill="#ff9a0a" stroke="#333" stroke-width="0.5"/>
<line x1="378.8" y1="431" x2="388.5" y2="431" stroke="#222" stroke-width="0.5"/>
<path d="M381.93 426.91a0.55 0.55 0 1 0 1.1 0a0.55 0.55 0 1 0 -1.1 0M382.21 434.84a0.55 0.55 0 1 0 1.1 0a0.55 0.55 0 1 0 -1.1 0M385.74 432.35a0.55 0.55 0 1 0 1.1 0a0.55 0.55 0 1 0 -1.1 0M384.41 438.25a0.55 0.55 0 1 0 1.1 0a0.55 0.55 0 1 0 -1.1 0M385.00 433.09a0.55 0.55 0 1 0 1.1 0a0.55 0.55 0 1 0 -1.1 0M381.78 431.09a0.55 0.55 0 1 0 1.1 0a0.55 0.55 0 1 0 -1.1 0M385.57 431.47a0.55 0.55 0 1 0 1.1 0a0.55 0.55 0 1 0 -1.1 0M382.30 431.52a0.55 0.55 0 1 0 1.1 0a0.55 0.55 0 1 0 -1.1 0M383.01 428.03a0.55 0.55 0 1 0 1.1 0a0.55 0.55 0 1 0 -1.1 0M380.91 430.32a0.55 0.55 0 1 0 1.1 0a0.55 0.55 0 1 0 -1.1 0M382.46 442.79a0.55 0.55 0 1 0 1.1 0a0.55 0.55 0 1 0 -1.1 0M383.25 428.04a0.55 0.55 0 1 0 1.1 0a0.55 0.55 0 1 0 -1.1 0M382.34 433.20a0.55 0.55 0 1 0 1.1 0a0.55 0.55 0 1 0 -1.1 0M382.12 428.10a0.55 0.55 0 1 0 1.1 0a0.55 0.55 0 1 0 -1.1 0M384.50 437.73a0.55 0.55 0 1 0 1.1 0a0.55 0.55 0 1 0 -1.1 0M384.56 438.05a0.55 0.55 0 1 0 1.1 0a0.55 0.55 0 1 0 -1.1 0M385.55 437.85a0.55 0.55 0 1 0 1.1 0a0.55 0.55 0 1 0 -1.1 0M380.69 432.40a0.55 0.55 0 1 0 1.1 0a0.55 0.55 0 1 0 -1.1 0M381.85 430.24a0.55 0.55 0 1 0 1.1 0a0.55 0.55 0 1 0 -1.1 0M384.50 429.70a0.55 0.55 0 1 0 1.1 0a0.55 0.55 0 1 0 -1.1 0M381.98 445.79a0.55 0.55 0 1 0 1.1 0a0.55 0.55 0 1 0 -1.1 0M380.86 432.35a0.55 0.55 0 1 0 1.1 0a0.55 0.55 0 1 0 -1.1 0M384.98 429.37a0.55 0.55 0 1 0 1.1 0a0.55 0.55 0 1 0 -1.1 0M384.48 425.16a0.55 0.55 0 1 0 1.1 0a0.55 0.55 0 1 0 -1.1 0M384.26 427.57a0.55 0.55 0 1 0 1.1 0a0.55 0.55 0 1 0 -1.1 0M384.54 416.08a0.55 0.55 0 1 0 1.1 0a0.55 0.55 0 1 0 -1.1 0M383.50 433.41a0.55 0.55 0 1 0 1.1 0a0.55 0.55 0 1 0 -1.1 0M385.73 430.81a0.55 0.55 0 1 0 1.1 0a0.55 0.55 0 1 0 -1.1 0M382.17 429.15a0.55 0.55 0 1 0 1.1 0a0.55 0.55 0 1 0 -1.1 0M383.58 413.85a0.55 0.55 0 1 0 1.1 0a0.55 0.55 0 1 0 -1.1 0M382.71 445.91a0.55 0.55 0 1 0 1.1 0a0.55 0.55 0 1 0 -1.1 0M383.85 427.20a0.55 0.55 0 1 0 1.1 0a0.55 0.55 0 1 0 -1.1 0M384.52 437.63a0.55 0.55 0 1 0 1.1 0a0.55 0.55 0 1 0 -1.1 0M383.24 425.85a0.55 0.55 0 1 0 1.1 0a0.55 0.55 0 1 0 -1.1 0M380.99 430.33a0.55 0.55 0 1 0 1.1 0a0.55 0.55 0 1 0 -1.1 0M385.87 434.90a0.55 0.55 0 1 0 1.1 0a0.55 0.55 0 1 0 -1.1 0M384.76 436.44a0.55 0.55 0 1 0 1.1 0a0.55 0.55 0 1 0 -1.1 0M384.78 431.57a0.55 0.55 0 1 0 1.1 0a0.55 0.55 0 1 0 -1.1 0M382.46 427.34a0.55 0.55 0 1 0 1.1 0a0.55 0.55 0 1 0 -1.1 0M383.50 436.58a0.55 0.55 0 1 0 1.1 0a0.55 0.55 0 1 0 -1.1 0M383.19 452.30a0.55 0.55 0 1 0 1.1 0a0.55 0.55 0 1 0 -1.1 0M381.23 433.58a0.55 0.55 0 1 0 1.1 0a0.55 0.55 0 1 0 -1.1 0M381.78 419.16a0.55 0.55 0 1 0 1.1 0a0.55 0.55 0 1 0 -1.1 0M382.85 442.20a0.55 0.55 0 1 0 1.1 0a0.55 0.55 0 1 0 -1.1 0M383.69 436.25a0.55 0.55 0 1 0 1.1 0a0.55 0.55 0 1 0 -1.1 0M380.74 427.82a0.55 0.55 0 1 0 1.1 0a0.55 0.55 0 1 0 -1.1 0M384.18 427.96a0.55 0.55 0 1 0 1.1 0a0.55 0.55 0 1 0 -1.1 0M382.81 430.73a0.55 0.55 0 1 0 1.1 0a0.55 0.55 0 1 0 -1.1 0M383.31 424.20a0.55 0.55 0 1 0 1.1 0a0.55 0.55 0 1 0 -1.1 0M381.95 445.94a0.55 0.55 0 1 0 1.1 0a0.55 0.55 0 1 0 -1.1 0" fill="none" stroke="#2a2a2a" stroke-width="0.4" opacity="0.8"/>
<text x="383.65" y="468.40" font-size="4.7" fill="#858585" text-anchor="middle">D</text>
<line x1="395.20" y1="400.3" x2="395.20" y2="406.8" stroke="#444" stroke-width="0.5"/>
<line x1="395.20" y1="417.7" x2="395.20" y2="424.3" stroke="#444" stroke-width="0.5"/>
<line x1="392.80" y1="400.3" x2="397.60" y2="400.3" stroke="#333" stroke-width="0.6"/>
<line x1="392.80" y1="424.3" x2="397.60" y2="424.3" stroke="#333" stroke-width="0.6"/>
<rect x="390.4" y="406.8" width="9.60" height="10.90" fill="#14e8e8" stroke="#333" stroke-width="0.5"/>
<line x1="390.4" y1="411.2" x2="400" y2="411.2" stroke="#222" stroke-width="0.5"/>
<path d="M396.90 412.77a0.55 0.55 0 1 0 1.1 0a0.55 0.55 0 1 0 -1.1 0M396.14 409.71a0.55 0.55 0 1 0 1.1 0a0.55 0.55 0 1 0 -1.1 0M393.98 414.48a0.55 0.55 0 1 0 1.1 0a0.55 0.55 0 1 0 -1.1 0M393.49 405.18a0.55 0.55 0 1 0 1.1 0a0.55 0.55 0 1 0 -1.1 0M394.37 409.60a0.55 0.55 0 1 0 1.1 0a0.55 0.55 0 1 0 -1.1 0M394.10 408.95a0.55 0.55 0 1 0 1.1 0a0.55 0.55 0 1 0 -1.1 0M398.49 414.26a0.55 0.55 0 1 0 1.1 0a0.55 0.55 0 1 0 -1.1 0M394.72 409.42a0.55 0.55 0 1 0 1.1 0a0.55 0.55 0 1 0 -1.1 0M395.46 415.80a0.55 0.55 0 1 0 1.1 0a0.55 0.55 0 1 0 -1.1 0M394.53 419.93a0.55 0.55 0 1 0 1.1 0a0.55 0.55 0 1 0 -1.1 0M395.22 405.31a0.55 0.55 0 1 0 1.1 0a0.55 0.55 0 1 0 -1.1 0M395.19 416.61a0.55 0.55 0 1 0 1.1 0a0.55 0.55 0 1 0 -1.1 0M395.49 411.67a0.55 0.55 0 1 0 1.1 0a0.55 0.55 0 1 0 -1.1 0M395.52 413.87a0.55 0.55 0 1 0 1.1 0a0.55 0.55 0 1 0 -1.1 0M393.32 418.93a0.55 0.55 0 1 0 1.1 0a0.55 0.55 0 1 0 -1.1 0M395.20 410.84a0.55 0.55 0 1 0 1.1 0a0.55 0.55 0 1 0 -1.1 0M394.37 414.27a0.55 0.55 0 1 0 1.1 0a0.55 0.55 0 1 0 -1.1 0M393.53 403.78a0.55 0.55 0 1 0 1.1 0a0.55 0.55 0 1 0 -1.1 0M394.44 411.02a0.55 0.55 0 1 0 1.1 0a0.55 0.55 0 1 0 -1.1 0M394.91 411.44a0.55 0.55 0 1 0 1.1 0a0.55 0.55 0 1 0 -1.1 0M395.76 420.40a0.55 0.55 0 1 0 1.1 0a0.55 0.55 0 1 0 -1.1 0M394.86 410.19a0.55 0.55 0 1 0 1.1 0a0.55 0.55 0 1 0 -1.1 0M395.33 413.24a0.55 0.55 0 1 0 1.1 0a0.55 0.55 0 1 0 -1.1 0M393.57 407.95a0.55 0.55 0 1 0 1.1 0a0.55 0.55 0 1 0 -1.1 0M394.90 415.14a0.55 0.55 0 1 0 1.1 0a0.55 0.55 0 1 0 -1.1 0M396.72 402.30a0.55 0.55 0 1 0 1.1 0a0.55 0.55 0 1 0 -1.1 0M394.90 410.24a0.55 0.55 0 1 0 1.1 0a0.55 0.55 0 1 0 -1.1 0M392.54 411.73a0.55 0.55 0 1 0 1.1 0a0.55 0.55 0 1 0 -1.1 0M394.92 411.94a0.55 0.55 0 1 0 1.1 0a0.55 0.55 0 1 0 -1.1 0M393.68 422.38a0.55 0.55 0 1 0 1.1 0a0.55 0.55 0 1 0 -1.1 0M395.39 423.32a0.55 0.55 0 1 0 1.1 0a0.55 0.55 0 1 0 -1.1 0M394.35 405.11a0.55 0.55 0 1 0 1.1 0a0.55 0.55 0 1 0 -1.1 0M394.19 403.21a0.55 0.55 0 1 0 1.1 0a0.55 0.55 0 1 0 -1.1 0M395.98 416.64a0.55 0.55 0 1 0 1.1 0a0.55 0.55 0 1 0 -1.1 0M395.68 416.59a0.55 0.55 0 1 0 1.1 0a0.55 0.55 0 1 0 -1.1 0M393.49 409.91a0.55 0.55 0 1 0 1.1 0a0.55 0.55 0 1 0 -1.1 0M396.29 411.36a0.55 0.55 0 1 0 1.1 0a0.55 0.55 0 1 0 -1.1 0M394.03 402.01a0.55 0.55 0 1 0 1.1 0a0.55 0.55 0 1 0 -1.1 0M394.15 414.77a0.55 0.55 0 1 0 1.1 0a0.55 0.55 0 1 0 -1.1 0M395.44 407.35a0.55 0.55 0 1 0 1.1 0a0.55 0.55 0 1 0 -1.1 0M393.29 412.75a0.55 0.55 0 1 0 1.1 0a0.55 0.55 0 1 0 -1.1 0M395.64 406.98a0.55 0.55 0 1 0 1.1 0a0.55 0.55 0 1 0 -1.1 0M393.39 408.36a0.55 0.55 0 1 0 1.1 0a0.55 0.55 0 1 0 -1.1 0M394.72 407.36a0.55 0.55 0 1 0 1.1 0a0.55 0.55 0 1 0 -1.1 0M394.89 410.05a0.55 0.55 0 1 0 1.1 0a0.55 0.55 0 1 0 -1.1 0M394.86 407.01a0.55 0.55 0 1 0 1.1 0a0.55 0.55 0 1 0 -1.1 0M393.16 408.95a0.55 0.55 0 1 0 1.1 0a0.55 0.55 0 1 0 -1.1 0M395.20 407.91a0.55 0.55 0 1 0 1.1 0a0.55 0.55 0 1 0 -1.1 0M393.46 413.66a0.55 0.55 0 1 0 1.1 0a0.55 0.55 0 1 0 -1.1 0M394.70 412.38a0.55 0.55 0 1 0 1.1 0a0.55 0.55 0 1 0 -1.1 0M396.29 420.36a0.55 0.55 0 1 0 1.1 0a0.55 0.55 0 1 0 -1.1 0M393.36 411.38a0.55 0.55 0 1 0 1.1 0a0.55 0.55 0 1 0 -1.1 0M392.28 414.20a0.55 0.55 0 1 0 1.1 0a0.55 0.55 0 1 0 -1.1 0" fill="none" stroke="#2a2a2a" stroke-width="0.4" opacity="0.8"/>
<text x="395.20" y="468.40" font-size="4.7" fill="#858585" text-anchor="middle">IE/L</text>
<rect x="411.3" y="386.5" width="58.40" height="75.50" fill="none" stroke="#d2d2d2" stroke-width="0.8"/>
<text x="431.05" y="383.80" font-size="5.2" fill="#6a6a6a" textLength="17.70" lengthAdjust="spacingAndGlyphs">Tfh cells</text>
<text x="409.10" y="396.50" font-size="5.2" fill="#777" text-anchor="end">3</text>
<text x="409.10" y="407.40" font-size="5.2" fill="#777" text-anchor="end">2</text>
<text x="409.10" y="418.40" font-size="5.2" fill="#777" text-anchor="end">1</text>
<text x="409.10" y="429.60" font-size="5.2" fill="#777" text-anchor="end">0</text>
<text x="409.10" y="440.50" font-size="5.2" fill="#777" text-anchor="end">−1</text>
<text x="409.10" y="451.40" font-size="5.2" fill="#777" text-anchor="end">−2</text>
<text x="409.10" y="462.10" font-size="5.2" fill="#777" text-anchor="end">−3</text>
<text x="422.67" y="392.70" font-size="4.6" fill="#808080" text-anchor="middle">*</text>
<text x="434.70" y="392.70" font-size="4.6" fill="#808080" text-anchor="middle">*</text>
<text x="446.42" y="392.70" font-size="4.6" fill="#808080" text-anchor="middle">*</text>
<text x="458.15" y="392.70" font-size="4.6" fill="#808080" text-anchor="middle">*</text>
<path d="M417.45,394.60V393.30H427.90V394.60M429.50,394.60V393.30H439.90V394.60M441.50,394.60V393.30H451.35V394.60M452.95,394.60V393.30H463.35V394.60" fill="none" stroke="#a8a8a8" stroke-width="0.45"/>
<line x1="416.65" y1="415.8" x2="416.65" y2="424.2" stroke="#444" stroke-width="0.5"/>
<line x1="416.65" y1="433.6" x2="416.65" y2="436.7" stroke="#444" stroke-width="0.5"/>
<line x1="414.25" y1="415.8" x2="419.05" y2="415.8" stroke="#333" stroke-width="0.6"/>
<line x1="414.25" y1="436.7" x2="419.05" y2="436.7" stroke="#333" stroke-width="0.6"/>
<rect x="411.8" y="424.2" width="9.70" height="9.40" fill="#138a8a" stroke="#333" stroke-width="0.5"/>
<line x1="411.8" y1="430.6" x2="421.5" y2="430.6" stroke="#222" stroke-width="0.5"/>
<path d="M415.72 416.89a0.55 0.55 0 1 0 1.1 0a0.55 0.55 0 1 0 -1.1 0M413.78 428.68a0.55 0.55 0 1 0 1.1 0a0.55 0.55 0 1 0 -1.1 0M414.45 428.67a0.55 0.55 0 1 0 1.1 0a0.55 0.55 0 1 0 -1.1 0M416.95 433.11a0.55 0.55 0 1 0 1.1 0a0.55 0.55 0 1 0 -1.1 0M417.54 431.29a0.55 0.55 0 1 0 1.1 0a0.55 0.55 0 1 0 -1.1 0M415.15 431.11a0.55 0.55 0 1 0 1.1 0a0.55 0.55 0 1 0 -1.1 0M418.62 426.31a0.55 0.55 0 1 0 1.1 0a0.55 0.55 0 1 0 -1.1 0M416.28 434.17a0.55 0.55 0 1 0 1.1 0a0.55 0.55 0 1 0 -1.1 0M415.07 430.87a0.55 0.55 0 1 0 1.1 0a0.55 0.55 0 1 0 -1.1 0M417.56 417.07a0.55 0.55 0 1 0 1.1 0a0.55 0.55 0 1 0 -1.1 0M415.47 428.71a0.55 0.55 0 1 0 1.1 0a0.55 0.55 0 1 0 -1.1 0M418.38 425.18a0.55 0.55 0 1 0 1.1 0a0.55 0.55 0 1 0 -1.1 0M414.10 428.39a0.55 0.55 0 1 0 1.1 0a0.55 0.55 0 1 0 -1.1 0M417.00 430.52a0.55 0.55 0 1 0 1.1 0a0.55 0.55 0 1 0 -1.1 0M416.85 428.64a0.55 0.55 0 1 0 1.1 0a0.55 0.55 0 1 0 -1.1 0M418.90 429.80a0.55 0.55 0 1 0 1.1 0a0.55 0.55 0 1 0 -1.1 0M415.00 433.12a0.55 0.55 0 1 0 1.1 0a0.55 0.55 0 1 0 -1.1 0M414.29 426.50a0.55 0.55 0 1 0 1.1 0a0.55 0.55 0 1 0 -1.1 0M416.57 423.11a0.55 0.55 0 1 0 1.1 0a0.55 0.55 0 1 0 -1.1 0M416.66 422.33a0.55 0.55 0 1 0 1.1 0a0.55 0.55 0 1 0 -1.1 0M416.17 431.07a0.55 0.55 0 1 0 1.1 0a0.55 0.55 0 1 0 -1.1 0M416.18 416.67a0.55 0.55 0 1 0 1.1 0a0.55 0.55 0 1 0 -1.1 0M417.07 434.56a0.55 0.55 0 1 0 1.1 0a0.55 0.55 0 1 0 -1.1 0M419.49 425.16a0.55 0.55 0 1 0 1.1 0a0.55 0.55 0 1 0 -1.1 0M415.38 425.68a0.55 0.55 0 1 0 1.1 0a0.55 0.55 0 1 0 -1.1 0M415.07 431.84a0.55 0.55 0 1 0 1.1 0a0.55 0.55 0 1 0 -1.1 0M416.04 429.64a0.55 0.55 0 1 0 1.1 0a0.55 0.55 0 1 0 -1.1 0M418.19 430.21a0.55 0.55 0 1 0 1.1 0a0.55 0.55 0 1 0 -1.1 0M418.85 426.33a0.55 0.55 0 1 0 1.1 0a0.55 0.55 0 1 0 -1.1 0M418.32 435.66a0.55 0.55 0 1 0 1.1 0a0.55 0.55 0 1 0 -1.1 0M414.97 432.96a0.55 0.55 0 1 0 1.1 0a0.55 0.55 0 1 0 -1.1 0M415.82 417.35a0.55 0.55 0 1 0 1.1 0a0.55 0.55 0 1 0 -1.1 0M413.65 416.71a0.55 0.55 0 1 0 1.1 0a0.55 0.55 0 1 0 -1.1 0M413.36 431.07a0.55 0.55 0 1 0 1.1 0a0.55 0.55 0 1 0 -1.1 0M416.31 425.14a0.55 0.55 0 1 0 1.1 0a0.55 0.55 0 1 0 -1.1 0M415.67 429.70a0.55 0.55 0 1 0 1.1 0a0.55 0.55 0 1 0 -1.1 0M414.93 417.22a0.55 0.55 0 1 0 1.1 0a0.55 0.55 0 1 0 -1.1 0M416.57 430.92a0.55 0.55 0 1 0 1.1 0a0.55 0.55 0 1 0 -1.1 0M414.73 428.44a0.55 0.55 0 1 0 1.1 0a0.55 0.55 0 1 0 -1.1 0M416.19 427.26a0.55 0.55 0 1 0 1.1 0a0.55 0.55 0 1 0 -1.1 0M416.17 426.50a0.55 0.55 0 1 0 1.1 0a0.55 0.55 0 1 0 -1.1 0M414.37 426.28a0.55 0.55 0 1 0 1.1 0a0.55 0.55 0 1 0 -1.1 0M417.11 429.94a0.55 0.55 0 1 0 1.1 0a0.55 0.55 0 1 0 -1.1 0M414.47 432.36a0.55 0.55 0 1 0 1.1 0a0.55 0.55 0 1 0 -1.1 0M414.77 423.20a0.55 0.55 0 1 0 1.1 0a0.55 0.55 0 1 0 -1.1 0M415.88 424.87a0.55 0.55 0 1 0 1.1 0a0.55 0.55 0 1 0 -1.1 0M415.73 434.84a0.55 0.55 0 1 0 1.1 0a0.55 0.55 0 1 0 -1.1 0M417.28 428.47a0.55 0.55 0 1 0 1.1 0a0.55 0.55 0 1 0 -1.1 0M413.02 436.49a0.55 0.55 0 1 0 1.1 0a0.55 0.55 0 1 0 -1.1 0M414.70 424.34a0.55 0.55 0 1 0 1.1 0a0.55 0.55 0 1 0 -1.1 0" fill="none" stroke="#2a2a2a" stroke-width="0.4" opacity="0.8"/>
<text x="416.65" y="468.40" font-size="4.7" fill="#858585" text-anchor="middle">IE/M</text>
<line x1="428.70" y1="396.7" x2="428.70" y2="403.8" stroke="#444" stroke-width="0.5"/>
<line x1="428.70" y1="422.2" x2="428.70" y2="447.6" stroke="#444" stroke-width="0.5"/>
<line x1="426.30" y1="396.7" x2="431.10" y2="396.7" stroke="#333" stroke-width="0.6"/>
<line x1="426.30" y1="447.6" x2="431.10" y2="447.6" stroke="#333" stroke-width="0.6"/>
<rect x="424" y="403.8" width="9.40" height="18.40" fill="#1414c0" stroke="#333" stroke-width="0.5"/>
<line x1="424" y1="412" x2="433.4" y2="412" stroke="#222" stroke-width="0.5"/>
<path d="M426.93 427.86a0.55 0.55 0 1 0 1.1 0a0.55 0.55 0 1 0 -1.1 0M429.03 403.89a0.55 0.55 0 1 0 1.1 0a0.55 0.55 0 1 0 -1.1 0M426.56 426.91a0.55 0.55 0 1 0 1.1 0a0.55 0.55 0 1 0 -1.1 0M429.60 436.01a0.55 0.55 0 1 0 1.1 0a0.55 0.55 0 1 0 -1.1 0M428.07 416.90a0.55 0.55 0 1 0 1.1 0a0.55 0.55 0 1 0 -1.1 0M425.74 409.80a0.55 0.55 0 1 0 1.1 0a0.55 0.55 0 1 0 -1.1 0M431.41 408.85a0.55 0.55 0 1 0 1.1 0a0.55 0.55 0 1 0 -1.1 0M427.70 401.65a0.55 0.55 0 1 0 1.1 0a0.55 0.55 0 1 0 -1.1 0M429.37 414.80a0.55 0.55 0 1 0 1.1 0a0.55 0.55 0 1 0 -1.1 0M426.24 418.56a0.55 0.55 0 1 0 1.1 0a0.55 0.55 0 1 0 -1.1 0M431.18 413.57a0.55 0.55 0 1 0 1.1 0a0.55 0.55 0 1 0 -1.1 0M427.27 404.06a0.55 0.55 0 1 0 1.1 0a0.55 0.55 0 1 0 -1.1 0M430.77 412.79a0.55 0.55 0 1 0 1.1 0a0.55 0.55 0 1 0 -1.1 0M427.68 410.24a0.55 0.55 0 1 0 1.1 0a0.55 0.55 0 1 0 -1.1 0M428.05 409.04a0.55 0.55 0 1 0 1.1 0a0.55 0.55 0 1 0 -1.1 0M427.62 435.89a0.55 0.55 0 1 0 1.1 0a0.55 0.55 0 1 0 -1.1 0M426.49 434.42a0.55 0.55 0 1 0 1.1 0a0.55 0.55 0 1 0 -1.1 0M428.12 406.20a0.55 0.55 0 1 0 1.1 0a0.55 0.55 0 1 0 -1.1 0M425.66 436.16a0.55 0.55 0 1 0 1.1 0a0.55 0.55 0 1 0 -1.1 0M426.89 414.24a0.55 0.55 0 1 0 1.1 0a0.55 0.55 0 1 0 -1.1 0M426.90 421.62a0.55 0.55 0 1 0 1.1 0a0.55 0.55 0 1 0 -1.1 0M429.42 410.38a0.55 0.55 0 1 0 1.1 0a0.55 0.55 0 1 0 -1.1 0M428.00 416.11a0.55 0.55 0 1 0 1.1 0a0.55 0.55 0 1 0 -1.1 0M427.57 407.81a0.55 0.55 0 1 0 1.1 0a0.55 0.55 0 1 0 -1.1 0M429.83 416.03a0.55 0.55 0 1 0 1.1 0a0.55 0.55 0 1 0 -1.1 0M430.40 447.13a0.55 0.55 0 1 0 1.1 0a0.55 0.55 0 1 0 -1.1 0M426.27 418.96a0.55 0.55 0 1 0 1.1 0a0.55 0.55 0 1 0 -1.1 0M428.68 414.50a0.55 0.55 0 1 0 1.1 0a0.55 0.55 0 1 0 -1.1 0M428.42 403.16a0.55 0.55 0 1 0 1.1 0a0.55 0.55 0 1 0 -1.1 0M430.46 423.53a0.55 0.55 0 1 0 1.1 0a0.55 0.55 0 1 0 -1.1 0M428.17 420.11a0.55 0.55 0 1 0 1.1 0a0.55 0.55 0 1 0 -1.1 0M427.86 421.96a0.55 0.55 0 1 0 1.1 0a0.55 0.55 0 1 0 -1.1 0M428.25 398.69a0.55 0.55 0 1 0 1.1 0a0.55 0.55 0 1 0 -1.1 0M427.87 443.80a0.55 0.55 0 1 0 1.1 0a0.55 0.55 0 1 0 -1.1 0M427.57 432.41a0.55 0.55 0 1 0 1.1 0a0.55 0.55 0 1 0 -1.1 0M426.97 418.00a0.55 0.55 0 1 0 1.1 0a0.55 0.55 0 1 0 -1.1 0M427.51 410.73a0.55 0.55 0 1 0 1.1 0a0.55 0.55 0 1 0 -1.1 0M426.84 420.15a0.55 0.55 0 1 0 1.1 0a0.55 0.55 0 1 0 -1.1 0M429.96 407.30a0.55 0.55 0 1 0 1.1 0a0.55 0.55 0 1 0 -1.1 0M428.19 421.53a0.55 0.55 0 1 0 1.1 0a0.55 0.55 0 1 0 -1.1 0M424.47 399.88a0.55 0.55 0 1 0 1.1 0a0.55 0.55 0 1 0 -1.1 0M426.77 404.71a0.55 0.55 0 1 0 1.1 0a0.55 0.55 0 1 0 -1.1 0M426.97 411.77a0.55 0.55 0 1 0 1.1 0a0.55 0.55 0 1 0 -1.1 0M428.34 407.87a0.55 0.55 0 1 0 1.1 0a0.55 0.55 0 1 0 -1.1 0M428.40 411.53a0.55 0.55 0 1 0 1.1 0a0.55 0.55 0 1 0 -1.1 0M427.20 421.30a0.55 0.55 0 1 0 1.1 0a0.55 0.55 0 1 0 -1.1 0M430.39 401.93a0.55 0.55 0 1 0 1.1 0a0.55 0.55 0 1 0 -1.1 0M428.44 415.01a0.55 0.55 0 1 0 1.1 0a0.55 0.55 0 1 0 -1.1 0M427.85 408.53a0.55 0.55 0 1 0 1.1 0a0.55 0.55 0 1 0 -1.1 0M428.01 439.10a0.55 0.55 0 1 0 1.1 0a0.55 0.55 0 1 0 -1.1 0M427.19 421.60a0.55 0.55 0 1 0 1.1 0a0.55 0.55 0 1 0 -1.1 0M427.74 443.70a0.55 0.55 0 1 0 1.1 0a0.55 0.55 0 1 0 -1.1 0M428.04 420.54a0.55 0.55 0 1 0 1.1 0a0.55 0.55 0 1 0 -1.1 0M430.74 409.23a0.55 0.55 0 1 0 1.1 0a0.55 0.55 0 1 0 -1.1 0M428.85 405.31a0.55 0.55 0 1 0 1.1 0a0.55 0.55 0 1 0 -1.1 0M426.51 407.55a0.55 0.55 0 1 0 1.1 0a0.55 0.55 0 1 0 -1.1 0M428.88 401.61a0.55 0.55 0 1 0 1.1 0a0.55 0.55 0 1 0 -1.1 0M425.95 399.56a0.55 0.55 0 1 0 1.1 0a0.55 0.55 0 1 0 -1.1 0M429.00 418.93a0.55 0.55 0 1 0 1.1 0a0.55 0.55 0 1 0 -1.1 0M428.18 411.04a0.55 0.55 0 1 0 1.1 0a0.55 0.55 0 1 0 -1.1 0M428.04 424.01a0.55 0.55 0 1 0 1.1 0a0.55 0.55 0 1 0 -1.1 0M427.83 444.95a0.55 0.55 0 1 0 1.1 0a0.55 0.55 0 1 0 -1.1 0M427.28 412.66a0.55 0.55 0 1 0 1.1 0a0.55 0.55 0 1 0 -1.1 0M429.84 413.98a0.55 0.55 0 1 0 1.1 0a0.55 0.55 0 1 0 -1.1 0M429.22 404.72a0.55 0.55 0 1 0 1.1 0a0.55 0.55 0 1 0 -1.1 0M429.72 421.01a0.55 0.55 0 1 0 1.1 0a0.55 0.55 0 1 0 -1.1 0M425.97 421.91a0.55 0.55 0 1 0 1.1 0a0.55 0.55 0 1 0 -1.1 0M428.98 417.16a0.55 0.55 0 1 0 1.1 0a0.55 0.55 0 1 0 -1.1 0M427.83 406.13a0.55 0.55 0 1 0 1.1 0a0.55 0.55 0 1 0 -1.1 0M426.99 418.59a0.55 0.55 0 1 0 1.1 0a0.55 0.55 0 1 0 -1.1 0" fill="none" stroke="#2a2a2a" stroke-width="0.4" opacity="0.8"/>
<text x="428.70" y="468.40" font-size="4.7" fill="#858585" text-anchor="middle">IE/B</text>
<line x1="440.70" y1="407.4" x2="440.70" y2="421" stroke="#444" stroke-width="0.5"/>
<line x1="440.70" y1="435.5" x2="440.70" y2="454" stroke="#444" stroke-width="0.5"/>
<line x1="438.30" y1="407.4" x2="443.10" y2="407.4" stroke="#333" stroke-width="0.6"/>
<line x1="438.30" y1="454" x2="443.10" y2="454" stroke="#333" stroke-width="0.6"/>
<rect x="436" y="421" width="9.40" height="14.50" fill="#d8184c" stroke="#333" stroke-width="0.5"/>
<line x1="436" y1="428" x2="445.4" y2="428" stroke="#222" stroke-width="0.5"/>
<path d="M439.24 430.32a0.55 0.55 0 1 0 1.1 0a0.55 0.55 0 1 0 -1.1 0M438.60 422.94a0.55 0.55 0 1 0 1.1 0a0.55 0.55 0 1 0 -1.1 0M439.11 445.93a0.55 0.55 0 1 0 1.1 0a0.55 0.55 0 1 0 -1.1 0M441.08 425.41a0.55 0.55 0 1 0 1.1 0a0.55 0.55 0 1 0 -1.1 0M441.34 433.58a0.55 0.55 0 1 0 1.1 0a0.55 0.55 0 1 0 -1.1 0M437.29 445.08a0.55 0.55 0 1 0 1.1 0a0.55 0.55 0 1 0 -1.1 0M440.36 446.04a0.55 0.55 0 1 0 1.1 0a0.55 0.55 0 1 0 -1.1 0M439.90 417.47a0.55 0.55 0 1 0 1.1 0a0.55 0.55 0 1 0 -1.1 0M440.52 429.46a0.55 0.55 0 1 0 1.1 0a0.55 0.55 0 1 0 -1.1 0M437.78 420.89a0.55 0.55 0 1 0 1.1 0a0.55 0.55 0 1 0 -1.1 0M441.24 442.67a0.55 0.55 0 1 0 1.1 0a0.55 0.55 0 1 0 -1.1 0M439.91 450.44a0.55 0.55 0 1 0 1.1 0a0.55 0.55 0 1 0 -1.1 0M441.93 430.81a0.55 0.55 0 1 0 1.1 0a0.55 0.55 0 1 0 -1.1 0M441.18 430.97a0.55 0.55 0 1 0 1.1 0a0.55 0.55 0 1 0 -1.1 0M441.49 427.69a0.55 0.55 0 1 0 1.1 0a0.55 0.55 0 1 0 -1.1 0M441.03 427.05a0.55 0.55 0 1 0 1.1 0a0.55 0.55 0 1 0 -1.1 0M438.21 428.71a0.55 0.55 0 1 0 1.1 0a0.55 0.55 0 1 0 -1.1 0M440.56 421.80a0.55 0.55 0 1 0 1.1 0a0.55 0.55 0 1 0 -1.1 0M438.51 423.11a0.55 0.55 0 1 0 1.1 0a0.55 0.55 0 1 0 -1.1 0M440.54 421.91a0.55 0.55 0 1 0 1.1 0a0.55 0.55 0 1 0 -1.1 0M440.51 422.99a0.55 0.55 0 1 0 1.1 0a0.55 0.55 0 1 0 -1.1 0M441.26 435.83a0.55 0.55 0 1 0 1.1 0a0.55 0.55 0 1 0 -1.1 0M438.92 425.01a0.55 0.55 0 1 0 1.1 0a0.55 0.55 0 1 0 -1.1 0M439.03 434.66a0.55 0.55 0 1 0 1.1 0a0.55 0.55 0 1 0 -1.1 0M438.69 423.90a0.55 0.55 0 1 0 1.1 0a0.55 0.55 0 1 0 -1.1 0M441.78 433.24a0.55 0.55 0 1 0 1.1 0a0.55 0.55 0 1 0 -1.1 0M439.55 421.67a0.55 0.55 0 1 0 1.1 0a0.55 0.55 0 1 0 -1.1 0M440.95 426.46a0.55 0.55 0 1 0 1.1 0a0.55 0.55 0 1 0 -1.1 0M439.78 421.23a0.55 0.55 0 1 0 1.1 0a0.55 0.55 0 1 0 -1.1 0M440.67 432.71a0.55 0.55 0 1 0 1.1 0a0.55 0.55 0 1 0 -1.1 0M439.61 429.36a0.55 0.55 0 1 0 1.1 0a0.55 0.55 0 1 0 -1.1 0M441.98 429.91a0.55 0.55 0 1 0 1.1 0a0.55 0.55 0 1 0 -1.1 0M439.02 429.80a0.55 0.55 0 1 0 1.1 0a0.55 0.55 0 1 0 -1.1 0M440.02 432.01a0.55 0.55 0 1 0 1.1 0a0.55 0.55 0 1 0 -1.1 0M442.77 448.96a0.55 0.55 0 1 0 1.1 0a0.55 0.55 0 1 0 -1.1 0M439.28 434.84a0.55 0.55 0 1 0 1.1 0a0.55 0.55 0 1 0 -1.1 0M439.65 421.87a0.55 0.55 0 1 0 1.1 0a0.55 0.55 0 1 0 -1.1 0M439.41 421.58a0.55 0.55 0 1 0 1.1 0a0.55 0.55 0 1 0 -1.1 0M439.53 432.26a0.55 0.55 0 1 0 1.1 0a0.55 0.55 0 1 0 -1.1 0M439.97 431.95a0.55 0.55 0 1 0 1.1 0a0.55 0.55 0 1 0 -1.1 0M441.37 446.01a0.55 0.55 0 1 0 1.1 0a0.55 0.55 0 1 0 -1.1 0M437.73 453.08a0.55 0.55 0 1 0 1.1 0a0.55 0.55 0 1 0 -1.1 0M438.31 434.53a0.55 0.55 0 1 0 1.1 0a0.55 0.55 0 1 0 -1.1 0M439.26 426.50a0.55 0.55 0 1 0 1.1 0a0.55 0.55 0 1 0 -1.1 0M439.73 447.66a0.55 0.55 0 1 0 1.1 0a0.55 0.55 0 1 0 -1.1 0M441.37 417.89a0.55 0.55 0 1 0 1.1 0a0.55 0.55 0 1 0 -1.1 0M440.37 433.27a0.55 0.55 0 1 0 1.1 0a0.55 0.55 0 1 0 -1.1 0M438.85 431.53a0.55 0.55 0 1 0 1.1 0a0.55 0.55 0 1 0 -1.1 0M439.13 433.39a0.55 0.55 0 1 0 1.1 0a0.55 0.55 0 1 0 -1.1 0M441.15 418.40a0.55 0.55 0 1 0 1.1 0a0.55 0.55 0 1 0 -1.1 0M441.13 451.52a0.55 0.55 0 1 0 1.1 0a0.55 0.55 0 1 0 -1.1 0M438.73 429.33a0.55 0.55 0 1 0 1.1 0a0.55 0.55 0 1 0 -1.1 0M439.99 432.44a0.55 0.55 0 1 0 1.1 0a0.55 0.55 0 1 0 -1.1 0M439.99 424.31a0.55 0.55 0 1 0 1.1 0a0.55 0.55 0 1 0 -1.1 0M441.01 422.16a0.55 0.55 0 1 0 1.1 0a0.55 0.55 0 1 0 -1.1 0M439.05 415.41a0.55 0.55 0 1 0 1.1 0a0.55 0.55 0 1 0 -1.1 0M438.78 429.79a0.55 0.55 0 1 0 1.1 0a0.55 0.55 0 1 0 -1.1 0M438.21 421.18a0.55 0.55 0 1 0 1.1 0a0.55 0.55 0 1 0 -1.1 0M440.60 431.63a0.55 0.55 0 1 0 1.1 0a0.55 0.55 0 1 0 -1.1 0M438.93 452.82a0.55 0.55 0 1 0 1.1 0a0.55 0.55 0 1 0 -1.1 0M439.06 420.84a0.55 0.55 0 1 0 1.1 0a0.55 0.55 0 1 0 -1.1 0" fill="none" stroke="#2a2a2a" stroke-width="0.4" opacity="0.8"/>
<text x="440.70" y="468.40" font-size="4.7" fill="#858585" text-anchor="middle">F</text>
<line x1="452.15" y1="416.3" x2="452.15" y2="427.2" stroke="#444" stroke-width="0.5"/>
<line x1="452.15" y1="439.4" x2="452.15" y2="454" stroke="#444" stroke-width="0.5"/>
<line x1="449.75" y1="416.3" x2="454.55" y2="416.3" stroke="#333" stroke-width="0.6"/>
<line x1="449.75" y1="454" x2="454.55" y2="454" stroke="#333" stroke-width="0.6"/>
<rect x="447.5" y="427.2" width="9.30" height="12.20" fill="#ff9a0a" stroke="#333" stroke-width="0.5"/>
<line x1="447.5" y1="433.3" x2="456.8" y2="433.3" stroke="#222" stroke-width="0.5"/>
<path d="M451.40 432.48a0.55 0.55 0 1 0 1.1 0a0.55 0.55 0 1 0 -1.1 0M449.54 438.84a0.55 0.55 0 1 0 1.1 0a0.55 0.55 0 1 0 -1.1 0M453.41 434.98a0.55 0.55 0 1 0 1.1 0a0.55 0.55 0 1 0 -1.1 0M451.55 428.26a0.55 0.55 0 1 0 1.1 0a0.55 0.55 0 1 0 -1.1 0M451.25 434.41a0.55 0.55 0 1 0 1.1 0a0.55 0.55 0 1 0 -1.1 0M449.84 432.74a0.55 0.55 0 1 0 1.1 0a0.55 0.55 0 1 0 -1.1 0M450.51 439.07a0.55 0.55 0 1 0 1.1 0a0.55 0.55 0 1 0 -1.1 0M450.38 437.41a0.55 0.55 0 1 0 1.1 0a0.55 0.55 0 1 0 -1.1 0M451.21 435.43a0.55 0.55 0 1 0 1.1 0a0.55 0.55 0 1 0 -1.1 0M450.28 434.43a0.55 0.55 0 1 0 1.1 0a0.55 0.55 0 1 0 -1.1 0M451.11 433.44a0.55 0.55 0 1 0 1.1 0a0.55 0.55 0 1 0 -1.1 0M452.21 422.98a0.55 0.55 0 1 0 1.1 0a0.55 0.55 0 1 0 -1.1 0M447.22 422.71a0.55 0.55 0 1 0 1.1 0a0.55 0.55 0 1 0 -1.1 0M451.13 437.68a0.55 0.55 0 1 0 1.1 0a0.55 0.55 0 1 0 -1.1 0M452.79 439.13a0.55 0.55 0 1 0 1.1 0a0.55 0.55 0 1 0 -1.1 0M450.83 433.64a0.55 0.55 0 1 0 1.1 0a0.55 0.55 0 1 0 -1.1 0M449.15 431.54a0.55 0.55 0 1 0 1.1 0a0.55 0.55 0 1 0 -1.1 0M452.55 433.78a0.55 0.55 0 1 0 1.1 0a0.55 0.55 0 1 0 -1.1 0M452.06 433.94a0.55 0.55 0 1 0 1.1 0a0.55 0.55 0 1 0 -1.1 0M449.90 438.85a0.55 0.55 0 1 0 1.1 0a0.55 0.55 0 1 0 -1.1 0M449.10 426.53a0.55 0.55 0 1 0 1.1 0a0.55 0.55 0 1 0 -1.1 0M450.83 435.10a0.55 0.55 0 1 0 1.1 0a0.55 0.55 0 1 0 -1.1 0M452.11 430.71a0.55 0.55 0 1 0 1.1 0a0.55 0.55 0 1 0 -1.1 0M452.40 432.35a0.55 0.55 0 1 0 1.1 0a0.55 0.55 0 1 0 -1.1 0M450.53 426.49a0.55 0.55 0 1 0 1.1 0a0.55 0.55 0 1 0 -1.1 0M450.59 446.63a0.55 0.55 0 1 0 1.1 0a0.55 0.55 0 1 0 -1.1 0M450.48 439.12a0.55 0.55 0 1 0 1.1 0a0.55 0.55 0 1 0 -1.1 0M451.26 435.90a0.55 0.55 0 1 0 1.1 0a0.55 0.55 0 1 0 -1.1 0M451.50 435.54a0.55 0.55 0 1 0 1.1 0a0.55 0.55 0 1 0 -1.1 0M454.18 437.82a0.55 0.55 0 1 0 1.1 0a0.55 0.55 0 1 0 -1.1 0M450.20 432.09a0.55 0.55 0 1 0 1.1 0a0.55 0.55 0 1 0 -1.1 0M450.86 437.43a0.55 0.55 0 1 0 1.1 0a0.55 0.55 0 1 0 -1.1 0M454.83 444.30a0.55 0.55 0 1 0 1.1 0a0.55 0.55 0 1 0 -1.1 0M453.72 427.84a0.55 0.55 0 1 0 1.1 0a0.55 0.55 0 1 0 -1.1 0M452.40 426.69a0.55 0.55 0 1 0 1.1 0a0.55 0.55 0 1 0 -1.1 0M451.75 437.49a0.55 0.55 0 1 0 1.1 0a0.55 0.55 0 1 0 -1.1 0M452.03 429.22a0.55 0.55 0 1 0 1.1 0a0.55 0.55 0 1 0 -1.1 0M451.63 433.19a0.55 0.55 0 1 0 1.1 0a0.55 0.55 0 1 0 -1.1 0M452.66 440.74a0.55 0.55 0 1 0 1.1 0a0.55 0.55 0 1 0 -1.1 0M450.22 441.68a0.55 0.55 0 1 0 1.1 0a0.55 0.55 0 1 0 -1.1 0M450.98 431.74a0.55 0.55 0 1 0 1.1 0a0.55 0.55 0 1 0 -1.1 0M451.68 434.50a0.55 0.55 0 1 0 1.1 0a0.55 0.55 0 1 0 -1.1 0M451.95 433.20a0.55 0.55 0 1 0 1.1 0a0.55 0.55 0 1 0 -1.1 0M450.62 419.75a0.55 0.55 0 1 0 1.1 0a0.55 0.55 0 1 0 -1.1 0M449.62 429.49a0.55 0.55 0 1 0 1.1 0a0.55 0.55 0 1 0 -1.1 0M451.53 435.60a0.55 0.55 0 1 0 1.1 0a0.55 0.55 0 1 0 -1.1 0M452.77 444.61a0.55 0.55 0 1 0 1.1 0a0.55 0.55 0 1 0 -1.1 0M451.57 433.46a0.55 0.55 0 1 0 1.1 0a0.55 0.55 0 1 0 -1.1 0M453.21 423.00a0.55 0.55 0 1 0 1.1 0a0.55 0.55 0 1 0 -1.1 0M452.55 427.62a0.55 0.55 0 1 0 1.1 0a0.55 0.55 0 1 0 -1.1 0M451.94 433.82a0.55 0.55 0 1 0 1.1 0a0.55 0.55 0 1 0 -1.1 0M452.56 433.13a0.55 0.55 0 1 0 1.1 0a0.55 0.55 0 1 0 -1.1 0M453.41 435.49a0.55 0.55 0 1 0 1.1 0a0.55 0.55 0 1 0 -1.1 0M451.54 433.77a0.55 0.55 0 1 0 1.1 0a0.55 0.55 0 1 0 -1.1 0M451.82 447.90a0.55 0.55 0 1 0 1.1 0a0.55 0.55 0 1 0 -1.1 0M450.64 420.21a0.55 0.55 0 1 0 1.1 0a0.55 0.55 0 1 0 -1.1 0" fill="none" stroke="#2a2a2a" stroke-width="0.4" opacity="0.8"/>
<text x="452.15" y="468.40" font-size="4.7" fill="#858585" text-anchor="middle">D</text>
<line x1="464.15" y1="398.4" x2="464.15" y2="415.8" stroke="#444" stroke-width="0.5"/>
<line x1="464.15" y1="430" x2="464.15" y2="444.2" stroke="#444" stroke-width="0.5"/>
<line x1="461.75" y1="398.4" x2="466.55" y2="398.4" stroke="#333" stroke-width="0.6"/>
<line x1="461.75" y1="444.2" x2="466.55" y2="444.2" stroke="#333" stroke-width="0.6"/>
<rect x="459.5" y="415.8" width="9.30" height="14.20" fill="#14e8e8" stroke="#333" stroke-width="0.5"/>
<line x1="459.5" y1="421.3" x2="468.8" y2="421.3" stroke="#222" stroke-width="0.5"/>
<path d="M464.27 423.01a0.55 0.55 0 1 0 1.1 0a0.55 0.55 0 1 0 -1.1 0M465.13 429.20a0.55 0.55 0 1 0 1.1 0a0.55 0.55 0 1 0 -1.1 0M464.94 427.38a0.55 0.55 0 1 0 1.1 0a0.55 0.55 0 1 0 -1.1 0M463.11 420.94a0.55 0.55 0 1 0 1.1 0a0.55 0.55 0 1 0 -1.1 0M462.01 417.56a0.55 0.55 0 1 0 1.1 0a0.55 0.55 0 1 0 -1.1 0M461.14 412.92a0.55 0.55 0 1 0 1.1 0a0.55 0.55 0 1 0 -1.1 0M461.86 414.73a0.55 0.55 0 1 0 1.1 0a0.55 0.55 0 1 0 -1.1 0M465.01 422.64a0.55 0.55 0 1 0 1.1 0a0.55 0.55 0 1 0 -1.1 0M463.49 405.14a0.55 0.55 0 1 0 1.1 0a0.55 0.55 0 1 0 -1.1 0M462.61 419.32a0.55 0.55 0 1 0 1.1 0a0.55 0.55 0 1 0 -1.1 0M463.05 418.13a0.55 0.55 0 1 0 1.1 0a0.55 0.55 0 1 0 -1.1 0M462.35 423.64a0.55 0.55 0 1 0 1.1 0a0.55 0.55 0 1 0 -1.1 0M463.58 422.79a0.55 0.55 0 1 0 1.1 0a0.55 0.55 0 1 0 -1.1 0M464.69 420.38a0.55 0.55 0 1 0 1.1 0a0.55 0.55 0 1 0 -1.1 0M463.15 405.54a0.55 0.55 0 1 0 1.1 0a0.55 0.55 0 1 0 -1.1 0M463.13 417.61a0.55 0.55 0 1 0 1.1 0a0.55 0.55 0 1 0 -1.1 0M464.81 428.69a0.55 0.55 0 1 0 1.1 0a0.55 0.55 0 1 0 -1.1 0M463.32 426.22a0.55 0.55 0 1 0 1.1 0a0.55 0.55 0 1 0 -1.1 0M463.65 400.48a0.55 0.55 0 1 0 1.1 0a0.55 0.55 0 1 0 -1.1 0M463.12 426.86a0.55 0.55 0 1 0 1.1 0a0.55 0.55 0 1 0 -1.1 0M461.27 409.12a0.55 0.55 0 1 0 1.1 0a0.55 0.55 0 1 0 -1.1 0M463.48 422.45a0.55 0.55 0 1 0 1.1 0a0.55 0.55 0 1 0 -1.1 0M464.20 416.77a0.55 0.55 0 1 0 1.1 0a0.55 0.55 0 1 0 -1.1 0M465.07 419.48a0.55 0.55 0 1 0 1.1 0a0.55 0.55 0 1 0 -1.1 0M462.78 424.23a0.55 0.55 0 1 0 1.1 0a0.55 0.55 0 1 0 -1.1 0M462.54 422.74a0.55 0.55 0 1 0 1.1 0a0.55 0.55 0 1 0 -1.1 0M464.65 443.56a0.55 0.55 0 1 0 1.1 0a0.55 0.55 0 1 0 -1.1 0M461.63 423.69a0.55 0.55 0 1 0 1.1 0a0.55 0.55 0 1 0 -1.1 0M463.08 417.25a0.55 0.55 0 1 0 1.1 0a0.55 0.55 0 1 0 -1.1 0M462.77 423.56a0.55 0.55 0 1 0 1.1 0a0.55 0.55 0 1 0 -1.1 0M463.67 418.06a0.55 0.55 0 1 0 1.1 0a0.55 0.55 0 1 0 -1.1 0M464.70 438.97a0.55 0.55 0 1 0 1.1 0a0.55 0.55 0 1 0 -1.1 0M462.30 420.26a0.55 0.55 0 1 0 1.1 0a0.55 0.55 0 1 0 -1.1 0M464.04 433.02a0.55 0.55 0 1 0 1.1 0a0.55 0.55 0 1 0 -1.1 0M463.07 435.45a0.55 0.55 0 1 0 1.1 0a0.55 0.55 0 1 0 -1.1 0M460.17 422.14a0.55 0.55 0 1 0 1.1 0a0.55 0.55 0 1 0 -1.1 0M464.25 412.78a0.55 0.55 0 1 0 1.1 0a0.55 0.55 0 1 0 -1.1 0M462.41 422.20a0.55 0.55 0 1 0 1.1 0a0.55 0.55 0 1 0 -1.1 0M463.34 415.95a0.55 0.55 0 1 0 1.1 0a0.55 0.55 0 1 0 -1.1 0M465.06 404.68a0.55 0.55 0 1 0 1.1 0a0.55 0.55 0 1 0 -1.1 0M463.87 442.95a0.55 0.55 0 1 0 1.1 0a0.55 0.55 0 1 0 -1.1 0M462.58 428.30a0.55 0.55 0 1 0 1.1 0a0.55 0.55 0 1 0 -1.1 0M465.40 420.04a0.55 0.55 0 1 0 1.1 0a0.55 0.55 0 1 0 -1.1 0M462.87 436.58a0.55 0.55 0 1 0 1.1 0a0.55 0.55 0 1 0 -1.1 0M464.65 422.96a0.55 0.55 0 1 0 1.1 0a0.55 0.55 0 1 0 -1.1 0M464.31 427.40a0.55 0.55 0 1 0 1.1 0a0.55 0.55 0 1 0 -1.1 0M464.23 425.26a0.55 0.55 0 1 0 1.1 0a0.55 0.55 0 1 0 -1.1 0M464.38 424.05a0.55 0.55 0 1 0 1.1 0a0.55 0.55 0 1 0 -1.1 0M460.93 431.05a0.55 0.55 0 1 0 1.1 0a0.55 0.55 0 1 0 -1.1 0M465.08 424.43a0.55 0.55 0 1 0 1.1 0a0.55 0.55 0 1 0 -1.1 0M463.17 406.63a0.55 0.55 0 1 0 1.1 0a0.55 0.55 0 1 0 -1.1 0M465.19 442.16a0.55 0.55 0 1 0 1.1 0a0.55 0.55 0 1 0 -1.1 0M464.97 400.53a0.55 0.55 0 1 0 1.1 0a0.55 0.55 0 1 0 -1.1 0M463.10 426.62a0.55 0.55 0 1 0 1.1 0a0.55 0.55 0 1 0 -1.1 0M462.65 437.54a0.55 0.55 0 1 0 1.1 0a0.55 0.55 0 1 0 -1.1 0M463.28 422.42a0.55 0.55 0 1 0 1.1 0a0.55 0.55 0 1 0 -1.1 0M464.19 424.05a0.55 0.55 0 1 0 1.1 0a0.55 0.55 0 1 0 -1.1 0M464.40 416.18a0.55 0.55 0 1 0 1.1 0a0.55 0.55 0 1 0 -1.1 0M461.31 432.18a0.55 0.55 0 1 0 1.1 0a0.55 0.55 0 1 0 -1.1 0M465.21 428.56a0.55 0.55 0 1 0 1.1 0a0.55 0.55 0 1 0 -1.1 0M462.15 428.56a0.55 0.55 0 1 0 1.1 0a0.55 0.55 0 1 0 -1.1 0" fill="none" stroke="#2a2a2a" stroke-width="0.4" opacity="0.8"/>
<text x="464.15" y="468.40" font-size="4.7" fill="#858585" text-anchor="middle">IE/L</text>
<rect x="479.7" y="386.4" width="58.70" height="75.20" fill="none" stroke="#d2d2d2" stroke-width="0.8"/>
<text x="503.00" y="383.80" font-size="5.2" fill="#6a6a6a" textLength="14.00" lengthAdjust="spacingAndGlyphs">B cells</text>
<text x="477.50" y="388.80" font-size="5.2" fill="#777" text-anchor="end">3</text>
<text x="477.50" y="404.10" font-size="5.2" fill="#777" text-anchor="end">2</text>
<text x="477.50" y="418.30" font-size="5.2" fill="#777" text-anchor="end">1</text>
<text x="477.50" y="432.80" font-size="5.2" fill="#777" text-anchor="end">0</text>
<text x="477.50" y="447.80" font-size="5.2" fill="#777" text-anchor="end">−1</text>
<text x="477.50" y="463.00" font-size="5.2" fill="#777" text-anchor="end">−2</text>
<text x="491.65" y="392.60" font-size="4.6" fill="#808080" text-anchor="middle">*</text>
<text x="503.38" y="392.60" font-size="4.6" fill="#808080" text-anchor="middle">*</text>
<text x="515.15" y="392.60" font-size="4.6" fill="#808080" text-anchor="middle">*</text>
<text x="526.90" y="392.60" font-size="4.6" fill="#808080" text-anchor="middle">*</text>
<path d="M486.45,394.50V393.20H496.85V394.50M498.45,394.50V393.20H508.30V394.50M509.90,394.50V393.20H520.40V394.50M522.00,394.50V393.20H531.80V394.50" fill="none" stroke="#a8a8a8" stroke-width="0.45"/>
<line x1="485.65" y1="415.8" x2="485.65" y2="423.5" stroke="#444" stroke-width="0.5"/>
<line x1="485.65" y1="436.5" x2="485.65" y2="449.6" stroke="#444" stroke-width="0.5"/>
<line x1="483.25" y1="415.8" x2="488.05" y2="415.8" stroke="#333" stroke-width="0.6"/>
<line x1="483.25" y1="449.6" x2="488.05" y2="449.6" stroke="#333" stroke-width="0.6"/>
<rect x="480.6" y="423.5" width="10.10" height="13.00" fill="#138a8a" stroke="#333" stroke-width="0.5"/>
<line x1="480.6" y1="430" x2="490.7" y2="430" stroke="#222" stroke-width="0.5"/>
<path d="M487.15 435.88a0.55 0.55 0 1 0 1.1 0a0.55 0.55 0 1 0 -1.1 0M485.01 421.83a0.55 0.55 0 1 0 1.1 0a0.55 0.55 0 1 0 -1.1 0M484.35 428.42a0.55 0.55 0 1 0 1.1 0a0.55 0.55 0 1 0 -1.1 0M485.80 428.20a0.55 0.55 0 1 0 1.1 0a0.55 0.55 0 1 0 -1.1 0M486.21 433.84a0.55 0.55 0 1 0 1.1 0a0.55 0.55 0 1 0 -1.1 0M481.93 432.76a0.55 0.55 0 1 0 1.1 0a0.55 0.55 0 1 0 -1.1 0M486.64 439.65a0.55 0.55 0 1 0 1.1 0a0.55 0.55 0 1 0 -1.1 0M486.32 446.68a0.55 0.55 0 1 0 1.1 0a0.55 0.55 0 1 0 -1.1 0M484.53 418.14a0.55 0.55 0 1 0 1.1 0a0.55 0.55 0 1 0 -1.1 0M484.99 427.76a0.55 0.55 0 1 0 1.1 0a0.55 0.55 0 1 0 -1.1 0M484.99 418.32a0.55 0.55 0 1 0 1.1 0a0.55 0.55 0 1 0 -1.1 0M486.10 429.80a0.55 0.55 0 1 0 1.1 0a0.55 0.55 0 1 0 -1.1 0M483.56 432.16a0.55 0.55 0 1 0 1.1 0a0.55 0.55 0 1 0 -1.1 0M482.32 431.52a0.55 0.55 0 1 0 1.1 0a0.55 0.55 0 1 0 -1.1 0M486.78 427.03a0.55 0.55 0 1 0 1.1 0a0.55 0.55 0 1 0 -1.1 0M484.54 435.95a0.55 0.55 0 1 0 1.1 0a0.55 0.55 0 1 0 -1.1 0M485.89 438.45a0.55 0.55 0 1 0 1.1 0a0.55 0.55 0 1 0 -1.1 0M484.10 418.49a0.55 0.55 0 1 0 1.1 0a0.55 0.55 0 1 0 -1.1 0M486.93 432.48a0.55 0.55 0 1 0 1.1 0a0.55 0.55 0 1 0 -1.1 0M485.87 418.92a0.55 0.55 0 1 0 1.1 0a0.55 0.55 0 1 0 -1.1 0M485.35 425.87a0.55 0.55 0 1 0 1.1 0a0.55 0.55 0 1 0 -1.1 0M486.66 424.99a0.55 0.55 0 1 0 1.1 0a0.55 0.55 0 1 0 -1.1 0M485.36 421.19a0.55 0.55 0 1 0 1.1 0a0.55 0.55 0 1 0 -1.1 0M485.73 432.97a0.55 0.55 0 1 0 1.1 0a0.55 0.55 0 1 0 -1.1 0M485.44 427.36a0.55 0.55 0 1 0 1.1 0a0.55 0.55 0 1 0 -1.1 0M483.85 432.91a0.55 0.55 0 1 0 1.1 0a0.55 0.55 0 1 0 -1.1 0M484.92 434.17a0.55 0.55 0 1 0 1.1 0a0.55 0.55 0 1 0 -1.1 0M486.19 434.25a0.55 0.55 0 1 0 1.1 0a0.55 0.55 0 1 0 -1.1 0M485.95 421.03a0.55 0.55 0 1 0 1.1 0a0.55 0.55 0 1 0 -1.1 0M490.84 435.66a0.55 0.55 0 1 0 1.1 0a0.55 0.55 0 1 0 -1.1 0M482.76 440.57a0.55 0.55 0 1 0 1.1 0a0.55 0.55 0 1 0 -1.1 0M485.98 431.94a0.55 0.55 0 1 0 1.1 0a0.55 0.55 0 1 0 -1.1 0M486.74 432.32a0.55 0.55 0 1 0 1.1 0a0.55 0.55 0 1 0 -1.1 0M486.77 427.32a0.55 0.55 0 1 0 1.1 0a0.55 0.55 0 1 0 -1.1 0M486.54 427.22a0.55 0.55 0 1 0 1.1 0a0.55 0.55 0 1 0 -1.1 0M484.77 433.40a0.55 0.55 0 1 0 1.1 0a0.55 0.55 0 1 0 -1.1 0M486.36 424.29a0.55 0.55 0 1 0 1.1 0a0.55 0.55 0 1 0 -1.1 0M486.28 436.00a0.55 0.55 0 1 0 1.1 0a0.55 0.55 0 1 0 -1.1 0M483.97 434.03a0.55 0.55 0 1 0 1.1 0a0.55 0.55 0 1 0 -1.1 0M483.45 419.34a0.55 0.55 0 1 0 1.1 0a0.55 0.55 0 1 0 -1.1 0M485.80 431.99a0.55 0.55 0 1 0 1.1 0a0.55 0.55 0 1 0 -1.1 0M485.49 432.01a0.55 0.55 0 1 0 1.1 0a0.55 0.55 0 1 0 -1.1 0M486.56 430.34a0.55 0.55 0 1 0 1.1 0a0.55 0.55 0 1 0 -1.1 0M484.93 426.65a0.55 0.55 0 1 0 1.1 0a0.55 0.55 0 1 0 -1.1 0M484.33 436.43a0.55 0.55 0 1 0 1.1 0a0.55 0.55 0 1 0 -1.1 0M485.55 440.61a0.55 0.55 0 1 0 1.1 0a0.55 0.55 0 1 0 -1.1 0M481.71 428.64a0.55 0.55 0 1 0 1.1 0a0.55 0.55 0 1 0 -1.1 0M484.09 416.66a0.55 0.55 0 1 0 1.1 0a0.55 0.55 0 1 0 -1.1 0M485.30 440.56a0.55 0.55 0 1 0 1.1 0a0.55 0.55 0 1 0 -1.1 0M484.91 432.93a0.55 0.55 0 1 0 1.1 0a0.55 0.55 0 1 0 -1.1 0M484.61 447.22a0.55 0.55 0 1 0 1.1 0a0.55 0.55 0 1 0 -1.1 0M483.76 432.37a0.55 0.55 0 1 0 1.1 0a0.55 0.55 0 1 0 -1.1 0M485.01 426.06a0.55 0.55 0 1 0 1.1 0a0.55 0.55 0 1 0 -1.1 0M486.84 433.23a0.55 0.55 0 1 0 1.1 0a0.55 0.55 0 1 0 -1.1 0M485.53 437.81a0.55 0.55 0 1 0 1.1 0a0.55 0.55 0 1 0 -1.1 0M485.74 435.87a0.55 0.55 0 1 0 1.1 0a0.55 0.55 0 1 0 -1.1 0M486.51 425.66a0.55 0.55 0 1 0 1.1 0a0.55 0.55 0 1 0 -1.1 0M485.29 425.92a0.55 0.55 0 1 0 1.1 0a0.55 0.55 0 1 0 -1.1 0" fill="none" stroke="#2a2a2a" stroke-width="0.4" opacity="0.8"/>
<text x="485.65" y="468.40" font-size="4.7" fill="#858585" text-anchor="middle">IE/M</text>
<line x1="497.65" y1="397.3" x2="497.65" y2="405.6" stroke="#444" stroke-width="0.5"/>
<line x1="497.65" y1="423" x2="497.65" y2="447.5" stroke="#444" stroke-width="0.5"/>
<line x1="495.25" y1="397.3" x2="500.05" y2="397.3" stroke="#333" stroke-width="0.6"/>
<line x1="495.25" y1="447.5" x2="500.05" y2="447.5" stroke="#333" stroke-width="0.6"/>
<rect x="493.3" y="405.6" width="8.70" height="17.40" fill="#1414c0" stroke="#333" stroke-width="0.5"/>
<line x1="493.3" y1="414.7" x2="502" y2="414.7" stroke="#222" stroke-width="0.5"/>
<path d="M497.43 430.75a0.55 0.55 0 1 0 1.1 0a0.55 0.55 0 1 0 -1.1 0M495.83 422.16a0.55 0.55 0 1 0 1.1 0a0.55 0.55 0 1 0 -1.1 0M497.77 429.88a0.55 0.55 0 1 0 1.1 0a0.55 0.55 0 1 0 -1.1 0M497.03 418.60a0.55 0.55 0 1 0 1.1 0a0.55 0.55 0 1 0 -1.1 0M495.99 418.34a0.55 0.55 0 1 0 1.1 0a0.55 0.55 0 1 0 -1.1 0M498.69 427.44a0.55 0.55 0 1 0 1.1 0a0.55 0.55 0 1 0 -1.1 0M498.54 419.48a0.55 0.55 0 1 0 1.1 0a0.55 0.55 0 1 0 -1.1 0M498.20 429.26a0.55 0.55 0 1 0 1.1 0a0.55 0.55 0 1 0 -1.1 0M497.66 402.88a0.55 0.55 0 1 0 1.1 0a0.55 0.55 0 1 0 -1.1 0M498.20 412.79a0.55 0.55 0 1 0 1.1 0a0.55 0.55 0 1 0 -1.1 0M495.64 407.02a0.55 0.55 0 1 0 1.1 0a0.55 0.55 0 1 0 -1.1 0M496.83 439.60a0.55 0.55 0 1 0 1.1 0a0.55 0.55 0 1 0 -1.1 0M496.26 397.79a0.55 0.55 0 1 0 1.1 0a0.55 0.55 0 1 0 -1.1 0M497.44 411.17a0.55 0.55 0 1 0 1.1 0a0.55 0.55 0 1 0 -1.1 0M497.01 418.37a0.55 0.55 0 1 0 1.1 0a0.55 0.55 0 1 0 -1.1 0M499.36 410.75a0.55 0.55 0 1 0 1.1 0a0.55 0.55 0 1 0 -1.1 0M498.28 442.91a0.55 0.55 0 1 0 1.1 0a0.55 0.55 0 1 0 -1.1 0M496.98 401.57a0.55 0.55 0 1 0 1.1 0a0.55 0.55 0 1 0 -1.1 0M495.22 435.42a0.55 0.55 0 1 0 1.1 0a0.55 0.55 0 1 0 -1.1 0M495.73 446.33a0.55 0.55 0 1 0 1.1 0a0.55 0.55 0 1 0 -1.1 0M497.44 436.87a0.55 0.55 0 1 0 1.1 0a0.55 0.55 0 1 0 -1.1 0M496.73 444.54a0.55 0.55 0 1 0 1.1 0a0.55 0.55 0 1 0 -1.1 0M499.84 414.68a0.55 0.55 0 1 0 1.1 0a0.55 0.55 0 1 0 -1.1 0M494.69 416.06a0.55 0.55 0 1 0 1.1 0a0.55 0.55 0 1 0 -1.1 0M494.85 433.65a0.55 0.55 0 1 0 1.1 0a0.55 0.55 0 1 0 -1.1 0M496.40 405.76a0.55 0.55 0 1 0 1.1 0a0.55 0.55 0 1 0 -1.1 0M495.89 410.38a0.55 0.55 0 1 0 1.1 0a0.55 0.55 0 1 0 -1.1 0M496.02 418.38a0.55 0.55 0 1 0 1.1 0a0.55 0.55 0 1 0 -1.1 0M496.73 419.30a0.55 0.55 0 1 0 1.1 0a0.55 0.55 0 1 0 -1.1 0M497.21 439.28a0.55 0.55 0 1 0 1.1 0a0.55 0.55 0 1 0 -1.1 0M496.64 413.65a0.55 0.55 0 1 0 1.1 0a0.55 0.55 0 1 0 -1.1 0M497.16 419.94a0.55 0.55 0 1 0 1.1 0a0.55 0.55 0 1 0 -1.1 0M497.31 406.48a0.55 0.55 0 1 0 1.1 0a0.55 0.55 0 1 0 -1.1 0M495.81 416.15a0.55 0.55 0 1 0 1.1 0a0.55 0.55 0 1 0 -1.1 0M496.11 415.36a0.55 0.55 0 1 0 1.1 0a0.55 0.55 0 1 0 -1.1 0M497.23 412.58a0.55 0.55 0 1 0 1.1 0a0.55 0.55 0 1 0 -1.1 0M497.85 411.98a0.55 0.55 0 1 0 1.1 0a0.55 0.55 0 1 0 -1.1 0M496.81 431.14a0.55 0.55 0 1 0 1.1 0a0.55 0.55 0 1 0 -1.1 0M498.85 418.57a0.55 0.55 0 1 0 1.1 0a0.55 0.55 0 1 0 -1.1 0M496.90 415.94a0.55 0.55 0 1 0 1.1 0a0.55 0.55 0 1 0 -1.1 0M494.78 443.08a0.55 0.55 0 1 0 1.1 0a0.55 0.55 0 1 0 -1.1 0M496.45 437.08a0.55 0.55 0 1 0 1.1 0a0.55 0.55 0 1 0 -1.1 0M497.89 403.74a0.55 0.55 0 1 0 1.1 0a0.55 0.55 0 1 0 -1.1 0M496.35 407.24a0.55 0.55 0 1 0 1.1 0a0.55 0.55 0 1 0 -1.1 0M496.05 437.79a0.55 0.55 0 1 0 1.1 0a0.55 0.55 0 1 0 -1.1 0M496.92 414.40a0.55 0.55 0 1 0 1.1 0a0.55 0.55 0 1 0 -1.1 0M497.49 420.77a0.55 0.55 0 1 0 1.1 0a0.55 0.55 0 1 0 -1.1 0M498.36 405.74a0.55 0.55 0 1 0 1.1 0a0.55 0.55 0 1 0 -1.1 0M496.94 420.05a0.55 0.55 0 1 0 1.1 0a0.55 0.55 0 1 0 -1.1 0M495.25 401.34a0.55 0.55 0 1 0 1.1 0a0.55 0.55 0 1 0 -1.1 0M497.41 421.56a0.55 0.55 0 1 0 1.1 0a0.55 0.55 0 1 0 -1.1 0M497.56 417.39a0.55 0.55 0 1 0 1.1 0a0.55 0.55 0 1 0 -1.1 0M497.35 419.32a0.55 0.55 0 1 0 1.1 0a0.55 0.55 0 1 0 -1.1 0M496.54 443.28a0.55 0.55 0 1 0 1.1 0a0.55 0.55 0 1 0 -1.1 0M496.99 422.75a0.55 0.55 0 1 0 1.1 0a0.55 0.55 0 1 0 -1.1 0M496.37 429.14a0.55 0.55 0 1 0 1.1 0a0.55 0.55 0 1 0 -1.1 0M496.78 407.02a0.55 0.55 0 1 0 1.1 0a0.55 0.55 0 1 0 -1.1 0M497.49 410.63a0.55 0.55 0 1 0 1.1 0a0.55 0.55 0 1 0 -1.1 0M496.98 403.32a0.55 0.55 0 1 0 1.1 0a0.55 0.55 0 1 0 -1.1 0M497.43 421.66a0.55 0.55 0 1 0 1.1 0a0.55 0.55 0 1 0 -1.1 0M498.82 417.34a0.55 0.55 0 1 0 1.1 0a0.55 0.55 0 1 0 -1.1 0M496.68 408.04a0.55 0.55 0 1 0 1.1 0a0.55 0.55 0 1 0 -1.1 0M495.92 438.40a0.55 0.55 0 1 0 1.1 0a0.55 0.55 0 1 0 -1.1 0M495.28 412.97a0.55 0.55 0 1 0 1.1 0a0.55 0.55 0 1 0 -1.1 0M499.51 407.19a0.55 0.55 0 1 0 1.1 0a0.55 0.55 0 1 0 -1.1 0M496.61 405.85a0.55 0.55 0 1 0 1.1 0a0.55 0.55 0 1 0 -1.1 0M497.06 414.44a0.55 0.55 0 1 0 1.1 0a0.55 0.55 0 1 0 -1.1 0M496.13 407.98a0.55 0.55 0 1 0 1.1 0a0.55 0.55 0 1 0 -1.1 0" fill="none" stroke="#2a2a2a" stroke-width="0.4" opacity="0.8"/>
<text x="497.65" y="468.40" font-size="4.7" fill="#858585" text-anchor="middle">IE/B</text>
<line x1="509.10" y1="407" x2="509.10" y2="429.6" stroke="#444" stroke-width="0.5"/>
<line x1="509.10" y1="444.6" x2="509.10" y2="454" stroke="#444" stroke-width="0.5"/>
<line x1="506.70" y1="407" x2="511.50" y2="407" stroke="#333" stroke-width="0.6"/>
<line x1="506.70" y1="454" x2="511.50" y2="454" stroke="#333" stroke-width="0.6"/>
<rect x="504.6" y="429.6" width="9.00" height="15.00" fill="#d8184c" stroke="#333" stroke-width="0.5"/>
<line x1="504.6" y1="439.4" x2="513.6" y2="439.4" stroke="#222" stroke-width="0.5"/>
<path d="M507.99 409.46a0.55 0.55 0 1 0 1.1 0a0.55 0.55 0 1 0 -1.1 0M509.05 428.10a0.55 0.55 0 1 0 1.1 0a0.55 0.55 0 1 0 -1.1 0M509.50 411.47a0.55 0.55 0 1 0 1.1 0a0.55 0.55 0 1 0 -1.1 0M508.12 417.39a0.55 0.55 0 1 0 1.1 0a0.55 0.55 0 1 0 -1.1 0M508.82 444.02a0.55 0.55 0 1 0 1.1 0a0.55 0.55 0 1 0 -1.1 0M506.77 432.27a0.55 0.55 0 1 0 1.1 0a0.55 0.55 0 1 0 -1.1 0M508.01 432.89a0.55 0.55 0 1 0 1.1 0a0.55 0.55 0 1 0 -1.1 0M510.52 418.25a0.55 0.55 0 1 0 1.1 0a0.55 0.55 0 1 0 -1.1 0M508.90 444.89a0.55 0.55 0 1 0 1.1 0a0.55 0.55 0 1 0 -1.1 0M507.90 416.99a0.55 0.55 0 1 0 1.1 0a0.55 0.55 0 1 0 -1.1 0M510.19 436.43a0.55 0.55 0 1 0 1.1 0a0.55 0.55 0 1 0 -1.1 0M508.59 417.99a0.55 0.55 0 1 0 1.1 0a0.55 0.55 0 1 0 -1.1 0M509.10 438.32a0.55 0.55 0 1 0 1.1 0a0.55 0.55 0 1 0 -1.1 0M509.26 442.75a0.55 0.55 0 1 0 1.1 0a0.55 0.55 0 1 0 -1.1 0M508.36 436.32a0.55 0.55 0 1 0 1.1 0a0.55 0.55 0 1 0 -1.1 0M507.83 435.35a0.55 0.55 0 1 0 1.1 0a0.55 0.55 0 1 0 -1.1 0M509.41 433.25a0.55 0.55 0 1 0 1.1 0a0.55 0.55 0 1 0 -1.1 0M507.61 436.33a0.55 0.55 0 1 0 1.1 0a0.55 0.55 0 1 0 -1.1 0M508.66 448.63a0.55 0.55 0 1 0 1.1 0a0.55 0.55 0 1 0 -1.1 0M507.24 441.63a0.55 0.55 0 1 0 1.1 0a0.55 0.55 0 1 0 -1.1 0M510.28 423.54a0.55 0.55 0 1 0 1.1 0a0.55 0.55 0 1 0 -1.1 0M509.18 423.51a0.55 0.55 0 1 0 1.1 0a0.55 0.55 0 1 0 -1.1 0M509.75 440.37a0.55 0.55 0 1 0 1.1 0a0.55 0.55 0 1 0 -1.1 0M509.18 437.06a0.55 0.55 0 1 0 1.1 0a0.55 0.55 0 1 0 -1.1 0M506.91 441.11a0.55 0.55 0 1 0 1.1 0a0.55 0.55 0 1 0 -1.1 0M507.49 441.82a0.55 0.55 0 1 0 1.1 0a0.55 0.55 0 1 0 -1.1 0M505.84 438.06a0.55 0.55 0 1 0 1.1 0a0.55 0.55 0 1 0 -1.1 0M509.57 432.10a0.55 0.55 0 1 0 1.1 0a0.55 0.55 0 1 0 -1.1 0M508.15 437.12a0.55 0.55 0 1 0 1.1 0a0.55 0.55 0 1 0 -1.1 0M508.50 440.31a0.55 0.55 0 1 0 1.1 0a0.55 0.55 0 1 0 -1.1 0M508.49 438.89a0.55 0.55 0 1 0 1.1 0a0.55 0.55 0 1 0 -1.1 0M507.93 439.80a0.55 0.55 0 1 0 1.1 0a0.55 0.55 0 1 0 -1.1 0M508.67 452.76a0.55 0.55 0 1 0 1.1 0a0.55 0.55 0 1 0 -1.1 0M507.20 438.84a0.55 0.55 0 1 0 1.1 0a0.55 0.55 0 1 0 -1.1 0M507.38 430.81a0.55 0.55 0 1 0 1.1 0a0.55 0.55 0 1 0 -1.1 0M506.37 447.99a0.55 0.55 0 1 0 1.1 0a0.55 0.55 0 1 0 -1.1 0M509.50 444.85a0.55 0.55 0 1 0 1.1 0a0.55 0.55 0 1 0 -1.1 0M508.77 410.35a0.55 0.55 0 1 0 1.1 0a0.55 0.55 0 1 0 -1.1 0M509.47 450.43a0.55 0.55 0 1 0 1.1 0a0.55 0.55 0 1 0 -1.1 0M510.15 436.88a0.55 0.55 0 1 0 1.1 0a0.55 0.55 0 1 0 -1.1 0M507.22 448.99a0.55 0.55 0 1 0 1.1 0a0.55 0.55 0 1 0 -1.1 0M509.60 411.28a0.55 0.55 0 1 0 1.1 0a0.55 0.55 0 1 0 -1.1 0M508.32 442.39a0.55 0.55 0 1 0 1.1 0a0.55 0.55 0 1 0 -1.1 0M510.46 434.20a0.55 0.55 0 1 0 1.1 0a0.55 0.55 0 1 0 -1.1 0M507.26 411.41a0.55 0.55 0 1 0 1.1 0a0.55 0.55 0 1 0 -1.1 0M510.56 441.76a0.55 0.55 0 1 0 1.1 0a0.55 0.55 0 1 0 -1.1 0M507.98 431.11a0.55 0.55 0 1 0 1.1 0a0.55 0.55 0 1 0 -1.1 0M507.51 433.49a0.55 0.55 0 1 0 1.1 0a0.55 0.55 0 1 0 -1.1 0M508.06 430.90a0.55 0.55 0 1 0 1.1 0a0.55 0.55 0 1 0 -1.1 0M509.66 445.29a0.55 0.55 0 1 0 1.1 0a0.55 0.55 0 1 0 -1.1 0M509.64 423.96a0.55 0.55 0 1 0 1.1 0a0.55 0.55 0 1 0 -1.1 0M511.16 445.11a0.55 0.55 0 1 0 1.1 0a0.55 0.55 0 1 0 -1.1 0M508.94 441.60a0.55 0.55 0 1 0 1.1 0a0.55 0.55 0 1 0 -1.1 0M508.98 436.98a0.55 0.55 0 1 0 1.1 0a0.55 0.55 0 1 0 -1.1 0M508.38 439.20a0.55 0.55 0 1 0 1.1 0a0.55 0.55 0 1 0 -1.1 0M509.09 414.01a0.55 0.55 0 1 0 1.1 0a0.55 0.55 0 1 0 -1.1 0M509.89 433.50a0.55 0.55 0 1 0 1.1 0a0.55 0.55 0 1 0 -1.1 0M509.09 409.44a0.55 0.55 0 1 0 1.1 0a0.55 0.55 0 1 0 -1.1 0M510.19 411.29a0.55 0.55 0 1 0 1.1 0a0.55 0.55 0 1 0 -1.1 0M507.54 434.32a0.55 0.55 0 1 0 1.1 0a0.55 0.55 0 1 0 -1.1 0M509.15 430.71a0.55 0.55 0 1 0 1.1 0a0.55 0.55 0 1 0 -1.1 0M506.61 451.82a0.55 0.55 0 1 0 1.1 0a0.55 0.55 0 1 0 -1.1 0M506.37 438.84a0.55 0.55 0 1 0 1.1 0a0.55 0.55 0 1 0 -1.1 0" fill="none" stroke="#2a2a2a" stroke-width="0.4" opacity="0.8"/>
<text x="509.10" y="468.40" font-size="4.7" fill="#858585" text-anchor="middle">F</text>
<line x1="521.20" y1="411.5" x2="521.20" y2="429" stroke="#444" stroke-width="0.5"/>
<line x1="521.20" y1="446.8" x2="521.20" y2="454" stroke="#444" stroke-width="0.5"/>
<line x1="518.80" y1="411.5" x2="523.60" y2="411.5" stroke="#333" stroke-width="0.6"/>
<line x1="518.80" y1="454" x2="523.60" y2="454" stroke="#333" stroke-width="0.6"/>
<rect x="516.8" y="429" width="8.80" height="17.80" fill="#ff9a0a" stroke="#333" stroke-width="0.5"/>
<line x1="516.8" y1="440.3" x2="525.6" y2="440.3" stroke="#222" stroke-width="0.5"/>
<path d="M519.19 444.08a0.55 0.55 0 1 0 1.1 0a0.55 0.55 0 1 0 -1.1 0M519.61 452.12a0.55 0.55 0 1 0 1.1 0a0.55 0.55 0 1 0 -1.1 0M522.08 436.79a0.55 0.55 0 1 0 1.1 0a0.55 0.55 0 1 0 -1.1 0M521.50 441.43a0.55 0.55 0 1 0 1.1 0a0.55 0.55 0 1 0 -1.1 0M521.17 429.14a0.55 0.55 0 1 0 1.1 0a0.55 0.55 0 1 0 -1.1 0M520.21 438.26a0.55 0.55 0 1 0 1.1 0a0.55 0.55 0 1 0 -1.1 0M520.51 442.74a0.55 0.55 0 1 0 1.1 0a0.55 0.55 0 1 0 -1.1 0M520.01 416.96a0.55 0.55 0 1 0 1.1 0a0.55 0.55 0 1 0 -1.1 0M520.37 415.47a0.55 0.55 0 1 0 1.1 0a0.55 0.55 0 1 0 -1.1 0M522.04 439.29a0.55 0.55 0 1 0 1.1 0a0.55 0.55 0 1 0 -1.1 0M520.13 425.75a0.55 0.55 0 1 0 1.1 0a0.55 0.55 0 1 0 -1.1 0M521.37 427.11a0.55 0.55 0 1 0 1.1 0a0.55 0.55 0 1 0 -1.1 0M518.48 432.42a0.55 0.55 0 1 0 1.1 0a0.55 0.55 0 1 0 -1.1 0M521.83 443.48a0.55 0.55 0 1 0 1.1 0a0.55 0.55 0 1 0 -1.1 0M520.60 439.35a0.55 0.55 0 1 0 1.1 0a0.55 0.55 0 1 0 -1.1 0M521.98 415.08a0.55 0.55 0 1 0 1.1 0a0.55 0.55 0 1 0 -1.1 0M520.35 433.50a0.55 0.55 0 1 0 1.1 0a0.55 0.55 0 1 0 -1.1 0M521.79 439.26a0.55 0.55 0 1 0 1.1 0a0.55 0.55 0 1 0 -1.1 0M520.58 433.24a0.55 0.55 0 1 0 1.1 0a0.55 0.55 0 1 0 -1.1 0M521.47 440.67a0.55 0.55 0 1 0 1.1 0a0.55 0.55 0 1 0 -1.1 0M521.08 417.15a0.55 0.55 0 1 0 1.1 0a0.55 0.55 0 1 0 -1.1 0M521.69 446.94a0.55 0.55 0 1 0 1.1 0a0.55 0.55 0 1 0 -1.1 0M520.95 448.05a0.55 0.55 0 1 0 1.1 0a0.55 0.55 0 1 0 -1.1 0M520.68 436.63a0.55 0.55 0 1 0 1.1 0a0.55 0.55 0 1 0 -1.1 0M522.49 435.24a0.55 0.55 0 1 0 1.1 0a0.55 0.55 0 1 0 -1.1 0M522.55 434.67a0.55 0.55 0 1 0 1.1 0a0.55 0.55 0 1 0 -1.1 0M521.71 444.10a0.55 0.55 0 1 0 1.1 0a0.55 0.55 0 1 0 -1.1 0M521.56 433.38a0.55 0.55 0 1 0 1.1 0a0.55 0.55 0 1 0 -1.1 0M520.55 441.86a0.55 0.55 0 1 0 1.1 0a0.55 0.55 0 1 0 -1.1 0M519.44 452.52a0.55 0.55 0 1 0 1.1 0a0.55 0.55 0 1 0 -1.1 0M522.20 421.15a0.55 0.55 0 1 0 1.1 0a0.55 0.55 0 1 0 -1.1 0M521.14 444.36a0.55 0.55 0 1 0 1.1 0a0.55 0.55 0 1 0 -1.1 0M520.84 446.22a0.55 0.55 0 1 0 1.1 0a0.55 0.55 0 1 0 -1.1 0M524.40 413.12a0.55 0.55 0 1 0 1.1 0a0.55 0.55 0 1 0 -1.1 0M521.25 446.06a0.55 0.55 0 1 0 1.1 0a0.55 0.55 0 1 0 -1.1 0M518.60 412.48a0.55 0.55 0 1 0 1.1 0a0.55 0.55 0 1 0 -1.1 0M520.87 424.16a0.55 0.55 0 1 0 1.1 0a0.55 0.55 0 1 0 -1.1 0M519.05 438.37a0.55 0.55 0 1 0 1.1 0a0.55 0.55 0 1 0 -1.1 0M518.65 446.99a0.55 0.55 0 1 0 1.1 0a0.55 0.55 0 1 0 -1.1 0M522.22 435.22a0.55 0.55 0 1 0 1.1 0a0.55 0.55 0 1 0 -1.1 0M520.58 429.84a0.55 0.55 0 1 0 1.1 0a0.55 0.55 0 1 0 -1.1 0M520.70 446.25a0.55 0.55 0 1 0 1.1 0a0.55 0.55 0 1 0 -1.1 0M520.47 430.10a0.55 0.55 0 1 0 1.1 0a0.55 0.55 0 1 0 -1.1 0M522.88 430.68a0.55 0.55 0 1 0 1.1 0a0.55 0.55 0 1 0 -1.1 0M521.54 439.29a0.55 0.55 0 1 0 1.1 0a0.55 0.55 0 1 0 -1.1 0M521.55 443.15a0.55 0.55 0 1 0 1.1 0a0.55 0.55 0 1 0 -1.1 0M520.57 446.65a0.55 0.55 0 1 0 1.1 0a0.55 0.55 0 1 0 -1.1 0M522.81 445.29a0.55 0.55 0 1 0 1.1 0a0.55 0.55 0 1 0 -1.1 0M521.72 418.86a0.55 0.55 0 1 0 1.1 0a0.55 0.55 0 1 0 -1.1 0M518.18 444.71a0.55 0.55 0 1 0 1.1 0a0.55 0.55 0 1 0 -1.1 0M521.17 426.62a0.55 0.55 0 1 0 1.1 0a0.55 0.55 0 1 0 -1.1 0M518.64 427.96a0.55 0.55 0 1 0 1.1 0a0.55 0.55 0 1 0 -1.1 0M521.29 443.52a0.55 0.55 0 1 0 1.1 0a0.55 0.55 0 1 0 -1.1 0M517.58 439.15a0.55 0.55 0 1 0 1.1 0a0.55 0.55 0 1 0 -1.1 0M523.38 420.75a0.55 0.55 0 1 0 1.1 0a0.55 0.55 0 1 0 -1.1 0M521.01 441.80a0.55 0.55 0 1 0 1.1 0a0.55 0.55 0 1 0 -1.1 0M520.87 436.80a0.55 0.55 0 1 0 1.1 0a0.55 0.55 0 1 0 -1.1 0M520.12 441.56a0.55 0.55 0 1 0 1.1 0a0.55 0.55 0 1 0 -1.1 0M518.82 445.96a0.55 0.55 0 1 0 1.1 0a0.55 0.55 0 1 0 -1.1 0M518.67 436.26a0.55 0.55 0 1 0 1.1 0a0.55 0.55 0 1 0 -1.1 0M520.75 437.87a0.55 0.55 0 1 0 1.1 0a0.55 0.55 0 1 0 -1.1 0M516.64 447.75a0.55 0.55 0 1 0 1.1 0a0.55 0.55 0 1 0 -1.1 0M520.60 442.68a0.55 0.55 0 1 0 1.1 0a0.55 0.55 0 1 0 -1.1 0M520.08 437.71a0.55 0.55 0 1 0 1.1 0a0.55 0.55 0 1 0 -1.1 0M519.97 445.05a0.55 0.55 0 1 0 1.1 0a0.55 0.55 0 1 0 -1.1 0M521.35 438.56a0.55 0.55 0 1 0 1.1 0a0.55 0.55 0 1 0 -1.1 0M519.73 445.88a0.55 0.55 0 1 0 1.1 0a0.55 0.55 0 1 0 -1.1 0M519.62 429.87a0.55 0.55 0 1 0 1.1 0a0.55 0.55 0 1 0 -1.1 0M519.11 437.51a0.55 0.55 0 1 0 1.1 0a0.55 0.55 0 1 0 -1.1 0" fill="none" stroke="#2a2a2a" stroke-width="0.4" opacity="0.8"/>
<text x="521.20" y="468.40" font-size="4.7" fill="#858585" text-anchor="middle">D</text>
<line x1="532.60" y1="402.3" x2="532.60" y2="420.2" stroke="#444" stroke-width="0.5"/>
<line x1="532.60" y1="434.4" x2="532.60" y2="451.2" stroke="#444" stroke-width="0.5"/>
<line x1="530.20" y1="402.3" x2="535.00" y2="402.3" stroke="#333" stroke-width="0.6"/>
<line x1="530.20" y1="451.2" x2="535.00" y2="451.2" stroke="#333" stroke-width="0.6"/>
<rect x="527.8" y="420.2" width="9.60" height="14.20" fill="#14e8e8" stroke="#333" stroke-width="0.5"/>
<line x1="527.8" y1="429" x2="537.4" y2="429" stroke="#222" stroke-width="0.5"/>
<path d="M532.10 433.07a0.55 0.55 0 1 0 1.1 0a0.55 0.55 0 1 0 -1.1 0M532.36 423.48a0.55 0.55 0 1 0 1.1 0a0.55 0.55 0 1 0 -1.1 0M530.96 426.34a0.55 0.55 0 1 0 1.1 0a0.55 0.55 0 1 0 -1.1 0M533.42 430.98a0.55 0.55 0 1 0 1.1 0a0.55 0.55 0 1 0 -1.1 0M532.99 419.10a0.55 0.55 0 1 0 1.1 0a0.55 0.55 0 1 0 -1.1 0M531.62 419.66a0.55 0.55 0 1 0 1.1 0a0.55 0.55 0 1 0 -1.1 0M531.63 428.16a0.55 0.55 0 1 0 1.1 0a0.55 0.55 0 1 0 -1.1 0M533.62 424.98a0.55 0.55 0 1 0 1.1 0a0.55 0.55 0 1 0 -1.1 0M532.42 415.59a0.55 0.55 0 1 0 1.1 0a0.55 0.55 0 1 0 -1.1 0M532.12 429.02a0.55 0.55 0 1 0 1.1 0a0.55 0.55 0 1 0 -1.1 0M532.65 429.07a0.55 0.55 0 1 0 1.1 0a0.55 0.55 0 1 0 -1.1 0M529.81 440.02a0.55 0.55 0 1 0 1.1 0a0.55 0.55 0 1 0 -1.1 0M530.63 415.43a0.55 0.55 0 1 0 1.1 0a0.55 0.55 0 1 0 -1.1 0M533.79 434.03a0.55 0.55 0 1 0 1.1 0a0.55 0.55 0 1 0 -1.1 0M531.39 419.05a0.55 0.55 0 1 0 1.1 0a0.55 0.55 0 1 0 -1.1 0M532.27 424.88a0.55 0.55 0 1 0 1.1 0a0.55 0.55 0 1 0 -1.1 0M533.87 433.09a0.55 0.55 0 1 0 1.1 0a0.55 0.55 0 1 0 -1.1 0M532.21 402.33a0.55 0.55 0 1 0 1.1 0a0.55 0.55 0 1 0 -1.1 0M532.62 433.17a0.55 0.55 0 1 0 1.1 0a0.55 0.55 0 1 0 -1.1 0M532.55 431.55a0.55 0.55 0 1 0 1.1 0a0.55 0.55 0 1 0 -1.1 0M533.16 416.63a0.55 0.55 0 1 0 1.1 0a0.55 0.55 0 1 0 -1.1 0M531.87 431.61a0.55 0.55 0 1 0 1.1 0a0.55 0.55 0 1 0 -1.1 0M531.79 434.18a0.55 0.55 0 1 0 1.1 0a0.55 0.55 0 1 0 -1.1 0M533.79 424.16a0.55 0.55 0 1 0 1.1 0a0.55 0.55 0 1 0 -1.1 0M532.04 425.96a0.55 0.55 0 1 0 1.1 0a0.55 0.55 0 1 0 -1.1 0M531.88 421.36a0.55 0.55 0 1 0 1.1 0a0.55 0.55 0 1 0 -1.1 0M533.12 430.06a0.55 0.55 0 1 0 1.1 0a0.55 0.55 0 1 0 -1.1 0M528.11 421.86a0.55 0.55 0 1 0 1.1 0a0.55 0.55 0 1 0 -1.1 0M531.88 435.01a0.55 0.55 0 1 0 1.1 0a0.55 0.55 0 1 0 -1.1 0M531.81 412.39a0.55 0.55 0 1 0 1.1 0a0.55 0.55 0 1 0 -1.1 0M532.03 403.88a0.55 0.55 0 1 0 1.1 0a0.55 0.55 0 1 0 -1.1 0M531.22 421.91a0.55 0.55 0 1 0 1.1 0a0.55 0.55 0 1 0 -1.1 0M533.27 421.30a0.55 0.55 0 1 0 1.1 0a0.55 0.55 0 1 0 -1.1 0M534.91 433.69a0.55 0.55 0 1 0 1.1 0a0.55 0.55 0 1 0 -1.1 0M531.78 423.06a0.55 0.55 0 1 0 1.1 0a0.55 0.55 0 1 0 -1.1 0M533.17 403.06a0.55 0.55 0 1 0 1.1 0a0.55 0.55 0 1 0 -1.1 0M533.56 447.55a0.55 0.55 0 1 0 1.1 0a0.55 0.55 0 1 0 -1.1 0M531.74 417.83a0.55 0.55 0 1 0 1.1 0a0.55 0.55 0 1 0 -1.1 0M529.01 449.77a0.55 0.55 0 1 0 1.1 0a0.55 0.55 0 1 0 -1.1 0M531.64 440.77a0.55 0.55 0 1 0 1.1 0a0.55 0.55 0 1 0 -1.1 0M530.75 447.76a0.55 0.55 0 1 0 1.1 0a0.55 0.55 0 1 0 -1.1 0M529.56 403.54a0.55 0.55 0 1 0 1.1 0a0.55 0.55 0 1 0 -1.1 0M532.90 425.90a0.55 0.55 0 1 0 1.1 0a0.55 0.55 0 1 0 -1.1 0M532.38 439.28a0.55 0.55 0 1 0 1.1 0a0.55 0.55 0 1 0 -1.1 0M534.05 402.63a0.55 0.55 0 1 0 1.1 0a0.55 0.55 0 1 0 -1.1 0M532.17 423.42a0.55 0.55 0 1 0 1.1 0a0.55 0.55 0 1 0 -1.1 0M531.88 424.51a0.55 0.55 0 1 0 1.1 0a0.55 0.55 0 1 0 -1.1 0M532.59 429.54a0.55 0.55 0 1 0 1.1 0a0.55 0.55 0 1 0 -1.1 0M530.24 407.87a0.55 0.55 0 1 0 1.1 0a0.55 0.55 0 1 0 -1.1 0M532.62 425.90a0.55 0.55 0 1 0 1.1 0a0.55 0.55 0 1 0 -1.1 0M530.00 444.97a0.55 0.55 0 1 0 1.1 0a0.55 0.55 0 1 0 -1.1 0M532.71 438.46a0.55 0.55 0 1 0 1.1 0a0.55 0.55 0 1 0 -1.1 0M530.62 444.04a0.55 0.55 0 1 0 1.1 0a0.55 0.55 0 1 0 -1.1 0M534.05 409.99a0.55 0.55 0 1 0 1.1 0a0.55 0.55 0 1 0 -1.1 0M532.43 411.57a0.55 0.55 0 1 0 1.1 0a0.55 0.55 0 1 0 -1.1 0M532.44 439.31a0.55 0.55 0 1 0 1.1 0a0.55 0.55 0 1 0 -1.1 0M532.70 432.77a0.55 0.55 0 1 0 1.1 0a0.55 0.55 0 1 0 -1.1 0M532.58 433.09a0.55 0.55 0 1 0 1.1 0a0.55 0.55 0 1 0 -1.1 0M534.45 408.21a0.55 0.55 0 1 0 1.1 0a0.55 0.55 0 1 0 -1.1 0M533.26 429.18a0.55 0.55 0 1 0 1.1 0a0.55 0.55 0 1 0 -1.1 0M531.34 423.51a0.55 0.55 0 1 0 1.1 0a0.55 0.55 0 1 0 -1.1 0" fill="none" stroke="#2a2a2a" stroke-width="0.4" opacity="0.8"/>
<text x="532.60" y="468.40" font-size="4.7" fill="#858585" text-anchor="middle">IE/L</text>
<line x1="332.5" y1="471.5" x2="332.50" y2="405.20" stroke="#8a8a8a" stroke-width="0.6"/><path d="M332.5,401.7L334.10,405.20L330.90,405.20Z" fill="#8a8a8a"/>
<line x1="332.5" y1="471.5" x2="379.20" y2="471.50" stroke="#8a8a8a" stroke-width="0.6"/><path d="M382.7,471.5L379.20,473.10L379.20,469.90Z" fill="#8a8a8a"/>
<text x="0.00" y="0.00" font-size="5.8" fill="#8a8a8a" text-anchor="middle" textLength="68.40" lengthAdjust="spacingAndGlyphs" transform="translate(330.3,435.2) rotate(-90)">signature score, median-scaled</text>
<text x="339.80" y="477.40" font-size="5.8" fill="#8a8a8a" textLength="28.40" lengthAdjust="spacingAndGlyphs">TME subtype</text>
<text x="398.50" y="481.80" font-size="5.2" fill="#999" textLength="85.50" lengthAdjust="spacingAndGlyphs">- ns, * p &lt; 0.05, ** p &lt; 0.01, *** p &lt; 0.001</text>
<text x="89.30" y="562.20" font-size="7.7" fill="#111" font-weight="bold" textLength="126.00" lengthAdjust="spacingAndGlyphs">Patient prognosis by TME subtype</text>
<text x="89.30" y="571.80" font-size="7.7" fill="#111" font-weight="bold" textLength="125.40" lengthAdjust="spacingAndGlyphs">TCGA HNSCC, OS, N=185, p = 0.01</text>
<rect x="57.3" y="578.4" width="188.20" height="131.40" fill="none" stroke="#d4d4d4" stroke-width="0.8"/><path d="M57.3,578.4V709.8H245.5" fill="none" stroke="#bdbdbd" stroke-width="0.9"/><text x="49.80" y="711.70" font-size="4.1" fill="#888" text-anchor="end">0%</text><text x="49.80" y="686.60" font-size="4.1" fill="#888" text-anchor="end">20%</text><text x="49.80" y="661.50" font-size="4.1" fill="#888" text-anchor="end">40%</text><text x="49.80" y="636.40" font-size="4.1" fill="#888" text-anchor="end">60%</text><text x="49.80" y="611.30" font-size="4.1" fill="#888" text-anchor="end">80%</text><text x="49.80" y="586.20" font-size="4.1" fill="#888" text-anchor="end">100%</text><text x="65.20" y="719.10" font-size="6.6" fill="#777" text-anchor="middle">0</text><text x="93.67" y="719.10" font-size="6.6" fill="#777" text-anchor="middle">10</text><text x="122.14" y="719.10" font-size="6.6" fill="#777" text-anchor="middle">20</text><text x="150.61" y="719.10" font-size="6.6" fill="#777" text-anchor="middle">30</text><text x="179.08" y="719.10" font-size="6.6" fill="#777" text-anchor="middle">40</text><text x="207.55" y="719.10" font-size="6.6" fill="#777" text-anchor="middle">50</text><text x="236.02" y="719.10" font-size="6.6" fill="#777" text-anchor="middle">60</text>
<path d="M65.50,584.50H68.50V586.50H79.50V590.50H119.50V592.50H122.50V598.50H126.50V600.50H133.50V605.50H136.50V605.50H180.50V621.50H231.50V665.50H237.50V665.50" fill="none" stroke="#30a6a2" stroke-width="0.85"/><path d="M65.50,584.50H97.50V587.50H100.50V590.50H108.50V593.50H112.50V597.50H115.50V600.50H122.50V602.50H158.50V609.50H237.50V609.50" fill="none" stroke="#ffa840" stroke-width="0.85"/><path d="M65.50,584.50H66.50V586.50H68.50V590.50H78.50V591.50H99.50V592.50H109.50V593.50H112.50V598.50H119.50V601.50H136.50V606.50H156.50V611.50H227.50V650.50H231.50V658.50H233.50V670.50H237.50V670.50" fill="none" stroke="#3434e0" stroke-width="0.85"/><path d="M65.50,584.50H67.50V586.50H71.50V589.50H72.50V592.50H90.50V595.50H98.50V599.50H105.50V601.50H112.50V603.50H115.50V607.50H117.50V609.50H120.50V611.50H122.50V614.50H160.50V615.50H161.50V621.50H167.50V629.50H170.50V643.50H179.50V658.50H237.50V658.50" fill="none" stroke="#f25266" stroke-width="0.85"/><path d="M65.50,584.50H79.50V586.50H100.50V590.50H122.50V594.50H124.50V594.50H237.50V594.50" fill="none" stroke="#28e6f4" stroke-width="0.85"/><path d="M121.50,588.00v5M127.50,592.00v5M131.50,592.00v5M135.50,592.00v5M138.50,592.00v5M150.50,592.00v5M154.50,592.00v5M165.50,592.00v5M171.50,592.00v5M186.50,592.00v5M191.50,592.00v5M199.50,592.00v5M208.50,592.00v5M234.50,592.00v5M237.50,592.00v5" stroke="#28e6f4" stroke-width="0.6" opacity="0.85"/><path d="M126.50,600.00v5M129.50,600.00v5M135.50,600.00v5M144.50,600.00v5M149.50,600.00v5M154.50,600.00v5M181.50,607.00v5M184.50,607.00v5M203.50,607.00v5M208.50,607.00v5M237.50,607.00v5" stroke="#ffa840" stroke-width="0.6" opacity="0.85"/><path d="M138.50,604.00v5M143.50,604.00v5M147.50,604.00v5M156.50,609.00v5M165.50,609.00v5M170.50,609.00v5M174.50,609.00v5M180.50,609.00v5" stroke="#3434e0" stroke-width="0.6" opacity="0.85"/><path d="M173.50,603.00v5M194.50,619.00v5M212.50,619.00v5M224.50,619.00v5" stroke="#30a6a2" stroke-width="0.6" opacity="0.85"/><path d="M129.50,612.00v5M139.50,612.00v5M142.50,612.00v5M145.50,612.00v5M148.50,612.00v5M154.50,612.00v5M161.50,613.00v5M165.50,619.00v5M186.50,656.00v5M199.50,656.00v5M206.50,656.00v5M236.50,656.00v5" stroke="#f25266" stroke-width="0.6" opacity="0.85"/>
<rect x="59.5" y="676.4" width="32.3" height="30.9" fill="#fff" stroke="#eeeeee" stroke-width="0.5"/><line x1="60.9" y1="681.40" x2="74.10" y2="681.40" stroke="#30a6a2" stroke-width="1.2"/><text x="78.20" y="682.90" font-size="4.4" fill="#8a8a8a">IE/M</text><line x1="60.9" y1="687.25" x2="74.10" y2="687.25" stroke="#3434e0" stroke-width="1.2"/><text x="78.20" y="688.75" font-size="4.4" fill="#8a8a8a">IE/B</text><line x1="60.9" y1="693.10" x2="74.10" y2="693.10" stroke="#f25266" stroke-width="1.2"/><text x="78.20" y="694.60" font-size="4.4" fill="#8a8a8a">F</text><line x1="60.9" y1="698.95" x2="74.10" y2="698.95" stroke="#ffa840" stroke-width="1.2"/><text x="78.20" y="700.45" font-size="4.4" fill="#8a8a8a">D</text><line x1="60.9" y1="704.80" x2="74.10" y2="704.80" stroke="#28e6f4" stroke-width="1.2"/><text x="78.20" y="706.30" font-size="4.4" fill="#8a8a8a">IE/L</text>
<text x="137.50" y="729.80" font-size="6.6" fill="#777" textLength="21.50" lengthAdjust="spacingAndGlyphs">Months</text>
<text x="0.00" y="0.00" font-size="8" fill="#555" text-anchor="middle" transform="translate(33.6,645) rotate(-90)">OS, %</text>
<text x="366.40" y="565.10" font-size="7.7" fill="#111" font-weight="bold" textLength="126.00" lengthAdjust="spacingAndGlyphs">Patient prognosis by TME subtype</text>
<text x="366.40" y="574.10" font-size="7.7" fill="#111" font-weight="bold" textLength="117.20" lengthAdjust="spacingAndGlyphs">MGH cohort, OS, N=45, p = 0.09</text>
<rect x="336.7" y="578.2" width="180.70" height="131.10" fill="none" stroke="#d4d4d4" stroke-width="0.8"/><path d="M336.7,578.2V709.3H517.4" fill="none" stroke="#bdbdbd" stroke-width="0.9"/><text x="331.30" y="710.90" font-size="4.1" fill="#888" text-anchor="end">0%</text><text x="331.30" y="685.90" font-size="4.1" fill="#888" text-anchor="end">20%</text><text x="331.30" y="660.90" font-size="4.1" fill="#888" text-anchor="end">40%</text><text x="331.30" y="635.90" font-size="4.1" fill="#888" text-anchor="end">60%</text><text x="331.30" y="610.90" font-size="4.1" fill="#888" text-anchor="end">80%</text><text x="331.30" y="585.90" font-size="4.1" fill="#888" text-anchor="end">100%</text><text x="345.10" y="718.60" font-size="6.6" fill="#777" text-anchor="middle">0</text><text x="370.42" y="718.60" font-size="6.6" fill="#777" text-anchor="middle">10</text><text x="395.74" y="718.60" font-size="6.6" fill="#777" text-anchor="middle">20</text><text x="421.06" y="718.60" font-size="6.6" fill="#777" text-anchor="middle">30</text><text x="446.38" y="718.60" font-size="6.6" fill="#777" text-anchor="middle">40</text><text x="471.70" y="718.60" font-size="6.6" fill="#777" text-anchor="middle">50</text><text x="497.02" y="718.60" font-size="6.6" fill="#777" text-anchor="middle">60</text>
<path d="M345.50,583.50H354.50V594.50H375.50V605.50H478.50V657.50H498.50V657.50" fill="none" stroke="#f25266" stroke-width="0.85"/><path d="M345.50,583.50H408.50V583.50" fill="none" stroke="#30a6a2" stroke-width="0.85"/><path d="M345.50,583.50H421.50V583.50" fill="none" stroke="#3434e0" stroke-width="0.85"/><path d="M345.50,583.50H498.50V583.50" fill="none" stroke="#ffa840" stroke-width="0.85"/><path d="M345.50,583.50H437.50V583.50" fill="none" stroke="#28e6f4" stroke-width="0.85"/><path d="M372.50,581.00v5M375.50,581.00v5M388.50,581.00v5M402.50,581.00v5M442.50,581.00v5M461.50,581.00v5M476.50,581.00v5M484.50,581.00v5M491.50,581.00v5M497.50,581.00v5" stroke="#ffa840" stroke-width="0.6" opacity="0.85"/><path d="M395.50,581.00v5M400.50,581.00v5M418.50,581.00v5M422.50,581.00v5M424.50,581.00v5M428.50,581.00v5M432.50,581.00v5" stroke="#28e6f4" stroke-width="0.6" opacity="0.85"/><path d="M409.50,581.00v5M436.50,581.00v5M448.50,581.00v5M464.50,581.00v5M474.50,581.00v5" stroke="#3434e0" stroke-width="0.6" opacity="0.85"/><path d="M402.50,581.00v5M403.50,581.00v5" stroke="#30a6a2" stroke-width="0.6" opacity="0.85"/><path d="M372.50,592.00v5M408.50,603.00v5M423.50,603.00v5M429.50,603.00v5M442.50,603.00v5M461.50,603.00v5M474.50,603.00v5M497.50,655.00v5" stroke="#f25266" stroke-width="0.6" opacity="0.85"/>
<rect x="340.4" y="673.5" width="33.8" height="32.8" fill="#fff" stroke="#eeeeee" stroke-width="0.5"/><line x1="342.5" y1="678.30" x2="355.70" y2="678.30" stroke="#30a6a2" stroke-width="1.2"/><text x="359.80" y="679.80" font-size="4.4" fill="#8a8a8a">IE/M</text><line x1="342.5" y1="684.40" x2="355.70" y2="684.40" stroke="#3434e0" stroke-width="1.2"/><text x="359.80" y="685.90" font-size="4.4" fill="#8a8a8a">IE/B</text><line x1="342.5" y1="690.50" x2="355.70" y2="690.50" stroke="#f25266" stroke-width="1.2"/><text x="359.80" y="692.00" font-size="4.4" fill="#8a8a8a">F</text><line x1="342.5" y1="696.60" x2="355.70" y2="696.60" stroke="#ffa840" stroke-width="1.2"/><text x="359.80" y="698.10" font-size="4.4" fill="#8a8a8a">D</text><line x1="342.5" y1="702.70" x2="355.70" y2="702.70" stroke="#28e6f4" stroke-width="1.2"/><text x="359.80" y="704.20" font-size="4.4" fill="#8a8a8a">IE/L</text>
<text x="419.00" y="730.00" font-size="6.6" fill="#777" textLength="20.00" lengthAdjust="spacingAndGlyphs">Months</text>
<text x="0.00" y="0.00" font-size="8" fill="#555" text-anchor="middle" transform="translate(313.8,646.5) rotate(-90)">OS, %</text>
</svg></body></html>
